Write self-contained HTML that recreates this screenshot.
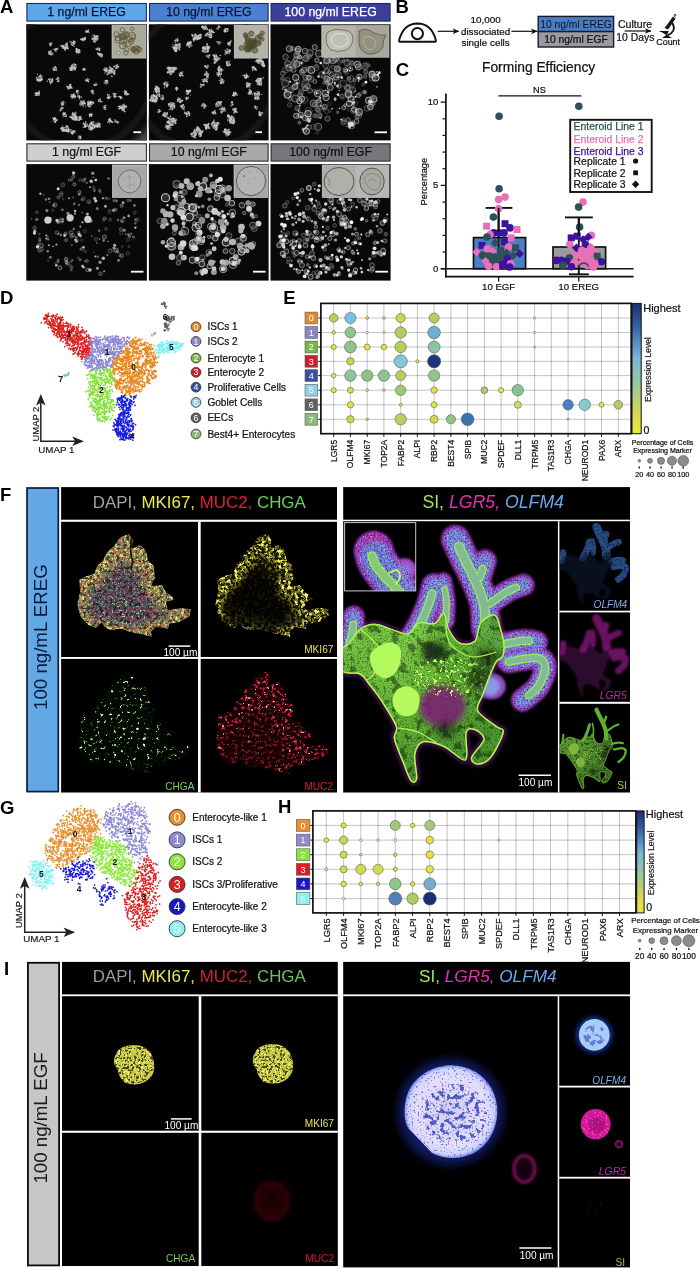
<!DOCTYPE html>
<html lang="en"><head><meta charset="utf-8"><title>Figure</title>
<style>html,body{margin:0;padding:0;background:#fff}svg{display:block;font-family:"Liberation Sans",Arial,sans-serif}</style></head>
<body>
<svg width="700" height="1268" viewBox="0 0 700 1268">
<defs>
<radialGradient id="well" cx="50%" cy="50%" r="62%"><stop offset="0" stop-color="#0b0b0b"/><stop offset=".8" stop-color="#0a0a0a"/><stop offset="1" stop-color="#050505"/></radialGradient>
<filter id="b03"><feGaussianBlur stdDeviation=".3"/></filter>
<filter id="b05"><feGaussianBlur stdDeviation=".5"/></filter>
<filter id="b08"><feGaussianBlur stdDeviation=".8"/></filter>
<filter id="b1"><feGaussianBlur stdDeviation="1"/></filter>
<filter id="b2"><feGaussianBlur stdDeviation="2"/></filter>
<filter id="b3"><feGaussianBlur stdDeviation="3"/></filter>
<filter id="b5"><feGaussianBlur stdDeviation="5"/></filter>
<filter id="mott" x="-2%" y="-2%" width="104%" height="104%" color-interpolation-filters="sRGB"><feGaussianBlur in="SourceGraphic" stdDeviation=".3" result="g"/><feTurbulence type="fractalNoise" baseFrequency=".4" numOctaves="2" seed="5" result="n"/><feColorMatrix in="n" type="matrix" values="0 0 0 0 .25  0 0 0 0 .25  0 0 0 0 .25  2.4 0 0 0 -1.05" result="s"/><feComposite in="s" in2="g" operator="in" result="d"/><feMerge><feMergeNode in="g"/><feMergeNode in="d"/></feMerge></filter>
<clipPath id="clipA0"><rect x="26.3" y="24.1" width="120.1" height="116.4"/></clipPath>
<clipPath id="clipA1"><rect x="148.6" y="24.1" width="119.5" height="116.4"/></clipPath>
<marker id="ah" viewBox="0 0 10 10" refX="9" refY="5" markerWidth="6.6" markerHeight="6.6" markerUnits="userSpaceOnUse" orient="auto"><path d="M0 0.6 L10 5 L0 9.4 L2.6 5Z" fill="#111"/></marker>
<linearGradient id="cbar" x1="0" y1="0" x2="0" y2="1"><stop offset="0" stop-color="#1b2f6e"/><stop offset=".2" stop-color="#3a68ad"/><stop offset=".42" stop-color="#78b8d6"/><stop offset=".62" stop-color="#9ac7a0"/><stop offset=".82" stop-color="#cdd75a"/><stop offset="1" stop-color="#f6e634"/></linearGradient>
<path id="tisF" d="M120 537 L129 534 L133 540 L132 548 L140 545 L146 550 L148 560 L154 566 L155 578 L151 586 L162 585 L166 592 L172 596 L174 600 L166 602 L168 610 L180 608 L191 609 L190 616 L180 622 L169 624 L168 629 L156 627 L151 632 L152 637 L144 635 L130 632 L122 629 L110 630 L104 627 L102 622 L96 628 L88 625 L80 616 L77 604 L80 592 L79 580 L86 576 L94 574 L97 566 L103 560 L107 552 L114 546Z" stroke-linejoin="round"/>
<clipPath id="clipTis"><use href="#tisF"/></clipPath>
<filter id="spY" x="-6%" y="-6%" width="112%" height="112%" color-interpolation-filters="sRGB"><feTurbulence type="fractalNoise" baseFrequency="0.33" numOctaves="3" seed="3" result="n"/><feColorMatrix in="n" type="matrix" values="0 0 0 0 0.886  0 0 0 0 0.855  0 0 0 0 0.431  14 0 0 0 -7.77" result="s"/><feComposite in="s" in2="SourceGraphic" operator="in"/></filter>
<filter id="spYm" x="-6%" y="-6%" width="112%" height="112%" color-interpolation-filters="sRGB"><feTurbulence type="fractalNoise" baseFrequency="0.3" numOctaves="3" seed="3" result="n"/><feColorMatrix in="n" type="matrix" values="0 0 0 0 0.804  0 0 0 0 0.784  0 0 0 0 0.243  14 0 0 0 -7.56" result="s"/><feComposite in="s" in2="SourceGraphic" operator="in"/></filter>
<filter id="spYhi" x="-6%" y="-6%" width="112%" height="112%" color-interpolation-filters="sRGB"><feTurbulence type="fractalNoise" baseFrequency="0.3" numOctaves="3" seed="3" result="n"/><feColorMatrix in="n" type="matrix" values="0 0 0 0 0.980  0 0 0 0 0.980  0 0 0 0 0.588  14 0 0 0 -9.24" result="s"/><feComposite in="s" in2="SourceGraphic" operator="in"/></filter>
<filter id="spYd" x="-6%" y="-6%" width="112%" height="112%" color-interpolation-filters="sRGB"><feTurbulence type="fractalNoise" baseFrequency="0.3" numOctaves="3" seed="8" result="n"/><feColorMatrix in="n" type="matrix" values="0 0 0 0 0.471  0 0 0 0 0.455  0 0 0 0 0.118  0 14 0 0 -7.00" result="s"/><feComposite in="s" in2="SourceGraphic" operator="in"/></filter>
<filter id="spYs" x="-6%" y="-6%" width="112%" height="112%" color-interpolation-filters="sRGB"><feTurbulence type="fractalNoise" baseFrequency="0.3" numOctaves="3" seed="28" result="n"/><feColorMatrix in="n" type="matrix" values="0 0 0 0 0.431  0 0 0 0 0.416  0 0 0 0 0.110  0 0 14 0 -8.40" result="s"/><feComposite in="s" in2="SourceGraphic" operator="in"/></filter>
<filter id="spR" x="-6%" y="-6%" width="112%" height="112%" color-interpolation-filters="sRGB"><feTurbulence type="fractalNoise" baseFrequency="0.4" numOctaves="3" seed="5" result="n"/><feColorMatrix in="n" type="matrix" values="0 0 0 0 0.784  0 0 0 0 0.157  0 0 0 0 0.196  0 14 0 0 -8.47" result="s"/><feComposite in="s" in2="SourceGraphic" operator="in"/></filter>
<filter id="spRm" x="-6%" y="-6%" width="112%" height="112%" color-interpolation-filters="sRGB"><feTurbulence type="fractalNoise" baseFrequency="0.3" numOctaves="3" seed="15" result="n"/><feColorMatrix in="n" type="matrix" values="0 0 0 0 0.769  0 0 0 0 0.125  0 0 0 0 0.180  0 0 14 0 -8.51" result="s"/><feComposite in="s" in2="SourceGraphic" operator="in"/></filter>
<filter id="spRd" x="-6%" y="-6%" width="112%" height="112%" color-interpolation-filters="sRGB"><feTurbulence type="fractalNoise" baseFrequency="0.3" numOctaves="3" seed="15" result="n"/><feColorMatrix in="n" type="matrix" values="0 0 0 0 0.471  0 0 0 0 0.055  0 0 0 0 0.102  0 0 14 0 -7.49" result="s"/><feComposite in="s" in2="SourceGraphic" operator="in"/></filter>
<filter id="spRp" x="-6%" y="-6%" width="112%" height="112%" color-interpolation-filters="sRGB"><feTurbulence type="fractalNoise" baseFrequency="0.32" numOctaves="3" seed="15" result="n"/><feColorMatrix in="n" type="matrix" values="0 0 0 0 1.000  0 0 0 0 0.745  0 0 0 0 0.765  0 0 14 0 -9.80" result="s"/><feComposite in="s" in2="SourceGraphic" operator="in"/></filter>
<filter id="spG" x="-6%" y="-6%" width="112%" height="112%" color-interpolation-filters="sRGB"><feTurbulence type="fractalNoise" baseFrequency="0.3" numOctaves="3" seed="9" result="n"/><feColorMatrix in="n" type="matrix" values="0 0 0 0 0.275  0 0 0 0 0.549  0 0 0 0 0.173  0 0 14 0 -8.82" result="s"/><feComposite in="s" in2="SourceGraphic" operator="in"/></filter>
<filter id="spGs" x="-6%" y="-6%" width="112%" height="112%" color-interpolation-filters="sRGB"><feTurbulence type="fractalNoise" baseFrequency="0.3" numOctaves="3" seed="9" result="n"/><feColorMatrix in="n" type="matrix" values="0 0 0 0 0.588  0 0 0 0 0.941  0 0 0 0 0.392  0 0 14 0 -9.66" result="s"/><feComposite in="s" in2="SourceGraphic" operator="in"/></filter>
<filter id="spGw" x="-6%" y="-6%" width="112%" height="112%" color-interpolation-filters="sRGB"><feTurbulence type="fractalNoise" baseFrequency="0.3" numOctaves="3" seed="9" result="n"/><feColorMatrix in="n" type="matrix" values="0 0 0 0 0.922  0 0 0 0 1.000  0 0 0 0 0.882  0 0 14 0 -10.43" result="s"/><feComposite in="s" in2="SourceGraphic" operator="in"/></filter>
<filter id="spGc" x="-6%" y="-6%" width="112%" height="112%" color-interpolation-filters="sRGB"><feTurbulence type="fractalNoise" baseFrequency="0.32" numOctaves="3" seed="21" result="n"/><feColorMatrix in="n" type="matrix" values="0 0 0 0 0.510  0 0 0 0 0.902  0 0 0 0 0.353  0 14 0 0 -9.80" result="s"/><feComposite in="s" in2="SourceGraphic" operator="in"/></filter>
<filter id="spW" x="-6%" y="-6%" width="112%" height="112%" color-interpolation-filters="sRGB"><feTurbulence type="fractalNoise" baseFrequency="0.5" numOctaves="3" seed="12" result="n"/><feColorMatrix in="n" type="matrix" values="0 0 0 0 0.922  0 0 0 0 0.922  0 0 0 0 0.843  14 0 0 0 -9.38" result="s"/><feComposite in="s" in2="SourceGraphic" operator="in"/></filter>
<filter id="spGray" x="-6%" y="-6%" width="112%" height="112%" color-interpolation-filters="sRGB"><feTurbulence type="fractalNoise" baseFrequency="0.5" numOctaves="3" seed="2" result="n"/><feColorMatrix in="n" type="matrix" values="0 0 0 0 0.588  0 0 0 0 0.588  0 0 0 0 0.659  0 0 14 0 -7.70" result="s"/><feComposite in="s" in2="SourceGraphic" operator="in"/></filter>
<filter id="spDark" x="-6%" y="-6%" width="112%" height="112%" color-interpolation-filters="sRGB"><feTurbulence type="fractalNoise" baseFrequency="0.3" numOctaves="3" seed="4" result="n"/><feColorMatrix in="n" type="matrix" values="0 0 0 0 0.000  0 0 0 0 0.000  0 0 0 0 0.000  0 14 0 0 -7.84" result="s"/><feComposite in="s" in2="SourceGraphic" operator="in"/></filter>
<path id="coreF" d="M118.7 562.3 L125.3 560.3 L128.3 564.2 L127.5 569.5 L133.5 567.5 L137.9 570.8 L139.4 577.4 L143.8 581.4 L144.6 589.3 L141.6 594.6 L149.7 593.9 L152.7 598.6 L157.1 601.2 L158.6 603.8 L152.7 605.2 L154.2 610.4 L163.1 609.1 L171.2 609.8 L170.5 614.4 L163.1 618.4 L154.9 619.7 L154.2 623 L145.3 621.7 L141.6 625 L142.3 628.3 L136.4 626.9 L126.1 625 L120.1 623 L111.3 623.6 L106.8 621.7 L105.3 618.4 L100.9 622.3 L95 620.3 L89.1 614.4 L86.8 606.5 L89.1 598.6 L88.3 590.6 L93.5 588 L99.4 586.7 L101.6 581.4 L106.1 577.4 L109 572.2 L114.2 568.2Z"/>
<filter id="o05" filterUnits="userSpaceOnUse" x="338" y="517" width="226" height="280"><feGaussianBlur stdDeviation="0.5"/></filter>
<filter id="o1" filterUnits="userSpaceOnUse" x="338" y="517" width="226" height="280"><feGaussianBlur stdDeviation="1"/></filter>
<filter id="o15" filterUnits="userSpaceOnUse" x="338" y="517" width="226" height="280"><feGaussianBlur stdDeviation="1.5"/></filter>
<filter id="o2" filterUnits="userSpaceOnUse" x="338" y="517" width="226" height="280"><feGaussianBlur stdDeviation="2"/></filter>
<filter id="o3" filterUnits="userSpaceOnUse" x="338" y="517" width="226" height="280"><feGaussianBlur stdDeviation="3"/></filter>
<filter id="o4" filterUnits="userSpaceOnUse" x="338" y="517" width="226" height="280"><feGaussianBlur stdDeviation="4"/></filter>
<path id="fgA" d="M455.6 539.5C457 542.6 460.8 550.8 464.2 558C467.7 565.2 473 575 476.3 582.7C479.6 590.4 482.4 596.9 484 604.3C485.5 611.8 485.3 623.6 485.5 627.5" fill="none" stroke-linecap="round" stroke-linejoin="round"/>
<path id="fgAk" d="M485.2 561.1C484.3 563.8 480.8 574.5 480 577.2" fill="none" stroke-linecap="round" stroke-linejoin="round"/>
<path id="fgC" d="M523.5 584.9C521 585.9 514.3 587.6 508.7 590.8C503 593.9 492.7 601.6 489.5 603.7" fill="none" stroke-linecap="round" stroke-linejoin="round"/>
<path id="fgB" d="M434 585.8C433.2 588.6 431.4 596.9 429.3 602.8C427.3 608.7 424.2 616 421.6 621.3C419.1 626.6 415.5 632.4 414.2 634.6" fill="none" stroke-linecap="round" stroke-linejoin="round"/>
<path id="fgB2" d="M443.2 581.5C443.7 584.8 445.9 594.8 446.3 601.2C446.7 607.7 445.8 617.2 445.7 620.4" fill="none" stroke-linecap="round" stroke-linejoin="round"/>
<path id="fgF" d="M353.7 616.7C353.6 618.7 353.5 624.5 352.8 629C352.1 633.6 350 641.4 349.4 643.8" fill="none" stroke-linecap="round" stroke-linejoin="round"/>
<path id="fgD" d="M536.4 642.3C534.4 642 529.8 640.4 524.1 640.8C518.4 641.1 506.1 643.8 502.5 644.5" fill="none" stroke-linecap="round" stroke-linejoin="round"/>
<path id="fgE" d="M522.6 700.2C525.2 697.9 534.5 691.9 538.3 686.3C542.1 680.7 545.4 671.3 545.1 666.5C544.8 661.8 542.5 658.7 536.4 657.9C530.4 657.1 513.3 661 508.7 661.6" fill="none" stroke-linecap="round" stroke-linejoin="round"/>
<path id="orgBody" d="M342 649.1C343 644.7 345.1 647.8 348.2 644.5C351.3 641.1 355.9 632.4 360.5 629C365.1 625.7 370.3 624.1 376 624.4C381.6 624.7 389.1 629 394.5 630.6C399.9 632.1 404.2 634.9 408.4 633.7C412.5 632.4 414.8 624.5 419.2 622.9C423.5 621.2 430.5 625 434.6 623.5C438.7 621.9 441.5 612.7 443.9 613.6C446.2 614.5 445.9 624.1 448.5 629C451.1 633.9 454.9 640.9 459.3 642.9C463.7 645 471.1 644.7 474.7 641.4C478.3 638 477.5 627.2 480.9 622.9C484.2 618.5 491.4 613.8 494.8 615.1C498.1 616.4 499.4 625.4 501 630.6C502.5 635.7 503.8 641.6 504 646C504.3 650.4 503.8 654.2 502.5 656.8C501.2 659.4 498.6 658 496.3 661.6C494 665.2 490.9 672.9 488.6 678.6C486.3 684.2 484.2 690.2 482.4 695.6C480.6 701 475.5 705.8 477.8 711C480.1 716.1 492.1 722.8 496.3 726.4C500.5 730 504 727.4 503.1 732.6C502.2 737.7 495 752 490.8 757.3C486.5 762.5 481 764.1 477.8 764.1C474.6 764.1 470.6 761.4 471.6 757.3C472.7 753.2 483.5 744 484 739.4C484.5 734.8 477.7 730.6 474.7 729.5C471.7 728.4 467.6 727.6 466.1 732.6C464.5 737.6 469.2 757.4 465.5 759.8C461.8 762.1 451 749.5 443.9 746.5C436.8 743.5 427.7 740.6 422.9 741.9C418 743.1 415.9 748.1 414.8 754.2C413.8 760.3 417.3 773.8 416.7 778.3C416.1 782.7 413.3 783.2 411.1 780.7C409 778.3 406.5 770.5 403.7 763.5C401 756.5 395.7 744.9 394.5 738.8C393.2 732.6 398.4 732.6 396.3 726.4C394.3 720.2 386.5 708.6 382.1 701.7C377.7 694.8 373.5 689.7 369.8 685.1C366.1 680.4 364.5 676.3 359.9 674C355.3 671.6 345 675 342 670.9C339 666.7 341 653.5 342 649.1Z" stroke-linejoin="round"/>
<g id="orgBlobs"><path d="M371.3 652.3C373.9 647.9 383.4 643 388.3 642.5C393.2 642 399.1 644.8 400.6 649.3C402.2 653.7 400.1 664.4 397.6 669.3C395 674.2 389.3 678.6 385.2 678.6C381.1 678.6 375.2 673.7 372.9 669.3C370.5 664.9 368.7 656.8 371.3 652.3Z"/><path d="M396 690.9C398.6 687.8 404.5 685.5 408.4 686.3C412.2 687.1 417.9 691.2 419.2 695.6C420.4 699.9 418.9 709.2 416.1 712.5C413.2 715.9 406 716.9 402.2 715.6C398.3 714.3 394 708.9 392.9 704.8C391.9 700.7 393.4 694 396 690.9Z"/></g>
<clipPath id="clipFmain"><rect x="343.2" y="521.2" width="214.7" height="271.3"/></clipPath>
<clipPath id="clipBody"><use href="#orgBody"/></clipPath>
<radialGradient id="bodyG" gradientUnits="userSpaceOnUse" cx="392" cy="655" r="120"><stop offset="0" stop-color="#8adf48"/><stop offset=".45" stop-color="#6fc838"/><stop offset="1" stop-color="#55a52e"/></radialGradient>
<filter id="spGb" filterUnits="userSpaceOnUse" x="338" y="517" width="226" height="280" color-interpolation-filters="sRGB"><feTurbulence type="fractalNoise" baseFrequency="0.3" numOctaves="3" seed="31" result="n"/><feColorMatrix in="n" type="matrix" values="0 0 0 0 0.784  0 0 0 0 1.000  0 0 0 0 0.431  14 0 0 0 -8.40" result="s"/><feComposite in="s" in2="SourceGraphic" operator="in"/></filter>
<filter id="spTex" filterUnits="userSpaceOnUse" x="338" y="517" width="226" height="280" color-interpolation-filters="sRGB"><feTurbulence type="fractalNoise" baseFrequency="0.7" numOctaves="3" seed="17" result="n"/><feColorMatrix in="n" type="matrix" values="0 0 0 0 0.039  0 0 0 0 0.000  0 0 0 0 0.196  6 0 0 0 -3.18" result="s"/><feComposite in="s" in2="SourceGraphic" operator="in"/></filter>
<filter id="spLite" filterUnits="userSpaceOnUse" x="338" y="517" width="226" height="280" color-interpolation-filters="sRGB"><feTurbulence type="fractalNoise" baseFrequency="0.55" numOctaves="3" seed="19" result="n"/><feColorMatrix in="n" type="matrix" values="0 0 0 0 0.784  0 0 0 0 0.804  0 0 0 0 1.000  0 8 0 0 -4.48" result="s"/><feComposite in="s" in2="SourceGraphic" operator="in"/></filter>
<filter id="spDk2" filterUnits="userSpaceOnUse" x="338" y="517" width="226" height="280" color-interpolation-filters="sRGB"><feTurbulence type="fractalNoise" baseFrequency="0.12" numOctaves="3" seed="23" result="n"/><feColorMatrix in="n" type="matrix" values="0 0 0 0 0.000  0 0 0 0 0.039  0 0 0 0 0.000  0 0 8 0 -4.40" result="s"/><feComposite in="s" in2="SourceGraphic" operator="in"/></filter>
<clipPath id="clipFin"><rect x="344.6" y="522.6" width="71.1" height="68.3"/></clipPath>
<clipPath id="clipFs0"><rect x="559.4" y="521.2" width="70.6" height="89.5"/></clipPath>
<clipPath id="clipFs1"><rect x="559.4" y="612.4" width="70.6" height="89.4"/></clipPath>
<clipPath id="clipFs2"><rect x="559.4" y="703.8" width="70.6" height="88.7"/></clipPath>
<filter id="spK" x="-6%" y="-6%" width="112%" height="112%" color-interpolation-filters="sRGB"><feTurbulence type="fractalNoise" baseFrequency="0.45" numOctaves="3" seed="41" result="n"/><feColorMatrix in="n" type="matrix" values="0 0 0 0 0.094  0 0 0 0 0.094  0 0 0 0 0.000  10 0 0 0 -5.30" result="s"/><feComposite in="s" in2="SourceGraphic" operator="in"/></filter>
<filter id="spYb" x="-6%" y="-6%" width="112%" height="112%" color-interpolation-filters="sRGB"><feTurbulence type="fractalNoise" baseFrequency="0.5" numOctaves="3" seed="43" result="n"/><feColorMatrix in="n" type="matrix" values="0 0 0 0 1.000  0 0 0 0 1.000  0 0 0 0 0.588  0 10 0 0 -5.70" result="s"/><feComposite in="s" in2="SourceGraphic" operator="in"/></filter>
<path id="blobI" d="M-15 -13 Q-6 -20 6 -17 Q17 -13 18 0 Q19 11 9 16 Q0 20 -9 16 Q-14 12 -15 5 Q-20 0 -18 -7Z"/>
<filter id="spBlue" x="-6%" y="-6%" width="112%" height="112%" color-interpolation-filters="sRGB"><feTurbulence type="fractalNoise" baseFrequency="0.2" numOctaves="3" seed="51" result="n"/><feColorMatrix in="n" type="matrix" values="0 0 0 0 0.251  0 0 0 0 0.329  0 0 0 0 0.745  10 0 0 0 -5.35" result="s"/><feComposite in="s" in2="SourceGraphic" operator="in"/></filter>
<filter id="spBlueS" x="-6%" y="-6%" width="112%" height="112%" color-interpolation-filters="sRGB"><feTurbulence type="fractalNoise" baseFrequency="0.2" numOctaves="3" seed="51" result="n"/><feColorMatrix in="n" type="matrix" values="0 0 0 0 0.275  0 0 0 0 0.353  0 0 0 0 0.784  10 0 0 0 -5.00" result="s"/><feComposite in="s" in2="SourceGraphic" operator="in"/></filter>
<filter id="spBlue2" x="-6%" y="-6%" width="112%" height="112%" color-interpolation-filters="sRGB"><feTurbulence type="fractalNoise" baseFrequency="0.5" numOctaves="3" seed="57" result="n"/><feColorMatrix in="n" type="matrix" values="0 0 0 0 0.157  0 0 0 0 0.235  0 0 0 0 0.667  0 9 0 0 -5.40" result="s"/><feComposite in="s" in2="SourceGraphic" operator="in"/></filter>
<radialGradient id="sphG" cx="50%" cy="50%" r="50%"><stop offset="0" stop-color="#d4cef8"/><stop offset=".75" stop-color="#e6defe"/><stop offset=".93" stop-color="#cfd2ff"/><stop offset="1" stop-color="#7f8fe8"/></radialGradient>
<path id="sphI" d="M404.6 1110 Q405 1084 428 1071 Q452 1059 476 1072 Q497 1086 497.4 1112 Q496 1140 474 1153 Q452 1163 432 1153 Q420 1140 408 1128 Q404 1120 404.6 1110Z"/>
<filter id="spMag" x="-6%" y="-6%" width="112%" height="112%" color-interpolation-filters="sRGB"><feTurbulence type="fractalNoise" baseFrequency="0.5" numOctaves="3" seed="61" result="n"/><feColorMatrix in="n" type="matrix" values="0 0 0 0 0.980  0 0 0 0 0.353  0 0 0 0 0.784  9 0 0 0 -5.04" result="s"/><feComposite in="s" in2="SourceGraphic" operator="in"/></filter>
</defs>
<rect width="700" height="1268" fill="#fff"/>
<g id="panelA">
<text x="0" y="13.3" font-size="18.5" fill="#000" font-weight="bold">A</text>
<rect x="26.9" y="3.5" width="119.5" height="17.6" fill="#5ea6ea" stroke="#1c2a55" stroke-width="1.1"/>
<text x="86.6" y="16.4" font-size="12.3" fill="#0b1430" text-anchor="middle" stroke="#0b1430" stroke-width=".25">1 ng/ml EREG</text>
<rect x="26.9" y="143.8" width="119.5" height="17.3" fill="#cfcfcf" stroke="#2c2c2c" stroke-width="1.1"/>
<text x="86.6" y="156.3" font-size="12.3" fill="#111" text-anchor="middle" stroke="#111" stroke-width=".22">1 ng/ml EGF</text>
<rect x="149.5" y="3.5" width="118.6" height="17.6" fill="#4a80cf" stroke="#1c2a55" stroke-width="1.1"/>
<text x="208.8" y="16.4" font-size="12.3" fill="#0b1430" text-anchor="middle" stroke="#0b1430" stroke-width=".25">10 ng/ml EREG</text>
<rect x="149.5" y="143.8" width="118.6" height="17.3" fill="#a9a9ab" stroke="#2c2c2c" stroke-width="1.1"/>
<text x="208.8" y="156.3" font-size="12.3" fill="#111" text-anchor="middle" stroke="#111" stroke-width=".22">10 ng/ml EGF</text>
<rect x="271.1" y="3.5" width="119" height="17.6" fill="#3a3f9a" stroke="#1c2a55" stroke-width="1.1"/>
<text x="330.6" y="16.4" font-size="12.3" fill="#fff" text-anchor="middle" stroke="#fff" stroke-width=".25">100 ng/ml EREG</text>
<rect x="271.1" y="143.8" width="119" height="17.3" fill="#77777b" stroke="#2c2c2c" stroke-width="1.1"/>
<text x="330.6" y="156.3" font-size="12.3" fill="#111" text-anchor="middle" stroke="#111" stroke-width=".22">100 ng/ml EGF</text>
<rect x="26.3" y="24.3" width="120.6" height="116.1" fill="#090909"/>
<rect x="26.3" y="164.1" width="120.6" height="116.5" fill="#090909"/>
<rect x="148.9" y="24.3" width="119.7" height="116.1" fill="#090909"/>
<rect x="148.9" y="164.1" width="119.7" height="116.5" fill="#090909"/>
<rect x="270.5" y="24.3" width="120.1" height="116.1" fill="#090909"/>
<rect x="270.5" y="164.1" width="120.1" height="116.5" fill="#090909"/>
<g clip-path="url(#clipA0)"><circle cx="80" cy="76" r="72" fill="none" stroke="#1d1d1d" stroke-width="5" filter="url(#b2)"/><circle cx="76" cy="72" r="98" fill="none" stroke="#4a4a4a" stroke-width="16" filter="url(#b3)"/></g>
<g clip-path="url(#clipA1)"><circle cx="204" cy="80" r="70" fill="none" stroke="#1b1b1b" stroke-width="5" filter="url(#b2)"/></g>
<g fill="#c6c6c6" filter="url(#mott)">
<ellipse cx="87.1" cy="31.3" rx="1.86" ry="0.69" transform="rotate(27 87.1 31.3)"/><ellipse cx="87" cy="31.5" rx="1.76" ry="0.55" transform="rotate(10 87 31.5)"/><ellipse cx="86.1" cy="32.1" rx="1.43" ry="0.62" transform="rotate(16 86.1 32.1)"/><ellipse cx="88" cy="31.2" rx="1.72" ry="0.98" transform="rotate(112 88 31.2)"/><circle cx="89.5" cy="32.2" r="0.52"/><circle cx="88.2" cy="32.7" r="0.52"/>
<ellipse cx="95.9" cy="40" rx="3.52" ry="1.24" transform="rotate(146 95.9 40)"/><ellipse cx="95.6" cy="38.7" rx="2.70" ry="1.50" transform="rotate(98 95.6 38.7)"/><ellipse cx="94.6" cy="40" rx="3.17" ry="1.18" transform="rotate(76 94.6 40)"/><ellipse cx="94.9" cy="37.7" rx="3.40" ry="1.37" transform="rotate(142 94.9 37.7)"/><ellipse cx="95.1" cy="37.6" rx="4.16" ry="1.02" transform="rotate(157 95.1 37.6)"/><ellipse cx="95.2" cy="37.9" rx="3.23" ry="0.96" transform="rotate(75 95.2 37.9)"/><circle cx="93.2" cy="35" r="0.63"/><circle cx="97.5" cy="36.3" r="0.68"/><circle cx="92.1" cy="36.5" r="0.58"/>
<ellipse cx="81.9" cy="39.3" rx="1.69" ry="1.05" transform="rotate(170 81.9 39.3)"/><ellipse cx="84.7" cy="39.1" rx="1.98" ry="0.87" transform="rotate(116 84.7 39.1)"/><ellipse cx="84" cy="39.3" rx="1.83" ry="0.71" transform="rotate(120 84 39.3)"/><ellipse cx="83.2" cy="38.7" rx="1.93" ry="0.87" transform="rotate(10 83.2 38.7)"/><ellipse cx="83.9" cy="39.6" rx="2.33" ry="1.16" transform="rotate(156 83.9 39.6)"/><ellipse cx="83.6" cy="38.6" rx="2.15" ry="0.85" transform="rotate(147 83.6 38.6)"/><circle cx="85.5" cy="37" r="0.46"/><circle cx="84.1" cy="41" r="0.49"/><circle cx="80.5" cy="39.4" r="0.51"/>
<ellipse cx="50.1" cy="44.7" rx="1.96" ry="0.72" transform="rotate(75 50.1 44.7)"/><ellipse cx="50" cy="43.6" rx="1.15" ry="0.80" transform="rotate(92 50 43.6)"/><ellipse cx="51.3" cy="43.4" rx="1.46" ry="0.60" transform="rotate(140 51.3 43.4)"/><ellipse cx="50.5" cy="44" rx="1.16" ry="0.52" transform="rotate(18 50.5 44)"/><circle cx="51.4" cy="45.5" r="0.42"/><circle cx="52" cy="44.1" r="0.44"/>
<ellipse cx="66.9" cy="46.4" rx="3.47" ry="1.05" transform="rotate(65 66.9 46.4)"/><ellipse cx="63.9" cy="46.9" rx="2.54" ry="1.64" transform="rotate(45 63.9 46.9)"/><ellipse cx="63.2" cy="46.3" rx="2.47" ry="1.01" transform="rotate(178 63.2 46.3)"/><ellipse cx="64.4" cy="48.2" rx="2.62" ry="0.94" transform="rotate(61 64.4 48.2)"/><ellipse cx="63.9" cy="45.9" rx="3.34" ry="0.95" transform="rotate(171 63.9 45.9)"/><ellipse cx="66.9" cy="45.7" rx="3.63" ry="1.14" transform="rotate(95 66.9 45.7)"/><circle cx="62.6" cy="48.1" r="0.71"/><circle cx="60.5" cy="45.2" r="0.53"/><circle cx="65.3" cy="50.2" r="0.79"/>
<ellipse cx="73.5" cy="42.5" rx="1.92" ry="0.95" transform="rotate(145 73.5 42.5)"/><ellipse cx="73.1" cy="43.8" rx="1.99" ry="0.80" transform="rotate(64 73.1 43.8)"/><ellipse cx="73.8" cy="43.5" rx="2.85" ry="1.23" transform="rotate(124 73.8 43.5)"/><ellipse cx="72.5" cy="44.2" rx="1.92" ry="0.76" transform="rotate(171 72.5 44.2)"/><ellipse cx="71.7" cy="42.5" rx="2.73" ry="0.93" transform="rotate(36 71.7 42.5)"/><ellipse cx="73" cy="43.4" rx="2.49" ry="1.18" transform="rotate(117 73 43.4)"/><circle cx="73.5" cy="41" r="0.59"/><circle cx="74.2" cy="46.4" r="0.53"/><circle cx="73.9" cy="40.7" r="0.56"/>
<ellipse cx="56.1" cy="49.3" rx="1.48" ry="0.61" transform="rotate(170 56.1 49.3)"/><ellipse cx="56.3" cy="49.4" rx="2.25" ry="1.02" transform="rotate(162 56.3 49.4)"/><ellipse cx="55.7" cy="50.4" rx="1.49" ry="0.54" transform="rotate(118 55.7 50.4)"/><ellipse cx="55.7" cy="49" rx="2.37" ry="0.75" transform="rotate(174 55.7 49)"/><circle cx="57.9" cy="47.9" r="0.48"/><circle cx="56.2" cy="51.5" r="0.50"/>
<ellipse cx="50.3" cy="53.6" rx="2.54" ry="0.77" transform="rotate(46 50.3 53.6)"/><ellipse cx="49.3" cy="52.6" rx="1.96" ry="1.07" transform="rotate(82 49.3 52.6)"/><ellipse cx="49.8" cy="53.2" rx="1.48" ry="0.81" transform="rotate(90 49.8 53.2)"/><ellipse cx="52" cy="53.5" rx="1.66" ry="0.83" transform="rotate(32 52 53.5)"/><ellipse cx="50" cy="53.2" rx="2.07" ry="0.88" transform="rotate(130 50 53.2)"/><ellipse cx="51.4" cy="54" rx="1.75" ry="0.73" transform="rotate(141 51.4 54)"/><circle cx="51" cy="51.2" r="0.62"/><circle cx="50.8" cy="50.6" r="0.58"/><circle cx="48.9" cy="52" r="0.60"/>
<ellipse cx="76.7" cy="50.5" rx="2.69" ry="0.99" transform="rotate(81 76.7 50.5)"/><ellipse cx="78.1" cy="50.4" rx="2.21" ry="1.13" transform="rotate(157 78.1 50.4)"/><ellipse cx="77.8" cy="50.9" rx="2.07" ry="0.65" transform="rotate(151 77.8 50.9)"/><ellipse cx="78.6" cy="51.2" rx="2.49" ry="1.10" transform="rotate(43 78.6 51.2)"/><ellipse cx="77.3" cy="49.5" rx="1.70" ry="1.10" transform="rotate(27 77.3 49.5)"/><ellipse cx="77.9" cy="52.5" rx="2.01" ry="0.88" transform="rotate(174 77.9 52.5)"/><circle cx="80.4" cy="50.5" r="0.46"/><circle cx="75.4" cy="51.6" r="0.54"/><circle cx="78.3" cy="52.6" r="0.69"/>
<ellipse cx="97.9" cy="48.8" rx="1.41" ry="0.70" transform="rotate(99 97.9 48.8)"/><ellipse cx="99.5" cy="49.4" rx="1.83" ry="0.84" transform="rotate(92 99.5 49.4)"/><ellipse cx="98" cy="48.9" rx="1.82" ry="0.55" transform="rotate(18 98 48.9)"/><ellipse cx="96.9" cy="49.4" rx="1.86" ry="0.55" transform="rotate(23 96.9 49.4)"/><circle cx="99.3" cy="50.5" r="0.63"/><circle cx="97.6" cy="47.5" r="0.42"/>
<ellipse cx="101.5" cy="55.2" rx="2.30" ry="1.05" transform="rotate(76 101.5 55.2)"/><ellipse cx="100" cy="54.1" rx="2.59" ry="0.86" transform="rotate(15 100 54.1)"/><ellipse cx="98.2" cy="53.8" rx="1.85" ry="0.68" transform="rotate(61 98.2 53.8)"/><ellipse cx="99.9" cy="54.7" rx="1.72" ry="0.63" transform="rotate(94 99.9 54.7)"/><ellipse cx="99.6" cy="55" rx="2.46" ry="0.77" transform="rotate(36 99.6 55)"/><ellipse cx="100.2" cy="55" rx="1.54" ry="0.74" transform="rotate(90 100.2 55)"/><circle cx="102.5" cy="54.6" r="0.62"/><circle cx="100.7" cy="56.5" r="0.77"/><circle cx="102" cy="56.1" r="0.57"/>
<ellipse cx="54.6" cy="69.2" rx="2.19" ry="1.06" transform="rotate(150 54.6 69.2)"/><ellipse cx="55.8" cy="67.7" rx="2.13" ry="0.77" transform="rotate(61 55.8 67.7)"/><ellipse cx="55.6" cy="68.8" rx="1.48" ry="0.94" transform="rotate(62 55.6 68.8)"/><ellipse cx="55.4" cy="68.9" rx="2.36" ry="1.00" transform="rotate(46 55.4 68.9)"/><ellipse cx="55.2" cy="69.2" rx="1.74" ry="0.79" transform="rotate(120 55.2 69.2)"/><ellipse cx="54.8" cy="68.8" rx="2.50" ry="1.05" transform="rotate(28 54.8 68.8)"/><circle cx="53.5" cy="68.1" r="0.79"/><circle cx="54.6" cy="70.5" r="0.40"/><circle cx="53.7" cy="70.1" r="0.60"/>
<ellipse cx="73.7" cy="67.9" rx="2.81" ry="1.00" transform="rotate(36 73.7 67.9)"/><ellipse cx="74.1" cy="68" rx="2.89" ry="1.12" transform="rotate(71 74.1 68)"/><ellipse cx="71.9" cy="67.6" rx="3.55" ry="1.53" transform="rotate(105 71.9 67.6)"/><ellipse cx="73.1" cy="68.6" rx="4.17" ry="1.05" transform="rotate(158 73.1 68.6)"/><ellipse cx="73.6" cy="67.6" rx="3.89" ry="1.67" transform="rotate(130 73.6 67.6)"/><ellipse cx="73.6" cy="65.8" rx="2.57" ry="1.36" transform="rotate(112 73.6 65.8)"/><circle cx="69.6" cy="67.8" r="0.72"/><circle cx="75.6" cy="64.6" r="0.76"/><circle cx="72.2" cy="64.3" r="0.49"/>
<ellipse cx="83.9" cy="70" rx="1.88" ry="0.67" transform="rotate(23 83.9 70)"/><ellipse cx="83.5" cy="69.2" rx="1.57" ry="0.45" transform="rotate(112 83.5 69.2)"/><ellipse cx="84.1" cy="69.1" rx="1.61" ry="0.72" transform="rotate(143 84.1 69.1)"/><ellipse cx="84" cy="69.3" rx="1.19" ry="0.56" transform="rotate(11 84 69.3)"/><circle cx="83.9" cy="68.4" r="0.70"/><circle cx="85.8" cy="69.5" r="0.55"/>
<ellipse cx="116.7" cy="65.5" rx="2.12" ry="0.60" transform="rotate(123 116.7 65.5)"/><ellipse cx="116.5" cy="67.6" rx="1.74" ry="0.84" transform="rotate(26 116.5 67.6)"/><ellipse cx="117.1" cy="66.6" rx="2.15" ry="0.91" transform="rotate(2 117.1 66.6)"/><ellipse cx="116.3" cy="67.3" rx="1.92" ry="0.79" transform="rotate(121 116.3 67.3)"/><ellipse cx="116.9" cy="66.1" rx="2.50" ry="1.03" transform="rotate(21 116.9 66.1)"/><ellipse cx="115.3" cy="66.8" rx="2.49" ry="0.78" transform="rotate(3 115.3 66.8)"/><circle cx="116.4" cy="68.2" r="0.78"/><circle cx="117.1" cy="68.6" r="0.46"/><circle cx="113.9" cy="66" r="0.45"/>
<ellipse cx="106.4" cy="69.3" rx="1.90" ry="1.16" transform="rotate(91 106.4 69.3)"/><ellipse cx="105.5" cy="70.1" rx="2.24" ry="0.90" transform="rotate(87 105.5 70.1)"/><ellipse cx="105.9" cy="70.7" rx="2.01" ry="1.13" transform="rotate(54 105.9 70.7)"/><ellipse cx="105.4" cy="68.6" rx="1.75" ry="1.18" transform="rotate(0 105.4 68.6)"/><ellipse cx="106" cy="69.7" rx="2.08" ry="0.87" transform="rotate(128 106 69.7)"/><ellipse cx="104.8" cy="69.7" rx="2.16" ry="0.80" transform="rotate(179 104.8 69.7)"/><circle cx="107.2" cy="70.7" r="0.73"/><circle cx="104.7" cy="73.2" r="0.50"/><circle cx="105.2" cy="72.6" r="0.48"/>
<ellipse cx="113.3" cy="71.3" rx="3.84" ry="1.45" transform="rotate(67 113.3 71.3)"/><ellipse cx="112.4" cy="71.5" rx="3.67" ry="0.97" transform="rotate(164 112.4 71.5)"/><ellipse cx="109.1" cy="72.6" rx="3.53" ry="1.16" transform="rotate(131 109.1 72.6)"/><ellipse cx="111.5" cy="71.7" rx="3.20" ry="1.21" transform="rotate(8 111.5 71.7)"/><ellipse cx="110.8" cy="68.8" rx="2.80" ry="1.48" transform="rotate(53 110.8 68.8)"/><ellipse cx="109.9" cy="71.6" rx="2.63" ry="1.06" transform="rotate(54 109.9 71.6)"/><circle cx="112.2" cy="76.3" r="0.60"/><circle cx="111.8" cy="76.3" r="0.80"/><circle cx="108.3" cy="72.9" r="0.48"/>
<ellipse cx="38.3" cy="78.9" rx="2.76" ry="1.14" transform="rotate(16 38.3 78.9)"/><ellipse cx="40.1" cy="77.2" rx="3.09" ry="1.27" transform="rotate(102 40.1 77.2)"/><ellipse cx="37.8" cy="79.2" rx="2.43" ry="1.16" transform="rotate(94 37.8 79.2)"/><ellipse cx="39.5" cy="79.5" rx="3.50" ry="1.65" transform="rotate(174 39.5 79.5)"/><ellipse cx="38.5" cy="79.4" rx="3.07" ry="1.30" transform="rotate(38 38.5 79.4)"/><ellipse cx="40" cy="76.6" rx="2.35" ry="0.95" transform="rotate(171 40 76.6)"/><circle cx="37.5" cy="74.2" r="0.59"/><circle cx="36.4" cy="77.2" r="0.56"/><circle cx="42.4" cy="76.6" r="0.74"/>
<ellipse cx="51" cy="80.7" rx="2.41" ry="1.09" transform="rotate(44 51 80.7)"/><ellipse cx="50.4" cy="79.1" rx="2.74" ry="0.96" transform="rotate(169 50.4 79.1)"/><ellipse cx="52.1" cy="80.7" rx="2.01" ry="1.24" transform="rotate(99 52.1 80.7)"/><ellipse cx="50.5" cy="80.8" rx="2.04" ry="1.07" transform="rotate(116 50.5 80.8)"/><ellipse cx="50.9" cy="80.6" rx="2.41" ry="1.03" transform="rotate(125 50.9 80.6)"/><ellipse cx="50.8" cy="81.5" rx="1.70" ry="0.86" transform="rotate(69 50.8 81.5)"/><circle cx="47.4" cy="81.2" r="0.66"/><circle cx="52.6" cy="78.6" r="0.49"/><circle cx="50.7" cy="83.7" r="0.68"/>
<ellipse cx="57.1" cy="79.1" rx="1.73" ry="0.63" transform="rotate(3 57.1 79.1)"/><ellipse cx="58.5" cy="78.8" rx="1.32" ry="0.67" transform="rotate(120 58.5 78.8)"/><ellipse cx="57.9" cy="78.7" rx="2.12" ry="0.86" transform="rotate(75 57.9 78.7)"/><ellipse cx="58.5" cy="80.7" rx="1.61" ry="0.90" transform="rotate(90 58.5 80.7)"/><circle cx="58.3" cy="80.7" r="0.70"/><circle cx="57.4" cy="81.5" r="0.60"/>
<ellipse cx="87" cy="80.3" rx="2.16" ry="0.55" transform="rotate(40 87 80.3)"/><ellipse cx="88.2" cy="81.4" rx="1.35" ry="0.51" transform="rotate(70 88.2 81.4)"/><ellipse cx="86.7" cy="80.6" rx="2.09" ry="0.81" transform="rotate(10 86.7 80.6)"/><ellipse cx="88.3" cy="79.6" rx="1.40" ry="0.90" transform="rotate(179 88.3 79.6)"/><circle cx="87.7" cy="78.4" r="0.67"/><circle cx="86.5" cy="81" r="0.53"/>
<ellipse cx="95.1" cy="84.6" rx="2.14" ry="0.54" transform="rotate(0 95.1 84.6)"/><ellipse cx="95.4" cy="84.6" rx="2.01" ry="0.84" transform="rotate(173 95.4 84.6)"/><ellipse cx="95.9" cy="84.3" rx="1.57" ry="0.88" transform="rotate(77 95.9 84.3)"/><ellipse cx="94.4" cy="85" rx="1.23" ry="0.66" transform="rotate(34 94.4 85)"/><circle cx="96" cy="82.1" r="0.42"/><circle cx="96.6" cy="84.4" r="0.77"/>
<ellipse cx="106.8" cy="81.9" rx="1.54" ry="0.94" transform="rotate(134 106.8 81.9)"/><ellipse cx="106.3" cy="83.2" rx="1.58" ry="0.63" transform="rotate(111 106.3 83.2)"/><ellipse cx="106.4" cy="80.8" rx="1.91" ry="0.93" transform="rotate(0 106.4 80.8)"/><ellipse cx="106.4" cy="82.9" rx="2.24" ry="0.94" transform="rotate(4 106.4 82.9)"/><circle cx="105.1" cy="83.3" r="0.57"/><circle cx="103.9" cy="82.3" r="0.47"/>
<ellipse cx="69.8" cy="85.6" rx="2.37" ry="0.82" transform="rotate(132 69.8 85.6)"/><ellipse cx="68.3" cy="87.9" rx="1.69" ry="0.75" transform="rotate(57 68.3 87.9)"/><ellipse cx="69.2" cy="87.1" rx="1.63" ry="0.95" transform="rotate(135 69.2 87.1)"/><ellipse cx="70.9" cy="86.6" rx="2.87" ry="0.79" transform="rotate(58 70.9 86.6)"/><ellipse cx="70" cy="87.4" rx="2.51" ry="0.89" transform="rotate(15 70 87.4)"/><ellipse cx="68.2" cy="87.4" rx="2.46" ry="1.07" transform="rotate(42 68.2 87.4)"/><circle cx="70.7" cy="84.6" r="0.45"/><circle cx="70.4" cy="85" r="0.63"/><circle cx="67.3" cy="88.9" r="0.48"/>
<ellipse cx="77.4" cy="92.6" rx="1.84" ry="0.65" transform="rotate(44 77.4 92.6)"/><ellipse cx="77.4" cy="91.5" rx="1.49" ry="0.87" transform="rotate(71 77.4 91.5)"/><ellipse cx="76.9" cy="91.5" rx="1.74" ry="0.87" transform="rotate(117 76.9 91.5)"/><ellipse cx="76.8" cy="91.4" rx="1.55" ry="0.55" transform="rotate(151 76.8 91.4)"/><circle cx="77.6" cy="93.8" r="0.63"/><circle cx="78.3" cy="90.7" r="0.75"/>
<ellipse cx="92.7" cy="90.8" rx="1.49" ry="0.85" transform="rotate(46 92.7 90.8)"/><ellipse cx="92.6" cy="93.1" rx="1.53" ry="0.65" transform="rotate(111 92.6 93.1)"/><ellipse cx="91.6" cy="91.8" rx="1.60" ry="0.55" transform="rotate(45 91.6 91.8)"/><ellipse cx="92.2" cy="92" rx="1.72" ry="0.65" transform="rotate(58 92.2 92)"/><circle cx="93" cy="90.3" r="0.43"/><circle cx="94" cy="93.6" r="0.62"/>
<ellipse cx="38.2" cy="94.9" rx="1.99" ry="0.75" transform="rotate(16 38.2 94.9)"/><ellipse cx="38.3" cy="93.7" rx="2.18" ry="0.79" transform="rotate(55 38.3 93.7)"/><ellipse cx="39.3" cy="92" rx="1.93" ry="0.70" transform="rotate(74 39.3 92)"/><ellipse cx="37.7" cy="94" rx="2.58" ry="0.82" transform="rotate(131 37.7 94)"/><ellipse cx="36.3" cy="94.8" rx="2.05" ry="0.68" transform="rotate(147 36.3 94.8)"/><ellipse cx="36.6" cy="93.6" rx="2.59" ry="0.64" transform="rotate(2 36.6 93.6)"/><circle cx="36.1" cy="92.4" r="0.60"/><circle cx="38.9" cy="95.5" r="0.61"/><circle cx="39.2" cy="93.1" r="0.60"/>
<ellipse cx="73.1" cy="96.5" rx="2.81" ry="1.20" transform="rotate(174 73.1 96.5)"/><ellipse cx="74.7" cy="96.7" rx="2.09" ry="1.16" transform="rotate(86 74.7 96.7)"/><ellipse cx="73.1" cy="95.7" rx="2.61" ry="0.76" transform="rotate(111 73.1 95.7)"/><ellipse cx="73.8" cy="94.9" rx="1.82" ry="0.76" transform="rotate(72 73.8 94.9)"/><ellipse cx="72.1" cy="96" rx="1.75" ry="0.78" transform="rotate(71 72.1 96)"/><ellipse cx="73.1" cy="96" rx="2.32" ry="1.07" transform="rotate(130 73.1 96)"/><circle cx="75.8" cy="96.8" r="0.45"/><circle cx="70.9" cy="94.7" r="0.65"/><circle cx="72.1" cy="98.3" r="0.63"/>
<ellipse cx="78.7" cy="96.4" rx="1.38" ry="0.85" transform="rotate(118 78.7 96.4)"/><ellipse cx="79.5" cy="97.3" rx="2.22" ry="0.77" transform="rotate(88 79.5 97.3)"/><ellipse cx="79.1" cy="96.2" rx="1.50" ry="0.76" transform="rotate(32 79.1 96.2)"/><ellipse cx="78.7" cy="96.4" rx="1.40" ry="0.86" transform="rotate(16 78.7 96.4)"/><circle cx="81.5" cy="97.3" r="0.71"/><circle cx="77.9" cy="96" r="0.60"/>
<ellipse cx="109.1" cy="97.1" rx="2.41" ry="0.89" transform="rotate(171 109.1 97.1)"/><ellipse cx="108.9" cy="97.9" rx="1.86" ry="0.99" transform="rotate(146 108.9 97.9)"/><ellipse cx="108.8" cy="97.2" rx="2.34" ry="0.56" transform="rotate(164 108.8 97.2)"/><ellipse cx="108.2" cy="95.7" rx="2.30" ry="0.66" transform="rotate(63 108.2 95.7)"/><circle cx="108.9" cy="94.7" r="0.60"/><circle cx="109.7" cy="95.3" r="0.51"/>
<ellipse cx="115.1" cy="95.9" rx="1.59" ry="1.04" transform="rotate(57 115.1 95.9)"/><ellipse cx="115.1" cy="95.5" rx="2.31" ry="0.62" transform="rotate(122 115.1 95.5)"/><ellipse cx="114.3" cy="95.3" rx="2.41" ry="0.85" transform="rotate(95 114.3 95.3)"/><ellipse cx="115" cy="95.5" rx="2.55" ry="0.88" transform="rotate(104 115 95.5)"/><ellipse cx="114.9" cy="95.2" rx="2.55" ry="0.86" transform="rotate(70 114.9 95.2)"/><ellipse cx="114.8" cy="95" rx="1.61" ry="0.94" transform="rotate(64 114.8 95)"/><circle cx="117.2" cy="96.5" r="0.50"/><circle cx="112.9" cy="93.6" r="0.63"/><circle cx="113.7" cy="94.1" r="0.40"/>
<ellipse cx="119.8" cy="96.7" rx="1.59" ry="0.81" transform="rotate(26 119.8 96.7)"/><ellipse cx="120.4" cy="97.9" rx="1.14" ry="0.45" transform="rotate(23 120.4 97.9)"/><ellipse cx="120.7" cy="97.4" rx="1.33" ry="0.69" transform="rotate(63 120.7 97.4)"/><ellipse cx="120.5" cy="97.8" rx="1.56" ry="0.50" transform="rotate(106 120.5 97.8)"/><circle cx="121.6" cy="96.5" r="0.46"/><circle cx="121.8" cy="98.1" r="0.75"/>
<ellipse cx="125.8" cy="93.5" rx="2.40" ry="0.95" transform="rotate(72 125.8 93.5)"/><ellipse cx="125.3" cy="92.7" rx="2.78" ry="1.05" transform="rotate(63 125.3 92.7)"/><ellipse cx="126" cy="93.2" rx="2.26" ry="0.86" transform="rotate(44 126 93.2)"/><ellipse cx="127.1" cy="93.9" rx="1.59" ry="0.94" transform="rotate(42 127.1 93.9)"/><ellipse cx="126.2" cy="93.8" rx="2.36" ry="0.92" transform="rotate(169 126.2 93.8)"/><ellipse cx="126" cy="92.9" rx="1.97" ry="0.80" transform="rotate(115 126 92.9)"/><circle cx="128.7" cy="94.2" r="0.71"/><circle cx="125.5" cy="91.7" r="0.74"/><circle cx="125.8" cy="91" r="0.70"/>
<ellipse cx="63.1" cy="103.9" rx="1.42" ry="0.72" transform="rotate(40 63.1 103.9)"/><ellipse cx="62.3" cy="102.3" rx="2.17" ry="0.68" transform="rotate(134 62.3 102.3)"/><ellipse cx="61.6" cy="104" rx="1.96" ry="0.68" transform="rotate(99 61.6 104)"/><ellipse cx="63.2" cy="103.5" rx="2.36" ry="0.56" transform="rotate(115 63.2 103.5)"/><circle cx="62.6" cy="105.4" r="0.70"/><circle cx="65" cy="102.7" r="0.53"/>
<ellipse cx="82.3" cy="104.4" rx="2.47" ry="1.06" transform="rotate(59 82.3 104.4)"/><ellipse cx="83.1" cy="102.5" rx="2.75" ry="1.07" transform="rotate(119 83.1 102.5)"/><ellipse cx="81" cy="103.1" rx="2.39" ry="0.84" transform="rotate(154 81 103.1)"/><ellipse cx="82" cy="102.4" rx="2.85" ry="0.74" transform="rotate(38 82 102.4)"/><ellipse cx="83.7" cy="103.8" rx="2.09" ry="0.74" transform="rotate(4 83.7 103.8)"/><ellipse cx="83.4" cy="103" rx="2.48" ry="1.07" transform="rotate(5 83.4 103)"/><circle cx="82.1" cy="100.8" r="0.64"/><circle cx="80.3" cy="104.9" r="0.73"/><circle cx="83.7" cy="101.5" r="0.75"/>
<ellipse cx="90.2" cy="104.3" rx="2.70" ry="1.02" transform="rotate(164 90.2 104.3)"/><ellipse cx="90.9" cy="102.7" rx="3.51" ry="1.62" transform="rotate(6 90.9 102.7)"/><ellipse cx="89.5" cy="105" rx="2.49" ry="1.56" transform="rotate(113 89.5 105)"/><ellipse cx="89.1" cy="105.6" rx="2.35" ry="1.14" transform="rotate(36 89.1 105.6)"/><ellipse cx="89.4" cy="103.4" rx="2.92" ry="1.73" transform="rotate(50 89.4 103.4)"/><ellipse cx="90.6" cy="103.2" rx="2.37" ry="1.27" transform="rotate(90 90.6 103.2)"/><circle cx="85.8" cy="106.1" r="0.54"/><circle cx="88.6" cy="101" r="0.49"/><circle cx="91.4" cy="102.4" r="0.73"/>
<ellipse cx="100.2" cy="101.8" rx="2.17" ry="0.48" transform="rotate(0 100.2 101.8)"/><ellipse cx="98.8" cy="100.8" rx="1.38" ry="0.70" transform="rotate(88 98.8 100.8)"/><ellipse cx="100.1" cy="100.4" rx="2.13" ry="0.61" transform="rotate(62 100.1 100.4)"/><ellipse cx="99.6" cy="100.1" rx="1.31" ry="0.76" transform="rotate(38 99.6 100.1)"/><circle cx="101.8" cy="101.8" r="0.68"/><circle cx="100.3" cy="98.8" r="0.54"/>
<ellipse cx="104.7" cy="107.1" rx="2.32" ry="0.55" transform="rotate(71 104.7 107.1)"/><ellipse cx="104.4" cy="108.7" rx="1.89" ry="0.72" transform="rotate(37 104.4 108.7)"/><ellipse cx="104.6" cy="108" rx="1.93" ry="0.91" transform="rotate(159 104.6 108)"/><ellipse cx="104.1" cy="106.8" rx="1.70" ry="0.61" transform="rotate(135 104.1 106.8)"/><circle cx="105.7" cy="105.4" r="0.70"/><circle cx="105.5" cy="109" r="0.71"/>
<ellipse cx="123.1" cy="107.3" rx="3.98" ry="1.12" transform="rotate(104 123.1 107.3)"/><ellipse cx="121.6" cy="108.1" rx="3.90" ry="1.05" transform="rotate(34 121.6 108.1)"/><ellipse cx="122.2" cy="107.4" rx="3.30" ry="1.06" transform="rotate(28 122.2 107.4)"/><ellipse cx="123.3" cy="109.3" rx="3.69" ry="1.01" transform="rotate(59 123.3 109.3)"/><ellipse cx="123.1" cy="107" rx="4.17" ry="1.59" transform="rotate(173 123.1 107)"/><ellipse cx="121.4" cy="106.7" rx="3.52" ry="1.01" transform="rotate(131 121.4 106.7)"/><circle cx="123" cy="109.6" r="0.41"/><circle cx="118.8" cy="108.8" r="0.68"/><circle cx="118.3" cy="106.3" r="0.59"/>
<ellipse cx="61" cy="109.7" rx="2.07" ry="0.66" transform="rotate(108 61 109.7)"/><ellipse cx="61.8" cy="108.5" rx="1.41" ry="0.79" transform="rotate(103 61.8 108.5)"/><ellipse cx="61.9" cy="108.2" rx="2.01" ry="0.77" transform="rotate(158 61.9 108.2)"/><ellipse cx="61.3" cy="109.3" rx="1.80" ry="0.52" transform="rotate(115 61.3 109.3)"/><circle cx="59.9" cy="110.2" r="0.69"/><circle cx="60.7" cy="108" r="0.57"/>
<ellipse cx="63.7" cy="115.3" rx="2.42" ry="0.64" transform="rotate(111 63.7 115.3)"/><ellipse cx="64.7" cy="114" rx="1.93" ry="1.04" transform="rotate(117 64.7 114)"/><ellipse cx="64.2" cy="114.6" rx="2.26" ry="1.02" transform="rotate(6 64.2 114.6)"/><ellipse cx="65.3" cy="115.3" rx="1.98" ry="0.91" transform="rotate(93 65.3 115.3)"/><ellipse cx="63.7" cy="113.7" rx="1.96" ry="0.76" transform="rotate(92 63.7 113.7)"/><ellipse cx="64.8" cy="115.7" rx="1.82" ry="0.93" transform="rotate(170 64.8 115.7)"/><circle cx="66.5" cy="116.6" r="0.54"/><circle cx="66.3" cy="115.3" r="0.56"/><circle cx="66.6" cy="114.9" r="0.57"/>
<ellipse cx="73.3" cy="117.3" rx="2.73" ry="1.55" transform="rotate(125 73.3 117.3)"/><ellipse cx="73" cy="116.4" rx="3.82" ry="1.25" transform="rotate(169 73 116.4)"/><ellipse cx="75.3" cy="118" rx="3.84" ry="1.46" transform="rotate(38 75.3 118)"/><ellipse cx="73.1" cy="116.2" rx="4.13" ry="1.22" transform="rotate(84 73.1 116.2)"/><ellipse cx="74.8" cy="114.6" rx="3.19" ry="1.17" transform="rotate(114 74.8 114.6)"/><ellipse cx="75.4" cy="118.1" rx="2.98" ry="1.64" transform="rotate(98 75.4 118.1)"/><circle cx="73.5" cy="119.9" r="0.50"/><circle cx="71.3" cy="117.9" r="0.40"/><circle cx="73.3" cy="113.5" r="0.50"/>
<ellipse cx="89.7" cy="115.1" rx="1.97" ry="0.68" transform="rotate(86 89.7 115.1)"/><ellipse cx="90.7" cy="114.5" rx="2.15" ry="0.94" transform="rotate(167 90.7 114.5)"/><ellipse cx="91.3" cy="115.7" rx="1.95" ry="0.52" transform="rotate(141 91.3 115.7)"/><ellipse cx="91.5" cy="114.4" rx="1.54" ry="0.56" transform="rotate(2 91.5 114.4)"/><circle cx="91.6" cy="116" r="0.71"/><circle cx="89.7" cy="116" r="0.76"/>
<ellipse cx="55.2" cy="119.6" rx="2.59" ry="1.02" transform="rotate(30 55.2 119.6)"/><ellipse cx="54.7" cy="118.8" rx="1.83" ry="1.03" transform="rotate(160 54.7 118.8)"/><ellipse cx="54.3" cy="119.4" rx="2.72" ry="0.95" transform="rotate(95 54.3 119.4)"/><ellipse cx="54.4" cy="120.7" rx="2.22" ry="0.67" transform="rotate(47 54.4 120.7)"/><ellipse cx="54.9" cy="121" rx="2.22" ry="0.94" transform="rotate(84 54.9 121)"/><ellipse cx="55.9" cy="120.3" rx="2.18" ry="0.95" transform="rotate(155 55.9 120.3)"/><circle cx="52.9" cy="117.8" r="0.55"/><circle cx="51.6" cy="121.8" r="0.43"/><circle cx="52.6" cy="118.3" r="0.41"/>
<ellipse cx="80" cy="118.1" rx="2.65" ry="0.86" transform="rotate(122 80 118.1)"/><ellipse cx="79.6" cy="118.3" rx="2.33" ry="0.92" transform="rotate(87 79.6 118.3)"/><ellipse cx="79.9" cy="117.9" rx="2.04" ry="0.87" transform="rotate(60 79.9 117.9)"/><ellipse cx="79.6" cy="119.2" rx="1.98" ry="0.88" transform="rotate(138 79.6 119.2)"/><ellipse cx="79.1" cy="119.8" rx="1.95" ry="0.86" transform="rotate(148 79.1 119.8)"/><ellipse cx="77.4" cy="118.3" rx="2.26" ry="1.01" transform="rotate(48 77.4 118.3)"/><circle cx="78.4" cy="120.2" r="0.52"/><circle cx="77.3" cy="117.2" r="0.71"/><circle cx="81.9" cy="119.1" r="0.75"/>
<ellipse cx="110" cy="121.3" rx="1.65" ry="1.05" transform="rotate(8 110 121.3)"/><ellipse cx="109.4" cy="120.1" rx="2.49" ry="0.89" transform="rotate(109 109.4 120.1)"/><ellipse cx="109.3" cy="120.4" rx="2.13" ry="0.93" transform="rotate(111 109.3 120.4)"/><ellipse cx="109.7" cy="120.5" rx="2.32" ry="0.62" transform="rotate(38 109.7 120.5)"/><ellipse cx="111.3" cy="121.5" rx="2.50" ry="0.91" transform="rotate(32 111.3 121.5)"/><ellipse cx="110.6" cy="120.1" rx="2.09" ry="0.71" transform="rotate(66 110.6 120.1)"/><circle cx="109.4" cy="123.2" r="0.53"/><circle cx="107.9" cy="122.2" r="0.77"/><circle cx="112.2" cy="122" r="0.42"/>
<ellipse cx="115.4" cy="121.2" rx="1.60" ry="0.47" transform="rotate(145 115.4 121.2)"/><ellipse cx="115.4" cy="121" rx="2.11" ry="0.67" transform="rotate(69 115.4 121)"/><ellipse cx="117.3" cy="122.3" rx="1.38" ry="0.53" transform="rotate(74 117.3 122.3)"/><ellipse cx="117.5" cy="121.8" rx="1.29" ry="0.88" transform="rotate(2 117.5 121.8)"/><circle cx="118.4" cy="122.9" r="0.45"/><circle cx="118.6" cy="122" r="0.50"/>
<ellipse cx="86.3" cy="125.3" rx="2.45" ry="1.10" transform="rotate(33 86.3 125.3)"/><ellipse cx="86" cy="125.5" rx="2.44" ry="0.88" transform="rotate(131 86 125.5)"/><ellipse cx="84.9" cy="126.9" rx="2.45" ry="0.62" transform="rotate(167 84.9 126.9)"/><ellipse cx="84.1" cy="123.7" rx="1.64" ry="0.79" transform="rotate(2 84.1 123.7)"/><ellipse cx="85.8" cy="126.3" rx="2.16" ry="0.65" transform="rotate(131 85.8 126.3)"/><ellipse cx="84.2" cy="124.5" rx="2.40" ry="0.70" transform="rotate(66 84.2 124.5)"/><circle cx="85.6" cy="122.8" r="0.66"/><circle cx="83.4" cy="123.3" r="0.55"/><circle cx="85.7" cy="122" r="0.71"/>
<ellipse cx="92.3" cy="126.3" rx="4.15" ry="1.51" transform="rotate(102 92.3 126.3)"/><ellipse cx="91.6" cy="127.2" rx="4.16" ry="1.62" transform="rotate(148 91.6 127.2)"/><ellipse cx="92" cy="127" rx="3.99" ry="1.24" transform="rotate(108 92 127)"/><ellipse cx="90.4" cy="124.4" rx="3.84" ry="1.16" transform="rotate(123 90.4 124.4)"/><ellipse cx="92.3" cy="127.1" rx="3.42" ry="1.61" transform="rotate(0 92.3 127.1)"/><ellipse cx="94.6" cy="126.4" rx="3.84" ry="1.65" transform="rotate(159 94.6 126.4)"/><circle cx="89.6" cy="124.5" r="0.74"/><circle cx="93.8" cy="122.1" r="0.77"/><circle cx="90.9" cy="128.1" r="0.62"/>
<ellipse cx="98.9" cy="123.6" rx="1.89" ry="0.98" transform="rotate(36 98.9 123.6)"/><ellipse cx="98.4" cy="125.6" rx="1.91" ry="1.07" transform="rotate(121 98.4 125.6)"/><ellipse cx="98.6" cy="125.6" rx="2.63" ry="1.08" transform="rotate(142 98.6 125.6)"/><ellipse cx="97.4" cy="124.7" rx="2.73" ry="0.93" transform="rotate(41 97.4 124.7)"/><ellipse cx="98.5" cy="125.2" rx="1.83" ry="0.74" transform="rotate(85 98.5 125.2)"/><ellipse cx="98.2" cy="126.3" rx="2.10" ry="0.93" transform="rotate(126 98.2 126.3)"/><circle cx="100" cy="126.9" r="0.80"/><circle cx="97.6" cy="126.8" r="0.65"/><circle cx="99.4" cy="123.6" r="0.64"/>
<ellipse cx="65.3" cy="129.5" rx="2.37" ry="1.76" transform="rotate(62 65.3 129.5)"/><ellipse cx="64" cy="129.7" rx="2.80" ry="1.58" transform="rotate(155 64 129.7)"/><ellipse cx="67.4" cy="128.9" rx="3.86" ry="1.73" transform="rotate(76 67.4 128.9)"/><ellipse cx="66.3" cy="129.7" rx="2.65" ry="0.99" transform="rotate(45 66.3 129.7)"/><ellipse cx="63.3" cy="128.7" rx="3.18" ry="1.72" transform="rotate(9 63.3 128.7)"/><ellipse cx="67" cy="130.2" rx="3.06" ry="1.02" transform="rotate(163 67 130.2)"/><circle cx="68.5" cy="128.8" r="0.63"/><circle cx="62.6" cy="126.1" r="0.67"/><circle cx="62.8" cy="131.7" r="0.46"/>
<ellipse cx="72" cy="132.6" rx="2.04" ry="0.89" transform="rotate(178 72 132.6)"/><ellipse cx="73.3" cy="131.4" rx="1.75" ry="1.16" transform="rotate(162 73.3 131.4)"/><ellipse cx="70.5" cy="130.4" rx="1.76" ry="0.76" transform="rotate(127 70.5 130.4)"/><ellipse cx="73.2" cy="131.9" rx="2.10" ry="1.04" transform="rotate(135 73.2 131.9)"/><ellipse cx="72.6" cy="132.8" rx="2.04" ry="0.75" transform="rotate(136 72.6 132.8)"/><ellipse cx="72.3" cy="132.9" rx="1.88" ry="1.09" transform="rotate(86 72.3 132.9)"/><circle cx="74.9" cy="132.6" r="0.48"/><circle cx="75.2" cy="133.1" r="0.49"/><circle cx="74.9" cy="131.1" r="0.76"/>
<ellipse cx="80.6" cy="137.4" rx="2.00" ry="0.74" transform="rotate(80 80.6 137.4)"/><ellipse cx="78.8" cy="137.6" rx="1.65" ry="0.74" transform="rotate(81 78.8 137.6)"/><ellipse cx="79.5" cy="136.8" rx="1.88" ry="0.71" transform="rotate(25 79.5 136.8)"/><ellipse cx="79.8" cy="136.3" rx="1.58" ry="0.54" transform="rotate(26 79.8 136.3)"/><circle cx="79.1" cy="138.8" r="0.53"/><circle cx="80.3" cy="138.2" r="0.53"/>
</g>
<g fill="#c4c4c4" filter="url(#mott)">
<ellipse cx="203.7" cy="27.8" rx="3.03" ry="1.13" transform="rotate(20 203.7 27.8)"/><ellipse cx="202.6" cy="27.9" rx="2.12" ry="0.83" transform="rotate(38 202.6 27.9)"/><ellipse cx="206.5" cy="27.6" rx="3.08" ry="0.76" transform="rotate(65 206.5 27.6)"/><ellipse cx="203.6" cy="27.6" rx="2.79" ry="0.89" transform="rotate(52 203.6 27.6)"/><ellipse cx="205" cy="28" rx="2.24" ry="0.79" transform="rotate(176 205 28)"/><ellipse cx="203.9" cy="26.9" rx="2.02" ry="0.98" transform="rotate(0 203.9 26.9)"/><circle cx="205.3" cy="26.6" r="0.63"/><circle cx="204.8" cy="29.5" r="0.71"/><circle cx="202.8" cy="25.6" r="0.43"/>
<ellipse cx="217.7" cy="27.8" rx="1.42" ry="0.76" transform="rotate(109 217.7 27.8)"/><ellipse cx="218.5" cy="27" rx="1.41" ry="0.51" transform="rotate(127 218.5 27)"/><ellipse cx="217.4" cy="28.3" rx="1.27" ry="0.84" transform="rotate(131 217.4 28.3)"/><ellipse cx="218.9" cy="26.8" rx="1.70" ry="0.49" transform="rotate(60 218.9 26.8)"/><circle cx="219.8" cy="26.8" r="0.75"/><circle cx="218.1" cy="29.3" r="0.73"/>
<ellipse cx="225" cy="30.9" rx="1.40" ry="0.82" transform="rotate(29 225 30.9)"/><ellipse cx="225.3" cy="30.2" rx="2.21" ry="0.97" transform="rotate(80 225.3 30.2)"/><ellipse cx="225.2" cy="31.2" rx="1.83" ry="0.94" transform="rotate(155 225.2 31.2)"/><ellipse cx="226.9" cy="28.9" rx="1.96" ry="0.82" transform="rotate(11 226.9 28.9)"/><ellipse cx="225.5" cy="30.2" rx="2.50" ry="0.67" transform="rotate(95 225.5 30.2)"/><ellipse cx="226.1" cy="30.5" rx="2.33" ry="0.57" transform="rotate(32 226.1 30.5)"/><circle cx="227.6" cy="31.6" r="0.48"/><circle cx="227.9" cy="30.5" r="0.63"/><circle cx="223.2" cy="29.9" r="0.44"/>
<ellipse cx="209.8" cy="33.5" rx="2.78" ry="1.47" transform="rotate(156 209.8 33.5)"/><ellipse cx="209.7" cy="34.6" rx="3.37" ry="1.14" transform="rotate(90 209.7 34.6)"/><ellipse cx="210.3" cy="33.4" rx="3.72" ry="1.70" transform="rotate(106 210.3 33.4)"/><ellipse cx="211.2" cy="31.2" rx="3.33" ry="1.40" transform="rotate(29 211.2 31.2)"/><ellipse cx="208.6" cy="33.7" rx="4.48" ry="1.73" transform="rotate(151 208.6 33.7)"/><ellipse cx="209.9" cy="35.1" rx="3.43" ry="1.91" transform="rotate(60 209.9 35.1)"/><circle cx="211.5" cy="29.3" r="0.73"/><circle cx="211.5" cy="31.6" r="0.61"/><circle cx="214.6" cy="32.6" r="0.50"/>
<ellipse cx="196" cy="36.7" rx="3.63" ry="1.08" transform="rotate(75 196 36.7)"/><ellipse cx="196.6" cy="37.6" rx="2.82" ry="1.90" transform="rotate(77 196.6 37.6)"/><ellipse cx="198.5" cy="36.9" rx="4.21" ry="1.83" transform="rotate(139 198.5 36.9)"/><ellipse cx="198.7" cy="38" rx="3.08" ry="1.64" transform="rotate(159 198.7 38)"/><ellipse cx="194" cy="36.9" rx="3.82" ry="1.24" transform="rotate(49 194 36.9)"/><ellipse cx="194" cy="38.9" rx="3.13" ry="1.29" transform="rotate(93 194 38.9)"/><circle cx="195" cy="35.2" r="0.64"/><circle cx="200.6" cy="36.6" r="0.51"/><circle cx="193" cy="38.5" r="0.46"/>
<ellipse cx="219" cy="42.9" rx="1.53" ry="0.60" transform="rotate(23 219 42.9)"/><ellipse cx="218" cy="41.9" rx="1.85" ry="0.75" transform="rotate(15 218 41.9)"/><ellipse cx="219.4" cy="43.2" rx="1.70" ry="0.74" transform="rotate(117 219.4 43.2)"/><ellipse cx="218.6" cy="42.4" rx="1.48" ry="0.59" transform="rotate(110 218.6 42.4)"/><circle cx="217.4" cy="42.1" r="0.63"/><circle cx="220.9" cy="42.4" r="0.74"/>
<ellipse cx="175.9" cy="40.5" rx="2.37" ry="0.67" transform="rotate(100 175.9 40.5)"/><ellipse cx="176.6" cy="40.6" rx="2.25" ry="0.73" transform="rotate(138 176.6 40.6)"/><ellipse cx="175.9" cy="40.9" rx="2.10" ry="0.58" transform="rotate(11 175.9 40.9)"/><ellipse cx="177.5" cy="40.2" rx="1.48" ry="0.69" transform="rotate(40 177.5 40.2)"/><circle cx="175.1" cy="42.2" r="0.65"/><circle cx="177.8" cy="38.5" r="0.61"/>
<ellipse cx="189.5" cy="43.2" rx="2.70" ry="1.08" transform="rotate(133 189.5 43.2)"/><ellipse cx="190.6" cy="45.4" rx="1.65" ry="1.11" transform="rotate(164 190.6 45.4)"/><ellipse cx="187.3" cy="44.2" rx="2.41" ry="0.91" transform="rotate(105 187.3 44.2)"/><ellipse cx="190.2" cy="43.3" rx="2.15" ry="0.93" transform="rotate(141 190.2 43.3)"/><ellipse cx="189.3" cy="43.5" rx="2.17" ry="0.99" transform="rotate(82 189.3 43.5)"/><ellipse cx="188.8" cy="45.5" rx="2.78" ry="0.96" transform="rotate(69 188.8 45.5)"/><circle cx="187.5" cy="44.9" r="0.52"/><circle cx="191.1" cy="46.2" r="0.63"/><circle cx="192.1" cy="45.8" r="0.53"/>
<ellipse cx="178.1" cy="45.1" rx="2.95" ry="1.40" transform="rotate(151 178.1 45.1)"/><ellipse cx="176.8" cy="47.9" rx="3.70" ry="1.47" transform="rotate(163 176.8 47.9)"/><ellipse cx="176.7" cy="46.3" rx="4.60" ry="1.49" transform="rotate(165 176.7 46.3)"/><ellipse cx="175.9" cy="46.7" rx="3.27" ry="1.56" transform="rotate(93 175.9 46.7)"/><ellipse cx="178.3" cy="47.2" rx="3.62" ry="1.10" transform="rotate(63 178.3 47.2)"/><ellipse cx="175.1" cy="48.8" rx="3.72" ry="1.82" transform="rotate(67 175.1 48.8)"/><circle cx="180.2" cy="47" r="0.58"/><circle cx="172.8" cy="44.3" r="0.54"/><circle cx="171.9" cy="47" r="0.47"/>
<ellipse cx="229.7" cy="43.4" rx="1.49" ry="0.99" transform="rotate(176 229.7 43.4)"/><ellipse cx="230.3" cy="42.2" rx="2.36" ry="0.75" transform="rotate(124 230.3 42.2)"/><ellipse cx="229.1" cy="44.9" rx="1.93" ry="0.64" transform="rotate(28 229.1 44.9)"/><ellipse cx="228.7" cy="43.5" rx="1.76" ry="1.04" transform="rotate(32 228.7 43.5)"/><circle cx="228.3" cy="43" r="0.56"/><circle cx="229.8" cy="42.3" r="0.68"/>
<ellipse cx="205.3" cy="51.1" rx="3.74" ry="1.63" transform="rotate(0 205.3 51.1)"/><ellipse cx="204.5" cy="48.8" rx="3.08" ry="1.61" transform="rotate(35 204.5 48.8)"/><ellipse cx="207.8" cy="48.8" rx="3.38" ry="1.12" transform="rotate(95 207.8 48.8)"/><ellipse cx="206.2" cy="48.2" rx="2.74" ry="1.17" transform="rotate(28 206.2 48.2)"/><ellipse cx="206.9" cy="47.2" rx="4.20" ry="1.07" transform="rotate(94 206.9 47.2)"/><ellipse cx="206.3" cy="47.7" rx="4.01" ry="1.34" transform="rotate(2 206.3 47.7)"/><circle cx="207.8" cy="51.7" r="0.44"/><circle cx="209.5" cy="46.5" r="0.54"/><circle cx="202.7" cy="49.9" r="0.42"/>
<ellipse cx="228.4" cy="51.3" rx="2.63" ry="0.86" transform="rotate(104 228.4 51.3)"/><ellipse cx="229.1" cy="50.8" rx="2.19" ry="1.27" transform="rotate(7 229.1 50.8)"/><ellipse cx="227.1" cy="52.7" rx="3.11" ry="1.01" transform="rotate(146 227.1 52.7)"/><ellipse cx="227.5" cy="52.5" rx="2.77" ry="0.84" transform="rotate(170 227.5 52.5)"/><ellipse cx="228.2" cy="50.8" rx="2.87" ry="0.85" transform="rotate(55 228.2 50.8)"/><ellipse cx="227.1" cy="52" rx="3.13" ry="0.88" transform="rotate(31 227.1 52)"/><circle cx="225.6" cy="50.8" r="0.61"/><circle cx="225.6" cy="53.2" r="0.43"/><circle cx="229.8" cy="53.8" r="0.54"/>
<ellipse cx="207.9" cy="55.8" rx="1.35" ry="0.84" transform="rotate(34 207.9 55.8)"/><ellipse cx="208.6" cy="56.2" rx="1.42" ry="0.66" transform="rotate(61 208.6 56.2)"/><ellipse cx="208.5" cy="55.8" rx="2.22" ry="0.91" transform="rotate(150 208.5 55.8)"/><ellipse cx="207.3" cy="56.1" rx="1.72" ry="0.99" transform="rotate(28 207.3 56.1)"/><circle cx="208.7" cy="57.8" r="0.60"/><circle cx="208.3" cy="57.2" r="0.45"/>
<ellipse cx="216.2" cy="60.8" rx="3.75" ry="1.35" transform="rotate(127 216.2 60.8)"/><ellipse cx="215.7" cy="57.5" rx="4.34" ry="1.12" transform="rotate(44 215.7 57.5)"/><ellipse cx="215.4" cy="57.8" rx="4.13" ry="1.37" transform="rotate(92 215.4 57.8)"/><ellipse cx="215.3" cy="57.6" rx="3.34" ry="1.09" transform="rotate(118 215.3 57.6)"/><ellipse cx="217" cy="57.2" rx="3.90" ry="1.11" transform="rotate(31 217 57.2)"/><ellipse cx="215.4" cy="59.2" rx="3.14" ry="1.07" transform="rotate(101 215.4 59.2)"/><circle cx="215.1" cy="61.1" r="0.45"/><circle cx="215.6" cy="54.7" r="0.56"/><circle cx="220.2" cy="55.6" r="0.75"/>
<ellipse cx="228.4" cy="63.9" rx="2.68" ry="1.11" transform="rotate(23 228.4 63.9)"/><ellipse cx="227.3" cy="64.3" rx="2.71" ry="0.85" transform="rotate(63 227.3 64.3)"/><ellipse cx="227.7" cy="64.6" rx="1.98" ry="0.76" transform="rotate(152 227.7 64.6)"/><ellipse cx="228.3" cy="62.3" rx="1.78" ry="0.71" transform="rotate(164 228.3 62.3)"/><ellipse cx="228.7" cy="64.3" rx="2.26" ry="0.71" transform="rotate(29 228.7 64.3)"/><ellipse cx="228.1" cy="63.2" rx="2.91" ry="1.05" transform="rotate(55 228.1 63.2)"/><circle cx="227.9" cy="61.4" r="0.57"/><circle cx="227.4" cy="61.4" r="0.40"/><circle cx="230" cy="61" r="0.51"/>
<ellipse cx="261.1" cy="61.3" rx="2.63" ry="1.24" transform="rotate(7 261.1 61.3)"/><ellipse cx="260.2" cy="61.9" rx="4.42" ry="1.70" transform="rotate(20 260.2 61.9)"/><ellipse cx="259.6" cy="61.5" rx="4.08" ry="1.77" transform="rotate(15 259.6 61.5)"/><ellipse cx="262.6" cy="64.4" rx="3.41" ry="1.87" transform="rotate(50 262.6 64.4)"/><ellipse cx="259.8" cy="60.3" rx="3.83" ry="1.43" transform="rotate(124 259.8 60.3)"/><ellipse cx="259.6" cy="61.4" rx="3.59" ry="1.87" transform="rotate(9 259.6 61.4)"/><circle cx="263.1" cy="66" r="0.42"/><circle cx="258.6" cy="58.3" r="0.50"/><circle cx="255.2" cy="61.3" r="0.66"/>
<ellipse cx="255.1" cy="68.5" rx="2.02" ry="0.72" transform="rotate(44 255.1 68.5)"/><ellipse cx="255.2" cy="69.2" rx="2.34" ry="0.74" transform="rotate(55 255.2 69.2)"/><ellipse cx="253.6" cy="68.2" rx="2.67" ry="0.80" transform="rotate(43 253.6 68.2)"/><ellipse cx="254.7" cy="68" rx="2.21" ry="0.79" transform="rotate(53 254.7 68)"/><ellipse cx="253.2" cy="67.9" rx="1.72" ry="0.97" transform="rotate(146 253.2 67.9)"/><ellipse cx="253.1" cy="68.6" rx="2.54" ry="0.67" transform="rotate(107 253.1 68.6)"/><circle cx="253.9" cy="70.4" r="0.48"/><circle cx="256.3" cy="69" r="0.48"/><circle cx="253.7" cy="66.1" r="0.45"/>
<ellipse cx="205.9" cy="66.7" rx="1.45" ry="0.55" transform="rotate(84 205.9 66.7)"/><ellipse cx="206.1" cy="66.1" rx="2.17" ry="1.04" transform="rotate(178 206.1 66.1)"/><ellipse cx="206.8" cy="66.9" rx="1.86" ry="0.64" transform="rotate(101 206.8 66.9)"/><ellipse cx="207.7" cy="66.5" rx="2.09" ry="0.86" transform="rotate(97 207.7 66.5)"/><circle cx="208.3" cy="65.5" r="0.50"/><circle cx="206.2" cy="68.1" r="0.41"/>
<ellipse cx="219.9" cy="69.7" rx="2.54" ry="1.18" transform="rotate(151 219.9 69.7)"/><ellipse cx="220.8" cy="70.5" rx="2.80" ry="1.12" transform="rotate(166 220.8 70.5)"/><ellipse cx="220.7" cy="70.7" rx="2.10" ry="0.89" transform="rotate(58 220.7 70.7)"/><ellipse cx="219" cy="70.4" rx="1.99" ry="0.69" transform="rotate(99 219 70.4)"/><ellipse cx="219" cy="68.1" rx="2.63" ry="1.21" transform="rotate(102 219 68.1)"/><ellipse cx="219.1" cy="69.2" rx="1.88" ry="0.85" transform="rotate(170 219.1 69.2)"/><circle cx="218.4" cy="68.3" r="0.68"/><circle cx="221.4" cy="71.3" r="0.79"/><circle cx="221.7" cy="70.2" r="0.58"/>
<ellipse cx="170.8" cy="70" rx="4.27" ry="1.80" transform="rotate(34 170.8 70)"/><ellipse cx="169.9" cy="70.6" rx="3.90" ry="1.49" transform="rotate(141 169.9 70.6)"/><ellipse cx="170.1" cy="71.3" rx="3.91" ry="1.77" transform="rotate(75 170.1 71.3)"/><ellipse cx="171.4" cy="71.1" rx="3.45" ry="1.53" transform="rotate(162 171.4 71.1)"/><ellipse cx="171" cy="70.7" rx="3.20" ry="1.44" transform="rotate(62 171 70.7)"/><ellipse cx="173" cy="68.7" rx="4.55" ry="1.90" transform="rotate(174 173 68.7)"/><circle cx="167.5" cy="67" r="0.42"/><circle cx="169" cy="66.4" r="0.52"/><circle cx="166.4" cy="68" r="0.59"/>
<ellipse cx="180.1" cy="75.2" rx="1.62" ry="0.74" transform="rotate(53 180.1 75.2)"/><ellipse cx="180.7" cy="74" rx="2.44" ry="0.85" transform="rotate(122 180.7 74)"/><ellipse cx="180.2" cy="74.3" rx="2.31" ry="0.86" transform="rotate(104 180.2 74.3)"/><ellipse cx="181.8" cy="75.4" rx="2.29" ry="0.70" transform="rotate(20 181.8 75.4)"/><ellipse cx="181.1" cy="74.2" rx="2.27" ry="0.78" transform="rotate(155 181.1 74.2)"/><ellipse cx="180.5" cy="73.7" rx="2.32" ry="0.70" transform="rotate(88 180.5 73.7)"/><circle cx="178.5" cy="73.6" r="0.43"/><circle cx="179.5" cy="74.9" r="0.58"/><circle cx="182.7" cy="71.9" r="0.69"/>
<ellipse cx="207.5" cy="74.7" rx="1.79" ry="1.16" transform="rotate(20 207.5 74.7)"/><ellipse cx="207.2" cy="76.7" rx="2.42" ry="1.13" transform="rotate(70 207.2 76.7)"/><ellipse cx="206.2" cy="74.5" rx="1.98" ry="0.89" transform="rotate(24 206.2 74.5)"/><ellipse cx="205.7" cy="74.5" rx="2.06" ry="1.09" transform="rotate(2 205.7 74.5)"/><ellipse cx="207" cy="74" rx="2.84" ry="1.00" transform="rotate(76 207 74)"/><ellipse cx="206.5" cy="74.4" rx="2.66" ry="0.87" transform="rotate(165 206.5 74.4)"/><circle cx="206.4" cy="72" r="0.73"/><circle cx="207.8" cy="76.4" r="0.69"/><circle cx="208.9" cy="73.9" r="0.42"/>
<ellipse cx="217.8" cy="73.8" rx="1.70" ry="1.14" transform="rotate(17 217.8 73.8)"/><ellipse cx="219.1" cy="74.7" rx="2.12" ry="1.09" transform="rotate(121 219.1 74.7)"/><ellipse cx="219.3" cy="74.3" rx="1.69" ry="1.07" transform="rotate(104 219.3 74.3)"/><ellipse cx="218.5" cy="74" rx="2.43" ry="0.84" transform="rotate(33 218.5 74)"/><ellipse cx="219.8" cy="73.5" rx="2.43" ry="1.08" transform="rotate(25 219.8 73.5)"/><ellipse cx="219.9" cy="74.3" rx="1.75" ry="0.90" transform="rotate(170 219.9 74.3)"/><circle cx="221.1" cy="72.2" r="0.41"/><circle cx="220.3" cy="76.8" r="0.67"/><circle cx="217.3" cy="75.7" r="0.46"/>
<ellipse cx="246.9" cy="75.8" rx="1.82" ry="0.89" transform="rotate(70 246.9 75.8)"/><ellipse cx="247" cy="75.9" rx="1.77" ry="0.79" transform="rotate(38 247 75.9)"/><ellipse cx="244.9" cy="76.9" rx="2.26" ry="0.91" transform="rotate(64 244.9 76.9)"/><ellipse cx="245.4" cy="76.3" rx="1.74" ry="0.97" transform="rotate(1 245.4 76.3)"/><ellipse cx="246.5" cy="76.8" rx="2.65" ry="0.85" transform="rotate(177 246.5 76.8)"/><ellipse cx="245.4" cy="76.6" rx="2.51" ry="1.01" transform="rotate(49 245.4 76.6)"/><circle cx="249.4" cy="75.7" r="0.41"/><circle cx="243.2" cy="75.5" r="0.75"/><circle cx="246.5" cy="73.8" r="0.65"/>
<ellipse cx="259.5" cy="81.7" rx="4.34" ry="1.88" transform="rotate(65 259.5 81.7)"/><ellipse cx="259.3" cy="81.5" rx="4.06" ry="1.48" transform="rotate(122 259.3 81.5)"/><ellipse cx="259" cy="80.7" rx="3.37" ry="1.07" transform="rotate(114 259 80.7)"/><ellipse cx="258.3" cy="82.9" rx="3.53" ry="1.35" transform="rotate(60 258.3 82.9)"/><ellipse cx="260.1" cy="80.6" rx="2.81" ry="1.02" transform="rotate(43 260.1 80.6)"/><ellipse cx="258.7" cy="79.8" rx="3.71" ry="1.29" transform="rotate(156 258.7 79.8)"/><circle cx="261.4" cy="82" r="0.52"/><circle cx="258.4" cy="83.6" r="0.62"/><circle cx="263.3" cy="78.1" r="0.77"/>
<ellipse cx="205.7" cy="81.3" rx="2.78" ry="0.82" transform="rotate(14 205.7 81.3)"/><ellipse cx="203.8" cy="81" rx="1.63" ry="0.89" transform="rotate(139 203.8 81)"/><ellipse cx="205.1" cy="80.9" rx="1.57" ry="0.71" transform="rotate(161 205.1 80.9)"/><ellipse cx="205.1" cy="79.8" rx="2.04" ry="0.73" transform="rotate(48 205.1 79.8)"/><ellipse cx="206" cy="79.5" rx="1.79" ry="1.03" transform="rotate(108 206 79.5)"/><ellipse cx="205" cy="80.2" rx="2.56" ry="1.11" transform="rotate(173 205 80.2)"/><circle cx="204.2" cy="81.9" r="0.48"/><circle cx="202.4" cy="79.7" r="0.66"/><circle cx="207" cy="79.4" r="0.53"/>
<ellipse cx="220.9" cy="82" rx="2.11" ry="0.69" transform="rotate(116 220.9 82)"/><ellipse cx="223.1" cy="81.6" rx="2.10" ry="0.96" transform="rotate(74 223.1 81.6)"/><ellipse cx="221.9" cy="82.2" rx="1.67" ry="1.21" transform="rotate(107 221.9 82.2)"/><ellipse cx="222.2" cy="81.3" rx="2.48" ry="1.09" transform="rotate(101 222.2 81.3)"/><ellipse cx="222.3" cy="81.6" rx="1.84" ry="1.12" transform="rotate(59 222.3 81.6)"/><ellipse cx="222.3" cy="80.5" rx="2.38" ry="1.01" transform="rotate(16 222.3 80.5)"/><circle cx="219.3" cy="80.3" r="0.64"/><circle cx="220.5" cy="83.8" r="0.50"/><circle cx="221.2" cy="78.4" r="0.71"/>
<ellipse cx="203.2" cy="84.9" rx="1.67" ry="0.80" transform="rotate(139 203.2 84.9)"/><ellipse cx="202.5" cy="85.1" rx="1.89" ry="0.87" transform="rotate(169 202.5 85.1)"/><ellipse cx="201.1" cy="86.6" rx="1.61" ry="0.92" transform="rotate(139 201.1 86.6)"/><ellipse cx="202.8" cy="85.1" rx="1.43" ry="0.79" transform="rotate(16 202.8 85.1)"/><circle cx="200.8" cy="84.4" r="0.78"/><circle cx="201.3" cy="86.2" r="0.47"/>
<ellipse cx="249" cy="84.2" rx="2.69" ry="0.80" transform="rotate(165 249 84.2)"/><ellipse cx="247.7" cy="84.1" rx="2.10" ry="1.13" transform="rotate(176 247.7 84.1)"/><ellipse cx="248" cy="85.7" rx="1.79" ry="1.09" transform="rotate(82 248 85.7)"/><ellipse cx="248.3" cy="83.4" rx="2.80" ry="0.69" transform="rotate(11 248.3 83.4)"/><ellipse cx="247.3" cy="85.1" rx="2.91" ry="1.03" transform="rotate(101 247.3 85.1)"/><ellipse cx="248.8" cy="84.7" rx="2.22" ry="0.79" transform="rotate(40 248.8 84.7)"/><circle cx="249.7" cy="86.9" r="0.66"/><circle cx="247.9" cy="87.2" r="0.49"/><circle cx="247" cy="83.2" r="0.75"/>
<ellipse cx="166.2" cy="83.4" rx="2.13" ry="0.90" transform="rotate(48 166.2 83.4)"/><ellipse cx="166.6" cy="84.7" rx="2.69" ry="1.07" transform="rotate(87 166.6 84.7)"/><ellipse cx="164.6" cy="84.1" rx="2.03" ry="1.25" transform="rotate(81 164.6 84.1)"/><ellipse cx="166.5" cy="83.3" rx="1.99" ry="1.23" transform="rotate(64 166.5 83.3)"/><ellipse cx="166.2" cy="85.2" rx="1.89" ry="1.30" transform="rotate(179 166.2 85.2)"/><ellipse cx="166.6" cy="84.7" rx="2.77" ry="0.75" transform="rotate(1 166.6 84.7)"/><circle cx="167.7" cy="87.6" r="0.44"/><circle cx="164.4" cy="87.8" r="0.69"/><circle cx="168.7" cy="82.7" r="0.41"/>
<ellipse cx="157.4" cy="87.7" rx="2.61" ry="1.48" transform="rotate(42 157.4 87.7)"/><ellipse cx="156.4" cy="89.9" rx="2.57" ry="1.92" transform="rotate(41 156.4 89.9)"/><ellipse cx="157.4" cy="89.2" rx="3.54" ry="1.14" transform="rotate(56 157.4 89.2)"/><ellipse cx="157.8" cy="91.4" rx="2.84" ry="1.69" transform="rotate(77 157.8 91.4)"/><ellipse cx="157.8" cy="90.4" rx="3.56" ry="1.86" transform="rotate(90 157.8 90.4)"/><ellipse cx="157.7" cy="92.9" rx="4.36" ry="1.68" transform="rotate(62 157.7 92.9)"/><circle cx="156.5" cy="92.8" r="0.51"/><circle cx="159.5" cy="90.8" r="0.60"/><circle cx="153.5" cy="91.8" r="0.55"/>
<ellipse cx="176" cy="88.1" rx="1.68" ry="0.76" transform="rotate(123 176 88.1)"/><ellipse cx="177.1" cy="88" rx="1.54" ry="0.60" transform="rotate(176 177.1 88)"/><ellipse cx="177" cy="88.6" rx="1.53" ry="0.64" transform="rotate(75 177 88.6)"/><ellipse cx="176.5" cy="88.7" rx="1.74" ry="0.86" transform="rotate(25 176.5 88.7)"/><circle cx="176.4" cy="90.6" r="0.55"/><circle cx="176.5" cy="90.2" r="0.45"/>
<ellipse cx="188.7" cy="92.3" rx="2.68" ry="0.89" transform="rotate(141 188.7 92.3)"/><ellipse cx="187.8" cy="92.2" rx="3.07" ry="0.69" transform="rotate(116 187.8 92.2)"/><ellipse cx="189.1" cy="91.6" rx="2.54" ry="1.30" transform="rotate(134 189.1 91.6)"/><ellipse cx="187.5" cy="91.4" rx="2.24" ry="1.13" transform="rotate(42 187.5 91.4)"/><ellipse cx="187.3" cy="92.2" rx="2.66" ry="0.89" transform="rotate(70 187.3 92.2)"/><ellipse cx="187.9" cy="92.3" rx="2.57" ry="0.85" transform="rotate(113 187.9 92.3)"/><circle cx="190.7" cy="91" r="0.69"/><circle cx="185.9" cy="92.1" r="0.49"/><circle cx="190.6" cy="95" r="0.61"/>
<ellipse cx="250.9" cy="91.9" rx="1.71" ry="1.05" transform="rotate(94 250.9 91.9)"/><ellipse cx="249.8" cy="91.3" rx="2.60" ry="1.07" transform="rotate(82 249.8 91.3)"/><ellipse cx="249.6" cy="93.4" rx="2.50" ry="0.67" transform="rotate(7 249.6 93.4)"/><ellipse cx="250.7" cy="92.8" rx="1.94" ry="1.04" transform="rotate(27 250.7 92.8)"/><ellipse cx="250.4" cy="92.5" rx="1.99" ry="1.14" transform="rotate(93 250.4 92.5)"/><ellipse cx="249.9" cy="92.7" rx="2.48" ry="1.01" transform="rotate(125 249.9 92.7)"/><circle cx="252.2" cy="94.5" r="0.55"/><circle cx="248.8" cy="92.2" r="0.55"/><circle cx="249.5" cy="94.2" r="0.41"/>
<ellipse cx="256.8" cy="95" rx="2.90" ry="1.67" transform="rotate(36 256.8 95)"/><ellipse cx="256.8" cy="96.1" rx="4.26" ry="1.10" transform="rotate(49 256.8 96.1)"/><ellipse cx="257.8" cy="94.5" rx="3.41" ry="1.74" transform="rotate(114 257.8 94.5)"/><ellipse cx="256.9" cy="95.5" rx="3.45" ry="1.35" transform="rotate(111 256.9 95.5)"/><ellipse cx="256.8" cy="96.5" rx="3.87" ry="1.76" transform="rotate(128 256.8 96.5)"/><ellipse cx="255.9" cy="96.3" rx="4.44" ry="1.19" transform="rotate(63 255.9 96.3)"/><circle cx="261.5" cy="94.4" r="0.55"/><circle cx="255.4" cy="92.2" r="0.43"/><circle cx="257.3" cy="91.6" r="0.61"/>
<ellipse cx="234.9" cy="94.1" rx="2.20" ry="0.84" transform="rotate(162 234.9 94.1)"/><ellipse cx="235.3" cy="93.6" rx="2.06" ry="1.07" transform="rotate(83 235.3 93.6)"/><ellipse cx="234" cy="94.3" rx="2.48" ry="0.95" transform="rotate(79 234 94.3)"/><ellipse cx="234.7" cy="94.4" rx="2.31" ry="0.89" transform="rotate(133 234.7 94.4)"/><ellipse cx="235" cy="93.9" rx="1.75" ry="0.63" transform="rotate(138 235 93.9)"/><ellipse cx="235.2" cy="94.5" rx="2.40" ry="0.90" transform="rotate(147 235.2 94.5)"/><circle cx="237.3" cy="95.1" r="0.68"/><circle cx="233.2" cy="94.5" r="0.68"/><circle cx="232.8" cy="95.5" r="0.80"/>
<ellipse cx="154.6" cy="97.5" rx="3.22" ry="1.49" transform="rotate(147 154.6 97.5)"/><ellipse cx="155.2" cy="97.9" rx="3.07" ry="1.30" transform="rotate(1 155.2 97.9)"/><ellipse cx="155.2" cy="96.7" rx="3.59" ry="1.40" transform="rotate(45 155.2 96.7)"/><ellipse cx="153.3" cy="100.4" rx="4.19" ry="1.80" transform="rotate(9 153.3 100.4)"/><ellipse cx="154.3" cy="98.4" rx="3.64" ry="1.36" transform="rotate(46 154.3 98.4)"/><ellipse cx="152.4" cy="98.1" rx="3.29" ry="1.75" transform="rotate(83 152.4 98.1)"/><circle cx="155.6" cy="102.6" r="0.62"/><circle cx="157.4" cy="99.1" r="0.61"/><circle cx="150.7" cy="100.2" r="0.53"/>
<ellipse cx="162.2" cy="98.1" rx="2.21" ry="0.82" transform="rotate(143 162.2 98.1)"/><ellipse cx="163.2" cy="96.8" rx="2.30" ry="0.56" transform="rotate(81 163.2 96.8)"/><ellipse cx="162.4" cy="96.9" rx="2.28" ry="0.57" transform="rotate(78 162.4 96.9)"/><ellipse cx="163.2" cy="98.5" rx="1.95" ry="0.92" transform="rotate(107 163.2 98.5)"/><circle cx="160.2" cy="97.1" r="0.67"/><circle cx="162" cy="98.7" r="0.74"/>
<ellipse cx="187.6" cy="98.3" rx="1.35" ry="0.86" transform="rotate(165 187.6 98.3)"/><ellipse cx="186.8" cy="98.5" rx="1.51" ry="0.91" transform="rotate(171 186.8 98.5)"/><ellipse cx="187.7" cy="98.2" rx="1.96" ry="0.52" transform="rotate(123 187.7 98.2)"/><ellipse cx="187.4" cy="98.4" rx="1.85" ry="0.65" transform="rotate(150 187.4 98.4)"/><circle cx="186.1" cy="97.4" r="0.76"/><circle cx="186.5" cy="100.1" r="0.46"/>
<ellipse cx="179" cy="100.9" rx="2.21" ry="1.07" transform="rotate(176 179 100.9)"/><ellipse cx="178.8" cy="100.7" rx="2.32" ry="1.12" transform="rotate(40 178.8 100.7)"/><ellipse cx="179" cy="100.4" rx="2.82" ry="0.75" transform="rotate(77 179 100.4)"/><ellipse cx="181.2" cy="100.7" rx="2.41" ry="0.85" transform="rotate(166 181.2 100.7)"/><ellipse cx="179.2" cy="99.8" rx="2.96" ry="0.73" transform="rotate(62 179.2 99.8)"/><ellipse cx="180" cy="99.9" rx="2.43" ry="0.73" transform="rotate(87 180 99.9)"/><circle cx="180.6" cy="102.5" r="0.76"/><circle cx="180.4" cy="99" r="0.77"/><circle cx="181.9" cy="101.3" r="0.79"/>
<ellipse cx="173.6" cy="104.8" rx="2.63" ry="1.32" transform="rotate(61 173.6 104.8)"/><ellipse cx="171.8" cy="107.5" rx="2.90" ry="1.74" transform="rotate(80 171.8 107.5)"/><ellipse cx="173.3" cy="106.1" rx="2.73" ry="1.52" transform="rotate(53 173.3 106.1)"/><ellipse cx="170.6" cy="104.6" rx="2.60" ry="1.48" transform="rotate(141 170.6 104.6)"/><ellipse cx="171.4" cy="104.9" rx="3.73" ry="1.34" transform="rotate(17 171.4 104.9)"/><ellipse cx="171.4" cy="104.8" rx="2.88" ry="1.88" transform="rotate(67 171.4 104.8)"/><circle cx="169.5" cy="109.5" r="0.75"/><circle cx="168.7" cy="105.8" r="0.44"/><circle cx="174" cy="103.3" r="0.60"/>
<ellipse cx="203.8" cy="105.5" rx="2.17" ry="0.88" transform="rotate(21 203.8 105.5)"/><ellipse cx="204.5" cy="106.2" rx="1.76" ry="0.67" transform="rotate(66 204.5 106.2)"/><ellipse cx="204.9" cy="104.8" rx="2.61" ry="0.61" transform="rotate(43 204.9 104.8)"/><ellipse cx="202.9" cy="105.5" rx="2.21" ry="0.98" transform="rotate(169 202.9 105.5)"/><ellipse cx="204.3" cy="105" rx="1.83" ry="0.62" transform="rotate(41 204.3 105)"/><ellipse cx="203.6" cy="105.3" rx="2.61" ry="0.65" transform="rotate(70 203.6 105.3)"/><circle cx="202.5" cy="104.5" r="0.64"/><circle cx="204.8" cy="102.9" r="0.42"/><circle cx="204.3" cy="107.9" r="0.79"/>
<ellipse cx="231.7" cy="102.5" rx="1.51" ry="0.82" transform="rotate(111 231.7 102.5)"/><ellipse cx="232.2" cy="103.5" rx="2.09" ry="0.65" transform="rotate(83 232.2 103.5)"/><ellipse cx="232.5" cy="103.8" rx="1.89" ry="0.76" transform="rotate(73 232.5 103.8)"/><ellipse cx="232" cy="103.8" rx="1.37" ry="0.57" transform="rotate(27 232 103.8)"/><circle cx="231" cy="105.6" r="0.80"/><circle cx="232.6" cy="101.8" r="0.60"/>
<ellipse cx="218.2" cy="102.4" rx="1.94" ry="1.05" transform="rotate(163 218.2 102.4)"/><ellipse cx="218.3" cy="103.2" rx="2.65" ry="0.88" transform="rotate(152 218.3 103.2)"/><ellipse cx="219.4" cy="103.3" rx="2.69" ry="0.75" transform="rotate(29 219.4 103.3)"/><ellipse cx="219.9" cy="102.9" rx="2.69" ry="1.17" transform="rotate(149 219.9 102.9)"/><ellipse cx="217.4" cy="103.1" rx="2.80" ry="1.14" transform="rotate(144 217.4 103.1)"/><ellipse cx="217.6" cy="105.6" rx="2.40" ry="1.24" transform="rotate(156 217.6 105.6)"/><circle cx="220.7" cy="105.8" r="0.71"/><circle cx="218.2" cy="106.7" r="0.49"/><circle cx="219" cy="105.9" r="0.49"/>
<ellipse cx="182.5" cy="106.2" rx="1.95" ry="1.01" transform="rotate(163 182.5 106.2)"/><ellipse cx="182.2" cy="105.6" rx="2.48" ry="0.81" transform="rotate(142 182.2 105.6)"/><ellipse cx="182.1" cy="106.1" rx="1.89" ry="0.91" transform="rotate(15 182.1 106.1)"/><ellipse cx="182.9" cy="107.2" rx="2.07" ry="0.60" transform="rotate(150 182.9 107.2)"/><ellipse cx="183.2" cy="106.6" rx="2.21" ry="0.84" transform="rotate(19 183.2 106.6)"/><ellipse cx="183.1" cy="108" rx="2.50" ry="0.93" transform="rotate(60 183.1 108)"/><circle cx="182.5" cy="109" r="0.51"/><circle cx="182.3" cy="105.2" r="0.66"/><circle cx="183.5" cy="105.6" r="0.67"/>
<ellipse cx="159" cy="111.4" rx="2.11" ry="0.63" transform="rotate(148 159 111.4)"/><ellipse cx="159.4" cy="110.5" rx="2.05" ry="0.64" transform="rotate(40 159.4 110.5)"/><ellipse cx="159.5" cy="110.8" rx="2.14" ry="0.55" transform="rotate(89 159.5 110.8)"/><ellipse cx="159.2" cy="111.6" rx="1.18" ry="0.55" transform="rotate(149 159.2 111.6)"/><circle cx="160.5" cy="110.4" r="0.72"/><circle cx="158.8" cy="112.7" r="0.44"/>
<ellipse cx="164.5" cy="114.6" rx="2.67" ry="1.10" transform="rotate(155 164.5 114.6)"/><ellipse cx="166.2" cy="115.2" rx="2.07" ry="1.14" transform="rotate(119 166.2 115.2)"/><ellipse cx="164.7" cy="113.8" rx="1.99" ry="0.90" transform="rotate(65 164.7 113.8)"/><ellipse cx="166" cy="114.2" rx="1.97" ry="1.15" transform="rotate(121 166 114.2)"/><ellipse cx="165.9" cy="113.7" rx="2.21" ry="0.86" transform="rotate(10 165.9 113.7)"/><ellipse cx="166.3" cy="113.9" rx="2.45" ry="0.63" transform="rotate(135 166.3 113.9)"/><circle cx="164.4" cy="116.4" r="0.78"/><circle cx="166.7" cy="113.5" r="0.64"/><circle cx="163.8" cy="113.9" r="0.56"/>
<ellipse cx="187.3" cy="115.2" rx="2.04" ry="0.99" transform="rotate(115 187.3 115.2)"/><ellipse cx="188.8" cy="113.6" rx="2.73" ry="1.06" transform="rotate(75 188.8 113.6)"/><ellipse cx="188.9" cy="113.5" rx="2.58" ry="0.83" transform="rotate(68 188.9 113.5)"/><ellipse cx="186.2" cy="113.1" rx="2.72" ry="0.87" transform="rotate(29 186.2 113.1)"/><ellipse cx="185.9" cy="113.6" rx="1.87" ry="1.10" transform="rotate(25 185.9 113.6)"/><ellipse cx="187.5" cy="114" rx="2.05" ry="0.89" transform="rotate(30 187.5 114)"/><circle cx="190.7" cy="113.1" r="0.47"/><circle cx="186.4" cy="116.8" r="0.48"/><circle cx="186.5" cy="116" r="0.44"/>
<ellipse cx="213.2" cy="113.1" rx="1.62" ry="0.63" transform="rotate(70 213.2 113.1)"/><ellipse cx="213.3" cy="112.3" rx="2.02" ry="0.91" transform="rotate(163 213.3 112.3)"/><ellipse cx="215.2" cy="112.8" rx="1.84" ry="0.80" transform="rotate(56 215.2 112.8)"/><ellipse cx="214.5" cy="111.4" rx="1.72" ry="0.97" transform="rotate(120 214.5 111.4)"/><circle cx="212.7" cy="111.6" r="0.65"/><circle cx="214.3" cy="114.3" r="0.42"/>
<ellipse cx="221.6" cy="111.7" rx="2.07" ry="0.83" transform="rotate(101 221.6 111.7)"/><ellipse cx="221.5" cy="109.6" rx="2.64" ry="0.94" transform="rotate(12 221.5 109.6)"/><ellipse cx="223.4" cy="110.5" rx="2.60" ry="1.28" transform="rotate(145 223.4 110.5)"/><ellipse cx="222.3" cy="108.7" rx="2.25" ry="1.26" transform="rotate(114 222.3 108.7)"/><ellipse cx="222.4" cy="110.8" rx="2.82" ry="0.90" transform="rotate(133 222.4 110.8)"/><ellipse cx="223.6" cy="109.3" rx="2.43" ry="1.09" transform="rotate(33 223.6 109.3)"/><circle cx="224.5" cy="108.9" r="0.54"/><circle cx="225.1" cy="111.1" r="0.60"/><circle cx="224.6" cy="107.7" r="0.63"/>
<ellipse cx="234.7" cy="112" rx="2.34" ry="1.00" transform="rotate(103 234.7 112)"/><ellipse cx="234.3" cy="109.6" rx="2.00" ry="1.03" transform="rotate(27 234.3 109.6)"/><ellipse cx="234.9" cy="109.3" rx="2.18" ry="1.02" transform="rotate(161 234.9 109.3)"/><ellipse cx="234.6" cy="109.5" rx="2.13" ry="0.71" transform="rotate(23 234.6 109.5)"/><ellipse cx="233.8" cy="109.8" rx="1.74" ry="0.68" transform="rotate(12 233.8 109.8)"/><ellipse cx="235.8" cy="111.2" rx="2.56" ry="0.98" transform="rotate(40 235.8 111.2)"/><circle cx="233.4" cy="112.5" r="0.43"/><circle cx="236" cy="108.9" r="0.40"/><circle cx="233.7" cy="109.4" r="0.51"/>
<ellipse cx="255.2" cy="106.9" rx="1.23" ry="0.84" transform="rotate(80 255.2 106.9)"/><ellipse cx="256.4" cy="108.1" rx="1.53" ry="0.62" transform="rotate(19 256.4 108.1)"/><ellipse cx="256.5" cy="108.3" rx="1.40" ry="0.84" transform="rotate(102 256.5 108.3)"/><ellipse cx="256.1" cy="107.2" rx="1.95" ry="0.49" transform="rotate(145 256.1 107.2)"/><circle cx="254.5" cy="107.2" r="0.43"/><circle cx="254.8" cy="105.8" r="0.63"/>
<ellipse cx="259.6" cy="113.5" rx="2.43" ry="1.08" transform="rotate(92 259.6 113.5)"/><ellipse cx="260.6" cy="113.6" rx="2.56" ry="0.60" transform="rotate(144 260.6 113.6)"/><ellipse cx="260.5" cy="114.4" rx="2.21" ry="0.93" transform="rotate(86 260.5 114.4)"/><ellipse cx="259.7" cy="114.2" rx="1.89" ry="0.71" transform="rotate(81 259.7 114.2)"/><ellipse cx="259.9" cy="112.9" rx="1.93" ry="0.67" transform="rotate(34 259.9 112.9)"/><ellipse cx="260.2" cy="114.3" rx="2.07" ry="0.93" transform="rotate(126 260.2 114.3)"/><circle cx="262.5" cy="113.4" r="0.78"/><circle cx="262.2" cy="112.6" r="0.69"/><circle cx="261.7" cy="114.5" r="0.41"/>
<ellipse cx="171.5" cy="119.4" rx="3.08" ry="1.34" transform="rotate(155 171.5 119.4)"/><ellipse cx="169.1" cy="118.3" rx="3.16" ry="1.05" transform="rotate(29 169.1 118.3)"/><ellipse cx="170.1" cy="123.4" rx="4.20" ry="1.43" transform="rotate(31 170.1 123.4)"/><ellipse cx="172.4" cy="121.7" rx="4.14" ry="1.45" transform="rotate(18 172.4 121.7)"/><ellipse cx="173.7" cy="120" rx="3.52" ry="1.77" transform="rotate(178 173.7 120)"/><ellipse cx="173.1" cy="122.3" rx="3.58" ry="1.20" transform="rotate(23 173.1 122.3)"/><circle cx="171.7" cy="124" r="0.76"/><circle cx="170.6" cy="116.4" r="0.79"/><circle cx="167.7" cy="122.9" r="0.55"/>
<ellipse cx="231.6" cy="118.8" rx="2.56" ry="1.21" transform="rotate(146 231.6 118.8)"/><ellipse cx="231.1" cy="119.5" rx="4.25" ry="1.74" transform="rotate(105 231.1 119.5)"/><ellipse cx="233.8" cy="120.1" rx="3.64" ry="1.08" transform="rotate(83 233.8 120.1)"/><ellipse cx="229.3" cy="117.5" rx="3.53" ry="1.60" transform="rotate(58 229.3 117.5)"/><ellipse cx="231.3" cy="122.1" rx="3.32" ry="1.11" transform="rotate(37 231.3 122.1)"/><ellipse cx="231.8" cy="120" rx="3.47" ry="1.55" transform="rotate(106 231.8 120)"/><circle cx="228.3" cy="116" r="0.58"/><circle cx="235.2" cy="121.2" r="0.42"/><circle cx="227.6" cy="120" r="0.67"/>
<ellipse cx="167.3" cy="125.8" rx="2.25" ry="0.73" transform="rotate(43 167.3 125.8)"/><ellipse cx="167.8" cy="126.6" rx="1.94" ry="1.23" transform="rotate(163 167.8 126.6)"/><ellipse cx="166.9" cy="127.7" rx="2.72" ry="1.03" transform="rotate(41 166.9 127.7)"/><ellipse cx="168.4" cy="126.9" rx="2.92" ry="1.13" transform="rotate(133 168.4 126.9)"/><ellipse cx="168.7" cy="127" rx="2.86" ry="0.78" transform="rotate(6 168.7 127)"/><ellipse cx="169.1" cy="126.3" rx="2.85" ry="0.81" transform="rotate(120 169.1 126.3)"/><circle cx="169.1" cy="128.3" r="0.70"/><circle cx="170.6" cy="128.7" r="0.68"/><circle cx="169.2" cy="129.5" r="0.47"/>
<ellipse cx="216.3" cy="126.3" rx="4.37" ry="1.86" transform="rotate(92 216.3 126.3)"/><ellipse cx="215.5" cy="123.6" rx="4.23" ry="1.47" transform="rotate(0 215.5 123.6)"/><ellipse cx="212.6" cy="123.6" rx="2.69" ry="1.06" transform="rotate(111 212.6 123.6)"/><ellipse cx="214.2" cy="126.2" rx="2.55" ry="1.70" transform="rotate(98 214.2 126.2)"/><ellipse cx="215.6" cy="122.9" rx="3.48" ry="1.12" transform="rotate(4 215.6 122.9)"/><ellipse cx="214.9" cy="126.2" rx="2.76" ry="1.91" transform="rotate(117 214.9 126.2)"/><circle cx="211.1" cy="123.9" r="0.44"/><circle cx="213.9" cy="120.2" r="0.74"/><circle cx="217.4" cy="127.1" r="0.52"/>
<ellipse cx="205.2" cy="125.3" rx="2.70" ry="0.67" transform="rotate(26 205.2 125.3)"/><ellipse cx="208" cy="127.6" rx="2.47" ry="0.98" transform="rotate(13 208 127.6)"/><ellipse cx="206.1" cy="127.4" rx="2.54" ry="1.22" transform="rotate(82 206.1 127.4)"/><ellipse cx="207.6" cy="125" rx="2.79" ry="1.10" transform="rotate(131 207.6 125)"/><ellipse cx="206.4" cy="125.3" rx="2.24" ry="1.19" transform="rotate(5 206.4 125.3)"/><ellipse cx="207.9" cy="126.5" rx="2.62" ry="0.82" transform="rotate(32 207.9 126.5)"/><circle cx="206.3" cy="129" r="0.53"/><circle cx="209.1" cy="128.2" r="0.79"/><circle cx="205.2" cy="124.1" r="0.70"/>
<ellipse cx="200.9" cy="132.3" rx="3.10" ry="1.24" transform="rotate(150 200.9 132.3)"/><ellipse cx="199.6" cy="132.5" rx="4.36" ry="1.86" transform="rotate(74 199.6 132.5)"/><ellipse cx="199" cy="130.1" rx="4.37" ry="1.74" transform="rotate(59 199 130.1)"/><ellipse cx="200.6" cy="133.8" rx="3.18" ry="1.59" transform="rotate(95 200.6 133.8)"/><ellipse cx="195.5" cy="131.6" rx="2.86" ry="1.50" transform="rotate(66 195.5 131.6)"/><ellipse cx="195.8" cy="131.6" rx="3.37" ry="1.85" transform="rotate(116 195.8 131.6)"/><circle cx="196.9" cy="127.7" r="0.44"/><circle cx="199.5" cy="135.7" r="0.76"/><circle cx="202.1" cy="132.6" r="0.69"/>
<ellipse cx="192.8" cy="134.7" rx="2.83" ry="1.21" transform="rotate(31 192.8 134.7)"/><ellipse cx="194.1" cy="134.9" rx="1.85" ry="1.18" transform="rotate(135 194.1 134.9)"/><ellipse cx="193.9" cy="136.6" rx="2.76" ry="1.11" transform="rotate(37 193.9 136.6)"/><ellipse cx="192.9" cy="133.4" rx="2.26" ry="0.77" transform="rotate(118 192.9 133.4)"/><ellipse cx="194.9" cy="134.3" rx="2.02" ry="0.80" transform="rotate(12 194.9 134.3)"/><ellipse cx="195.4" cy="133.9" rx="2.21" ry="1.23" transform="rotate(88 195.4 133.9)"/><circle cx="195" cy="136.1" r="0.52"/><circle cx="191.5" cy="135.9" r="0.58"/><circle cx="193.8" cy="132.1" r="0.77"/>
<ellipse cx="226.7" cy="132.1" rx="4.25" ry="1.22" transform="rotate(61 226.7 132.1)"/><ellipse cx="227.2" cy="130.5" rx="3.10" ry="1.02" transform="rotate(153 227.2 130.5)"/><ellipse cx="227.2" cy="131.9" rx="3.89" ry="1.55" transform="rotate(34 227.2 131.9)"/><ellipse cx="226.9" cy="133" rx="2.73" ry="1.92" transform="rotate(119 226.9 133)"/><ellipse cx="225.6" cy="131" rx="2.99" ry="1.07" transform="rotate(68 225.6 131)"/><ellipse cx="227" cy="131.8" rx="4.52" ry="1.35" transform="rotate(2 227 131.8)"/><circle cx="226" cy="129.3" r="0.72"/><circle cx="226.5" cy="136" r="0.61"/><circle cx="229.1" cy="134.5" r="0.72"/>
</g>
<g filter="url(#b03)">
<circle cx="310.8" cy="78.9" r="3.04" fill="#6a6a6a" fill-opacity=".18" stroke="#6a6a6a" stroke-width="0.73"/>
<circle cx="300.9" cy="63.2" r="2.12" fill="#828282" fill-opacity=".18" stroke="#828282" stroke-width="0.51"/>
<circle cx="349.3" cy="87.8" r="3.29" fill="#4e4e4e" fill-opacity=".18" stroke="#4e4e4e" stroke-width="0.79"/>
<circle cx="351.7" cy="123.1" r="1.76" fill="#4a4a4a" fill-opacity=".18" stroke="#4a4a4a" stroke-width="0.45"/>
<circle cx="329.7" cy="111" r="1.42" fill="#595959" fill-opacity=".18" stroke="#595959" stroke-width="0.45"/>
<circle cx="331.8" cy="58.9" r="1.75" fill="#8e8e8e" fill-opacity=".18" stroke="#8e8e8e" stroke-width="0.45"/>
<circle cx="292.8" cy="48.6" r="2.07" fill="#939393" fill-opacity=".18" stroke="#939393" stroke-width="0.50"/>
<circle cx="287.7" cy="63.6" r="2.99" fill="#a2a2a2" fill-opacity=".18" stroke="#a2a2a2" stroke-width="0.72"/>
<circle cx="305.9" cy="58.6" r="3.28" fill="#696969" fill-opacity=".18" stroke="#696969" stroke-width="0.79"/>
<circle cx="289" cy="67.7" r="3.42" fill="#929292" fill-opacity=".18" stroke="#929292" stroke-width="0.82"/>
<circle cx="328.9" cy="72.8" r="1.69" fill="#b3b3b3" fill-opacity=".18" stroke="#b3b3b3" stroke-width="0.45"/>
<circle cx="319" cy="53.6" r="3.56" fill="#959595" fill-opacity=".18" stroke="#959595" stroke-width="0.85"/>
<circle cx="350.5" cy="91.9" r="1.26" fill="#939393" fill-opacity=".18" stroke="#939393" stroke-width="0.45"/>
<circle cx="360" cy="94.1" r="1.76" fill="#989898" fill-opacity=".18" stroke="#989898" stroke-width="0.45"/>
<circle cx="345.3" cy="105.2" r="1.55" fill="#cacaca" fill-opacity=".18" stroke="#cacaca" stroke-width="0.45"/>
<circle cx="372.6" cy="77.7" r="3.37" fill="#636363" fill-opacity=".18" stroke="#636363" stroke-width="0.81"/>
<circle cx="304.5" cy="100" r="3.36" fill="#535353" fill-opacity=".18" stroke="#535353" stroke-width="0.81"/>
<circle cx="300.7" cy="114.6" r="2.60" fill="#e1e1e1" fill-opacity=".18" stroke="#e1e1e1" stroke-width="0.62"/>
<circle cx="323.4" cy="107.9" r="1.23" fill="#e2e2e2" fill-opacity=".18" stroke="#e2e2e2" stroke-width="0.45"/>
<circle cx="305.2" cy="88.3" r="2.43" fill="#e2e2e2" fill-opacity=".18" stroke="#e2e2e2" stroke-width="0.58"/>
<circle cx="347.1" cy="63" r="3.20" fill="#676767" fill-opacity=".18" stroke="#676767" stroke-width="0.77"/>
<circle cx="314.8" cy="81.5" r="2.02" fill="#b4b4b4" fill-opacity=".18" stroke="#b4b4b4" stroke-width="0.49"/>
<circle cx="282.5" cy="78.3" r="1.59" fill="#cecece" fill-opacity=".18" stroke="#cecece" stroke-width="0.45"/>
<circle cx="307.8" cy="86.1" r="2.55" fill="#bbbbbb" fill-opacity=".18" stroke="#bbbbbb" stroke-width="0.61"/>
<circle cx="294.9" cy="65.3" r="1.49" fill="#e4e4e4" fill-opacity=".18" stroke="#e4e4e4" stroke-width="0.45"/>
<circle cx="296.1" cy="55.3" r="2.45" fill="#a5a5a5" fill-opacity=".18" stroke="#a5a5a5" stroke-width="0.59"/>
<circle cx="305.3" cy="58.2" r="2.61" fill="#909090" fill-opacity=".18" stroke="#909090" stroke-width="0.63"/>
<circle cx="351.5" cy="125.4" r="3.50" fill="#727272" fill-opacity=".18" stroke="#727272" stroke-width="0.84"/>
<circle cx="311.3" cy="70" r="3.52" fill="#d5d5d5" fill-opacity=".18" stroke="#d5d5d5" stroke-width="0.84"/>
<circle cx="325.4" cy="93.4" r="3.24" fill="#cbcbcb" fill-opacity=".18" stroke="#cbcbcb" stroke-width="0.78"/>
<circle cx="350.6" cy="91.7" r="1.48" fill="#6e6e6e" fill-opacity=".18" stroke="#6e6e6e" stroke-width="0.45"/>
<circle cx="351.1" cy="98.9" r="3.12" fill="#dadada" fill-opacity=".18" stroke="#dadada" stroke-width="0.75"/>
<circle cx="341.6" cy="59.6" r="2.86" fill="#707070" fill-opacity=".18" stroke="#707070" stroke-width="0.69"/>
<circle cx="305.5" cy="77.5" r="2.46" fill="#b5b5b5" fill-opacity=".18" stroke="#b5b5b5" stroke-width="0.59"/>
<circle cx="347.4" cy="87.8" r="2.81" fill="#c9c9c9" fill-opacity=".18" stroke="#c9c9c9" stroke-width="0.68"/>
<circle cx="353.2" cy="110.8" r="2.75" fill="#636363" fill-opacity=".18" stroke="#636363" stroke-width="0.66"/>
<circle cx="305.2" cy="83.8" r="3.50" fill="#686868" fill-opacity=".18" stroke="#686868" stroke-width="0.84"/>
<circle cx="359.4" cy="76.9" r="2.79" fill="#c4c4c4" fill-opacity=".18" stroke="#c4c4c4" stroke-width="0.67"/>
<circle cx="293.8" cy="63.6" r="1.72" fill="#717171" fill-opacity=".18" stroke="#717171" stroke-width="0.45"/>
<circle cx="323.9" cy="82.8" r="1.39" fill="#a6a6a6" fill-opacity=".18" stroke="#a6a6a6" stroke-width="0.45"/>
<circle cx="318.4" cy="110.3" r="2.25" fill="#626262" fill-opacity=".18" stroke="#626262" stroke-width="0.54"/>
<circle cx="349.3" cy="103.6" r="2.89" fill="#e5e5e5" fill-opacity=".18" stroke="#e5e5e5" stroke-width="0.69"/>
<circle cx="301.2" cy="116.3" r="1.92" fill="#707070" fill-opacity=".18" stroke="#707070" stroke-width="0.46"/>
<circle cx="368.7" cy="100.3" r="3.24" fill="#d6d6d6" fill-opacity=".18" stroke="#d6d6d6" stroke-width="0.78"/>
<circle cx="343.6" cy="61.2" r="1.24" fill="#9e9e9e" fill-opacity=".18" stroke="#9e9e9e" stroke-width="0.45"/>
<circle cx="358.4" cy="68.4" r="1.37" fill="#464646" fill-opacity=".18" stroke="#464646" stroke-width="0.45"/>
<circle cx="298.7" cy="109.5" r="1.21" fill="#6b6b6b" fill-opacity=".18" stroke="#6b6b6b" stroke-width="0.45"/>
<circle cx="308.6" cy="111" r="3.57" fill="#494949" fill-opacity=".18" stroke="#494949" stroke-width="0.86"/>
<circle cx="316.2" cy="92.7" r="1.97" fill="#8a8a8a" fill-opacity=".18" stroke="#8a8a8a" stroke-width="0.47"/>
<circle cx="331.7" cy="67.1" r="1.33" fill="#535353" fill-opacity=".18" stroke="#535353" stroke-width="0.45"/>
<circle cx="297.5" cy="50.9" r="2.70" fill="#b8b8b8" fill-opacity=".18" stroke="#b8b8b8" stroke-width="0.65"/>
<circle cx="308.4" cy="118.8" r="2.95" fill="#7e7e7e" fill-opacity=".18" stroke="#7e7e7e" stroke-width="0.71"/>
<circle cx="333.1" cy="60.3" r="3.43" fill="#a2a2a2" fill-opacity=".18" stroke="#a2a2a2" stroke-width="0.82"/>
<circle cx="285.5" cy="56.9" r="2.86" fill="#858585" fill-opacity=".18" stroke="#858585" stroke-width="0.69"/>
<circle cx="357.4" cy="64.3" r="3.11" fill="#cacaca" fill-opacity=".18" stroke="#cacaca" stroke-width="0.75"/>
<circle cx="290.2" cy="98.9" r="1.66" fill="#bababa" fill-opacity=".18" stroke="#bababa" stroke-width="0.45"/>
<circle cx="305" cy="51.1" r="2.79" fill="#a3a3a3" fill-opacity=".18" stroke="#a3a3a3" stroke-width="0.67"/>
<circle cx="294.9" cy="60.7" r="2.60" fill="#575757" fill-opacity=".18" stroke="#575757" stroke-width="0.62"/>
<circle cx="348.5" cy="65.4" r="1.82" fill="#8b8b8b" fill-opacity=".18" stroke="#8b8b8b" stroke-width="0.45"/>
<circle cx="337.6" cy="112.3" r="1.27" fill="#bdbdbd" fill-opacity=".18" stroke="#bdbdbd" stroke-width="0.45"/>
<circle cx="303.9" cy="70.2" r="2.74" fill="#b8b8b8" fill-opacity=".18" stroke="#b8b8b8" stroke-width="0.66"/>
<circle cx="302.1" cy="72.2" r="2.79" fill="#717171" fill-opacity=".18" stroke="#717171" stroke-width="0.67"/>
<circle cx="297" cy="64" r="3.05" fill="#cecece" fill-opacity=".18" stroke="#cecece" stroke-width="0.73"/>
<circle cx="365.8" cy="72" r="1.96" fill="#bcbcbc" fill-opacity=".18" stroke="#bcbcbc" stroke-width="0.47"/>
<circle cx="329.9" cy="61.2" r="1.49" fill="#999999" fill-opacity=".18" stroke="#999999" stroke-width="0.45"/>
<circle cx="336.3" cy="77.2" r="2.92" fill="#9d9d9d" fill-opacity=".18" stroke="#9d9d9d" stroke-width="0.70"/>
<circle cx="287.6" cy="79.5" r="2.36" fill="#6f6f6f" fill-opacity=".18" stroke="#6f6f6f" stroke-width="0.57"/>
<circle cx="352.2" cy="63.5" r="1.96" fill="#949494" fill-opacity=".18" stroke="#949494" stroke-width="0.47"/>
<circle cx="356.9" cy="116.7" r="2.09" fill="#8f8f8f" fill-opacity=".18" stroke="#8f8f8f" stroke-width="0.50"/>
<circle cx="329.2" cy="103.8" r="1.87" fill="#4c4c4c" fill-opacity=".18" stroke="#4c4c4c" stroke-width="0.45"/>
<circle cx="293.9" cy="87.2" r="2.69" fill="#777777" fill-opacity=".18" stroke="#777777" stroke-width="0.64"/>
<circle cx="363.2" cy="84.4" r="1.41" fill="#868686" fill-opacity=".18" stroke="#868686" stroke-width="0.45"/>
<circle cx="285.5" cy="69.9" r="3.04" fill="#5c5c5c" fill-opacity=".18" stroke="#5c5c5c" stroke-width="0.73"/>
<circle cx="291.5" cy="48.9" r="1.59" fill="#9d9d9d" fill-opacity=".18" stroke="#9d9d9d" stroke-width="0.45"/>
<circle cx="298.8" cy="116.2" r="2.22" fill="#7d7d7d" fill-opacity=".18" stroke="#7d7d7d" stroke-width="0.53"/>
<circle cx="293.3" cy="65.6" r="3.53" fill="#595959" fill-opacity=".18" stroke="#595959" stroke-width="0.85"/>
<circle cx="308" cy="113.8" r="3.34" fill="#dbdbdb" fill-opacity=".18" stroke="#dbdbdb" stroke-width="0.80"/>
<circle cx="345.2" cy="70" r="2.32" fill="#bcbcbc" fill-opacity=".18" stroke="#bcbcbc" stroke-width="0.56"/>
<circle cx="316.6" cy="66" r="1.81" fill="#939393" fill-opacity=".18" stroke="#939393" stroke-width="0.45"/>
<circle cx="372.3" cy="73.2" r="1.61" fill="#c0c0c0" fill-opacity=".18" stroke="#c0c0c0" stroke-width="0.45"/>
<circle cx="316.9" cy="60.2" r="2.20" fill="#cdcdcd" fill-opacity=".18" stroke="#cdcdcd" stroke-width="0.53"/>
<circle cx="373.2" cy="97.8" r="1.22" fill="#c3c3c3" fill-opacity=".18" stroke="#c3c3c3" stroke-width="0.45"/>
<circle cx="308.7" cy="77.5" r="2.10" fill="#808080" fill-opacity=".18" stroke="#808080" stroke-width="0.50"/>
<circle cx="304.5" cy="130.2" r="2.19" fill="#aeaeae" fill-opacity=".18" stroke="#aeaeae" stroke-width="0.52"/>
<circle cx="306.4" cy="131.2" r="3.13" fill="#e9e9e9" fill-opacity=".18" stroke="#e9e9e9" stroke-width="0.75"/>
<circle cx="358.6" cy="115.2" r="3.15" fill="#6f6f6f" fill-opacity=".18" stroke="#6f6f6f" stroke-width="0.76"/>
<circle cx="350.8" cy="78.9" r="3.22" fill="#5c5c5c" fill-opacity=".18" stroke="#5c5c5c" stroke-width="0.77"/>
<circle cx="338.2" cy="74.6" r="3.17" fill="#7e7e7e" fill-opacity=".18" stroke="#7e7e7e" stroke-width="0.76"/>
<circle cx="353.1" cy="105.3" r="1.32" fill="#d5d5d5" fill-opacity=".18" stroke="#d5d5d5" stroke-width="0.45"/>
<circle cx="339.2" cy="86.2" r="2.01" fill="#c7c7c7" fill-opacity=".18" stroke="#c7c7c7" stroke-width="0.48"/>
<circle cx="303.1" cy="75" r="1.80" fill="#565656" fill-opacity=".18" stroke="#565656" stroke-width="0.45"/>
<circle cx="366" cy="64" r="1.37" fill="#515151" fill-opacity=".18" stroke="#515151" stroke-width="0.45"/>
<circle cx="329.9" cy="81" r="3.13" fill="#e3e3e3" fill-opacity=".18" stroke="#e3e3e3" stroke-width="0.75"/>
<circle cx="313.5" cy="103.3" r="3.35" fill="#939393" fill-opacity=".18" stroke="#939393" stroke-width="0.80"/>
<circle cx="313.6" cy="126.8" r="2.58" fill="#575757" fill-opacity=".18" stroke="#575757" stroke-width="0.62"/>
<circle cx="343.4" cy="122.4" r="2.44" fill="#959595" fill-opacity=".18" stroke="#959595" stroke-width="0.59"/>
<circle cx="351.9" cy="62.2" r="2.07" fill="#818181" fill-opacity=".18" stroke="#818181" stroke-width="0.50"/>
<circle cx="326.7" cy="111.6" r="2.23" fill="#555555" fill-opacity=".18" stroke="#555555" stroke-width="0.54"/>
<circle cx="365.2" cy="76.6" r="1.73" fill="#c0c0c0" fill-opacity=".18" stroke="#c0c0c0" stroke-width="0.45"/>
<circle cx="326.8" cy="78.9" r="2.90" fill="#dfdfdf" fill-opacity=".18" stroke="#dfdfdf" stroke-width="0.70"/>
<circle cx="301.8" cy="71.3" r="1.99" fill="#bebebe" fill-opacity=".18" stroke="#bebebe" stroke-width="0.48"/>
<circle cx="300.2" cy="95" r="2.40" fill="#b4b4b4" fill-opacity=".18" stroke="#b4b4b4" stroke-width="0.58"/>
<circle cx="348.2" cy="119.9" r="2.22" fill="#a9a9a9" fill-opacity=".18" stroke="#a9a9a9" stroke-width="0.53"/>
<circle cx="308" cy="68.8" r="2.21" fill="#9a9a9a" fill-opacity=".18" stroke="#9a9a9a" stroke-width="0.53"/>
<circle cx="357.4" cy="114.6" r="1.77" fill="#707070" fill-opacity=".18" stroke="#707070" stroke-width="0.45"/>
<circle cx="335.8" cy="59" r="2.65" fill="#dbdbdb" fill-opacity=".18" stroke="#dbdbdb" stroke-width="0.64"/>
<circle cx="301.8" cy="98.8" r="2.93" fill="#c1c1c1" fill-opacity=".18" stroke="#c1c1c1" stroke-width="0.70"/>
<circle cx="356.9" cy="110.9" r="1.85" fill="#d0d0d0" fill-opacity=".18" stroke="#d0d0d0" stroke-width="0.45"/>
<circle cx="289.3" cy="48.8" r="3.11" fill="#b5b5b5" fill-opacity=".18" stroke="#b5b5b5" stroke-width="0.75"/>
<circle cx="295.3" cy="86.6" r="2.73" fill="#eaeaea" fill-opacity=".18" stroke="#eaeaea" stroke-width="0.66"/>
<circle cx="316.3" cy="116.4" r="1.79" fill="#666666" fill-opacity=".18" stroke="#666666" stroke-width="0.45"/>
<circle cx="297.4" cy="81.8" r="2.68" fill="#787878" fill-opacity=".18" stroke="#787878" stroke-width="0.64"/>
<circle cx="297.5" cy="63.2" r="1.40" fill="#656565" fill-opacity=".18" stroke="#656565" stroke-width="0.45"/>
<circle cx="314.1" cy="90.9" r="1.64" fill="#959595" fill-opacity=".18" stroke="#959595" stroke-width="0.45"/>
<circle cx="330.9" cy="61.2" r="2.62" fill="#5d5d5d" fill-opacity=".18" stroke="#5d5d5d" stroke-width="0.63"/>
<circle cx="298.3" cy="49.1" r="2.88" fill="#e5e5e5" fill-opacity=".18" stroke="#e5e5e5" stroke-width="0.69"/>
<circle cx="323.6" cy="76.3" r="2.22" fill="#808080" fill-opacity=".18" stroke="#808080" stroke-width="0.53"/>
<circle cx="354.6" cy="80" r="1.57" fill="#d4d4d4" fill-opacity=".18" stroke="#d4d4d4" stroke-width="0.45"/>
<circle cx="318.3" cy="103.1" r="3.41" fill="#888888" fill-opacity=".18" stroke="#888888" stroke-width="0.82"/>
<circle cx="326.7" cy="70.9" r="2.53" fill="#b3b3b3" fill-opacity=".18" stroke="#b3b3b3" stroke-width="0.61"/>
<circle cx="295.7" cy="77.5" r="3.24" fill="#c8c8c8" fill-opacity=".18" stroke="#c8c8c8" stroke-width="0.78"/>
<circle cx="343.7" cy="107.7" r="2.02" fill="#e1e1e1" fill-opacity=".18" stroke="#e1e1e1" stroke-width="0.48"/>
<circle cx="339.3" cy="81" r="1.64" fill="#595959" fill-opacity=".18" stroke="#595959" stroke-width="0.45"/>
<circle cx="282.9" cy="73.4" r="2.35" fill="#979797" fill-opacity=".18" stroke="#979797" stroke-width="0.56"/>
<circle cx="317.8" cy="93.6" r="3.43" fill="#afafaf" fill-opacity=".18" stroke="#afafaf" stroke-width="0.82"/>
<circle cx="331.5" cy="74.3" r="2.13" fill="#aaaaaa" fill-opacity=".18" stroke="#aaaaaa" stroke-width="0.51"/>
<circle cx="364.9" cy="67.3" r="2.09" fill="#858585" fill-opacity=".18" stroke="#858585" stroke-width="0.50"/>
<circle cx="338.2" cy="68.8" r="2.00" fill="#cdcdcd" fill-opacity=".18" stroke="#cdcdcd" stroke-width="0.48"/>
<circle cx="297.3" cy="108.9" r="1.25" fill="#656565" fill-opacity=".18" stroke="#656565" stroke-width="0.45"/>
<circle cx="295.9" cy="64.1" r="1.34" fill="#717171" fill-opacity=".18" stroke="#717171" stroke-width="0.45"/>
<circle cx="359.2" cy="111.9" r="3.38" fill="#e2e2e2" fill-opacity=".18" stroke="#e2e2e2" stroke-width="0.81"/>
<circle cx="326.9" cy="60.7" r="3.00" fill="#d3d3d3" fill-opacity=".18" stroke="#d3d3d3" stroke-width="0.72"/>
<circle cx="356.5" cy="103.1" r="1.47" fill="#606060" fill-opacity=".18" stroke="#606060" stroke-width="0.45"/>
<circle cx="299.5" cy="101.1" r="2.81" fill="#e5e5e5" fill-opacity=".18" stroke="#e5e5e5" stroke-width="0.68"/>
<circle cx="326.9" cy="79.9" r="1.81" fill="#6c6c6c" fill-opacity=".18" stroke="#6c6c6c" stroke-width="0.45"/>
<circle cx="299.4" cy="56.8" r="2.04" fill="#bfbfbf" fill-opacity=".18" stroke="#bfbfbf" stroke-width="0.49"/>
<circle cx="286.4" cy="93.4" r="2.83" fill="#4b4b4b" fill-opacity=".18" stroke="#4b4b4b" stroke-width="0.68"/>
<circle cx="327.5" cy="118.7" r="2.58" fill="#909090" fill-opacity=".18" stroke="#909090" stroke-width="0.62"/>
<circle cx="375.2" cy="100.3" r="2.01" fill="#878787" fill-opacity=".18" stroke="#878787" stroke-width="0.48"/>
<circle cx="295.4" cy="59" r="2.12" fill="#b7b7b7" fill-opacity=".18" stroke="#b7b7b7" stroke-width="0.51"/>
<circle cx="364.9" cy="91.9" r="1.21" fill="#c9c9c9" fill-opacity=".18" stroke="#c9c9c9" stroke-width="0.45"/>
<circle cx="324.7" cy="106.9" r="2.57" fill="#bebebe" fill-opacity=".18" stroke="#bebebe" stroke-width="0.62"/>
<circle cx="346.4" cy="72.7" r="2.10" fill="#727272" fill-opacity=".18" stroke="#727272" stroke-width="0.50"/>
<circle cx="314.4" cy="115.5" r="1.83" fill="#aaaaaa" fill-opacity=".18" stroke="#aaaaaa" stroke-width="0.45"/>
<circle cx="332.8" cy="68.7" r="3.41" fill="#535353" fill-opacity=".18" stroke="#535353" stroke-width="0.82"/>
<circle cx="296.1" cy="115.8" r="2.58" fill="#dbdbdb" fill-opacity=".18" stroke="#dbdbdb" stroke-width="0.62"/>
<circle cx="343.3" cy="83.4" r="3.44" fill="#545454" fill-opacity=".18" stroke="#545454" stroke-width="0.83"/>
<circle cx="309.9" cy="53" r="3.29" fill="#8e8e8e" fill-opacity=".18" stroke="#8e8e8e" stroke-width="0.79"/>
<circle cx="358.4" cy="66.9" r="2.95" fill="#b1b1b1" fill-opacity=".18" stroke="#b1b1b1" stroke-width="0.71"/>
<circle cx="290.5" cy="89.9" r="2.93" fill="#696969" fill-opacity=".18" stroke="#696969" stroke-width="0.70"/>
<circle cx="350.7" cy="69" r="2.09" fill="#dddddd" fill-opacity=".18" stroke="#dddddd" stroke-width="0.50"/>
<circle cx="326.1" cy="97.5" r="3.14" fill="#c3c3c3" fill-opacity=".18" stroke="#c3c3c3" stroke-width="0.75"/>
<circle cx="348.8" cy="78.5" r="1.80" fill="#cccccc" fill-opacity=".18" stroke="#cccccc" stroke-width="0.45"/>
<circle cx="283.6" cy="88.4" r="1.41" fill="#d2d2d2" fill-opacity=".18" stroke="#d2d2d2" stroke-width="0.45"/>
<circle cx="330.2" cy="87.5" r="2.92" fill="#bebebe" fill-opacity=".18" stroke="#bebebe" stroke-width="0.70"/>
<circle cx="317.1" cy="132.5" r="1.64" fill="#5c5c5c" fill-opacity=".18" stroke="#5c5c5c" stroke-width="0.45"/>
<circle cx="300.1" cy="90.5" r="2.01" fill="#616161" fill-opacity=".18" stroke="#616161" stroke-width="0.48"/>
<circle cx="364.9" cy="66.3" r="3.39" fill="#6a6a6a" fill-opacity=".18" stroke="#6a6a6a" stroke-width="0.81"/>
<circle cx="348.1" cy="93.7" r="3.25" fill="#8f8f8f" fill-opacity=".18" stroke="#8f8f8f" stroke-width="0.78"/>
<circle cx="367" cy="108.2" r="2.99" fill="#6c6c6c" fill-opacity=".18" stroke="#6c6c6c" stroke-width="0.72"/>
<circle cx="297.3" cy="108.3" r="2.53" fill="#888888" fill-opacity=".18" stroke="#888888" stroke-width="0.61"/>
<circle cx="298.1" cy="55.3" r="2.33" fill="#979797" fill-opacity=".18" stroke="#979797" stroke-width="0.56"/>
<circle cx="308.9" cy="77.7" r="2.53" fill="#c3c3c3" fill-opacity=".18" stroke="#c3c3c3" stroke-width="0.61"/>
<circle cx="375.7" cy="77.7" r="3.50" fill="#e7e7e7" fill-opacity=".18" stroke="#e7e7e7" stroke-width="0.84"/>
<circle cx="295.2" cy="98.5" r="3.52" fill="#858585" fill-opacity=".18" stroke="#858585" stroke-width="0.84"/>
<circle cx="339.1" cy="72.4" r="1.27" fill="#676767" fill-opacity=".18" stroke="#676767" stroke-width="0.45"/>
<circle cx="293.4" cy="69.6" r="2.71" fill="#a2a2a2" fill-opacity=".18" stroke="#a2a2a2" stroke-width="0.65"/>
<circle cx="348.5" cy="94.7" r="3.27" fill="#b4b4b4" fill-opacity=".18" stroke="#b4b4b4" stroke-width="0.78"/>
<circle cx="318.9" cy="100.7" r="1.92" fill="#e5e5e5" fill-opacity=".18" stroke="#e5e5e5" stroke-width="0.46"/>
<circle cx="339.7" cy="62" r="2.42" fill="#595959" fill-opacity=".18" stroke="#595959" stroke-width="0.58"/>
<circle cx="370.4" cy="106.9" r="2.84" fill="#dedede" fill-opacity=".18" stroke="#dedede" stroke-width="0.68"/>
<circle cx="285.3" cy="83.4" r="3.53" fill="#797979" fill-opacity=".18" stroke="#797979" stroke-width="0.85"/>
<circle cx="343.7" cy="122" r="1.23" fill="#676767" fill-opacity=".18" stroke="#676767" stroke-width="0.45"/>
<circle cx="299.4" cy="122.7" r="1.44" fill="#dfdfdf" fill-opacity=".18" stroke="#dfdfdf" stroke-width="0.45"/>
<circle cx="308.9" cy="127.4" r="2.44" fill="#7b7b7b" fill-opacity=".18" stroke="#7b7b7b" stroke-width="0.58"/>
<circle cx="309.2" cy="56.3" r="2.07" fill="#b3b3b3" fill-opacity=".18" stroke="#b3b3b3" stroke-width="0.50"/>
<circle cx="358.4" cy="95.5" r="2.06" fill="#dadada" fill-opacity=".18" stroke="#dadada" stroke-width="0.49"/>
<circle cx="307.5" cy="55.7" r="1.58" fill="#5e5e5e" fill-opacity=".18" stroke="#5e5e5e" stroke-width="0.45"/>
<circle cx="343.6" cy="119.7" r="1.58" fill="#989898" fill-opacity=".18" stroke="#989898" stroke-width="0.45"/>
<circle cx="342" cy="96.4" r="2.19" fill="#9f9f9f" fill-opacity=".18" stroke="#9f9f9f" stroke-width="0.53"/>
<circle cx="325.6" cy="65" r="3.02" fill="#6d6d6d" fill-opacity=".18" stroke="#6d6d6d" stroke-width="0.72"/>
<circle cx="369" cy="65.4" r="1.42" fill="#949494" fill-opacity=".18" stroke="#949494" stroke-width="0.45"/>
<circle cx="321.9" cy="74.5" r="3.04" fill="#6a6a6a" fill-opacity=".18" stroke="#6a6a6a" stroke-width="0.73"/>
<circle cx="352.4" cy="123" r="2.29" fill="#999999" fill-opacity=".18" stroke="#999999" stroke-width="0.55"/>
<circle cx="299.5" cy="48.7" r="1.40" fill="#7c7c7c" fill-opacity=".18" stroke="#7c7c7c" stroke-width="0.45"/>
<circle cx="289.6" cy="104.9" r="2.22" fill="#787878" fill-opacity=".18" stroke="#787878" stroke-width="0.53"/>
<circle cx="306.4" cy="57" r="1.93" fill="#7b7b7b" fill-opacity=".18" stroke="#7b7b7b" stroke-width="0.46"/>
<circle cx="326.3" cy="58.1" r="1.31" fill="#5a5a5a" fill-opacity=".18" stroke="#5a5a5a" stroke-width="0.45"/>
<circle cx="371.5" cy="104.9" r="1.58" fill="#adadad" fill-opacity=".18" stroke="#adadad" stroke-width="0.45"/>
<circle cx="286.3" cy="91.2" r="2.00" fill="#565656" fill-opacity=".18" stroke="#565656" stroke-width="0.48"/>
<circle cx="360.2" cy="111.5" r="2.43" fill="#616161" fill-opacity=".18" stroke="#616161" stroke-width="0.58"/>
<circle cx="352.3" cy="84" r="2.79" fill="#555555" fill-opacity=".18" stroke="#555555" stroke-width="0.67"/>
<circle cx="304.1" cy="80.6" r="1.68" fill="#545454" fill-opacity=".18" stroke="#545454" stroke-width="0.45"/>
<circle cx="316.2" cy="67.8" r="2.81" fill="#6a6a6a" fill-opacity=".18" stroke="#6a6a6a" stroke-width="0.67"/>
<circle cx="323.3" cy="108.8" r="2.23" fill="#5f5f5f" fill-opacity=".18" stroke="#5f5f5f" stroke-width="0.54"/>
<circle cx="287.6" cy="94.7" r="3.58" fill="#dddddd" fill-opacity=".18" stroke="#dddddd" stroke-width="0.86"/>
<circle cx="290.8" cy="90.7" r="2.37" fill="#666666" fill-opacity=".18" stroke="#666666" stroke-width="0.57"/>
<circle cx="352.3" cy="90.1" r="3.14" fill="#767676" fill-opacity=".18" stroke="#767676" stroke-width="0.75"/>
<circle cx="354.1" cy="109.7" r="2.59" fill="#e7e7e7" fill-opacity=".18" stroke="#e7e7e7" stroke-width="0.62"/>
<circle cx="314.8" cy="47.2" r="2.60" fill="#bdbdbd" fill-opacity=".18" stroke="#bdbdbd" stroke-width="0.62"/>
<circle cx="317.6" cy="109.5" r="2.08" fill="#bbbbbb" fill-opacity=".18" stroke="#bbbbbb" stroke-width="0.50"/>
<circle cx="373.4" cy="103.8" r="1.57" fill="#d5d5d5" fill-opacity=".18" stroke="#d5d5d5" stroke-width="0.45"/>
<circle cx="321.1" cy="107.1" r="1.21" fill="#4c4c4c" fill-opacity=".18" stroke="#4c4c4c" stroke-width="0.45"/>
<circle cx="318.2" cy="126.8" r="3.59" fill="#7a7a7a" fill-opacity=".18" stroke="#7a7a7a" stroke-width="0.86"/>
<circle cx="373.4" cy="99.1" r="3.53" fill="#b0b0b0" fill-opacity=".18" stroke="#b0b0b0" stroke-width="0.85"/>
<circle cx="301.2" cy="92.3" r="2.36" fill="#7d7d7d" fill-opacity=".18" stroke="#7d7d7d" stroke-width="0.57"/>
<circle cx="320.4" cy="91.5" r="2.61" fill="#6a6a6a" fill-opacity=".18" stroke="#6a6a6a" stroke-width="0.63"/>
<circle cx="310" cy="90.8" r="2.41" fill="#8b8b8b" fill-opacity=".18" stroke="#8b8b8b" stroke-width="0.58"/>
<circle cx="337.4" cy="68.8" r="3.05" fill="#bababa" fill-opacity=".18" stroke="#bababa" stroke-width="0.73"/>
<circle cx="364.4" cy="92.2" r="1.80" fill="#dedede" fill-opacity=".18" stroke="#dedede" stroke-width="0.45"/>
<circle cx="335.2" cy="78.4" r="1.90" fill="#888888" fill-opacity=".18" stroke="#888888" stroke-width="0.46"/>
<circle cx="356.5" cy="121.4" r="2.36" fill="#bebebe" fill-opacity=".18" stroke="#bebebe" stroke-width="0.57"/>
<circle cx="303" cy="85.8" r="2.06" fill="#787878" fill-opacity=".18" stroke="#787878" stroke-width="0.49"/>
<circle cx="318.8" cy="115.2" r="2.96" fill="#686868" fill-opacity=".18" stroke="#686868" stroke-width="0.71"/>
<circle cx="305.3" cy="118.1" r="2.77" fill="#b5b5b5" fill-opacity=".18" stroke="#b5b5b5" stroke-width="0.67"/>
<circle cx="348.6" cy="109.3" r="1.85" fill="#505050" fill-opacity=".18" stroke="#505050" stroke-width="0.45"/>
<circle cx="366.9" cy="64.2" r="2.01" fill="#575757" fill-opacity=".18" stroke="#575757" stroke-width="0.48"/>
<circle cx="332.7" cy="77.8" r="1.85" fill="#969696" fill-opacity=".18" stroke="#969696" stroke-width="0.45"/>
<circle cx="327.4" cy="82.9" r="1.95" fill="#e6e6e6" fill-opacity=".18" stroke="#e6e6e6" stroke-width="0.47"/>
<circle cx="299.8" cy="57.3" r="1.87" fill="#dedede" fill-opacity=".18" stroke="#dedede" stroke-width="0.45"/>
<circle cx="372.1" cy="74.2" r="3.24" fill="#d8d8d8" fill-opacity=".18" stroke="#d8d8d8" stroke-width="0.78"/>
<circle cx="326.1" cy="60.7" r="3.05" fill="#838383" fill-opacity=".18" stroke="#838383" stroke-width="0.73"/>
<circle cx="327.5" cy="80.6" r="2.63" fill="#707070" fill-opacity=".18" stroke="#707070" stroke-width="0.63"/>
<circle cx="282.2" cy="79.8" r="2.11" fill="#474747" fill-opacity=".18" stroke="#474747" stroke-width="0.51"/>
<circle cx="320.2" cy="115.8" r="2.00" fill="#b6b6b6" fill-opacity=".18" stroke="#b6b6b6" stroke-width="0.48"/>
<circle cx="347.5" cy="60.3" r="1.25" fill="#b5b5b5" fill-opacity=".18" stroke="#b5b5b5" stroke-width="0.45"/>
<circle cx="346" cy="70.5" r="1.68" fill="#d3d3d3" fill-opacity=".18" stroke="#d3d3d3" stroke-width="0.45"/>
<circle cx="343.3" cy="97.7" r="1.97" fill="#4c4c4c" fill-opacity=".18" stroke="#4c4c4c" stroke-width="0.47"/>
<circle cx="315.1" cy="104.5" r="2.64" fill="#9a9a9a" fill-opacity=".18" stroke="#9a9a9a" stroke-width="0.63"/>
<circle cx="293.2" cy="62.6" r="1.95" fill="#8a8a8a" fill-opacity=".18" stroke="#8a8a8a" stroke-width="0.47"/>
</g>
<g filter="url(#b03)">
<circle cx="306" cy="127.7" r="1.13" fill="#bdbdbd"/>
<circle cx="320.7" cy="63" r="1.33" fill="#e9e9e9"/>
<circle cx="309.1" cy="121.3" r="1.49" fill="#d0d0d0"/>
<circle cx="285.9" cy="90" r="1.16" fill="#bcbcbc"/>
<circle cx="339.2" cy="90.6" r="0.69" fill="#e9e9e9"/>
<circle cx="308.1" cy="119.5" r="1.49" fill="#cdcdcd"/>
<circle cx="289.8" cy="96.5" r="0.60" fill="#bbbbbb"/>
<circle cx="290.1" cy="67.2" r="0.99" fill="#c7c7c7"/>
<circle cx="334.8" cy="82.9" r="1.06" fill="#e2e2e2"/>
<circle cx="335.1" cy="99" r="1.38" fill="#c7c7c7"/>
<circle cx="302.6" cy="129.3" r="0.90" fill="#c6c6c6"/>
<circle cx="346.4" cy="104.5" r="0.68" fill="#c0c0c0"/>
<circle cx="337.5" cy="85.9" r="1.36" fill="#c4c4c4"/>
<circle cx="316.6" cy="93" r="0.92" fill="#f6f6f6"/>
<circle cx="323.4" cy="72.8" r="1.20" fill="#dedede"/>
<circle cx="328.2" cy="92.1" r="1.31" fill="#bcbcbc"/>
<circle cx="320.5" cy="117.9" r="0.80" fill="#acacac"/>
<circle cx="353" cy="99.3" r="0.78" fill="#cfcfcf"/>
<circle cx="298.7" cy="111" r="0.83" fill="#e1e1e1"/>
<circle cx="349.6" cy="70.8" r="0.75" fill="#dbdbdb"/>
<circle cx="335" cy="84.8" r="0.72" fill="#d6d6d6"/>
<circle cx="332.2" cy="108.7" r="0.88" fill="#b4b4b4"/>
<circle cx="353.3" cy="103.1" r="1.30" fill="#dbdbdb"/>
<circle cx="341.7" cy="77.6" r="1.35" fill="#cdcdcd"/>
<circle cx="341.2" cy="119.5" r="1.00" fill="#c7c7c7"/>
<circle cx="350.5" cy="68.4" r="0.63" fill="#dadada"/>
<circle cx="358.6" cy="81.1" r="0.76" fill="#ededed"/>
<circle cx="369.4" cy="101.1" r="1.40" fill="#ababab"/>
<circle cx="354.4" cy="102.1" r="0.78" fill="#eeeeee"/>
<circle cx="377" cy="86.8" r="0.90" fill="#acacac"/>
<circle cx="287.1" cy="65.7" r="0.71" fill="#dbdbdb"/>
<circle cx="297.2" cy="83.1" r="1.43" fill="#c0c0c0"/>
<circle cx="365.9" cy="82.2" r="1.33" fill="#f4f4f4"/>
<circle cx="359.1" cy="78" r="1.43" fill="#b1b1b1"/>
<circle cx="339.6" cy="108.4" r="0.73" fill="#eeeeee"/>
<circle cx="355.5" cy="96.7" r="1.01" fill="#e8e8e8"/>
<circle cx="310.4" cy="118.8" r="0.82" fill="#ececec"/>
<circle cx="355.1" cy="91.3" r="0.80" fill="#bbbbbb"/>
<circle cx="335.1" cy="99.6" r="1.28" fill="#acacac"/>
<circle cx="318.5" cy="76.6" r="1.26" fill="#c5c5c5"/>
<circle cx="351.1" cy="92.1" r="0.74" fill="#d3d3d3"/>
<circle cx="301.4" cy="117.1" r="1.33" fill="#c6c6c6"/>
<circle cx="290.2" cy="81.8" r="1.03" fill="#dcdcdc"/>
<circle cx="320.7" cy="105.7" r="0.99" fill="#bbbbbb"/>
<circle cx="307.4" cy="125.6" r="1.14" fill="#d6d6d6"/>
<circle cx="347.6" cy="69.9" r="0.86" fill="#e8e8e8"/>
<circle cx="353.2" cy="124.4" r="1.21" fill="#cccccc"/>
<circle cx="290.9" cy="92.5" r="0.73" fill="#d2d2d2"/>
<circle cx="303.9" cy="128.5" r="0.73" fill="#c9c9c9"/>
<circle cx="299.8" cy="105.6" r="1.03" fill="#b9b9b9"/>
<circle cx="338.1" cy="94.7" r="1.35" fill="#d2d2d2"/>
<circle cx="301.5" cy="63" r="1.11" fill="#e7e7e7"/>
<circle cx="338.1" cy="77.2" r="0.88" fill="#e8e8e8"/>
<circle cx="358.5" cy="78" r="1.18" fill="#d7d7d7"/>
<circle cx="320.1" cy="97.9" r="1.18" fill="#afafaf"/>
</g>
<g fill="#dcdcdc" filter="url(#b03)"><ellipse cx="351.2" cy="125.2" rx="3.52" ry="0.96" transform="rotate(124 351.2 125.2)"/><ellipse cx="350.7" cy="123.7" rx="2.65" ry="0.95" transform="rotate(151 350.7 123.7)"/><ellipse cx="351.5" cy="124.7" rx="2.65" ry="1.12" transform="rotate(45 351.5 124.7)"/><ellipse cx="349.1" cy="125.4" rx="3.50" ry="0.97" transform="rotate(83 349.1 125.4)"/><ellipse cx="351.4" cy="124" rx="2.39" ry="1.44" transform="rotate(40 351.4 124)"/><ellipse cx="351.2" cy="124" rx="2.27" ry="1.49" transform="rotate(140 351.2 124)"/><circle cx="346.8" cy="126.2" r="0.56"/><circle cx="349.4" cy="126.3" r="0.78"/><circle cx="347.2" cy="123.7" r="0.57"/><ellipse cx="378.7" cy="73.1" rx="1.64" ry="0.78" transform="rotate(138 378.7 73.1)"/><ellipse cx="377.4" cy="74.4" rx="2.08" ry="0.81" transform="rotate(160 377.4 74.4)"/><ellipse cx="378.3" cy="74.8" rx="2.44" ry="0.61" transform="rotate(103 378.3 74.8)"/><ellipse cx="379.8" cy="72.5" rx="1.45" ry="0.90" transform="rotate(66 379.8 72.5)"/><ellipse cx="378.7" cy="73.2" rx="1.58" ry="0.73" transform="rotate(113 378.7 73.2)"/><circle cx="377.7" cy="71.4" r="0.48"/><circle cx="376.8" cy="72" r="0.66"/><ellipse cx="370.2" cy="101.9" rx="2.13" ry="0.75" transform="rotate(3 370.2 101.9)"/><ellipse cx="370.6" cy="101.2" rx="2.36" ry="0.73" transform="rotate(23 370.6 101.2)"/><ellipse cx="371" cy="101.4" rx="2.29" ry="0.61" transform="rotate(98 371 101.4)"/><ellipse cx="372" cy="101.9" rx="1.86" ry="0.67" transform="rotate(168 372 101.9)"/><ellipse cx="370.1" cy="101.7" rx="1.57" ry="0.84" transform="rotate(71 370.1 101.7)"/><circle cx="370" cy="104.4" r="0.55"/><circle cx="369.1" cy="102.4" r="0.79"/></g>
<g filter="url(#b05)">
<circle cx="66.1" cy="261.3" r="1.31" fill="#c0c0c0" fill-opacity=".18" stroke="#c0c0c0" stroke-width="0.45"/>
<circle cx="81.8" cy="240.2" r="1.38" fill="#555555" fill-opacity=".18" stroke="#555555" stroke-width="0.45"/>
<circle cx="95.4" cy="256.6" r="0.99" fill="#b6b6b6"/>
<circle cx="50" cy="218.8" r="1.67" fill="#cecece"/>
<circle cx="52.7" cy="210.3" r="1.38" fill="#545454" fill-opacity=".18" stroke="#545454" stroke-width="0.45"/>
<circle cx="71.5" cy="261.3" r="0.88" fill="#afafaf" fill-opacity=".18" stroke="#afafaf" stroke-width="0.45"/>
<circle cx="107.9" cy="241.4" r="0.70" fill="#b0b0b0"/>
<circle cx="111" cy="249" r="0.85" fill="#525252"/>
<circle cx="99.2" cy="230.8" r="1.25" fill="#6a6a6a"/>
<circle cx="100.1" cy="192.2" r="1.11" fill="#727272" fill-opacity=".18" stroke="#727272" stroke-width="0.45"/>
<circle cx="129.5" cy="236.2" r="1.72" fill="#5d5d5d"/>
<circle cx="44" cy="194.7" r="0.88" fill="#5d5d5d" fill-opacity=".18" stroke="#5d5d5d" stroke-width="0.45"/>
<circle cx="45.9" cy="199.5" r="1.23" fill="#757575"/>
<circle cx="58.5" cy="233.8" r="1.01" fill="#9f9f9f"/>
<circle cx="75.1" cy="210.9" r="1.23" fill="#bcbcbc"/>
<circle cx="113.9" cy="247.9" r="1.48" fill="#949494"/>
<circle cx="41.5" cy="249.2" r="2.08" fill="#747474" fill-opacity=".18" stroke="#747474" stroke-width="0.50"/>
<circle cx="137.3" cy="219.8" r="1.86" fill="#727272" fill-opacity=".18" stroke="#727272" stroke-width="0.45"/>
<circle cx="100.4" cy="273.7" r="1.85" fill="#a7a7a7" fill-opacity=".18" stroke="#a7a7a7" stroke-width="0.45"/>
<circle cx="129" cy="246.6" r="1.14" fill="#676767" fill-opacity=".18" stroke="#676767" stroke-width="0.45"/>
<circle cx="97.7" cy="256.8" r="0.92" fill="#b0b0b0" fill-opacity=".18" stroke="#b0b0b0" stroke-width="0.45"/>
<circle cx="114.5" cy="245.3" r="1.44" fill="#a7a7a7"/>
<circle cx="104.1" cy="271.3" r="1.15" fill="#848484"/>
<circle cx="69.6" cy="180" r="1.32" fill="#a7a7a7" fill-opacity=".18" stroke="#a7a7a7" stroke-width="0.45"/>
<circle cx="61.7" cy="220.8" r="2.05" fill="#d0d0d0" fill-opacity=".18" stroke="#d0d0d0" stroke-width="0.49"/>
<circle cx="121.8" cy="221.3" r="1.11" fill="#c1c1c1" fill-opacity=".18" stroke="#c1c1c1" stroke-width="0.45"/>
<circle cx="73.6" cy="173" r="1.65" fill="#c0c0c0"/>
<circle cx="93.7" cy="187.5" r="1.28" fill="#7a7a7a" fill-opacity=".18" stroke="#7a7a7a" stroke-width="0.45"/>
<circle cx="74.2" cy="203.9" r="1.31" fill="#656565"/>
<circle cx="76.1" cy="237.5" r="1.47" fill="#646464"/>
<circle cx="102.9" cy="198.2" r="1.01" fill="#c2c2c2"/>
<circle cx="80.3" cy="226.6" r="1.10" fill="#8a8a8a"/>
<circle cx="106.3" cy="198.2" r="1.74" fill="#505050"/>
<circle cx="84.8" cy="231.2" r="1.72" fill="#5d5d5d" fill-opacity=".18" stroke="#5d5d5d" stroke-width="0.45"/>
<circle cx="58.2" cy="222.3" r="1.75" fill="#767676"/>
<circle cx="135.7" cy="219.7" r="1.62" fill="#606060"/>
<circle cx="73.2" cy="176.8" r="1.51" fill="#adadad" fill-opacity=".18" stroke="#adadad" stroke-width="0.45"/>
<circle cx="107.4" cy="255.1" r="1.12" fill="#737373"/>
<circle cx="74.4" cy="184.3" r="1.62" fill="#b9b9b9" fill-opacity=".18" stroke="#b9b9b9" stroke-width="0.45"/>
<circle cx="127.9" cy="200.5" r="1.22" fill="#9c9c9c" fill-opacity=".18" stroke="#9c9c9c" stroke-width="0.45"/>
<circle cx="73.1" cy="235.2" r="1.72" fill="#7c7c7c" fill-opacity=".18" stroke="#7c7c7c" stroke-width="0.45"/>
<circle cx="58.2" cy="188.8" r="1.54" fill="#cecece"/>
<circle cx="39.3" cy="234" r="0.94" fill="#7a7a7a" fill-opacity=".18" stroke="#7a7a7a" stroke-width="0.45"/>
<circle cx="94.7" cy="198.4" r="1.67" fill="#acacac"/>
<circle cx="109.9" cy="251" r="2.03" fill="#7d7d7d" fill-opacity=".18" stroke="#7d7d7d" stroke-width="0.49"/>
<circle cx="39.7" cy="238.8" r="1.03" fill="#a5a5a5" fill-opacity=".18" stroke="#a5a5a5" stroke-width="0.45"/>
<circle cx="91.8" cy="236" r="0.70" fill="#8d8d8d"/>
<circle cx="40.1" cy="250.1" r="1.90" fill="#878787" fill-opacity=".18" stroke="#878787" stroke-width="0.46"/>
<circle cx="62.4" cy="209.7" r="1.22" fill="#797979"/>
<circle cx="61.6" cy="193.2" r="1.59" fill="#7b7b7b" fill-opacity=".18" stroke="#7b7b7b" stroke-width="0.45"/>
<circle cx="94.2" cy="252.3" r="0.78" fill="#515151"/>
<circle cx="41.3" cy="245.5" r="2.06" fill="#aeaeae" fill-opacity=".18" stroke="#aeaeae" stroke-width="0.49"/>
<circle cx="49.7" cy="202.3" r="1.10" fill="#515151"/>
<circle cx="75" cy="213.7" r="1.10" fill="#999999"/>
<circle cx="70.8" cy="232.6" r="1.84" fill="#b2b2b2" fill-opacity=".18" stroke="#b2b2b2" stroke-width="0.45"/>
<circle cx="116.2" cy="250.2" r="2.08" fill="#c5c5c5" fill-opacity=".18" stroke="#c5c5c5" stroke-width="0.50"/>
<circle cx="133.5" cy="237.1" r="1.16" fill="#a9a9a9" fill-opacity=".18" stroke="#a9a9a9" stroke-width="0.45"/>
<circle cx="108.5" cy="178.5" r="1.32" fill="#717171"/>
<circle cx="71.6" cy="267.3" r="1.23" fill="#a3a3a3" fill-opacity=".18" stroke="#a3a3a3" stroke-width="0.45"/>
<circle cx="121.6" cy="205.7" r="1.54" fill="#cbcbcb" fill-opacity=".18" stroke="#cbcbcb" stroke-width="0.45"/>
<circle cx="121" cy="229.5" r="1.74" fill="#9a9a9a" fill-opacity=".18" stroke="#9a9a9a" stroke-width="0.45"/>
<circle cx="58.3" cy="197.4" r="1.49" fill="#a5a5a5" fill-opacity=".18" stroke="#a5a5a5" stroke-width="0.45"/>
<circle cx="91" cy="221" r="1.65" fill="#7b7b7b"/>
<circle cx="87.4" cy="214" r="1.56" fill="#a7a7a7"/>
<circle cx="66.1" cy="240.1" r="1.49" fill="#afafaf" fill-opacity=".18" stroke="#afafaf" stroke-width="0.45"/>
<circle cx="66.1" cy="259.1" r="1.81" fill="#d0d0d0" fill-opacity=".18" stroke="#d0d0d0" stroke-width="0.45"/>
<circle cx="85.7" cy="261" r="1.25" fill="#848484" fill-opacity=".18" stroke="#848484" stroke-width="0.45"/>
<circle cx="103.3" cy="258.2" r="1.71" fill="#b8b8b8"/>
<circle cx="80.1" cy="259.8" r="1.01" fill="#cecece" fill-opacity=".18" stroke="#cecece" stroke-width="0.45"/>
<circle cx="53.1" cy="246.6" r="0.75" fill="#cdcdcd"/>
<circle cx="96" cy="239.1" r="1.71" fill="#787878" fill-opacity=".18" stroke="#787878" stroke-width="0.45"/>
<circle cx="119.9" cy="255.8" r="0.99" fill="#949494" fill-opacity=".18" stroke="#949494" stroke-width="0.45"/>
<circle cx="95.8" cy="200.8" r="1.58" fill="#cecece"/>
<circle cx="135.3" cy="223.3" r="0.93" fill="#bfbfbf" fill-opacity=".18" stroke="#bfbfbf" stroke-width="0.45"/>
<circle cx="91.2" cy="181.3" r="1.77" fill="#c0c0c0"/>
<circle cx="67.6" cy="263.3" r="1.90" fill="#acacac" fill-opacity=".18" stroke="#acacac" stroke-width="0.46"/>
<circle cx="80.7" cy="249.2" r="0.98" fill="#999999" fill-opacity=".18" stroke="#999999" stroke-width="0.45"/>
<circle cx="105.4" cy="206.3" r="1.42" fill="#aeaeae"/>
<circle cx="93.4" cy="177.4" r="0.79" fill="#797979"/>
<circle cx="90" cy="187.2" r="0.86" fill="#bebebe"/>
<circle cx="55.5" cy="263.3" r="0.90" fill="#656565" fill-opacity=".18" stroke="#656565" stroke-width="0.45"/>
<circle cx="122.1" cy="246.5" r="1.12" fill="#5b5b5b" fill-opacity=".18" stroke="#5b5b5b" stroke-width="0.45"/>
<circle cx="109.2" cy="198.8" r="0.71" fill="#8c8c8c"/>
<circle cx="87.4" cy="269.9" r="1.82" fill="#b0b0b0" fill-opacity=".18" stroke="#b0b0b0" stroke-width="0.45"/>
<circle cx="79" cy="205.1" r="1.00" fill="#838383"/>
<circle cx="83.3" cy="198.6" r="1.17" fill="#7b7b7b" fill-opacity=".18" stroke="#7b7b7b" stroke-width="0.45"/>
<circle cx="60.9" cy="195" r="2.00" fill="#838383" fill-opacity=".18" stroke="#838383" stroke-width="0.48"/>
<circle cx="46.4" cy="235.4" r="0.96" fill="#c4c4c4"/>
<circle cx="115.5" cy="245.6" r="0.85" fill="#b7b7b7"/>
<circle cx="122.4" cy="220.8" r="1.89" fill="#838383" fill-opacity=".18" stroke="#838383" stroke-width="0.45"/>
<circle cx="71.5" cy="236.1" r="1.76" fill="#a5a5a5" fill-opacity=".18" stroke="#a5a5a5" stroke-width="0.45"/>
<circle cx="69" cy="198.2" r="1.00" fill="#959595"/>
<circle cx="34.5" cy="233.1" r="1.70" fill="#cacaca"/>
<circle cx="104.6" cy="218.6" r="1.63" fill="#cccccc" fill-opacity=".18" stroke="#cccccc" stroke-width="0.45"/>
<circle cx="39" cy="250.3" r="1.90" fill="#535353" fill-opacity=".18" stroke="#535353" stroke-width="0.46"/>
<circle cx="50.4" cy="257.2" r="1.51" fill="#6c6c6c"/>
<circle cx="64.7" cy="235.4" r="1.49" fill="#bcbcbc"/>
<circle cx="110.2" cy="219.6" r="1.34" fill="#828282" fill-opacity=".18" stroke="#828282" stroke-width="0.45"/>
<circle cx="63.1" cy="199.2" r="0.89" fill="#5e5e5e" fill-opacity=".18" stroke="#5e5e5e" stroke-width="0.45"/>
<circle cx="53.7" cy="205.3" r="1.14" fill="#d4d4d4"/>
<circle cx="65.5" cy="233.8" r="1.57" fill="#cecece" fill-opacity=".18" stroke="#cecece" stroke-width="0.45"/>
<circle cx="60.9" cy="234.9" r="1.23" fill="#7a7a7a"/>
<circle cx="125.2" cy="217.8" r="0.74" fill="#6b6b6b"/>
<circle cx="57.9" cy="261.6" r="1.11" fill="#c8c8c8" fill-opacity=".18" stroke="#c8c8c8" stroke-width="0.45"/>
<circle cx="48" cy="236.9" r="0.73" fill="#979797"/>
<circle cx="62.8" cy="184.8" r="1.99" fill="#838383" fill-opacity=".18" stroke="#838383" stroke-width="0.48"/>
<circle cx="80.5" cy="236" r="1.40" fill="#9a9a9a"/>
<circle cx="121.3" cy="233" r="1.76" fill="#545454" fill-opacity=".18" stroke="#545454" stroke-width="0.45"/>
<circle cx="78.4" cy="257.7" r="0.89" fill="#6f6f6f"/>
<circle cx="99.6" cy="190.4" r="1.25" fill="#b0b0b0" fill-opacity=".18" stroke="#b0b0b0" stroke-width="0.45"/>
<circle cx="49" cy="198.8" r="1.30" fill="#858585"/>
<circle cx="128.7" cy="215.9" r="1.39" fill="#979797"/>
<circle cx="71.9" cy="244.9" r="0.69" fill="#c1c1c1"/>
<circle cx="79.2" cy="194.5" r="1.46" fill="#6f6f6f"/>
<circle cx="79.6" cy="192.1" r="1.54" fill="#b6b6b6" fill-opacity=".18" stroke="#b6b6b6" stroke-width="0.45"/>
<circle cx="118.1" cy="220.1" r="0.81" fill="#d5d5d5" fill-opacity=".18" stroke="#d5d5d5" stroke-width="0.45"/>
<circle cx="124.2" cy="230.3" r="1.53" fill="#848484"/>
<circle cx="97.4" cy="268.3" r="1.51" fill="#9a9a9a"/>
<circle cx="131.2" cy="233.6" r="1.20" fill="#6d6d6d"/>
<circle cx="82.5" cy="266.1" r="1.38" fill="#b7b7b7"/>
<circle cx="80.2" cy="180" r="1.50" fill="#6b6b6b" fill-opacity=".18" stroke="#6b6b6b" stroke-width="0.45"/>
<circle cx="81.8" cy="199.7" r="1.06" fill="#797979"/>
<circle cx="58.2" cy="259.8" r="1.02" fill="#9d9d9d" fill-opacity=".18" stroke="#9d9d9d" stroke-width="0.45"/>
<circle cx="119.8" cy="253.7" r="0.79" fill="#636363"/>
<circle cx="57.1" cy="220.4" r="1.72" fill="#c7c7c7"/>
<circle cx="85" cy="178.9" r="1.13" fill="#9b9b9b" fill-opacity=".18" stroke="#9b9b9b" stroke-width="0.45"/>
<circle cx="91" cy="221.4" r="1.03" fill="#7c7c7c"/>
<circle cx="38.7" cy="244.3" r="1.60" fill="#535353"/>
<circle cx="136" cy="227.3" r="0.91" fill="#747474"/>
<circle cx="72.5" cy="236.6" r="1.13" fill="#686868" fill-opacity=".18" stroke="#686868" stroke-width="0.45"/>
<circle cx="56.9" cy="232.7" r="1.81" fill="#979797" fill-opacity=".18" stroke="#979797" stroke-width="0.45"/>
<circle cx="56.3" cy="265.2" r="1.30" fill="#bababa"/>
<circle cx="75.5" cy="240" r="1.35" fill="#c7c7c7"/>
<circle cx="130.4" cy="200.5" r="1.45" fill="#545454"/>
<circle cx="36.9" cy="212.3" r="1.45" fill="#7f7f7f" fill-opacity=".18" stroke="#7f7f7f" stroke-width="0.45"/>
<circle cx="100.1" cy="262.2" r="1.77" fill="#898989"/>
<circle cx="82.3" cy="212.6" r="0.81" fill="#757575"/>
<circle cx="62.8" cy="219.1" r="0.93" fill="#bbbbbb" fill-opacity=".18" stroke="#bbbbbb" stroke-width="0.45"/>
<circle cx="97.3" cy="208.6" r="1.53" fill="#6d6d6d"/>
<circle cx="113.6" cy="210.3" r="1.74" fill="#858585"/>
<circle cx="134.8" cy="212.5" r="1.51" fill="#6b6b6b" fill-opacity=".18" stroke="#6b6b6b" stroke-width="0.45"/>
<circle cx="121.8" cy="255.8" r="1.77" fill="#b8b8b8" fill-opacity=".18" stroke="#b8b8b8" stroke-width="0.45"/>
<circle cx="127.8" cy="253.4" r="1.82" fill="#5d5d5d" fill-opacity=".18" stroke="#5d5d5d" stroke-width="0.45"/>
<circle cx="66.6" cy="262.9" r="1.51" fill="#878787"/>
<circle cx="115.6" cy="209.7" r="1.41" fill="#bcbcbc" fill-opacity=".18" stroke="#bcbcbc" stroke-width="0.45"/>
<circle cx="72.4" cy="260.1" r="1.22" fill="#535353"/>
<circle cx="37.5" cy="246.7" r="1.74" fill="#cfcfcf"/>
<circle cx="71.9" cy="179.7" r="0.82" fill="#a1a1a1" fill-opacity=".18" stroke="#a1a1a1" stroke-width="0.45"/>
<circle cx="46.4" cy="238.4" r="0.98" fill="#bdbdbd"/>
<circle cx="109.9" cy="210.2" r="0.98" fill="#555555" fill-opacity=".18" stroke="#555555" stroke-width="0.45"/>
<circle cx="83.4" cy="198.8" r="1.97" fill="#636363" fill-opacity=".18" stroke="#636363" stroke-width="0.47"/>
<circle cx="68" cy="213.4" r="1.73" fill="#878787"/>
<circle cx="73.7" cy="229.1" r="0.94" fill="#d6d6d6" fill-opacity=".18" stroke="#d6d6d6" stroke-width="0.45"/>
<circle cx="128.4" cy="234.6" r="1.22" fill="#929292"/>
<circle cx="36.8" cy="219.4" r="1.65" fill="#616161"/>
<circle cx="82.3" cy="248.7" r="1.64" fill="#8e8e8e" fill-opacity=".18" stroke="#8e8e8e" stroke-width="0.45"/>
<circle cx="31.5" cy="218.8" r="0.70" fill="#6d6d6d"/>
<circle cx="77.6" cy="240.2" r="0.85" fill="#888888" fill-opacity=".18" stroke="#888888" stroke-width="0.45"/>
<circle cx="34.6" cy="227.9" r="1.75" fill="#aeaeae" fill-opacity=".18" stroke="#aeaeae" stroke-width="0.45"/>
<circle cx="70.3" cy="265.8" r="1.52" fill="#6b6b6b" fill-opacity=".18" stroke="#6b6b6b" stroke-width="0.45"/>
<circle cx="88.5" cy="201.6" r="1.87" fill="#7e7e7e" fill-opacity=".18" stroke="#7e7e7e" stroke-width="0.45"/>
<circle cx="103.4" cy="220.5" r="0.94" fill="#6c6c6c" fill-opacity=".18" stroke="#6c6c6c" stroke-width="0.45"/>
<circle cx="83.7" cy="180.4" r="1.47" fill="#b9b9b9" fill-opacity=".18" stroke="#b9b9b9" stroke-width="0.45"/>
<circle cx="123.2" cy="202.7" r="1.33" fill="#a8a8a8"/>
<circle cx="86.7" cy="183" r="1.15" fill="#616161"/>
<circle cx="48.2" cy="239.4" r="1.11" fill="#808080"/>
<circle cx="48.2" cy="260.7" r="0.82" fill="#5c5c5c" fill-opacity=".18" stroke="#5c5c5c" stroke-width="0.45"/>
<circle cx="56.4" cy="244.7" r="1.09" fill="#9f9f9f"/>
<circle cx="135.2" cy="227.8" r="1.00" fill="#cecece"/>
<circle cx="79.2" cy="234.4" r="1.60" fill="#c8c8c8"/>
<circle cx="83.6" cy="267.2" r="1.20" fill="#bbbbbb"/>
<circle cx="90" cy="270" r="1.63" fill="#c4c4c4"/>
<circle cx="40.4" cy="193.8" r="1.19" fill="#b0b0b0"/>
<circle cx="127.9" cy="239.8" r="1.85" fill="#595959" fill-opacity=".18" stroke="#595959" stroke-width="0.45"/>
<circle cx="34.7" cy="231.3" r="1.36" fill="#cdcdcd"/>
<circle cx="55.2" cy="204.9" r="2.01" fill="#717171" fill-opacity=".18" stroke="#717171" stroke-width="0.48"/>
<circle cx="103.6" cy="240.5" r="1.31" fill="#7e7e7e"/>
<circle cx="39.8" cy="240.7" r="1.48" fill="#686868"/>
<circle cx="134.5" cy="205.4" r="1.35" fill="#7c7c7c"/>
<circle cx="48.9" cy="245.3" r="1.06" fill="#a6a6a6"/>
<circle cx="113.7" cy="250.9" r="1.20" fill="#676767" fill-opacity=".18" stroke="#676767" stroke-width="0.45"/>
<circle cx="116.5" cy="200.8" r="1.33" fill="#727272"/>
<circle cx="89.3" cy="202.5" r="1.37" fill="#737373" fill-opacity=".18" stroke="#737373" stroke-width="0.45"/>
<circle cx="97" cy="243" r="0.92" fill="#616161"/>
<circle cx="47.8" cy="251.2" r="1.20" fill="#868686"/>
<circle cx="92.8" cy="173.3" r="1.70" fill="#898989"/>
<circle cx="123.8" cy="217.7" r="1.10" fill="#acacac"/>
<circle cx="118.6" cy="260.4" r="1.45" fill="#808080"/>
<circle cx="60.8" cy="219" r="1.24" fill="#676767" fill-opacity=".18" stroke="#676767" stroke-width="0.45"/>
<circle cx="82.5" cy="222.3" r="1.16" fill="#afafaf"/>
<circle cx="83.5" cy="247.3" r="1.29" fill="#bfbfbf"/>
<circle cx="85.3" cy="251.6" r="1.25" fill="#757575" fill-opacity=".18" stroke="#757575" stroke-width="0.45"/>
<circle cx="95.8" cy="180.1" r="1.40" fill="#c7c7c7"/>
<circle cx="106" cy="228.9" r="1.49" fill="#727272" fill-opacity=".18" stroke="#727272" stroke-width="0.45"/>
<circle cx="54.6" cy="205.2" r="2.08" fill="#707070" fill-opacity=".18" stroke="#707070" stroke-width="0.50"/>
<circle cx="78.7" cy="232.5" r="1.13" fill="#d4d4d4" fill-opacity=".18" stroke="#d4d4d4" stroke-width="0.45"/>
<circle cx="117.3" cy="251.7" r="1.66" fill="#808080"/>
<circle cx="104.4" cy="237" r="2.07" fill="#bcbcbc" fill-opacity=".18" stroke="#bcbcbc" stroke-width="0.50"/>
<circle cx="73.1" cy="197.4" r="0.91" fill="#747474" fill-opacity=".18" stroke="#747474" stroke-width="0.45"/>
<circle cx="125.7" cy="234.1" r="0.89" fill="#7f7f7f"/>
<circle cx="109.4" cy="211.9" r="1.62" fill="#666666" fill-opacity=".18" stroke="#666666" stroke-width="0.45"/>
<circle cx="62.2" cy="221.5" r="0.80" fill="#c6c6c6"/>
<circle cx="87" cy="260.9" r="1.52" fill="#909090" fill-opacity=".18" stroke="#909090" stroke-width="0.45"/>
<circle cx="114.1" cy="200.6" r="1.60" fill="#555555"/>
<circle cx="76.5" cy="241.2" r="1.54" fill="#a1a1a1"/>
<circle cx="71.3" cy="269.9" r="0.94" fill="#adadad" fill-opacity=".18" stroke="#adadad" stroke-width="0.45"/>
<circle cx="94.4" cy="190.5" r="1.41" fill="#646464"/>
<circle cx="99.6" cy="239" r="0.82" fill="#868686"/>
<circle cx="46.9" cy="210.5" r="1.56" fill="#868686"/>
<circle cx="59.9" cy="267.8" r="2.00" fill="#c4c4c4" fill-opacity=".18" stroke="#c4c4c4" stroke-width="0.48"/>
<circle cx="47.9" cy="220.2" r="3.6" fill="#cfcfcf"/>
<circle cx="70.1" cy="217.8" r="3.6" fill="#cfcfcf"/>
<circle cx="87.8" cy="219.3" r="3.6" fill="#cfcfcf"/>
</g>
<g filter="url(#b03)">
<circle cx="165.7" cy="212.7" r="1.91" fill="#9c9c9c" fill-opacity=".18" stroke="#9c9c9c" stroke-width="0.46"/>
<circle cx="247.2" cy="250.9" r="2.38" fill="#acacac"/>
<circle cx="242.8" cy="248.9" r="3.67" fill="#dedede" fill-opacity=".18" stroke="#dedede" stroke-width="0.88"/>
<circle cx="201.1" cy="241.1" r="3.40" fill="#a9a9a9" fill-opacity=".18" stroke="#a9a9a9" stroke-width="0.82"/>
<circle cx="198.1" cy="240" r="2.80" fill="#d7d7d7" fill-opacity=".18" stroke="#d7d7d7" stroke-width="0.67"/>
<circle cx="193.8" cy="247.9" r="3.14" fill="#cccccc"/>
<circle cx="183.8" cy="257.5" r="2.87" fill="#d7d7d7"/>
<circle cx="180.6" cy="212.3" r="2.96" fill="#d9d9d9"/>
<circle cx="204" cy="237.2" r="1.29" fill="#e0e0e0"/>
<circle cx="222.3" cy="187.8" r="3.00" fill="#adadad" fill-opacity=".18" stroke="#adadad" stroke-width="0.72"/>
<circle cx="194.9" cy="217.5" r="1.87" fill="#909090" fill-opacity=".18" stroke="#909090" stroke-width="0.45"/>
<circle cx="190.2" cy="186.2" r="3.40" fill="#e3e3e3" fill-opacity=".18" stroke="#e3e3e3" stroke-width="0.82"/>
<circle cx="213.8" cy="224.7" r="1.54" fill="#cfcfcf"/>
<circle cx="165.9" cy="214.1" r="3.18" fill="#b8b8b8"/>
<circle cx="208.4" cy="190.2" r="3.31" fill="#a0a0a0"/>
<circle cx="217.3" cy="181" r="2.27" fill="#cbcbcb"/>
<circle cx="217.9" cy="193.1" r="3.38" fill="#b1b1b1" fill-opacity=".18" stroke="#b1b1b1" stroke-width="0.81"/>
<circle cx="167.5" cy="205.1" r="1.22" fill="#e0e0e0"/>
<circle cx="162.9" cy="226.2" r="2.77" fill="#a6a6a6"/>
<circle cx="222.5" cy="194.6" r="3.29" fill="#868686" fill-opacity=".18" stroke="#868686" stroke-width="0.79"/>
<circle cx="218.8" cy="233" r="2.44" fill="#9d9d9d" fill-opacity=".18" stroke="#9d9d9d" stroke-width="0.58"/>
<circle cx="195.7" cy="227.7" r="3.78" fill="#bcbcbc" fill-opacity=".18" stroke="#bcbcbc" stroke-width="0.91"/>
<circle cx="182.8" cy="232.9" r="2.50" fill="#e8e8e8" fill-opacity=".18" stroke="#e8e8e8" stroke-width="0.60"/>
<circle cx="249.9" cy="210.9" r="1.80" fill="#8e8e8e" fill-opacity=".18" stroke="#8e8e8e" stroke-width="0.45"/>
<circle cx="198.9" cy="238.2" r="3.04" fill="#e2e2e2"/>
<circle cx="231.7" cy="216.7" r="1.80" fill="#898989"/>
<circle cx="243" cy="236.1" r="2.43" fill="#c5c5c5"/>
<circle cx="186.5" cy="206.6" r="3.39" fill="#cccccc" fill-opacity=".18" stroke="#cccccc" stroke-width="0.81"/>
<circle cx="175.4" cy="229.4" r="2.23" fill="#8a8a8a"/>
<circle cx="192.9" cy="208" r="3.89" fill="#dbdbdb" fill-opacity=".18" stroke="#dbdbdb" stroke-width="0.93"/>
<circle cx="223" cy="189.7" r="2.82" fill="#a0a0a0"/>
<circle cx="225.5" cy="221.3" r="1.97" fill="#a7a7a7"/>
<circle cx="195.2" cy="213" r="2.48" fill="#e1e1e1" fill-opacity=".18" stroke="#e1e1e1" stroke-width="0.59"/>
<circle cx="195.7" cy="248.2" r="2.50" fill="#e0e0e0"/>
<circle cx="214.7" cy="211.4" r="3.36" fill="#cbcbcb"/>
<circle cx="223.8" cy="216.5" r="2.38" fill="#e3e3e3"/>
<circle cx="233.2" cy="216" r="1.78" fill="#dedede"/>
<circle cx="181.1" cy="211.4" r="4.03" fill="#e5e5e5" fill-opacity=".18" stroke="#e5e5e5" stroke-width="0.97"/>
<circle cx="227.1" cy="204.6" r="1.65" fill="#adadad" fill-opacity=".18" stroke="#adadad" stroke-width="0.45"/>
<circle cx="232.6" cy="214" r="1.72" fill="#bdbdbd"/>
<circle cx="198.5" cy="182.4" r="1.36" fill="#dcdcdc"/>
<circle cx="199.2" cy="194" r="3.40" fill="#8e8e8e"/>
<circle cx="219.3" cy="189.5" r="4.12" fill="#e3e3e3" fill-opacity=".18" stroke="#e3e3e3" stroke-width="0.99"/>
<circle cx="183.3" cy="217.5" r="2.81" fill="#e2e2e2"/>
<circle cx="186.7" cy="181.2" r="3.07" fill="#bababa"/>
<circle cx="223.5" cy="268.7" r="2.46" fill="#b8b8b8"/>
<circle cx="238" cy="262.7" r="2.11" fill="#989898"/>
<circle cx="181.4" cy="204.5" r="2.77" fill="#8f8f8f"/>
<circle cx="226" cy="242.4" r="3.84" fill="#dedede" fill-opacity=".18" stroke="#dedede" stroke-width="0.92"/>
<circle cx="210.6" cy="226.3" r="3.16" fill="#a8a8a8" fill-opacity=".18" stroke="#a8a8a8" stroke-width="0.76"/>
<circle cx="241.5" cy="227" r="3.36" fill="#bdbdbd"/>
<circle cx="212.4" cy="236.8" r="1.88" fill="#999999" fill-opacity=".18" stroke="#999999" stroke-width="0.45"/>
<circle cx="162.9" cy="242.3" r="2.25" fill="#a4a4a4"/>
<circle cx="225.5" cy="251.1" r="2.44" fill="#d5d5d5" fill-opacity=".18" stroke="#d5d5d5" stroke-width="0.59"/>
<circle cx="215.3" cy="238.2" r="2.78" fill="#e2e2e2" fill-opacity=".18" stroke="#e2e2e2" stroke-width="0.67"/>
<circle cx="243" cy="250.6" r="2.56" fill="#8f8f8f" fill-opacity=".18" stroke="#8f8f8f" stroke-width="0.62"/>
<circle cx="175.7" cy="193.7" r="2.71" fill="#b2b2b2"/>
<circle cx="183.8" cy="201.5" r="2.41" fill="#b2b2b2"/>
<circle cx="182.1" cy="212.6" r="2.82" fill="#c1c1c1"/>
<circle cx="209.5" cy="266.2" r="2.62" fill="#e4e4e4" fill-opacity=".18" stroke="#e4e4e4" stroke-width="0.63"/>
<circle cx="171.7" cy="239.3" r="2.13" fill="#a6a6a6" fill-opacity=".18" stroke="#a6a6a6" stroke-width="0.51"/>
<circle cx="221.6" cy="221.7" r="2.84" fill="#b3b3b3"/>
<circle cx="176" cy="186.3" r="1.60" fill="#898989" fill-opacity=".18" stroke="#898989" stroke-width="0.45"/>
<circle cx="240.9" cy="230.8" r="2.59" fill="#b7b7b7"/>
<circle cx="222.6" cy="269" r="1.99" fill="#e0e0e0"/>
<circle cx="182.1" cy="196.8" r="1.21" fill="#cfcfcf"/>
<circle cx="209" cy="252.4" r="2.90" fill="#858585" fill-opacity=".18" stroke="#858585" stroke-width="0.70"/>
<circle cx="197.1" cy="261.7" r="1.88" fill="#d3d3d3" fill-opacity=".18" stroke="#d3d3d3" stroke-width="0.45"/>
<circle cx="181" cy="246.9" r="3.38" fill="#afafaf"/>
<circle cx="205.2" cy="179.7" r="3.03" fill="#8a8a8a"/>
<circle cx="190.5" cy="186.4" r="3.23" fill="#9f9f9f"/>
<circle cx="202" cy="221.5" r="1.35" fill="#a7a7a7"/>
<circle cx="256" cy="216.2" r="1.61" fill="#adadad" fill-opacity=".18" stroke="#adadad" stroke-width="0.45"/>
<circle cx="241.5" cy="251.6" r="3.65" fill="#d5d5d5" fill-opacity=".18" stroke="#d5d5d5" stroke-width="0.88"/>
<circle cx="213.1" cy="227.1" r="3.02" fill="#d5d5d5"/>
<circle cx="184.8" cy="220.4" r="1.91" fill="#a4a4a4" fill-opacity=".18" stroke="#a4a4a4" stroke-width="0.46"/>
<circle cx="258.5" cy="223.6" r="2.96" fill="#cecece"/>
<circle cx="165.5" cy="197.8" r="4.01" fill="#e7e7e7" fill-opacity=".18" stroke="#e7e7e7" stroke-width="0.96"/>
<circle cx="246.6" cy="245.2" r="1.95" fill="#a5a5a5"/>
<circle cx="221.2" cy="222.1" r="3.39" fill="#929292"/>
<circle cx="167" cy="224.1" r="1.94" fill="#cecece"/>
<circle cx="172" cy="246.2" r="3.91" fill="#a2a2a2" fill-opacity=".18" stroke="#a2a2a2" stroke-width="0.94"/>
<circle cx="180.3" cy="208.2" r="1.80" fill="#8c8c8c" fill-opacity=".18" stroke="#8c8c8c" stroke-width="0.45"/>
<circle cx="202.3" cy="239.9" r="2.81" fill="#c9c9c9"/>
<circle cx="192" cy="207.3" r="3.75" fill="#c3c3c3" fill-opacity=".18" stroke="#c3c3c3" stroke-width="0.90"/>
<circle cx="214.2" cy="261.7" r="1.53" fill="#a0a0a0"/>
<circle cx="227.8" cy="214.1" r="1.33" fill="#b6b6b6"/>
<circle cx="197.1" cy="259.2" r="2.47" fill="#dbdbdb"/>
<circle cx="184.1" cy="192.7" r="2.55" fill="#828282" fill-opacity=".18" stroke="#828282" stroke-width="0.61"/>
<circle cx="253.1" cy="217.3" r="1.69" fill="#919191"/>
<circle cx="199" cy="207.2" r="1.21" fill="#b4b4b4"/>
<circle cx="207.2" cy="255.1" r="1.77" fill="#878787"/>
<circle cx="210" cy="252.6" r="1.91" fill="#a8a8a8"/>
<circle cx="254.3" cy="228.7" r="2.88" fill="#828282" fill-opacity=".18" stroke="#828282" stroke-width="0.69"/>
<circle cx="213.9" cy="272.1" r="3.00" fill="#9a9a9a"/>
<circle cx="222.5" cy="211.5" r="1.46" fill="#bbbbbb"/>
<circle cx="192.3" cy="260.1" r="3.23" fill="#c3c3c3" fill-opacity=".18" stroke="#c3c3c3" stroke-width="0.78"/>
<circle cx="199.5" cy="232.5" r="3.10" fill="#d4d4d4"/>
<circle cx="220.3" cy="214.9" r="2.05" fill="#a6a6a6" fill-opacity=".18" stroke="#a6a6a6" stroke-width="0.49"/>
<circle cx="223.2" cy="268.9" r="3.76" fill="#aaaaaa" fill-opacity=".18" stroke="#aaaaaa" stroke-width="0.90"/>
<circle cx="232.4" cy="212.6" r="3.35" fill="#9a9a9a" fill-opacity=".18" stroke="#9a9a9a" stroke-width="0.80"/>
<circle cx="197.3" cy="234.1" r="2.08" fill="#909090" fill-opacity=".18" stroke="#909090" stroke-width="0.50"/>
<circle cx="201.9" cy="264" r="2.96" fill="#dbdbdb" fill-opacity=".18" stroke="#dbdbdb" stroke-width="0.71"/>
<circle cx="209.3" cy="199.2" r="1.73" fill="#969696"/>
<circle cx="217.3" cy="234.5" r="2.64" fill="#d9d9d9"/>
<circle cx="228.9" cy="235.7" r="2.98" fill="#848484" fill-opacity=".18" stroke="#848484" stroke-width="0.71"/>
<circle cx="240.2" cy="244.8" r="1.81" fill="#d3d3d3" fill-opacity=".18" stroke="#d3d3d3" stroke-width="0.45"/>
<circle cx="211.3" cy="262.8" r="3.28" fill="#a6a6a6"/>
<circle cx="183.1" cy="243.6" r="3.37" fill="#d5d5d5"/>
<circle cx="213.4" cy="185.1" r="3.26" fill="#e6e6e6" fill-opacity=".18" stroke="#e6e6e6" stroke-width="0.78"/>
<circle cx="251.8" cy="214.7" r="2.17" fill="#bbbbbb"/>
<circle cx="214.1" cy="268.6" r="2.28" fill="#c9c9c9"/>
<circle cx="171.2" cy="242.4" r="4.17" fill="#eaeaea" fill-opacity=".18" stroke="#eaeaea" stroke-width="1.00"/>
<circle cx="216.8" cy="197.6" r="2.89" fill="#e4e4e4" fill-opacity=".18" stroke="#e4e4e4" stroke-width="0.69"/>
<circle cx="180.7" cy="233.2" r="2.37" fill="#b2b2b2"/>
<circle cx="203.1" cy="238.7" r="1.58" fill="#8d8d8d"/>
<circle cx="181.2" cy="233.6" r="2.05" fill="#b8b8b8"/>
<circle cx="213.5" cy="228.2" r="4.12" fill="#9f9f9f" fill-opacity=".18" stroke="#9f9f9f" stroke-width="0.99"/>
<circle cx="192.1" cy="246.6" r="2.88" fill="#d5d5d5" fill-opacity=".18" stroke="#d5d5d5" stroke-width="0.69"/>
<circle cx="227.1" cy="223.6" r="2.08" fill="#a9a9a9"/>
<circle cx="172" cy="256.7" r="3.32" fill="#bcbcbc"/>
<circle cx="184.7" cy="191.8" r="2.47" fill="#858585" fill-opacity=".18" stroke="#858585" stroke-width="0.59"/>
<circle cx="244.2" cy="213" r="1.77" fill="#d0d0d0" fill-opacity=".18" stroke="#d0d0d0" stroke-width="0.45"/>
<circle cx="180.8" cy="252.7" r="2.01" fill="#dcdcdc"/>
<circle cx="201.4" cy="271.5" r="2.27" fill="#a0a0a0"/>
<circle cx="225.8" cy="220.9" r="1.37" fill="#d1d1d1"/>
<circle cx="170.9" cy="246.6" r="3.66" fill="#8e8e8e" fill-opacity=".18" stroke="#8e8e8e" stroke-width="0.88"/>
<circle cx="231.9" cy="203.2" r="2.83" fill="#dfdfdf" fill-opacity=".18" stroke="#dfdfdf" stroke-width="0.68"/>
<circle cx="183.8" cy="226.6" r="1.31" fill="#b5b5b5"/>
<circle cx="233" cy="264.7" r="3.84" fill="#919191" fill-opacity=".18" stroke="#919191" stroke-width="0.92"/>
<circle cx="175" cy="227.4" r="3.23" fill="#9f9f9f"/>
<circle cx="203" cy="186.4" r="3.84" fill="#e6e6e6" fill-opacity=".18" stroke="#e6e6e6" stroke-width="0.92"/>
<circle cx="199.6" cy="216.5" r="2.03" fill="#9b9b9b" fill-opacity=".18" stroke="#9b9b9b" stroke-width="0.49"/>
<circle cx="232.2" cy="251.2" r="2.80" fill="#b3b3b3" fill-opacity=".18" stroke="#b3b3b3" stroke-width="0.67"/>
<circle cx="235.7" cy="257.1" r="3.03" fill="#a3a3a3"/>
<circle cx="253.5" cy="204.3" r="1.78" fill="#aaaaaa" fill-opacity=".18" stroke="#aaaaaa" stroke-width="0.45"/>
<circle cx="184.8" cy="231.1" r="3.95" fill="#909090" fill-opacity=".18" stroke="#909090" stroke-width="0.95"/>
<circle cx="159.8" cy="221" r="2.77" fill="#8c8c8c" fill-opacity=".18" stroke="#8c8c8c" stroke-width="0.67"/>
<circle cx="174.3" cy="233.1" r="2.08" fill="#9f9f9f" fill-opacity=".18" stroke="#9f9f9f" stroke-width="0.50"/>
<circle cx="214.3" cy="222.5" r="1.85" fill="#d0d0d0" fill-opacity=".18" stroke="#d0d0d0" stroke-width="0.45"/>
<circle cx="166.3" cy="246.1" r="1.70" fill="#d8d8d8"/>
<circle cx="223" cy="227.5" r="3.34" fill="#ababab"/>
<circle cx="183" cy="257.8" r="2.39" fill="#b6b6b6"/>
<circle cx="240" cy="245.9" r="3.03" fill="#a5a5a5"/>
<circle cx="202.7" cy="206.2" r="1.78" fill="#8b8b8b"/>
<circle cx="176.7" cy="184.3" r="3.85" fill="#8f8f8f" fill-opacity=".18" stroke="#8f8f8f" stroke-width="0.92"/>
<circle cx="220.3" cy="179.2" r="2.52" fill="#e3e3e3"/>
<circle cx="226" cy="239.3" r="2.57" fill="#bfbfbf"/>
<circle cx="212.1" cy="218.9" r="1.78" fill="#e1e1e1"/>
<circle cx="204.8" cy="271.2" r="3.17" fill="#d0d0d0"/>
<circle cx="172.9" cy="207.5" r="2.55" fill="#bfbfbf"/>
<circle cx="213.7" cy="185.9" r="2.64" fill="#9b9b9b"/>
<circle cx="223.3" cy="231.1" r="2.40" fill="#d1d1d1"/>
<circle cx="178.4" cy="263" r="2.22" fill="#bdbdbd" fill-opacity=".18" stroke="#bdbdbd" stroke-width="0.53"/>
<circle cx="227.6" cy="198.1" r="3.37" fill="#bcbcbc"/>
<circle cx="195.2" cy="206.1" r="2.44" fill="#b3b3b3" fill-opacity=".18" stroke="#b3b3b3" stroke-width="0.58"/>
<circle cx="207.3" cy="215.8" r="2.52" fill="#a4a4a4"/>
<circle cx="223.6" cy="190.9" r="2.35" fill="#9c9c9c" fill-opacity=".18" stroke="#9c9c9c" stroke-width="0.56"/>
<circle cx="172.5" cy="220.6" r="2.30" fill="#cecece"/>
<circle cx="193.4" cy="243.6" r="3.95" fill="#e4e4e4" fill-opacity=".18" stroke="#e4e4e4" stroke-width="0.95"/>
<circle cx="209.1" cy="236.9" r="1.66" fill="#dbdbdb" fill-opacity=".18" stroke="#dbdbdb" stroke-width="0.45"/>
<circle cx="196.4" cy="195.8" r="1.55" fill="#c6c6c6"/>
<circle cx="179.6" cy="257.6" r="3.12" fill="#8c8c8c" fill-opacity=".18" stroke="#8c8c8c" stroke-width="0.75"/>
<circle cx="214.1" cy="248.8" r="2.46" fill="#c2c2c2"/>
<circle cx="242" cy="205.3" r="2.82" fill="#b8b8b8" fill-opacity=".18" stroke="#b8b8b8" stroke-width="0.68"/>
<circle cx="202.3" cy="257.7" r="2.87" fill="#828282" fill-opacity=".18" stroke="#828282" stroke-width="0.69"/>
<circle cx="195.4" cy="241.4" r="2.92" fill="#b3b3b3" fill-opacity=".18" stroke="#b3b3b3" stroke-width="0.70"/>
<circle cx="248.1" cy="202.9" r="2.74" fill="#898989"/>
<circle cx="175.8" cy="199" r="2.19" fill="#8a8a8a"/>
<circle cx="228.8" cy="188.3" r="3.19" fill="#929292"/>
<circle cx="189.4" cy="217.1" r="4.00" fill="#dcdcdc" fill-opacity=".18" stroke="#dcdcdc" stroke-width="0.96"/>
<circle cx="181.5" cy="186" r="2.98" fill="#b2b2b2"/>
<circle cx="198.6" cy="239.6" r="3.43" fill="#828282" fill-opacity=".18" stroke="#828282" stroke-width="0.82"/>
<circle cx="243.3" cy="238.1" r="3.21" fill="#dddddd" fill-opacity=".18" stroke="#dddddd" stroke-width="0.77"/>
<circle cx="238.9" cy="247.2" r="1.53" fill="#a5a5a5"/>
<circle cx="198.5" cy="225.5" r="3.28" fill="#e0e0e0" fill-opacity=".18" stroke="#e0e0e0" stroke-width="0.79"/>
<circle cx="210.5" cy="208.8" r="3.01" fill="#e4e4e4" fill-opacity=".18" stroke="#e4e4e4" stroke-width="0.72"/>
<circle cx="194.7" cy="223.7" r="2.05" fill="#e9e9e9" fill-opacity=".18" stroke="#e9e9e9" stroke-width="0.49"/>
<circle cx="162.9" cy="210.9" r="2.66" fill="#a5a5a5"/>
<circle cx="200.4" cy="188.8" r="2.77" fill="#aeaeae"/>
<circle cx="211.6" cy="243.5" r="1.35" fill="#c4c4c4"/>
<circle cx="202.3" cy="273.8" r="1.87" fill="#cecece"/>
<circle cx="238.8" cy="241.6" r="3.62" fill="#878787" fill-opacity=".18" stroke="#878787" stroke-width="0.87"/>
<circle cx="197.5" cy="183.8" r="2.35" fill="#c4c4c4"/>
<circle cx="226" cy="262.6" r="3.07" fill="#a3a3a3"/>
<circle cx="176.4" cy="207.6" r="2.88" fill="#aaaaaa" fill-opacity=".18" stroke="#aaaaaa" stroke-width="0.69"/>
<circle cx="201.9" cy="220.5" r="3.39" fill="#8a8a8a"/>
<circle cx="234.1" cy="263.3" r="2.63" fill="#d1d1d1"/>
<circle cx="174.9" cy="195.6" r="2.39" fill="#d4d4d4"/>
<circle cx="210.9" cy="175.4" r="2.00" fill="#adadad"/>
<circle cx="250.3" cy="245.6" r="2.87" fill="#bbbbbb" fill-opacity=".18" stroke="#bbbbbb" stroke-width="0.69"/>
<circle cx="218.5" cy="213.6" r="2.38" fill="#c6c6c6"/>
<circle cx="183.5" cy="223.4" r="1.95" fill="#c5c5c5"/>
<circle cx="252.8" cy="204.1" r="2.32" fill="#b8b8b8" fill-opacity=".18" stroke="#b8b8b8" stroke-width="0.56"/>
<circle cx="232.7" cy="242" r="3.31" fill="#b5b5b5"/>
<circle cx="211.3" cy="191.7" r="1.32" fill="#dddddd"/>
<circle cx="253.2" cy="244.2" r="2.61" fill="#aeaeae" fill-opacity=".18" stroke="#aeaeae" stroke-width="0.63"/>
<circle cx="180.7" cy="199.2" r="3.93" fill="#a4a4a4" fill-opacity=".18" stroke="#a4a4a4" stroke-width="0.94"/>
<circle cx="253" cy="225.5" r="3.30" fill="#898989" fill-opacity=".18" stroke="#898989" stroke-width="0.79"/>
<circle cx="251" cy="245.6" r="3.34" fill="#b2b2b2"/>
<circle cx="222.4" cy="262" r="2.83" fill="#bbbbbb"/>
<circle cx="232.9" cy="260.9" r="3.75" fill="#d5d5d5" fill-opacity=".18" stroke="#d5d5d5" stroke-width="0.90"/>
<circle cx="249" cy="208.7" r="2.97" fill="#d3d3d3"/>
<circle cx="180.8" cy="192.2" r="1.92" fill="#a6a6a6"/>
<circle cx="196.3" cy="273.2" r="1.92" fill="#8c8c8c"/>
<circle cx="252" cy="246.6" r="3.08" fill="#ababab"/>
<circle cx="170.1" cy="214.5" r="3.31" fill="#b1b1b1"/>
<circle cx="202.7" cy="260.1" r="1.52" fill="#949494"/>
<circle cx="164.3" cy="221" r="3.26" fill="#8c8c8c"/>
<circle cx="239.5" cy="260.2" r="1.52" fill="#c3c3c3"/>
</g>
<g filter="url(#b03)">
<circle cx="331.3" cy="265.3" r="1.81" fill="#a8a8a8" fill-opacity=".18" stroke="#a8a8a8" stroke-width="0.45"/>
<circle cx="300.1" cy="253.1" r="1.13" fill="#f7f7f7"/>
<circle cx="362.1" cy="260.1" r="0.95" fill="#dfdfdf"/>
<circle cx="318.4" cy="203" r="1.62" fill="#a9a9a9" fill-opacity=".18" stroke="#a9a9a9" stroke-width="0.45"/>
<circle cx="316.6" cy="266.3" r="1.39" fill="#dadada"/>
<circle cx="325.7" cy="204" r="1.76" fill="#cecece"/>
<circle cx="312.2" cy="203.3" r="1.08" fill="#a1a1a1"/>
<circle cx="343.6" cy="251.9" r="1.68" fill="#e0e0e0" fill-opacity=".18" stroke="#e0e0e0" stroke-width="0.45"/>
<circle cx="336.6" cy="257.2" r="1.72" fill="#a4a4a4"/>
<circle cx="308.5" cy="218.9" r="2.15" fill="#a9a9a9" fill-opacity=".18" stroke="#a9a9a9" stroke-width="0.52"/>
<circle cx="297.7" cy="204.7" r="1.34" fill="#9f9f9f"/>
<circle cx="366.6" cy="220.7" r="1.32" fill="#d1d1d1" fill-opacity=".18" stroke="#d1d1d1" stroke-width="0.45"/>
<circle cx="356.6" cy="207.2" r="1.20" fill="#cacaca"/>
<circle cx="338.8" cy="249.6" r="1.91" fill="#e5e5e5" fill-opacity=".18" stroke="#e5e5e5" stroke-width="0.46"/>
<circle cx="385.5" cy="219.9" r="2.37" fill="#7a7a7a" fill-opacity=".18" stroke="#7a7a7a" stroke-width="0.57"/>
<circle cx="372.4" cy="269" r="2.06" fill="#bfbfbf" fill-opacity=".18" stroke="#bfbfbf" stroke-width="0.49"/>
<circle cx="299.5" cy="244.7" r="1.23" fill="#cdcdcd"/>
<circle cx="372" cy="265.3" r="2.43" fill="#999999" fill-opacity=".18" stroke="#999999" stroke-width="0.58"/>
<circle cx="307.1" cy="218.6" r="1.49" fill="#c2c2c2" fill-opacity=".18" stroke="#c2c2c2" stroke-width="0.45"/>
<circle cx="303.1" cy="221.2" r="1.53" fill="#c7c7c7"/>
<circle cx="344.4" cy="209.8" r="1.86" fill="#b5b5b5"/>
<circle cx="338.8" cy="272.8" r="1.75" fill="#9e9e9e"/>
<circle cx="314.6" cy="231.7" r="1.37" fill="#f5f5f5"/>
<circle cx="299.1" cy="219.4" r="1.96" fill="#9a9a9a"/>
<circle cx="304.2" cy="216.5" r="2.02" fill="#a9a9a9"/>
<circle cx="352.7" cy="204.2" r="1.97" fill="#8f8f8f" fill-opacity=".18" stroke="#8f8f8f" stroke-width="0.47"/>
<circle cx="381.5" cy="240.7" r="0.92" fill="#cfcfcf"/>
<circle cx="356.6" cy="234.3" r="2.06" fill="#e9e9e9" fill-opacity=".18" stroke="#e9e9e9" stroke-width="0.49"/>
<circle cx="311.7" cy="199.3" r="1.49" fill="#f7f7f7"/>
<circle cx="341" cy="223" r="1.87" fill="#909090" fill-opacity=".18" stroke="#909090" stroke-width="0.45"/>
<circle cx="320.7" cy="239.4" r="1.51" fill="#c8c8c8" fill-opacity=".18" stroke="#c8c8c8" stroke-width="0.45"/>
<circle cx="355.5" cy="270" r="2.20" fill="#e5e5e5" fill-opacity=".18" stroke="#e5e5e5" stroke-width="0.53"/>
<circle cx="320.5" cy="272.9" r="1.89" fill="#f1f1f1"/>
<circle cx="306.5" cy="271.8" r="2.38" fill="#d4d4d4" fill-opacity=".18" stroke="#d4d4d4" stroke-width="0.57"/>
<circle cx="299.3" cy="240.6" r="2.12" fill="#b6b6b6" fill-opacity=".18" stroke="#b6b6b6" stroke-width="0.51"/>
<circle cx="340.8" cy="224.7" r="1.02" fill="#c5c5c5"/>
<circle cx="343" cy="218.3" r="1.52" fill="#878787" fill-opacity=".18" stroke="#878787" stroke-width="0.45"/>
<circle cx="296.5" cy="253" r="2.53" fill="#b2b2b2" fill-opacity=".18" stroke="#b2b2b2" stroke-width="0.61"/>
<circle cx="296.2" cy="222.6" r="1.03" fill="#dcdcdc"/>
<circle cx="314.2" cy="184.1" r="1.96" fill="#a0a0a0" fill-opacity=".18" stroke="#a0a0a0" stroke-width="0.47"/>
<circle cx="347.9" cy="240.5" r="1.94" fill="#efefef"/>
<circle cx="353.8" cy="272.8" r="1.87" fill="#dadada" fill-opacity=".18" stroke="#dadada" stroke-width="0.45"/>
<circle cx="346.5" cy="259.4" r="1.44" fill="#e0e0e0"/>
<circle cx="316.6" cy="277.6" r="1.17" fill="#c0c0c0"/>
<circle cx="286.1" cy="236" r="1.49" fill="#d9d9d9"/>
<circle cx="323.7" cy="269" r="1.49" fill="#7f7f7f" fill-opacity=".18" stroke="#7f7f7f" stroke-width="0.45"/>
<circle cx="339.9" cy="251.1" r="1.92" fill="#7c7c7c" fill-opacity=".18" stroke="#7c7c7c" stroke-width="0.46"/>
<circle cx="328.2" cy="268.5" r="1.99" fill="#b5b5b5"/>
<circle cx="307.8" cy="240" r="1.36" fill="#b3b3b3" fill-opacity=".18" stroke="#b3b3b3" stroke-width="0.45"/>
<circle cx="323.5" cy="218.8" r="1.79" fill="#b5b5b5"/>
<circle cx="293.1" cy="198.1" r="1.46" fill="#8d8d8d" fill-opacity=".18" stroke="#8d8d8d" stroke-width="0.45"/>
<circle cx="319" cy="186.1" r="1.24" fill="#c0c0c0"/>
<circle cx="281.6" cy="241.3" r="2.24" fill="#cfcfcf" fill-opacity=".18" stroke="#cfcfcf" stroke-width="0.54"/>
<circle cx="326" cy="272" r="1.54" fill="#c6c6c6"/>
<circle cx="322.1" cy="212.7" r="1.43" fill="#9c9c9c" fill-opacity=".18" stroke="#9c9c9c" stroke-width="0.45"/>
<circle cx="296.5" cy="269.4" r="1.14" fill="#f7f7f7"/>
<circle cx="382.3" cy="241.3" r="0.91" fill="#e2e2e2"/>
<circle cx="358" cy="253.4" r="1.32" fill="#c6c6c6"/>
<circle cx="384.8" cy="220.9" r="1.97" fill="#f3f3f3"/>
<circle cx="295.7" cy="216.2" r="1.16" fill="#b6b6b6"/>
<circle cx="348.6" cy="270.1" r="1.59" fill="#e4e4e4"/>
<circle cx="341.6" cy="217.6" r="1.91" fill="#c0c0c0" fill-opacity=".18" stroke="#c0c0c0" stroke-width="0.46"/>
<circle cx="337.2" cy="275" r="1.60" fill="#dfdfdf"/>
<circle cx="353.6" cy="253.5" r="1.22" fill="#c0c0c0" fill-opacity=".18" stroke="#c0c0c0" stroke-width="0.45"/>
<circle cx="287.5" cy="218.9" r="1.47" fill="#c6c6c6"/>
<circle cx="333.6" cy="217.2" r="1.61" fill="#b0b0b0"/>
<circle cx="332.2" cy="255.1" r="1.34" fill="#f1f1f1"/>
<circle cx="369.4" cy="200.6" r="0.91" fill="#cecece"/>
<circle cx="375" cy="214.3" r="1.49" fill="#cacaca"/>
<circle cx="319.1" cy="206.6" r="2.07" fill="#808080" fill-opacity=".18" stroke="#808080" stroke-width="0.50"/>
<circle cx="317.6" cy="273" r="2.43" fill="#808080" fill-opacity=".18" stroke="#808080" stroke-width="0.58"/>
<circle cx="348.5" cy="209" r="2.16" fill="#adadad" fill-opacity=".18" stroke="#adadad" stroke-width="0.52"/>
<circle cx="375.4" cy="204.2" r="2.54" fill="#b9b9b9" fill-opacity=".18" stroke="#b9b9b9" stroke-width="0.61"/>
<circle cx="301.1" cy="253.1" r="1.21" fill="#acacac"/>
<circle cx="318.4" cy="190.2" r="1.70" fill="#d0d0d0"/>
<circle cx="371.6" cy="233" r="1.49" fill="#adadad" fill-opacity=".18" stroke="#adadad" stroke-width="0.45"/>
<circle cx="359.1" cy="243.7" r="1.25" fill="#d3d3d3" fill-opacity=".18" stroke="#d3d3d3" stroke-width="0.45"/>
<circle cx="307.2" cy="256.7" r="1.96" fill="#c6c6c6" fill-opacity=".18" stroke="#c6c6c6" stroke-width="0.47"/>
<circle cx="336.7" cy="233.7" r="1.89" fill="#a0a0a0"/>
<circle cx="322.8" cy="210.7" r="1.65" fill="#b4b4b4" fill-opacity=".18" stroke="#b4b4b4" stroke-width="0.45"/>
<circle cx="379.9" cy="253.3" r="2.01" fill="#c7c7c7" fill-opacity=".18" stroke="#c7c7c7" stroke-width="0.48"/>
<circle cx="322.8" cy="247.2" r="1.58" fill="#e1e1e1"/>
<circle cx="352.2" cy="250.6" r="0.95" fill="#979797"/>
<circle cx="313.9" cy="237.3" r="1.38" fill="#cecece" fill-opacity=".18" stroke="#cecece" stroke-width="0.45"/>
<circle cx="342.6" cy="203.1" r="1.64" fill="#fbfbfb"/>
<circle cx="291" cy="265.1" r="1.27" fill="#f7f7f7"/>
<circle cx="305.5" cy="245.3" r="2.44" fill="#c7c7c7" fill-opacity=".18" stroke="#c7c7c7" stroke-width="0.58"/>
<circle cx="344.6" cy="217.4" r="2.30" fill="#d1d1d1" fill-opacity=".18" stroke="#d1d1d1" stroke-width="0.55"/>
<circle cx="327.1" cy="219.7" r="1.63" fill="#b1b1b1"/>
<circle cx="303" cy="252.7" r="1.97" fill="#d2d2d2"/>
<circle cx="327.7" cy="258.3" r="1.92" fill="#a1a1a1"/>
<circle cx="351.4" cy="222.3" r="1.94" fill="#f2f2f2"/>
<circle cx="328.8" cy="244.1" r="0.92" fill="#c9c9c9"/>
<circle cx="332.8" cy="267.4" r="1.42" fill="#868686" fill-opacity=".18" stroke="#868686" stroke-width="0.45"/>
<circle cx="325.4" cy="245.2" r="1.86" fill="#a0a0a0"/>
<circle cx="342.3" cy="223.9" r="2.38" fill="#c2c2c2" fill-opacity=".18" stroke="#c2c2c2" stroke-width="0.57"/>
<circle cx="317.8" cy="276.5" r="2.05" fill="#9a9a9a"/>
<circle cx="334" cy="220" r="1.08" fill="#d7d7d7"/>
<circle cx="310.2" cy="194.2" r="1.15" fill="#c6c6c6"/>
<circle cx="365" cy="201.2" r="2.07" fill="#7f7f7f" fill-opacity=".18" stroke="#7f7f7f" stroke-width="0.50"/>
<circle cx="371.7" cy="201" r="1.49" fill="#d2d2d2"/>
<circle cx="326.6" cy="268.5" r="1.52" fill="#969696"/>
<circle cx="366.9" cy="199" r="1.60" fill="#c9c9c9"/>
<circle cx="299.8" cy="214.3" r="1.96" fill="#dcdcdc"/>
<circle cx="283.5" cy="226.8" r="1.37" fill="#959595" fill-opacity=".18" stroke="#959595" stroke-width="0.45"/>
<circle cx="320.5" cy="260.1" r="2.10" fill="#b4b4b4"/>
<circle cx="330.2" cy="199.6" r="2.49" fill="#8a8a8a" fill-opacity=".18" stroke="#8a8a8a" stroke-width="0.60"/>
<circle cx="295.3" cy="194.1" r="1.86" fill="#efefef"/>
<circle cx="324.5" cy="249.4" r="1.78" fill="#a0a0a0" fill-opacity=".18" stroke="#a0a0a0" stroke-width="0.45"/>
<circle cx="286.3" cy="241.4" r="2.48" fill="#d0d0d0" fill-opacity=".18" stroke="#d0d0d0" stroke-width="0.60"/>
<circle cx="349.3" cy="259.8" r="1.31" fill="#aaaaaa"/>
<circle cx="351.1" cy="263.8" r="1.39" fill="#d8d8d8"/>
<circle cx="334.6" cy="274.8" r="1.91" fill="#989898"/>
<circle cx="325.7" cy="257.3" r="1.40" fill="#e7e7e7" fill-opacity=".18" stroke="#e7e7e7" stroke-width="0.45"/>
<circle cx="309.6" cy="199.5" r="1.41" fill="#b2b2b2"/>
<circle cx="355.2" cy="228.9" r="1.31" fill="#e7e7e7" fill-opacity=".18" stroke="#e7e7e7" stroke-width="0.45"/>
<circle cx="333.6" cy="209.1" r="1.56" fill="#9a9a9a"/>
<circle cx="355.3" cy="242.5" r="1.85" fill="#f3f3f3"/>
<circle cx="345.2" cy="247.9" r="1.02" fill="#e8e8e8"/>
<circle cx="343.6" cy="202.3" r="1.77" fill="#a0a0a0"/>
<circle cx="283.9" cy="229.3" r="1.15" fill="#b2b2b2"/>
<circle cx="361" cy="268.3" r="1.21" fill="#c5c5c5"/>
<circle cx="323.5" cy="210" r="1.73" fill="#d7d7d7"/>
<circle cx="385.8" cy="234.1" r="1.71" fill="#b3b3b3" fill-opacity=".18" stroke="#b3b3b3" stroke-width="0.45"/>
<circle cx="301.8" cy="190.3" r="1.92" fill="#d0d0d0" fill-opacity=".18" stroke="#d0d0d0" stroke-width="0.46"/>
<circle cx="323.4" cy="232" r="1.30" fill="#c0c0c0"/>
<circle cx="312.6" cy="246.6" r="1.96" fill="#e2e2e2"/>
<circle cx="283.2" cy="244.4" r="1.79" fill="#cacaca"/>
<circle cx="340.6" cy="199.3" r="1.63" fill="#f7f7f7"/>
<circle cx="314.5" cy="206" r="1.39" fill="#d0d0d0"/>
<circle cx="369.5" cy="204.1" r="2.00" fill="#cecece" fill-opacity=".18" stroke="#cecece" stroke-width="0.48"/>
<circle cx="371.6" cy="270.4" r="2.04" fill="#8d8d8d" fill-opacity=".18" stroke="#8d8d8d" stroke-width="0.49"/>
<circle cx="373.9" cy="255.2" r="2.13" fill="#959595" fill-opacity=".18" stroke="#959595" stroke-width="0.51"/>
<circle cx="283.9" cy="235.2" r="2.47" fill="#828282" fill-opacity=".18" stroke="#828282" stroke-width="0.59"/>
<circle cx="334.7" cy="225.4" r="1.95" fill="#808080" fill-opacity=".18" stroke="#808080" stroke-width="0.47"/>
<circle cx="293" cy="252.3" r="1.31" fill="#b2b2b2" fill-opacity=".18" stroke="#b2b2b2" stroke-width="0.45"/>
<circle cx="339.2" cy="214.1" r="2.51" fill="#9f9f9f" fill-opacity=".18" stroke="#9f9f9f" stroke-width="0.60"/>
<circle cx="339.3" cy="250.7" r="1.75" fill="#c0c0c0"/>
<circle cx="373" cy="216.2" r="1.80" fill="#c3c3c3" fill-opacity=".18" stroke="#c3c3c3" stroke-width="0.45"/>
<circle cx="370.6" cy="231.4" r="1.87" fill="#a3a3a3"/>
<circle cx="357.2" cy="250.3" r="0.94" fill="#cbcbcb"/>
<circle cx="369.7" cy="258.9" r="1.47" fill="#9f9f9f"/>
<circle cx="294.1" cy="269" r="0.99" fill="#a8a8a8"/>
<circle cx="280.7" cy="215.1" r="1.36" fill="#b6b6b6" fill-opacity=".18" stroke="#b6b6b6" stroke-width="0.45"/>
<circle cx="298.4" cy="271.7" r="2.05" fill="#959595" fill-opacity=".18" stroke="#959595" stroke-width="0.49"/>
<circle cx="295.6" cy="246.1" r="1.01" fill="#cfcfcf"/>
<circle cx="284" cy="256.3" r="1.80" fill="#c9c9c9"/>
<circle cx="298.4" cy="261.4" r="0.92" fill="#d4d4d4"/>
<circle cx="342.1" cy="251.9" r="0.92" fill="#e1e1e1"/>
<circle cx="346" cy="220.2" r="2.53" fill="#bebebe" fill-opacity=".18" stroke="#bebebe" stroke-width="0.61"/>
<circle cx="283.8" cy="247" r="1.68" fill="#e5e5e5"/>
<circle cx="337.4" cy="211.4" r="1.63" fill="#cbcbcb"/>
<circle cx="324.5" cy="210.9" r="2.56" fill="#959595" fill-opacity=".18" stroke="#959595" stroke-width="0.61"/>
<circle cx="316.1" cy="200.6" r="1.05" fill="#c5c5c5"/>
<circle cx="360.6" cy="243.9" r="1.33" fill="#f1f1f1"/>
<circle cx="364" cy="203.6" r="2.46" fill="#c9c9c9" fill-opacity=".18" stroke="#c9c9c9" stroke-width="0.59"/>
<circle cx="307" cy="239.6" r="1.64" fill="#d7d7d7" fill-opacity=".18" stroke="#d7d7d7" stroke-width="0.45"/>
<circle cx="377.6" cy="242.5" r="1.55" fill="#c0c0c0"/>
<circle cx="298.9" cy="271.5" r="1.94" fill="#b8b8b8" fill-opacity=".18" stroke="#b8b8b8" stroke-width="0.46"/>
<circle cx="350.1" cy="275.4" r="2.01" fill="#e3e3e3"/>
<circle cx="299.8" cy="200.7" r="1.45" fill="#a3a3a3"/>
<circle cx="356.1" cy="239.9" r="1.73" fill="#878787" fill-opacity=".18" stroke="#878787" stroke-width="0.45"/>
<circle cx="320.9" cy="236.4" r="1.52" fill="#919191" fill-opacity=".18" stroke="#919191" stroke-width="0.45"/>
<circle cx="297.9" cy="193.1" r="1.60" fill="#dedede"/>
<circle cx="296.8" cy="234.1" r="1.53" fill="#b9b9b9"/>
<circle cx="304.6" cy="276.3" r="1.87" fill="#ececec"/>
<circle cx="281.4" cy="231.5" r="0.92" fill="#acacac"/>
<circle cx="295.4" cy="233.3" r="2.50" fill="#a6a6a6" fill-opacity=".18" stroke="#a6a6a6" stroke-width="0.60"/>
<circle cx="315.2" cy="231.8" r="1.93" fill="#8b8b8b" fill-opacity=".18" stroke="#8b8b8b" stroke-width="0.46"/>
<circle cx="342.1" cy="223.8" r="2.10" fill="#c6c6c6"/>
<circle cx="352.7" cy="252.1" r="1.67" fill="#e2e2e2" fill-opacity=".18" stroke="#e2e2e2" stroke-width="0.45"/>
<circle cx="361.3" cy="234.4" r="1.02" fill="#ececec"/>
<circle cx="309" cy="187.5" r="2.33" fill="#7d7d7d" fill-opacity=".18" stroke="#7d7d7d" stroke-width="0.56"/>
<circle cx="307.2" cy="234" r="1.78" fill="#aeaeae"/>
<circle cx="315.4" cy="222.8" r="2.01" fill="#9c9c9c"/>
<circle cx="341.4" cy="256.8" r="1.61" fill="#d6d6d6"/>
<circle cx="283.9" cy="226.1" r="1.70" fill="#b6b6b6"/>
<circle cx="345.8" cy="227.7" r="1.80" fill="#a4a4a4"/>
<circle cx="286.3" cy="251.4" r="2.54" fill="#bababa" fill-opacity=".18" stroke="#bababa" stroke-width="0.61"/>
<circle cx="287.3" cy="202.1" r="1.67" fill="#838383" fill-opacity=".18" stroke="#838383" stroke-width="0.45"/>
<circle cx="346.4" cy="225.1" r="2.51" fill="#c4c4c4" fill-opacity=".18" stroke="#c4c4c4" stroke-width="0.60"/>
<circle cx="375.9" cy="218.4" r="2.03" fill="#919191" fill-opacity=".18" stroke="#919191" stroke-width="0.49"/>
<circle cx="376.9" cy="252.8" r="1.57" fill="#a2a2a2"/>
<circle cx="331" cy="258.1" r="2.07" fill="#cecece" fill-opacity=".18" stroke="#cecece" stroke-width="0.50"/>
<circle cx="349.1" cy="199.7" r="1.33" fill="#c2c2c2"/>
<circle cx="319.4" cy="273.6" r="1.72" fill="#969696"/>
<circle cx="339.1" cy="201.6" r="2.21" fill="#9c9c9c" fill-opacity=".18" stroke="#9c9c9c" stroke-width="0.53"/>
<circle cx="368.3" cy="270" r="1.35" fill="#b1b1b1"/>
<circle cx="293" cy="224.6" r="1.66" fill="#9c9c9c"/>
<circle cx="291.7" cy="260.8" r="0.92" fill="#a3a3a3"/>
<circle cx="294.9" cy="218.6" r="0.90" fill="#cbcbcb"/>
<circle cx="345" cy="222.3" r="1.91" fill="#b5b5b5" fill-opacity=".18" stroke="#b5b5b5" stroke-width="0.46"/>
<circle cx="377.6" cy="215.6" r="1.36" fill="#d6d6d6" fill-opacity=".18" stroke="#d6d6d6" stroke-width="0.45"/>
<circle cx="310.6" cy="276.9" r="2.55" fill="#cecece" fill-opacity=".18" stroke="#cecece" stroke-width="0.61"/>
<circle cx="301.8" cy="255.4" r="1.28" fill="#b6b6b6" fill-opacity=".18" stroke="#b6b6b6" stroke-width="0.45"/>
<circle cx="289.8" cy="212.9" r="1.78" fill="#d3d3d3"/>
<circle cx="299.1" cy="260.7" r="1.72" fill="#b4b4b4" fill-opacity=".18" stroke="#b4b4b4" stroke-width="0.45"/>
<circle cx="281.8" cy="236.2" r="1.37" fill="#b3b3b3"/>
<circle cx="320.8" cy="214.5" r="1.90" fill="#cccccc" fill-opacity=".18" stroke="#cccccc" stroke-width="0.46"/>
<circle cx="325.7" cy="235.9" r="1.01" fill="#d0d0d0"/>
<circle cx="377" cy="226.3" r="1.20" fill="#989898"/>
<circle cx="309.8" cy="267.4" r="1.22" fill="#c7c7c7"/>
<circle cx="290.3" cy="214.1" r="1.65" fill="#e2e2e2"/>
<circle cx="373.7" cy="252.7" r="2.02" fill="#e3e3e3"/>
<circle cx="302.4" cy="270.2" r="0.91" fill="#d8d8d8"/>
<circle cx="351" cy="200.1" r="1.35" fill="#c8c8c8"/>
<circle cx="339.7" cy="274.6" r="1.28" fill="#979797" fill-opacity=".18" stroke="#979797" stroke-width="0.45"/>
<circle cx="361.3" cy="219.7" r="1.35" fill="#d0d0d0"/>
<circle cx="387.2" cy="214.5" r="1.11" fill="#acacac"/>
<circle cx="305.2" cy="240.9" r="2.44" fill="#808080" fill-opacity=".18" stroke="#808080" stroke-width="0.59"/>
<circle cx="352.5" cy="234.2" r="1.42" fill="#a3a3a3"/>
<circle cx="301.9" cy="265.2" r="2.57" fill="#a8a8a8" fill-opacity=".18" stroke="#a8a8a8" stroke-width="0.62"/>
<circle cx="320.8" cy="216.4" r="2.44" fill="#dddddd" fill-opacity=".18" stroke="#dddddd" stroke-width="0.58"/>
<circle cx="348.5" cy="247.8" r="2.18" fill="#cfcfcf" fill-opacity=".18" stroke="#cfcfcf" stroke-width="0.52"/>
<circle cx="374.6" cy="248.3" r="1.85" fill="#e1e1e1"/>
<circle cx="332.4" cy="233.9" r="2.60" fill="#bfbfbf" fill-opacity=".18" stroke="#bfbfbf" stroke-width="0.62"/>
<circle cx="311.9" cy="253.8" r="2.56" fill="#a1a1a1" fill-opacity=".18" stroke="#a1a1a1" stroke-width="0.61"/>
<circle cx="299.7" cy="246.7" r="2.08" fill="#dfdfdf"/>
<circle cx="282" cy="240.7" r="1.86" fill="#c1c1c1"/>
<circle cx="382.4" cy="223" r="2.36" fill="#e1e1e1" fill-opacity=".18" stroke="#e1e1e1" stroke-width="0.57"/>
<circle cx="373.5" cy="220.3" r="1.53" fill="#969696"/>
<circle cx="333.1" cy="232.1" r="1.63" fill="#e3e3e3" fill-opacity=".18" stroke="#e3e3e3" stroke-width="0.45"/>
<circle cx="367.7" cy="234.5" r="2.14" fill="#c5c5c5" fill-opacity=".18" stroke="#c5c5c5" stroke-width="0.51"/>
<circle cx="316.5" cy="232.5" r="2.27" fill="#aeaeae" fill-opacity=".18" stroke="#aeaeae" stroke-width="0.54"/>
<circle cx="286.4" cy="213.5" r="1.48" fill="#c6c6c6"/>
<circle cx="308.2" cy="271.2" r="1.35" fill="#dadada"/>
<circle cx="378.3" cy="201.3" r="1.73" fill="#a0a0a0" fill-opacity=".18" stroke="#a0a0a0" stroke-width="0.45"/>
<circle cx="293.2" cy="247.9" r="2.01" fill="#cdcdcd"/>
<circle cx="383.2" cy="250.8" r="2.60" fill="#cbcbcb" fill-opacity=".18" stroke="#cbcbcb" stroke-width="0.62"/>
<circle cx="316.5" cy="239.9" r="2.43" fill="#cacaca" fill-opacity=".18" stroke="#cacaca" stroke-width="0.58"/>
<circle cx="341.9" cy="267.6" r="1.49" fill="#bbbbbb"/>
<circle cx="279.3" cy="245.1" r="2.57" fill="#e0e0e0" fill-opacity=".18" stroke="#e0e0e0" stroke-width="0.62"/>
<circle cx="355.8" cy="272.7" r="1.58" fill="#d2d2d2"/>
<circle cx="331.7" cy="202.7" r="1.72" fill="#d1d1d1" fill-opacity=".18" stroke="#d1d1d1" stroke-width="0.45"/>
<circle cx="288" cy="233" r="1.59" fill="#787878" fill-opacity=".18" stroke="#787878" stroke-width="0.45"/>
<circle cx="366.4" cy="208.2" r="2.36" fill="#dedede" fill-opacity=".18" stroke="#dedede" stroke-width="0.57"/>
<circle cx="291" cy="265.6" r="1.90" fill="#e0e0e0"/>
<circle cx="309.7" cy="257.2" r="1.39" fill="#b8b8b8"/>
<circle cx="341.8" cy="220.8" r="2.31" fill="#b8b8b8" fill-opacity=".18" stroke="#b8b8b8" stroke-width="0.55"/>
<circle cx="314.2" cy="209" r="2.42" fill="#a3a3a3" fill-opacity=".18" stroke="#a3a3a3" stroke-width="0.58"/>
<circle cx="307" cy="231.5" r="1.67" fill="#ececec"/>
<circle cx="290.6" cy="245" r="1.33" fill="#969696"/>
<circle cx="311.9" cy="221.1" r="1.22" fill="#b7b7b7"/>
<circle cx="331.6" cy="199.9" r="2.25" fill="#a3a3a3" fill-opacity=".18" stroke="#a3a3a3" stroke-width="0.54"/>
<circle cx="385" cy="240.9" r="2.01" fill="#c6c6c6" fill-opacity=".18" stroke="#c6c6c6" stroke-width="0.48"/>
<circle cx="281.9" cy="216.3" r="1.64" fill="#f8f8f8"/>
<circle cx="288.4" cy="258.8" r="2.03" fill="#797979" fill-opacity=".18" stroke="#797979" stroke-width="0.49"/>
<circle cx="307.6" cy="207.8" r="2.36" fill="#878787" fill-opacity=".18" stroke="#878787" stroke-width="0.57"/>
<circle cx="351.5" cy="207.1" r="1.03" fill="#999999"/>
<circle cx="329.1" cy="269.3" r="1.44" fill="#999999" fill-opacity=".18" stroke="#999999" stroke-width="0.45"/>
<circle cx="301.9" cy="261.4" r="1.08" fill="#dadada"/>
<circle cx="375.5" cy="242.2" r="1.39" fill="#7d7d7d" fill-opacity=".18" stroke="#7d7d7d" stroke-width="0.45"/>
<circle cx="326.6" cy="219.6" r="2.17" fill="#8a8a8a" fill-opacity=".18" stroke="#8a8a8a" stroke-width="0.52"/>
<circle cx="322.4" cy="238" r="1.95" fill="#b9b9b9"/>
<circle cx="375.4" cy="206.9" r="2.02" fill="#b2b2b2" fill-opacity=".18" stroke="#b2b2b2" stroke-width="0.48"/>
<circle cx="311.3" cy="200.7" r="1.26" fill="#ebebeb"/>
<circle cx="294.7" cy="255.5" r="1.68" fill="#a9a9a9" fill-opacity=".18" stroke="#a9a9a9" stroke-width="0.45"/>
<circle cx="312.4" cy="245.2" r="1.13" fill="#e6e6e6"/>
<circle cx="303.6" cy="235.3" r="2.28" fill="#858585" fill-opacity=".18" stroke="#858585" stroke-width="0.55"/>
<circle cx="309.1" cy="233.3" r="2.15" fill="#919191" fill-opacity=".18" stroke="#919191" stroke-width="0.52"/>
<circle cx="337.5" cy="260" r="1.95" fill="#f1f1f1"/>
<circle cx="342.9" cy="199.5" r="1.45" fill="#aaaaaa"/>
<circle cx="350.1" cy="226.5" r="1.91" fill="#a9a9a9"/>
<circle cx="321.1" cy="266.1" r="1.52" fill="#dcdcdc"/>
<circle cx="332.6" cy="204.5" r="0.96" fill="#d2d2d2"/>
<circle cx="378.3" cy="214.1" r="0.99" fill="#bababa"/>
<circle cx="286.5" cy="215.9" r="1.72" fill="#a0a0a0"/>
<circle cx="283.9" cy="240.1" r="1.95" fill="#fafafa"/>
<circle cx="315.6" cy="266" r="1.83" fill="#d6d6d6" fill-opacity=".18" stroke="#d6d6d6" stroke-width="0.45"/>
<circle cx="319.4" cy="185.8" r="1.55" fill="#c9c9c9"/>
<circle cx="327.5" cy="228" r="1.83" fill="#8a8a8a" fill-opacity=".18" stroke="#8a8a8a" stroke-width="0.45"/>
<circle cx="359.7" cy="200.4" r="2.24" fill="#bfbfbf" fill-opacity=".18" stroke="#bfbfbf" stroke-width="0.54"/>
<circle cx="345.3" cy="225" r="1.66" fill="#a6a6a6"/>
<circle cx="335.5" cy="240" r="1.55" fill="#a7a7a7"/>
<circle cx="296.4" cy="241.3" r="1.20" fill="#cbcbcb"/>
<circle cx="345.1" cy="238.1" r="1.10" fill="#bebebe"/>
<circle cx="311.3" cy="236.2" r="2.43" fill="#9d9d9d" fill-opacity=".18" stroke="#9d9d9d" stroke-width="0.58"/>
<circle cx="384.1" cy="253.8" r="1.81" fill="#d8d8d8"/>
<circle cx="280.2" cy="236.6" r="1.99" fill="#dfdfdf"/>
<circle cx="375.6" cy="202.2" r="1.92" fill="#cacaca"/>
<circle cx="312.7" cy="249.5" r="1.07" fill="#aaaaaa"/>
<circle cx="362.3" cy="218.8" r="1.73" fill="#f9f9f9"/>
<circle cx="316.8" cy="238.2" r="2.04" fill="#b3b3b3"/>
<circle cx="284.3" cy="256.1" r="1.98" fill="#9a9a9a"/>
<circle cx="378.8" cy="252.5" r="1.60" fill="#d7d7d7" fill-opacity=".18" stroke="#d7d7d7" stroke-width="0.45"/>
<circle cx="282.7" cy="253.7" r="2.52" fill="#e3e3e3" fill-opacity=".18" stroke="#e3e3e3" stroke-width="0.61"/>
<circle cx="299.9" cy="262" r="2.12" fill="#7a7a7a" fill-opacity=".18" stroke="#7a7a7a" stroke-width="0.51"/>
<circle cx="314.8" cy="189" r="0.98" fill="#9f9f9f"/>
<circle cx="315.8" cy="226.7" r="1.78" fill="#eaeaea" fill-opacity=".18" stroke="#eaeaea" stroke-width="0.45"/>
<circle cx="349" cy="262.6" r="2.41" fill="#dedede" fill-opacity=".18" stroke="#dedede" stroke-width="0.58"/>
<circle cx="329.8" cy="238.5" r="2.16" fill="#c2c2c2" fill-opacity=".18" stroke="#c2c2c2" stroke-width="0.52"/>
<circle cx="297.3" cy="197.6" r="1.70" fill="#f6f6f6"/>
<circle cx="353.1" cy="243.4" r="1.63" fill="#e3e3e3" fill-opacity=".18" stroke="#e3e3e3" stroke-width="0.45"/>
<circle cx="326.5" cy="267.3" r="1.26" fill="#f5f5f5"/>
<circle cx="371.5" cy="203.4" r="2.52" fill="#dddddd" fill-opacity=".18" stroke="#dddddd" stroke-width="0.61"/>
<circle cx="359.5" cy="238.1" r="1.36" fill="#c1c1c1" fill-opacity=".18" stroke="#c1c1c1" stroke-width="0.45"/>
<circle cx="313.4" cy="258.1" r="2.38" fill="#cdcdcd" fill-opacity=".18" stroke="#cdcdcd" stroke-width="0.57"/>
<circle cx="294.3" cy="244" r="2.50" fill="#bdbdbd" fill-opacity=".18" stroke="#bdbdbd" stroke-width="0.60"/>
<circle cx="381.3" cy="255" r="1.69" fill="#a1a1a1"/>
<circle cx="350.1" cy="274.3" r="1.43" fill="#e0e0e0" fill-opacity=".18" stroke="#e0e0e0" stroke-width="0.45"/>
<circle cx="379.9" cy="230.9" r="2.32" fill="#aeaeae" fill-opacity=".18" stroke="#aeaeae" stroke-width="0.56"/>
<circle cx="328.2" cy="217" r="1.34" fill="#dddddd"/>
<circle cx="353" cy="262" r="1.02" fill="#c6c6c6"/>
<circle cx="329.9" cy="207.4" r="1.35" fill="#c0c0c0" fill-opacity=".18" stroke="#c0c0c0" stroke-width="0.45"/>
<circle cx="317.9" cy="213" r="1.97" fill="#bebebe" fill-opacity=".18" stroke="#bebebe" stroke-width="0.47"/>
<circle cx="349.3" cy="264.6" r="2.07" fill="#949494" fill-opacity=".18" stroke="#949494" stroke-width="0.50"/>
<circle cx="306.8" cy="273.8" r="1.52" fill="#c6c6c6"/>
<circle cx="331.1" cy="232.5" r="1.45" fill="#ebebeb"/>
<circle cx="323.8" cy="265.4" r="1.89" fill="#9e9e9e"/>
<circle cx="335.2" cy="208.1" r="1.28" fill="#9d9d9d"/>
<circle cx="284.7" cy="225.4" r="2.10" fill="#ececec"/>
<circle cx="322.9" cy="226.9" r="1.06" fill="#dadada"/>
<circle cx="344.4" cy="224.1" r="1.39" fill="#fbfbfb"/>
<circle cx="292.3" cy="217.6" r="1.34" fill="#b8b8b8"/>
<circle cx="325.5" cy="210.4" r="1.11" fill="#f3f3f3"/>
<circle cx="307.7" cy="264.8" r="1.24" fill="#c7c7c7" fill-opacity=".18" stroke="#c7c7c7" stroke-width="0.45"/>
<circle cx="293.5" cy="240.5" r="1.33" fill="#bcbcbc" fill-opacity=".18" stroke="#bcbcbc" stroke-width="0.45"/>
<circle cx="313.5" cy="273" r="1.78" fill="#898989" fill-opacity=".18" stroke="#898989" stroke-width="0.45"/>
<circle cx="288.4" cy="213.7" r="1.54" fill="#c7c7c7" fill-opacity=".18" stroke="#c7c7c7" stroke-width="0.45"/>
<circle cx="344" cy="206" r="1.64" fill="#e5e5e5" fill-opacity=".18" stroke="#e5e5e5" stroke-width="0.45"/>
<circle cx="284.8" cy="205.8" r="2.29" fill="#a2a2a2" fill-opacity=".18" stroke="#a2a2a2" stroke-width="0.55"/>
<circle cx="291.5" cy="241.8" r="1.78" fill="#dfdfdf" fill-opacity=".18" stroke="#dfdfdf" stroke-width="0.45"/>
<circle cx="342.2" cy="268.4" r="1.25" fill="#a7a7a7"/>
<circle cx="374.8" cy="243" r="1.75" fill="#d3d3d3" fill-opacity=".18" stroke="#d3d3d3" stroke-width="0.45"/>
<circle cx="288.5" cy="219" r="0.93" fill="#b7b7b7"/>
<circle cx="361.9" cy="272.1" r="1.35" fill="#d2d2d2"/>
<circle cx="308.8" cy="188.1" r="2.55" fill="#e7e7e7" fill-opacity=".18" stroke="#e7e7e7" stroke-width="0.61"/>
<circle cx="288.2" cy="262.4" r="1.59" fill="#9d9d9d" fill-opacity=".18" stroke="#9d9d9d" stroke-width="0.45"/>
<circle cx="281.9" cy="224.2" r="1.70" fill="#f0f0f0"/>
<circle cx="303.4" cy="212.9" r="1.76" fill="#bfbfbf"/>
</g>
<rect x="112" y="25.2" width="33.9" height="32.9" fill="#a9a99c" stroke="#d6d6d6" stroke-width="0.6"/>
<g fill="none" stroke="#5e5636" stroke-width=".9" stroke-opacity=".85" filter="url(#b03)">
<circle cx="124.9" cy="44.3" r="2.1"/>
<circle cx="119.8" cy="35.4" r="1.6"/>
<circle cx="132.5" cy="39.7" r="1.9"/>
<circle cx="125.9" cy="52.8" r="2.3"/>
<circle cx="127" cy="34.9" r="2.6"/>
<circle cx="128" cy="43.8" r="3.0"/>
<circle cx="117.7" cy="38" r="2.6"/>
<circle cx="131" cy="41.8" r="2.5"/>
<circle cx="124.2" cy="40" r="3.0"/>
<circle cx="117.9" cy="40.1" r="3.0"/>
<circle cx="122.4" cy="29.8" r="2.2"/>
<circle cx="125.9" cy="34.7" r="3.1"/>
<circle cx="125.9" cy="37.7" r="1.7"/>
<circle cx="126.7" cy="49.7" r="2.2"/>
<circle cx="122" cy="36.5" r="2.4"/>
<circle cx="121.6" cy="41.6" r="2.5"/>
<circle cx="116.6" cy="34.4" r="2.7"/>
<circle cx="132" cy="35.4" r="3.2"/>
<circle cx="123.3" cy="36.8" r="3.0"/>
<circle cx="133.4" cy="37" r="2.5"/>
<circle cx="123.8" cy="36.2" r="2.9"/>
<circle cx="121.4" cy="37.5" r="1.6"/>
<circle cx="132.2" cy="28.9" r="1.7"/>
<circle cx="125.8" cy="34.9" r="1.8"/>
<circle cx="122.5" cy="45.9" r="3.0"/>
<circle cx="130.1" cy="40.6" r="1.6"/>
<circle cx="136" cy="47.9" r="2.3"/>
<circle cx="139.6" cy="49.7" r="2.4"/>
<circle cx="136.1" cy="50.9" r="1.9"/>
<circle cx="138.2" cy="50.3" r="1.7"/>
<circle cx="135.3" cy="49.1" r="1.3"/>
<circle cx="138" cy="48.5" r="2.4"/>
<circle cx="138.5" cy="48.6" r="1.8"/>
<circle cx="132.8" cy="49.6" r="1.9"/>
<circle cx="133.1" cy="48.8" r="2.3"/>
<circle cx="133.7" cy="49.9" r="2.1"/>
<circle cx="136.7" cy="52" r="2.4"/>
<circle cx="133.3" cy="49.6" r="1.2"/>
<circle cx="133.6" cy="51.6" r="1.2"/>
<circle cx="133.8" cy="47.7" r="1.3"/>
</g>
<circle cx="118.5" cy="53" r="1.8" fill="#c9c9bd" stroke="#6d6a58" stroke-width=".6"/>
<rect x="234.2" y="25.2" width="33.4" height="32.9" fill="#b3b3aa" stroke="#d6d6d6" stroke-width="0.6"/>
<g fill="#4f4a2e" fill-opacity=".55" stroke="#4a4528" stroke-width=".7" stroke-opacity=".8" filter="url(#b03)">
<circle cx="247.6" cy="38.8" r="2.6"/>
<circle cx="246.8" cy="48.3" r="2.7"/>
<circle cx="253.3" cy="42.7" r="2.6"/>
<circle cx="255.2" cy="41.7" r="2.2"/>
<circle cx="247.8" cy="40.3" r="2.1"/>
<circle cx="249.7" cy="46.6" r="2.5"/>
<circle cx="250" cy="46.8" r="2.8"/>
<circle cx="257.9" cy="43.5" r="2.7"/>
<circle cx="250.2" cy="45.5" r="2.8"/>
<circle cx="251.7" cy="45.5" r="2.2"/>
<circle cx="250.8" cy="40.5" r="2.0"/>
<circle cx="246.7" cy="50" r="2.2"/>
<circle cx="253.4" cy="40.3" r="2.0"/>
<circle cx="245.4" cy="34.8" r="2.2"/>
<circle cx="251.9" cy="44.8" r="2.4"/>
<circle cx="254.8" cy="50.3" r="2.9"/>
<circle cx="253.1" cy="45.9" r="2.9"/>
<circle cx="245.8" cy="36" r="2.0"/>
<circle cx="254.3" cy="45.3" r="2.8"/>
<circle cx="250.9" cy="46.7" r="2.2"/>
<circle cx="247" cy="44.8" r="3.1"/>
<circle cx="251.8" cy="42.9" r="3.1"/>
<circle cx="262.2" cy="33.2" r="2.2"/>
<circle cx="262.4" cy="39.3" r="1.8"/>
<circle cx="251.2" cy="33.7" r="2.6"/>
<circle cx="247.4" cy="42" r="2.0"/>
<circle cx="251.8" cy="44.2" r="2.5"/>
<circle cx="249.4" cy="50.7" r="1.5"/>
<circle cx="257.8" cy="38.5" r="3.1"/>
<circle cx="260" cy="36.5" r="2.4"/>
<circle cx="259.7" cy="43.1" r="1.7"/>
<circle cx="249.2" cy="49" r="2.3"/>
<circle cx="241.4" cy="48.1" r="2.5"/>
<circle cx="249.4" cy="45.4" r="3.0"/>
</g>
<rect x="321.8" y="25.6" width="67.2" height="31.6" fill="#b5b5ab" stroke="#d6d6d6" stroke-width="0.6"/>
<rect x="355.6" y="25.9" width="33.1" height="31" fill="#a7a79e"/>
<path d="M327 33 Q333 28 343 30 Q352 30 353 38 Q353 46 346 50 Q338 53 331 50 Q324 44 327 33Z" fill="#bfbfb4" stroke="#62604e" stroke-width=".8"/>
<path d="M332 36 Q338 32 345 34 Q350 37 347 44 Q341 49 335 46 Q330 42 332 36Z" fill="none" stroke="#e4e4da" stroke-width="1"/>
<path d="M359 31 Q366 27 374 33 Q381 36 386 35 Q382 41 383 47 Q378 55 368 54 Q359 51 359 42Z" fill="#8f8c78" stroke="#5a5641" stroke-width=".8" fill-opacity=".8"/>
<path d="M363 38 Q369 34 375 40 Q378 47 370 50 Q363 47 363 38Z" fill="none" stroke="#b9b7a6" stroke-width=".8"/>
<rect x="112.3" y="165" width="33.9" height="32.6" fill="#a8a8a8" stroke="#d6d6d6" stroke-width="0.6"/>
<path d="M118 182 Q119 172 129 170 Q139 170 141 180 Q141 190 131 193 Q121 193 118 182Z" fill="#b2b2b2" stroke="#5c5c5c" stroke-width=".8"/>
<path d="M123 180 Q128 175 134 178 M126 186 Q131 183 136 186 M129 174 L130 190" fill="none" stroke="#8a8a8a" stroke-width=".5"/>
<rect x="234" y="165" width="33.8" height="32.6" fill="#a6a6a4" stroke="#d6d6d6" stroke-width="0.6"/>
<circle cx="251" cy="181" r="14.6" fill="#b4b4b2" stroke="#50504c" stroke-width=".9"/>
<g fill="#6c6c68"><circle cx="244" cy="176" r=".9"/><circle cx="250" cy="172" r=".5"/><circle cx="255" cy="178" r=".5"/><circle cx="248" cy="183" r=".5"/><circle cx="257" cy="171" r=".5"/></g>
<rect x="322.2" y="165" width="66.8" height="32.6" fill="#adadab" stroke="#d6d6d6" stroke-width="0.6"/>
<rect x="355.6" y="165.3" width="33.1" height="32" fill="#b6b6b4"/>
<ellipse cx="339" cy="181.5" rx="15" ry="14" fill="#b0b0aa" stroke="#4a4a44" stroke-width=".9"/>
<path d="M325 176 Q331 178 329 186" fill="none" stroke="#6a6a62" stroke-width=".7"/>
<ellipse cx="372" cy="181.5" rx="12.2" ry="13.4" fill="#a9a9a4" stroke="#48483f" stroke-width=".9"/>
<path d="M364 178 Q371 170 379 176 Q383 183 377 190 Q368 192 364 178Z M368 181 Q373 176 377 183" fill="none" stroke="#77776e" stroke-width=".6"/>
<rect x="133.3" y="131.3" width="7.8" height="1.8" fill="#fff"/>
<rect x="255.4" y="131.3" width="6.6" height="1.8" fill="#fff"/>
<rect x="374.6" y="131.4" width="12.4" height="1.8" fill="#fff"/>
<rect x="131" y="270.8" width="12.5" height="1.8" fill="#fff"/>
<rect x="253" y="270.8" width="12.6" height="1.8" fill="#fff"/>
<rect x="375.3" y="270.8" width="12.7" height="1.8" fill="#fff"/>
</g>
<g id="panelB">
<text x="395.6" y="13.3" font-size="18.5" fill="#000" font-weight="bold">B</text>
<path d="M399.6 41.7 L435.4 41.7 Q436 41.7 435.8 40 Q431.6 23.7 417.5 23.5 Q403.4 23.7 399.2 40 Q399 41.7 399.6 41.7Z" fill="#fff" stroke="#111" stroke-width="1.9" stroke-linejoin="round"/>
<circle cx="417.4" cy="33.6" r="5.6" fill="#fff" stroke="#111" stroke-width="2"/>
<line x1="437.8" y1="31.3" x2="458.6" y2="31.3" stroke="#111" stroke-width="1.2" marker-end="url(#ah)"/>
<line x1="511.4" y1="31.3" x2="537" y2="31.3" stroke="#111" stroke-width="1.2" marker-end="url(#ah)"/>
<text x="485.6" y="22.8" font-size="9.9" fill="#111" text-anchor="middle" stroke="#111" stroke-width=".22">10,000</text>
<text x="485.6" y="34.6" font-size="9.9" fill="#111" text-anchor="middle" stroke="#111" stroke-width=".22">dissociated</text>
<text x="485.6" y="46.4" font-size="9.9" fill="#111" text-anchor="middle" stroke="#111" stroke-width=".22">single cells</text>
<rect x="538.2" y="16.4" width="75.4" height="15.2" fill="#4a7dc4" stroke="#151a2e" stroke-width="1.4"/>
<rect x="538.2" y="31.6" width="75.4" height="15.4" fill="#9a9a9c" stroke="#151a2e" stroke-width="1.4"/>
<text x="576" y="27.8" font-size="10.3" fill="#0c1024" text-anchor="middle">10 ng/ml EREG</text>
<text x="576" y="43.1" font-size="10.3" fill="#111" text-anchor="middle" stroke="#111" stroke-width=".22">10 ng/ml EGF</text>
<text x="635" y="27.8" font-size="10.6" fill="#111" text-anchor="middle" stroke="#111" stroke-width=".22">Culture</text>
<text x="635.4" y="41.4" font-size="10.4" fill="#111" text-anchor="middle" stroke="#111" stroke-width=".22">10 Days</text>
<line x1="624.6" y1="31" x2="650.8" y2="31" stroke="#111" stroke-width="1.2" marker-end="url(#ah)"/>
<g fill="#161616" stroke="none"><path d="M672.7 16.7 L675.6 18.5 L668.5 28.9 L665.5 27.1Z"/><path d="M673.9 15.0 L675.7 16.1 L676.5 14.9 L674.7 13.7Z"/><path d="M673.1 16.1 L675.5 17.6 L675.8 17.0 L673.4 15.5Z"/><path d="M665.3 26.6 L668.2 28.3 L667.5 29.4 L664.6 27.7Z"/><path d="M659.7 31.0 L668.6 31.0 L668.6 32.0 L659.7 32.0Z"/><path d="M661.4 32.0 L668.3 32.0 L667.1 34.9 L672.0 38.0 L662.0 38.0 L666.3 34.9Z"/><path d="M672.0 22.6 Q675.1 26.9 673.1 30.9 Q671.7 33.4 668.3 34.9" fill="none" stroke="#161616" stroke-width="1.9" stroke-linecap="round"/></g>
<text x="668.2" y="45.2" font-size="8.9" fill="#111" text-anchor="middle" stroke="#111" stroke-width=".22">Count</text>
</g>
<g id="panelC">
<text x="395.7" y="75.6" font-size="18.5" fill="#000" font-weight="bold">C</text>
<text x="538.6" y="72" font-size="13.8" fill="#111" text-anchor="middle" stroke="#111" stroke-width=".22">Forming Efficiency</text>
<line x1="498.4" y1="95.8" x2="581.4" y2="95.8" stroke="#111" stroke-width="1.2"/>
<text x="539.4" y="92.6" font-size="9.2" fill="#111" text-anchor="middle" stroke="#111" stroke-width=".22">NS</text>
<line x1="445.9" y1="93.6" x2="445.9" y2="277.5" stroke="#111" stroke-width="1.7"/>
<line x1="445.1" y1="276.6" x2="633.6" y2="276.6" stroke="#111" stroke-width="1.8"/>
<line x1="440.8" y1="268.7" x2="633.6" y2="268.7" stroke="#111" stroke-width="1.6"/>
<line x1="440.7" y1="268.7" x2="445.9" y2="268.7" stroke="#111" stroke-width="1.3"/>
<line x1="442.5" y1="252" x2="445.9" y2="252" stroke="#111" stroke-width="1.2"/>
<line x1="442.5" y1="235.4" x2="445.9" y2="235.4" stroke="#111" stroke-width="1.2"/>
<line x1="442.5" y1="218.7" x2="445.9" y2="218.7" stroke="#111" stroke-width="1.2"/>
<line x1="442.5" y1="202.1" x2="445.9" y2="202.1" stroke="#111" stroke-width="1.2"/>
<line x1="440.7" y1="185.4" x2="445.9" y2="185.4" stroke="#111" stroke-width="1.3"/>
<line x1="442.5" y1="168.7" x2="445.9" y2="168.7" stroke="#111" stroke-width="1.2"/>
<line x1="442.5" y1="152.1" x2="445.9" y2="152.1" stroke="#111" stroke-width="1.2"/>
<line x1="442.5" y1="135.4" x2="445.9" y2="135.4" stroke="#111" stroke-width="1.2"/>
<line x1="442.5" y1="118.8" x2="445.9" y2="118.8" stroke="#111" stroke-width="1.2"/>
<line x1="440.7" y1="102.1" x2="445.9" y2="102.1" stroke="#111" stroke-width="1.3"/>
<text x="438.4" y="271.5" font-size="9.5" fill="#111" text-anchor="end" stroke="#111" stroke-width=".22">0</text>
<text x="438.4" y="188.2" font-size="9.5" fill="#111" text-anchor="end" stroke="#111" stroke-width=".22">5</text>
<text x="438.4" y="104.9" font-size="9.5" fill="#111" text-anchor="end" stroke="#111" stroke-width=".22">10</text>
<text x="426.6" y="181.6" font-size="9.3" fill="#111" text-anchor="middle" transform="rotate(-90 426.6 181.6)" stroke="#111" stroke-width=".22">Percentage</text>
<rect x="473.5" y="237.6" width="52.1" height="31.1" fill="#4b7ec6" stroke="#111" stroke-width="1.7"/>
<rect x="553" y="247" width="52.6" height="21.7" fill="#9b9b9d" stroke="#111" stroke-width="1.7"/>
<line x1="498.6" y1="207.9" x2="498.6" y2="265.2" stroke="#111" stroke-width="1.9"/>
<line x1="485.6" y1="207.9" x2="512.4" y2="207.9" stroke="#111" stroke-width="1.9"/>
<line x1="489.6" y1="265.2" x2="508.4" y2="265.2" stroke="#111" stroke-width="1.9"/>
<line x1="578.8" y1="217.4" x2="578.8" y2="274.3" stroke="#111" stroke-width="1.9"/>
<line x1="565" y1="217.4" x2="592.8" y2="217.4" stroke="#111" stroke-width="1.9"/>
<line x1="569" y1="274.3" x2="588.8" y2="274.3" stroke="#111" stroke-width="1.9"/>
<text x="498.6" y="290.4" font-size="9.6" fill="#111" text-anchor="middle" stroke="#111" stroke-width=".22">10 EGF</text>
<line x1="498.6" y1="276.6" x2="498.6" y2="281.6" stroke="#111" stroke-width="1.3"/>
<line x1="578.8" y1="276.6" x2="578.8" y2="281.6" stroke="#111" stroke-width="1.3"/>
<text x="578.8" y="290.4" font-size="9.6" fill="#111" text-anchor="middle" stroke="#111" stroke-width=".22">10 EREG</text>
<circle cx="499.1" cy="116.3" r="3.8" fill="#2d5059"/>
<circle cx="499.1" cy="188.7" r="3.8" fill="#2d5059"/>
<circle cx="498.6" cy="199.6" r="3.8" fill="#ea6fb8"/>
<circle cx="505" cy="197.1" r="3.8" fill="#ea6fb8"/>
<circle cx="498.6" cy="208.7" r="3.8" fill="#ea6fb8"/>
<circle cx="493.4" cy="217.1" r="3.8" fill="#2d5059"/>
<rect x="483.1" y="222.7" width="7" height="7" fill="#ea6fb8"/>
<rect x="501.5" y="220.2" width="7" height="7" fill="#3d12a0"/>
<circle cx="510" cy="227.9" r="3.8" fill="#3d12a0"/>
<rect x="513.5" y="226" width="7" height="7" fill="#ea6fb8"/>
<circle cx="493.7" cy="232.9" r="3.8" fill="#3d12a0"/>
<circle cx="499" cy="232.9" r="3.8" fill="#3d12a0"/>
<circle cx="504" cy="232.9" r="3.8" fill="#3d12a0"/>
<circle cx="490" cy="234.5" r="3.8" fill="#ea6fb8"/>
<circle cx="487" cy="237" r="3.8" fill="#2d5059"/>
<rect x="507.7" y="234.4" width="7" height="7" fill="#ea6fb8"/>
<rect x="500.8" y="238.5" width="7" height="7" fill="#3d12a0"/>
<rect x="478.5" y="241.9" width="7" height="7" fill="#3d12a0"/>
<circle cx="487.2" cy="248.7" r="3.8" fill="#ea6fb8"/>
<path d="M495 238.6 l4.3 4.3 l-4.3 4.3 l-4.3 -4.3Z" fill="#2d5059"/>
<circle cx="508.6" cy="247" r="3.8" fill="#ea6fb8"/>
<rect x="512.1" y="244.4" width="7" height="7" fill="#2d5059"/>
<path d="M492.6 246.9 l4.3 4.3 l-4.3 4.3 l-4.3 -4.3Z" fill="#ea6fb8"/>
<rect x="497.1" y="246.9" width="7" height="7" fill="#2d5059"/>
<path d="M506.6 248.6 l4.3 4.3 l-4.3 4.3 l-4.3 -4.3Z" fill="#2d5059"/>
<path d="M476.6 247.7 l4.3 4.3 l-4.3 4.3 l-4.3 -4.3Z" fill="#ea6fb8"/>
<circle cx="482.6" cy="255.4" r="3.8" fill="#2d5059"/>
<rect x="485.1" y="252.7" width="7" height="7" fill="#2d5059"/>
<circle cx="494.6" cy="257" r="3.8" fill="#2d5059"/>
<circle cx="501.6" cy="256.2" r="3.8" fill="#2d5059"/>
<circle cx="507.6" cy="258.7" r="3.8" fill="#3d12a0"/>
<path d="M513.2 251.1 l4.3 4.3 l-4.3 4.3 l-4.3 -4.3Z" fill="#2d5059"/>
<path d="M519.6 249.4 l4.3 4.3 l-4.3 4.3 l-4.3 -4.3Z" fill="#3d12a0"/>
<path d="M485.6 256.9 l4.3 4.3 l-4.3 4.3 l-4.3 -4.3Z" fill="#ea6fb8"/>
<rect x="489.1" y="258.5" width="7" height="7" fill="#2d5059"/>
<circle cx="498.6" cy="261.2" r="3.8" fill="#2d5059"/>
<path d="M504.6 258.6 l4.3 4.3 l-4.3 4.3 l-4.3 -4.3Z" fill="#3d12a0"/>
<circle cx="510.6" cy="263.7" r="3.8" fill="#ea6fb8"/>
<circle cx="488.6" cy="266.2" r="3.8" fill="#ea6fb8"/>
<circle cx="496.6" cy="266.7" r="3.8" fill="#ea6fb8"/>
<rect x="499.1" y="261.9" width="7" height="7" fill="#3d12a0"/>
<circle cx="509.6" cy="267" r="3.8" fill="#3d12a0"/>
<circle cx="578.8" cy="106.3" r="3.8" fill="#2d5059"/>
<circle cx="583" cy="202.1" r="3.8" fill="#ea6fb8"/>
<circle cx="578.6" cy="207.1" r="3.8" fill="#2d5059"/>
<circle cx="579.6" cy="227" r="3.8" fill="#2d5059"/>
<circle cx="591.4" cy="235.4" r="3.8" fill="#ea6fb8"/>
<rect x="567.7" y="234.4" width="7" height="7" fill="#3d12a0"/>
<rect x="573.7" y="232.7" width="7" height="7" fill="#3d12a0"/>
<path d="M583 235.2 l4.3 4.3 l-4.3 4.3 l-4.3 -4.3Z" fill="#3d12a0"/>
<path d="M588.2 232.7 l4.3 4.3 l-4.3 4.3 l-4.3 -4.3Z" fill="#3d12a0"/>
<circle cx="569.8" cy="244.5" r="3.8" fill="#ea6fb8"/>
<circle cx="585.4" cy="244.5" r="3.8" fill="#3d12a0"/>
<path d="M590.8 242.7 l4.3 4.3 l-4.3 4.3 l-4.3 -4.3Z" fill="#ea6fb8"/>
<path d="M576.4 243.6 l4.3 4.3 l-4.3 4.3 l-4.3 -4.3Z" fill="#3d12a0"/>
<circle cx="581.8" cy="250.4" r="3.8" fill="#ea6fb8"/>
<circle cx="587.8" cy="252.9" r="3.8" fill="#ea6fb8"/>
<rect x="590.3" y="248.5" width="7" height="7" fill="#ea6fb8"/>
<path d="M573.4 250.2 l4.3 4.3 l-4.3 4.3 l-4.3 -4.3Z" fill="#ea6fb8"/>
<circle cx="579.4" cy="255.4" r="3.8" fill="#ea6fb8"/>
<rect x="593.7" y="252.7" width="7" height="7" fill="#2d5059"/>
<circle cx="569.4" cy="257.9" r="3.8" fill="#2d5059"/>
<rect x="581.3" y="255.2" width="7" height="7" fill="#ea6fb8"/>
<circle cx="556.4" cy="260.4" r="3.8" fill="#3d12a0"/>
<circle cx="561.4" cy="260.4" r="3.8" fill="#3d12a0"/>
<circle cx="566.4" cy="261.2" r="3.8" fill="#3d12a0"/>
<circle cx="590.8" cy="260.4" r="3.8" fill="#ea6fb8"/>
<circle cx="574.8" cy="262" r="3.8" fill="#ea6fb8"/>
<path d="M580.8 258.6 l4.3 4.3 l-4.3 4.3 l-4.3 -4.3Z" fill="#ea6fb8"/>
<circle cx="601.4" cy="261.7" r="3.8" fill="#3d12a0"/>
<circle cx="594.8" cy="263.7" r="3.8" fill="#ea6fb8"/>
<circle cx="562.8" cy="265.4" r="3.8" fill="#2d5059"/>
<circle cx="587.4" cy="265.4" r="3.8" fill="#ea6fb8"/>
<circle cx="571.4" cy="266.7" r="3.8" fill="#3d12a0"/>
<circle cx="593.4" cy="267" r="3.8" fill="#ea6fb8"/>
<path d="M579.4 266.7 a4.4 3.6 0 0 1 8.8 0" fill="none" stroke="#2d5059" stroke-width="1.7"/>
<line x1="498.6" y1="207.9" x2="498.6" y2="232" stroke="#111" stroke-width="1.9"/>
<line x1="578.8" y1="217.4" x2="578.8" y2="236" stroke="#111" stroke-width="1.9"/>
<rect x="570.2" y="119.8" width="81.5" height="72.2" fill="#fff" stroke="#111" stroke-width="1.9"/>
<text x="573.6" y="130.4" font-size="10.4" fill="#2d5059" stroke="#2d5059" stroke-width=".25">Enteroid Line 1</text>
<text x="573.6" y="142.7" font-size="10.4" fill="#ea6fb8" stroke="#ea6fb8" stroke-width=".25">Enteroid Line 2</text>
<text x="573.6" y="154.9" font-size="10.4" fill="#3d12a0" stroke="#3d12a0" stroke-width=".25">Enteroid Line 3</text>
<text x="573.6" y="164.7" font-size="10.4" fill="#111" stroke="#111" stroke-width=".22">Replicate 1</text>
<text x="573.6" y="176.6" font-size="10.4" fill="#111" stroke="#111" stroke-width=".22">Replicate 2</text>
<text x="573.6" y="188.4" font-size="10.4" fill="#111" stroke="#111" stroke-width=".22">Replicate 3</text>
<circle cx="635.6" cy="161" r="2.6" fill="#111"/>
<rect x="633.2" y="170.4" width="4.8" height="4.8" fill="#111"/>
<path d="M635.6 180.6 l3.7 3.7 l-3.7 3.7 l-3.7 -3.7Z" fill="#111"/>
</g>
<g id="panelD">
<text x="0" y="304.1" font-size="18.5" fill="#000" font-weight="bold">D</text>
<path d="M65.5 338.8h0M67.7 342h0M74.1 350.4h0M74.6 342.1h0M52.4 325.4h0M65.9 343h0M68.5 326.7h0M83.6 346.8h0M56.2 316.2h0M86.5 331h0M88.7 335.2h0M90.8 348.9h0M46.8 316.3h0M70.4 336.2h0M54.3 326h0M87.6 345.2h0M52.4 324.8h0M57.8 318.4h0M61.6 334.3h0M52.5 320h0M53.9 320h0M85.5 341.6h0M72.5 329.2h0M73.2 326.5h0M90.4 342.3h0M51.1 316.2h0M78.5 352.8h0M80.5 356.8h0M85.1 354.4h0M84.3 339.1h0M72.4 342.4h0M78.1 330.1h0M65.3 323.3h0M53.1 320.9h0M83.1 354.5h0M71.8 329.5h0M83.1 349.5h0M54.5 322.2h0M72.2 338.5h0M45.4 315.4h0M76.5 341.9h0M47.7 315.4h0M74.4 340.8h0M66.8 322.4h0M54.7 328.4h0M70.8 349.5h0M89.5 347.7h0M87.2 349.6h0M76.7 349.5h0M46.6 320.8h0M85.2 344.7h0M74.6 336.5h0M58.6 329.3h0M89.7 337.4h0M68.3 336.7h0M69.7 335.9h0M71.3 332.1h0M81.6 354.8h0M50.8 323.5h0M52.8 322.9h0M59.7 332.7h0M74.7 336.7h0M79.7 350h0M55.2 317.5h0M67 345.5h0M45.4 315.5h0M52.7 320.4h0M56.7 335.1h0M77.4 353.4h0M79.1 333.1h0M85.9 348h0M72.1 331.6h0M79.6 348.1h0M86.1 351.8h0M80 332h0M59.8 335.4h0M74.1 345.1h0M74.3 328.1h0M70.1 331.8h0M77.1 348.4h0M72.5 348.6h0M60.4 321.3h0M70.8 336.7h0M74.3 349.1h0M67.4 341.8h0M74.2 341.3h0M54.9 317.9h0M64 335.6h0M80.2 335h0M73.1 335.1h0M63.4 325.4h0M83.7 338.1h0M80.5 343.1h0M74.6 338.7h0M88.1 353.8h0M54.7 333h0M68.3 343.6h0M52 327.4h0M45.8 318.1h0M63.3 324.8h0M78.1 356.1h0M44.1 317.5h0M76.2 327.2h0M78 346.1h0M59.6 318h0M89 355.8h0M59.8 331.2h0M53.2 331.4h0M62 333.1h0M82.5 337.2h0M70.7 339.4h0M45.5 315.4h0M63.1 329.1h0M66.1 336.5h0M84.5 342.5h0M85.3 353.7h0M68.3 344.9h0M62.5 317.2h0M60.8 323h0M50.9 325.9h0M51.7 328.7h0M82.6 338.3h0M68.6 325.1h0M80.5 331.3h0M77.9 342.1h0M58.7 324.9h0M85 351.6h0M67.2 334.9h0M81.8 332.7h0M70.2 339.8h0M58.1 328.7h0M84.6 343.7h0M73.7 335.1h0M71.5 328.4h0M55.1 330.5h0M54.3 322.2h0M89 338.5h0M47.7 316.8h0M84.5 341.3h0M49 320.1h0M67.5 341.1h0M60.8 329.3h0M75.9 341.7h0M84.3 343.4h0M86.2 340h0M78.5 354.5h0M69.3 348h0M62 337.3h0M68 339.1h0M84.4 342.8h0M73.8 326.4h0M66.7 325.7h0M88.7 341.4h0M73.1 343.2h0M82.7 353.3h0M65.7 338.9h0M57.3 314.2h0M78.5 340.1h0M68.6 332.7h0M67.6 326.1h0M56 315.7h0M73.2 354.2h0M53.6 328.1h0M85.8 351.5h0M64.6 326.2h0M83.1 330.3h0M43.8 318h0M86.8 352.7h0M52.5 327.3h0M49.5 323h0M86.3 341.8h0M88 345.9h0M63.3 337.9h0M71.7 329.2h0M68.4 344.6h0M78.7 337.4h0M76.7 337.4h0M81.3 351.2h0M69.4 345.3h0M51.9 321.3h0M63.2 336.2h0M70.4 337.8h0M72.7 339.4h0M51.1 327.3h0M84.6 350h0M60.2 323.9h0M60.9 327.9h0M80.1 348.1h0M66.6 325.8h0M61.5 329.2h0M86.2 339.9h0M52.9 331.3h0M50 324.7h0M58.8 334.3h0M76.4 330.8h0M48.5 327.7h0M60.7 320.7h0M80.4 346.6h0M59.9 332.8h0M62 325.1h0M56.6 333.1h0M78.6 344.8h0M62.5 331h0M56.3 330.1h0M64.2 332.3h0M57.9 337.3h0M62.7 337.1h0M52.9 319.5h0M76.8 338.9h0M62.3 331.1h0M70.6 336.1h0M86.4 341.4h0M87.9 347.7h0M61.8 335.2h0M86.2 331.2h0M57.7 330.4h0M50.8 323.7h0M59.6 325.1h0M67 341.5h0M78.8 344.6h0M65.6 340.3h0M79.4 339.1h0M57.2 322.2h0M46.1 318.5h0M81.7 337.9h0M81.5 331h0M76.6 330.7h0M82.9 350.9h0M78.2 340.3h0M48.3 313.4h0M75.4 332.2h0M47 318.1h0M68.1 336.7h0M81.7 353.1h0M73.9 348.5h0M76.7 338.1h0M51.1 318.7h0M73.2 327.9h0M60.3 326.1h0M41.3 322.9h0M66.3 331.8h0M74.2 345h0M46.2 319.2h0M79.8 348.6h0M83.8 348.7h0M59.9 329h0M60.2 326.2h0M78.7 338.1h0M46 321.7h0M58.9 328h0M73 330.6h0M83.2 342.4h0M75.7 333.5h0M59.6 323.7h0M71.8 333.4h0M78.4 324.7h0M67.2 323.3h0M89.3 350.1h0M85.4 348.4h0M64.9 337.8h0M81.3 338.4h0M82.2 348.1h0M61 319h0M85.7 352.2h0M86.3 348.6h0M57.9 327.7h0M72.2 346h0M76.9 335.6h0M88.5 342.3h0M78.2 331.6h0M59.3 334.7h0M76.7 334.2h0M78.6 341.4h0M59.8 328h0M63 319.7h0M63.7 327.5h0M73.4 340.3h0M77.6 328h0M64.1 330.7h0M78.6 340.8h0M82.1 339.5h0M52.8 331.8h0M72.9 349.8h0M79.4 350h0M90.3 354.6h0M70.2 339.6h0M47 318.2h0M70 334.4h0M89.1 338.8h0M85 357.6h0M79.4 347.5h0M75.1 352.7h0M56.6 334.2h0M86.7 339.7h0M61.3 326.8h0M58.9 333.7h0M65.4 335.2h0M69.2 332.8h0M59.4 328.5h0M80.6 336.2h0M58.8 326.8h0M44.1 319.4h0M82.4 332.4h0M83.2 343.8h0M88.6 348h0M77.2 329.9h0M81 332.9h0M64.8 334.6h0M75.6 339.3h0M62 328.8h0M64.8 346.6h0M52.2 330.8h0M70.1 338.6h0M82.8 329.7h0M72.6 326.7h0M60.3 340.8h0M86.6 334.8h0M69.8 339.6h0M89.7 348.1h0M82.3 338.8h0M78.1 330h0M53.1 315h0M57.2 326.6h0M55 328.5h0M83.7 351.7h0M77.1 336h0M88.1 336.5h0M84.2 349.4h0M67.3 330.2h0M76.6 333h0M67.6 339h0M86.2 356.4h0M70 344h0M85.7 357.3h0M81.8 345h0M80.2 350.5h0M82.2 357h0M60.4 330h0M67.4 328.2h0M50.3 322.4h0M81.2 331h0M50.4 325.7h0M78.5 343.1h0M50.7 325.9h0M63.3 328.3h0M61.5 318.3h0M59 326.1h0M87.3 346.5h0M59.8 322.5h0M44.8 322.9h0M58 323.5h0M68.9 338.3h0M52 319.6h0M88.7 337.8h0M71 324.4h0M65.4 340.2h0M80.7 332.5h0M52.5 317.3h0M65.9 343.7h0M71.1 331.1h0M58.6 329.2h0M61.5 338.8h0M89.3 352.1h0M55.9 321.1h0M68.8 331.3h0M74.6 335.8h0M66.7 342.9h0M83.3 352.7h0M64.2 332.4h0M65.6 338.1h0M67.1 330.4h0M86.3 350h0M75.6 347.9h0M90.2 343.9h0M85.8 346.4h0M72.9 337.1h0M74 347.7h0M58.1 328.1h0M91.6 341.6h0M56.9 326.6h0M68.5 334.6h0M54 329.1h0M61 337.4h0M62.5 333.9h0M78.2 337h0M78.4 326.9h0M76.6 335h0M77.4 334.8h0M69 348.7h0M77.7 342.4h0M47.7 316.8h0M88.1 352.6h0M65.1 334.2h0M76.4 335.4h0M63.5 327.6h0M65.4 334.6h0M73 345h0M81.7 352.9h0M77.4 346.9h0M70.5 338.6h0M69 338h0M86.1 346.1h0M61.6 320h0M77 344.2h0M55 330.3h0M85.6 356.9h0M47.9 316.2h0M83.3 354.7h0M77.4 328.8h0M63.3 329.1h0M71.1 341.5h0M56.6 335h0M88.3 345.6h0M86.2 354.5h0M69.2 340.6h0M46.4 319.1h0M49.4 324.9h0M57.4 336.7h0M59.4 331.4h0M55.8 318.2h0M68.8 327h0M72.4 342.5h0M61 331.7h0M68.8 335.7h0M52.7 315.6h0M81.5 342.9h0M84.6 350.1h0M77.9 335.6h0M88.6 352.2h0M89.5 338.6h0M85.5 337.4h0M72 341.6h0M87.2 345.8h0M67.4 328.6h0M82.6 346.4h0M49.2 323.5h0M58 325.2h0M73.9 341.7h0M70.3 330.6h0M55.1 325.9h0M54.5 325.7h0M90.2 343.5h0M79 336.9h0M61.1 338.2h0M55.9 319.5h0M70.7 326.8h0M72.9 345.8h0M49.2 321.6h0M86.1 331.6h0M84.5 341.1h0M51.6 321h0M48.8 321.6h0M66.8 331.7h0M85.2 341.6h0M55.8 325.3h0M87.1 350.8h0M77.8 354.4h0M72.5 328.3h0M54.4 330h0M69.6 329.5h0M83.8 356.7h0M61.5 327h0M81.5 359.2h0M49 316.3h0M76.9 337.2h0M45.7 319h0M80.9 344.3h0M60.1 319.1h0M53.3 316h0M57.9 318h0M84.1 338h0M74.8 335.4h0M67.8 337.4h0M74.2 344.8h0M53.9 334.6h0M64.8 332.3h0M70.9 348.9h0M86.7 336.4h0M88.1 348.6h0M46.2 314.8h0M87.1 350.1h0M71.1 337.9h0M88.6 343.7h0M88.5 350.3h0M89.5 354.6h0M57.4 319.8h0M57.8 331.3h0M46.9 320.6h0M73.5 331.2h0M92 342.8h0M71.9 340.2h0M59.2 334h0M60.5 328.3h0M74.3 353.3h0M55.9 329.7h0M61.6 320.9h0M59.6 336.5h0M62.9 326.5h0M73.4 351h0M47.9 316.2h0M72.9 328.9h0M86.9 341.6h0M45.8 318.8h0M94 338.4h0M77.7 343.6h0M66.3 332.7h0M76.8 337.7h0M46.8 321h0M62.7 334.8h0M82 327.4h0M79.7 339.7h0M66.9 323.6h0M46.8 322.8h0M84.9 333.2h0M80.4 350.7h0M47.8 324.2h0M88.2 336.3h0M76.6 349.6h0M63.3 331.4h0M76.8 328.7h0M90.1 352.1h0M61.1 329.5h0M84.1 331.9h0M51.2 326.5h0M55.9 335.6h0M80 353.8h0M57.7 332.6h0M86.1 337.5h0M57.7 332.5h0M59 324.6h0M61 339.7h0M74.4 329.4h0M54.8 317.6h0M47 315.6h0M64.4 337.9h0M80 339.3h0M80 334.7h0M86 345.7h0M66.2 339.9h0M77.3 340.4h0M78.7 352.8h0M90 338.2h0M60.6 317.1h0M60.7 336.1h0M90.9 354.8h0M51.3 325.7h0M73.1 329.9h0M54 322.7h0M57.9 318.2h0M77.6 333.4h0M65.4 326.2h0M55 323.7h0M89.5 350.2h0M78.6 351.5h0M75.2 343h0M87.4 345.5h0M75.9 338.9h0M61.7 326.1h0M90 345h0M71.4 346.4h0M58.4 317.1h0M76.3 338.6h0M82.3 358.7h0M73.6 341.7h0M85 342.2h0M85.9 348.9h0M61.2 326.1h0M58 333.1h0M67.5 326.1h0M59.9 325.2h0M78.2 339.5h0M44.2 317.8h0M75.1 343.8h0M68.4 326.2h0M54 325.6h0M86.3 357.9h0M45.8 318.5h0M79.8 337.9h0M82.6 336.6h0M76.9 347.6h0M69.7 332.7h0M63.1 322.8h0M48.4 315.4h0M53.4 324.4h0M64.4 335.3h0M76 350.8h0M87.4 355.6h0M58.8 318.6h0M63 341.5h0M53.8 331.8h0M68.8 335.5h0M81.7 356h0M73.4 336.8h0M46.9 319.3h0M82.6 352.1h0M73.3 350.7h0M83.9 350.7h0M81.1 335.4h0M92.4 346.4h0M90.5 338.2h0M83.6 346.4h0M80.8 340.2h0M46.9 318.1h0M84.3 340.5h0M50.4 325.3h0M74.9 342.9h0M89.1 341.2h0M70.4 332.3h0M53.9 315.4h0M87.2 349.4h0M70.2 325h0M46.5 315.5h0M57.3 329.7h0M81.4 356.6h0M72.4 341.4h0M68.7 323.5h0M67.9 336.6h0M74.9 339h0M85.8 358.3h0M68.6 336.6h0" stroke="#dc1f1f" stroke-width="1.75" stroke-linecap="round" fill="none"/>
<path d="M96.7 343.3h0M107.6 340.4h0M112.8 351.8h0M106.1 361.6h0M113.3 353.9h0M101 348.9h0M93.4 368.8h0M103.4 338.9h0M121.2 349.3h0M113.3 353.5h0M86.9 358h0M90.6 354.1h0M126.4 341.2h0M90.5 365.8h0M114.8 352.7h0M105.7 367h0M106.5 353.4h0M98 368.4h0M111.4 366.4h0M107.3 346.5h0M103.6 349.9h0M113.9 350.1h0M93.5 369.5h0M93.7 361.3h0M95.2 368.1h0M103.1 349h0M111.7 354.6h0M123.8 345.5h0M107.9 365.2h0M100 352.5h0M94.1 348.8h0M93 351.9h0M111.8 339.7h0M108 361.5h0M112.7 361.9h0M109.4 342.8h0M92.6 343.6h0M91.8 359.3h0M104.1 352.3h0M121.6 343.8h0M91.3 358.1h0M105.4 363.7h0M120.1 353.2h0M115.5 346.6h0M103.5 362.7h0M107.9 339.9h0M101.6 343.6h0M116.8 349h0M96.6 345.7h0M118.8 340.7h0M96.3 340.6h0M115.5 336.9h0M94.4 362h0M106.7 362.7h0M91 353.2h0M113.4 354.4h0M116.8 355.5h0M114.2 343.4h0M112.8 351.7h0M97.3 347.1h0M104.3 350.4h0M110.1 354h0M97.2 352.1h0M124.2 345.8h0M92.6 354h0M106.8 365.9h0M91.3 345.2h0M109.2 361.9h0M125.4 343.4h0M117.5 336.9h0M91.3 360.6h0M108.6 344.9h0M100.7 356.7h0M106.6 362.9h0M112.2 361.2h0M100.1 368.1h0M116.3 341.2h0M101.2 349.9h0M92.5 350.8h0M97.3 362h0M111.3 338.9h0M118.7 339h0M90.3 360.6h0M102.3 369.3h0M97.6 369.8h0M109.6 358.9h0M97.2 361h0M116.7 339.2h0M97.7 342.6h0M121.7 342.4h0M107.3 344.7h0M110.8 349.1h0M103 365.3h0M111.9 342.4h0M108.5 360.4h0M89.6 358.7h0M87.4 362.4h0M97.6 349.4h0M114.8 340h0M102 359.9h0M91.8 353.4h0M114.2 342.1h0M113.2 358.2h0M101.9 349.2h0M104.1 344.5h0M115.4 336.1h0M111.9 352.7h0M92.1 341.2h0M92.3 370.2h0M105.4 342.3h0M114.6 361.9h0M105.2 350.9h0M105.7 360.7h0M86.3 359.6h0M89.6 363.6h0M114.4 358.4h0M120.1 339.9h0M95.4 336.6h0M117.3 342.8h0M91.6 346.8h0M90.8 360.4h0M89.2 365h0M110.6 336.9h0M104.2 349.7h0M97 366.2h0M110.3 360.2h0M115.8 351.9h0M99.7 361h0M85.6 360.9h0M121.2 339.2h0M97.5 364.6h0M106.6 337.8h0M114 355.3h0M108.7 347h0M105.1 347.6h0M96.3 358.9h0M92.7 354.3h0M111.1 367.3h0M100 344.6h0M90.9 338h0M108.8 347.9h0M88.3 366.3h0M121.4 351.4h0M108.8 358.7h0M99.9 359.6h0M89.6 362.3h0M109.2 337.5h0M111 342.1h0M104.5 345.7h0M122.3 341.5h0M92.6 355.8h0M99.7 339.5h0M113.5 364.8h0M99.6 367.7h0M104.9 336.2h0M108.4 342.6h0M118.1 336.4h0M91 345.5h0M127.3 343.7h0M90.4 341.4h0M89.2 342.8h0M85.7 358.3h0M124.3 344.6h0M112.3 357.3h0M96.1 339.2h0M87.8 366.1h0M101.4 346.9h0M108.7 342.6h0M106.2 365.3h0M121 346.9h0M92.8 351.6h0M95.8 351.5h0M110.7 358.3h0M91.5 354.9h0M91.7 358.4h0M104.7 336.6h0M86.1 356.1h0M110.1 353.2h0M103.1 362.2h0M94.4 341.3h0M95.5 351.4h0M112.2 366.6h0M112.8 363h0M129.5 337.6h0M97.1 340.1h0M111.2 347.4h0M111.5 364.3h0M100.1 352.7h0M87.5 357.8h0M92.5 350.2h0M115.8 339h0M119.3 339.5h0M103.5 347.7h0M87.6 358.9h0M114.8 355.6h0M93.8 360.2h0M126.3 341.6h0M85.5 362h0M112.8 340.1h0M95 350.9h0M100 341.9h0M91.3 343.5h0M102.8 364.4h0M95.3 349.5h0M104.9 345.6h0M93.4 356h0M96.7 340.4h0M126.9 341.3h0M109.1 362.7h0M100.5 350.7h0M89.4 367.2h0M92.4 366.1h0M95.6 344.2h0M122.1 347.7h0M115.5 344.1h0M109 365.8h0M113.8 340h0M116.3 336.1h0M108.8 352.9h0M102.7 366.4h0M98.6 337.4h0M106.2 339.9h0M95.9 339.7h0M107.1 363.7h0M97.8 363.1h0M110.6 339.5h0M90.3 366.2h0M109.9 351.3h0M120.1 343.6h0M99.4 350.5h0M103.9 367.1h0M92 351.3h0M117.9 339.6h0M87.4 367.8h0M98.6 367.8h0M105 354.8h0M121.3 347.8h0M98.7 363.1h0M117.8 346.6h0M112.8 340.7h0M114.4 352.2h0M125.8 346.8h0M95.8 340h0M112.4 365.4h0M103.2 369.1h0M114.7 348.2h0M93.3 356.3h0M91.2 341.1h0M106.3 364.6h0M121.9 344.3h0M112.9 339.4h0M102.9 345.4h0M116.2 351.7h0M96.6 347.7h0M119.1 342.9h0M108.9 337.2h0M99.9 352.8h0M89.7 342.6h0M92.8 357.7h0M124.1 344h0M114.9 349.2h0M108.7 337.4h0M119.5 351.7h0M94 360.1h0M98.9 348h0M127.3 340.9h0M109.5 360.2h0M125.6 341.5h0M124.1 340.7h0M90 339.7h0M91.2 369.6h0M128.9 338.5h0M103.7 343h0M98.3 356.5h0M122.7 337.7h0M102.4 364.5h0M119.5 346.4h0M101.9 351.1h0M103.5 352.2h0M92 343.4h0M103.7 366h0M98 361.6h0M106.8 356.3h0M90 356.3h0M120.3 343.6h0M107.2 340.5h0M99.2 351.9h0M109.8 343.1h0M107 350h0M117.5 356.8h0M93.2 356.5h0M114.7 354.7h0M91.7 348.5h0M104.1 346.2h0M104.5 347.1h0M96.1 368.3h0M110.6 365.7h0M112.7 354.2h0M101.4 363.6h0M113.8 349h0M91.1 366.1h0M119 349.1h0M101.6 360.2h0M107.5 344.9h0M97.2 346h0M101.6 350h0M126.9 337.6h0M88.8 357.8h0M111.3 354.1h0M112.8 361h0M115.4 340.3h0M117.3 343.6h0M107.7 351.9h0M94.5 358.7h0M87.9 368.2h0M96.4 369.5h0M96.7 369.7h0M99.9 354.8h0M106.8 353.4h0M111.1 354.4h0M94.1 369.3h0M103.9 352.4h0M97.2 354.4h0M102.2 339.8h0M116.9 348.3h0M124.2 339.2h0M102.6 360.4h0M126.8 343.6h0M106.2 346.2h0M110 349.1h0M96.6 343.7h0M104.1 349.9h0M95.6 346h0M112.7 336.1h0M100.7 367.2h0M111.2 353.3h0M117.1 357.2h0M99 348.5h0M114 338h0M108.6 354.2h0M121.1 350.6h0M106.8 349.4h0M113 338h0M113.4 344.8h0M124.7 343.8h0M111.1 350.3h0M108.2 348.6h0M105.7 345.4h0M86.4 360.3h0M97.5 344.9h0M118.7 346.1h0M85.3 365.6h0M113.5 348.2h0M109.9 357.6h0M111.8 354.5h0M104.5 349.6h0M107.8 361.9h0M115.1 344.9h0M118.8 341.9h0M88.3 365.7h0M93 361h0M109.8 341.1h0M96 356.9h0M116.8 342h0M102.3 340.1h0M122.7 346.5h0M91 355h0M116.1 336.8h0M115.8 339.1h0M107.5 345.2h0M112.5 360.5h0M109.2 345.2h0M121 346.2h0M104.9 367.4h0M87 365.4h0M113.5 348.2h0M119.7 347.6h0M103.1 368.8h0M99.4 359.9h0M117.7 351.9h0M102.4 360.2h0M121.8 353.6h0M117.7 342h0M99.6 346.9h0M94.8 342.3h0M129.2 343.1h0M102 367.1h0M109.6 351.8h0M100.3 365.4h0M92.5 367.5h0M101 346.8h0M117 339.5h0M120.9 348.6h0M96.1 368.3h0M104.1 338.4h0M129.1 342.6h0M98.6 342.8h0M108.9 341.3h0M105.5 367.2h0M92.4 356h0M106.3 363.4h0M106.5 368.3h0M104.1 370.2h0M111.7 352.9h0M90.6 360.1h0M90.5 367.3h0M110.5 339.6h0M101.4 350.4h0M93.4 352.4h0M93.1 361h0M108.8 352.8h0M86.2 364.9h0M91.8 347.8h0M108.2 337.9h0M98.1 340h0M107 364.3h0M96.3 357.8h0M116.7 358.4h0M93.1 341.5h0M84.5 362.4h0M128.6 341.5h0M120.2 348.3h0M117.8 342.3h0M95.6 363.9h0M89 357h0M107.4 337.4h0M113.6 341.7h0M97 348.2h0M111.8 341.7h0M96.9 359.4h0M86.1 365.5h0M100.8 359.9h0M112.6 342.2h0M91.1 362.4h0M96.3 367.5h0M99.2 344.4h0M91.6 361.6h0M110.5 351.5h0M105.5 340.1h0M106.3 362.5h0M117.5 344.6h0M97 361.6h0M110.6 358.9h0M90.3 352.2h0M95.4 341.9h0M95.4 352.2h0M90.7 352h0M118.2 354.7h0M112.8 338.7h0M95.9 336.7h0M97.9 343.7h0M118.9 343.6h0M107.6 339.7h0M93.8 363.5h0M100.3 370.5h0M108.6 337.1h0M99.9 346.9h0M97.3 347.9h0M97.9 360.5h0M84.5 364.1h0M111 336.4h0M92.1 338.7h0M88.4 358.8h0M99.6 362.9h0M87 359.2h0M90.2 349.1h0M115.7 341.8h0M98.8 365.2h0M94.7 356.5h0M91.2 343.6h0M101.3 361.5h0M93.8 349.4h0M93 363.2h0M118.5 336.5h0M91.7 357.7h0M107.9 347.9h0M102.9 364.1h0M101.5 353.6h0M102.8 350.5h0M101 363.7h0M91.2 365h0M106.4 353h0M105.9 352.8h0M91.1 345.2h0M98.5 340.7h0M106.8 354h0M106.3 350.1h0M117.1 339h0M107 350.7h0M110.9 341.7h0M96.7 364.8h0M118.6 353.9h0M107.6 346.4h0M100.4 339.9h0M98.2 366.1h0M85.8 361.3h0M91.5 363.5h0M101.8 364.3h0M111.2 349.3h0M101.8 350.1h0M113.8 357.1h0M125.7 342.2h0M92.8 343.7h0M105.3 359h0M117.3 349.5h0M109.9 344.1h0M98.7 351.8h0M94.9 361.2h0M98 350.4h0M110.2 346.4h0M105.4 353.7h0M89 361.6h0M95.9 340.9h0M107.5 353.3h0M93.6 352h0M98.2 355.1h0M102.6 352.9h0M115.1 338.2h0M100.6 353.6h0M115.7 358.9h0M100.4 337.1h0M95.5 351.9h0M106.9 345.2h0M99.4 364.7h0M93 360h0M115.3 353.1h0M120.5 341.5h0M127.6 336.9h0M112.9 356.7h0M112.9 346.1h0M103.6 351.5h0M105.8 338.7h0M103.6 367.2h0M95.3 340h0M89.7 342.5h0M95.1 343.8h0M117.8 344h0M113.7 344h0M123.1 350.9h0M98.9 341.2h0M114.8 353.3h0M118.3 336.6h0M92.2 348.6h0M107.8 354.5h0M92.7 355.3h0M85 359.5h0M88.2 361.5h0M100 368.3h0M124.2 337.9h0M96.9 341.6h0M101.1 343.5h0M112.1 353.6h0M110 359.7h0M81.9 361.6h0M105.5 350.5h0M118.9 352h0M116.6 355h0M97 344.6h0M94.3 341.2h0M97.1 337.7h0" stroke="#8b87d0" stroke-width="1.75" stroke-linecap="round" fill="none"/>
<path d="M140.9 378.2h0M122.4 358.9h0M119.1 386.9h0M147.5 348.9h0M148.3 361.2h0M128.1 352.5h0M144.7 348.3h0M137.8 367.6h0M138.8 373.3h0M142.2 345.4h0M112 376.2h0M127.1 371.8h0M146.7 351.5h0M152.9 378.3h0M138.5 367.6h0M140.4 340.8h0M136.1 381.5h0M146.7 353.2h0M133.2 371.9h0M149.5 374h0M147.1 343.5h0M126.2 372.6h0M141.8 376.4h0M135.8 363h0M116.3 365.5h0M137.3 378.3h0M129.7 348.8h0M141.7 366.2h0M145.4 360h0M115.8 357.8h0M117 361.4h0M113.4 364.3h0M158.3 357h0M113.2 372.9h0M144.6 349.2h0M126.7 355h0M131.1 341.5h0M150 348.6h0M135.3 371.8h0M146.7 350.8h0M132.9 353.3h0M137.2 351.9h0M146.2 362.8h0M130.2 379.2h0M141.2 351.3h0M147 357.6h0M135.8 383.1h0M126.9 367.8h0M119.1 366.9h0M142.7 378.3h0M138 353.4h0M156.7 362.4h0M114.9 368.7h0M123.8 386.9h0M149.3 371.1h0M128.7 389h0M126.3 361.9h0M140 339.9h0M148.4 381.9h0M114.5 379.4h0M131 340.8h0M114.7 372h0M153.9 352.9h0M147.3 347.3h0M115 384.8h0M132.4 365.5h0M132.4 377.9h0M146.1 351.3h0M121.9 374.8h0M131.2 365.1h0M115.4 385.9h0M154.7 359.7h0M124.4 380.3h0M147.5 382.7h0M140.7 370.8h0M118.2 356.9h0M122.3 361.3h0M116.1 357.8h0M135.4 390h0M127.2 360.1h0M135.4 369.8h0M134.3 369.2h0M134.1 342h0M132.6 349.9h0M122.5 363h0M145.4 342h0M120.4 382.5h0M153.3 366.3h0M150.3 375.7h0M125.4 360.6h0M124.7 394.7h0M133.9 369.2h0M145.9 352.4h0M151.8 352.9h0M124.6 366.4h0M135.2 358.4h0M150.5 361.4h0M118.9 368.2h0M124.1 373.2h0M148.4 382.8h0M122.3 373.8h0M132.1 340.8h0M138.9 356.4h0M147.9 379.6h0M130.6 385.4h0M139.3 370.9h0M135.3 349.1h0M143.3 365.6h0M149.2 361h0M119.1 358.8h0M139.8 378.4h0M149.4 361.8h0M139.8 345.1h0M142.7 379.8h0M150.1 352h0M128.4 376.4h0M149.3 347.2h0M141.1 367h0M124.7 386.2h0M118.9 355.6h0M119.1 359.8h0M131.1 361.4h0M131.4 390h0M135.6 376.6h0M143 348.8h0M137 383.8h0M144.9 382.9h0M136.9 363.2h0M146.7 346h0M136.2 348.7h0M132 381.9h0M120.4 380.2h0M117.5 354.7h0M132.5 382.9h0M139.6 358.8h0M113.7 363.9h0M153.1 355.5h0M147.5 354.6h0M138.6 363.3h0M125.2 356.4h0M130.3 392.7h0M135.9 374.1h0M131.9 345.4h0M119.5 379.7h0M134.3 388.7h0M133.7 376.2h0M145.4 347.7h0M145.8 347.4h0M122.2 373.3h0M136.5 367.2h0M149.3 347.5h0M126.5 382.7h0M147.3 377.5h0M127.9 380.8h0M133.5 347.7h0M131 357.2h0M145 344.3h0M144.3 342.8h0M147.4 380.5h0M130 356.3h0M145 361h0M124.2 364.1h0M132.7 373.2h0M154.7 376h0M135.8 362.5h0M120.5 367.7h0M153.9 373.5h0M119 385.6h0M125.9 388.7h0M144.1 363.1h0M135.2 352.7h0M152.4 372.2h0M147.1 376.5h0M121.3 390h0M136.3 349.7h0M140.3 372.5h0M117.9 362.8h0M133.9 368.7h0M120.3 368.4h0M141.3 374.2h0M155.8 375.3h0M124.6 363.6h0M128.9 364.3h0M138.4 379.5h0M137.7 372.4h0M137.8 368h0M128.2 353.2h0M114.2 370.1h0M125.6 371h0M113.9 359.3h0M141.3 353.5h0M136 387.9h0M130.5 380.2h0M141.1 370.4h0M116.3 360.7h0M128.1 350.6h0M144.1 372.6h0M126.3 372.2h0M123.3 374.3h0M121.5 360.5h0M142.2 368.8h0M134.4 346.9h0M134.6 370.4h0M114.3 374.6h0M120 364.1h0M120.9 353.5h0M144.7 344.2h0M142.9 375.7h0M144.7 384.1h0M135 371.4h0M132.8 344.4h0M142.9 366h0M146.2 369.3h0M132.6 344.8h0M125.3 393.1h0M115.8 387.6h0M117.6 374.1h0M135 351.5h0M155 357.9h0M155.4 377.6h0M147.4 361.8h0M129.1 381.8h0M151.3 347.1h0M128.8 354.3h0M121.2 358.5h0M118.1 368.8h0M141.5 372.6h0M130.6 376.9h0M123.5 356.9h0M129.2 362h0M125.8 357.1h0M131.4 356.3h0M138.9 389.6h0M136.8 351.5h0M114.9 373h0M119.2 371.5h0M126.9 358.5h0M118.2 368.4h0M115.2 365.1h0M132.5 363.4h0M128.5 366h0M126.6 344.5h0M117.5 369.5h0M126.1 378.5h0M125.9 382.7h0M145.7 361.8h0M125.7 350.2h0M139.1 381.9h0M133 387.8h0M130 352.9h0M126.1 390.9h0M121.5 367.2h0M124.5 372.1h0M119.5 368.8h0M146.9 363.9h0M137.6 344.5h0M142.2 381.9h0M143.6 382.4h0M145.8 364h0M116.6 382.2h0M133.6 351.4h0M142.3 368.2h0M128.5 358.6h0M121.7 367.3h0M149 356.5h0M156.3 371.1h0M148.8 346h0M113.7 378.3h0M138.1 341h0M135.3 370.9h0M137.3 383.3h0M130.9 356.2h0M132.8 351.8h0M141.7 389.7h0M115.6 385.5h0M121.6 380.4h0M129.5 362.7h0M151.5 366.4h0M142.8 386.2h0M121.1 369.2h0M120.2 360.2h0M144.6 364.5h0M130.9 390.8h0M137.3 389.8h0M123.4 386.5h0M153.7 359.2h0M138.7 353.6h0M135.7 348.7h0M145.3 360.2h0M137.6 378.1h0M117.8 366.6h0M128 358.2h0M128.4 353.4h0M143.2 344.2h0M146.9 351.4h0M138.8 369.9h0M132.3 363.4h0M122.4 366.5h0M130.2 395.6h0M132.1 390.7h0M147.2 360.9h0M147.9 352.9h0M149.2 381h0M129.4 394.8h0M127.6 375.4h0M139 373.6h0M150.5 367.5h0M154.9 375.9h0M133.9 366.8h0M140.1 356.1h0M142.5 371.9h0M141.8 352.1h0M143 364h0M150 349.8h0M148.5 371.9h0M144.5 370.8h0M120.2 364.3h0M132.3 376.4h0M128.7 368.9h0M127.3 386.5h0M139.5 353.9h0M153.6 361.3h0M120.1 383.9h0M138.9 374.5h0M135.4 340.8h0M121.8 383.2h0M137.6 348.6h0M114.8 359.8h0M116.5 382.4h0M125 379.5h0M122.8 380h0M136.5 343.6h0M112.3 367.4h0M125.6 348.3h0M129.7 348.6h0M132.4 381.3h0M134.8 345.9h0M137.9 366.7h0M137 371.8h0M119.2 363.1h0M132 384.6h0M153 357.8h0M146.4 359.1h0M122.1 387.9h0M134.6 353h0M119.1 382h0M140.7 391.5h0M131.3 376.4h0M139.2 382.9h0M119.9 356.8h0M125.9 387.2h0M132.6 342.9h0M126.2 373.8h0M131.9 379.3h0M122.7 383.9h0M116.3 368.4h0M150 360h0M149.7 379.5h0M119.8 382.9h0M138.7 384.3h0M124 387.4h0M146.3 349.2h0M140.2 345.5h0M127.4 348.8h0M136.7 340.6h0M151.7 349.4h0M115.6 365.3h0M125.1 368.9h0M128.5 363h0M124.5 364.5h0M155.3 355h0M147.7 355.9h0M142.1 387.8h0M143.7 349.5h0M134.5 378.3h0M143.6 373.5h0M142 339.1h0M148.2 373.9h0M117 363.2h0M125.8 366.2h0M133.5 358.7h0M142.2 367.5h0M134.2 381.2h0M127.3 373.3h0M139.8 345h0M145.8 363.9h0M138.3 347.2h0M132.1 389.3h0M131.4 383.9h0M145.7 351.7h0M127.3 375.8h0M138.3 359.7h0M128.5 382.2h0M144.2 386.7h0M130.6 372.9h0M128.3 355.2h0M113.9 368.6h0M121.7 364.4h0M125.1 388.3h0M121.4 377.1h0M134.4 375.1h0M132.3 365.7h0M133.6 339.8h0M146.2 356h0M120 375.6h0M112.1 366.6h0M147.3 354.6h0M120.5 351.2h0M150.5 367.6h0M142 366h0M117.3 366.4h0M140.1 351.4h0M128.3 360.1h0M134.2 343.1h0M114.9 364.4h0M118 368.5h0M121.5 374.6h0M133.5 349.8h0M147.3 351.9h0M125.6 374.5h0M127.6 374h0M125.8 369.5h0M134.1 391.2h0M122.5 360.2h0M134 348.1h0M147 357.1h0M142.7 364.8h0M114.6 378.2h0M129.3 372.7h0M125.4 364.4h0M132.9 342.5h0M132.3 347.3h0M119 359.4h0M134.9 380.2h0M126 394.9h0M133.8 355.7h0M142.7 363h0M148.4 378.6h0M132.8 379.7h0M115.7 368.5h0M125.7 358.5h0M134.3 372.4h0M131.5 366.5h0M127.6 392h0M153 357.5h0M135.5 391h0M129.7 379.1h0M123.9 375.9h0M121.4 359.4h0M147.7 369.7h0M142 385.2h0M136.1 347.4h0M128.3 356.4h0M140.4 343.2h0M129.4 376.9h0M135.8 344.2h0M130.4 368h0M120.4 367.9h0M134 359.8h0M115.2 362.8h0M138.8 366.1h0M152.8 363.3h0M122.6 372.7h0M141.4 343.8h0M145.7 352.3h0M147 353.8h0M145.5 367.7h0M129.9 375.8h0M137 358.4h0M141.5 373.2h0M130.7 387.6h0M123.2 381.1h0M122.5 361.1h0M129.2 394.3h0M123.2 373.4h0M126.5 365.1h0M152.3 362.9h0M129.8 370.5h0M136.6 379.7h0M134 341.2h0M137.9 359.1h0M154.2 363.7h0M123.4 389.1h0M117 387.3h0M124.1 369.4h0M135.5 386.4h0M121.8 358.5h0M148 363.7h0M126.5 349.4h0M129.4 374.1h0M139.6 384.2h0M141 380.5h0M140.1 377.1h0M136.4 371.7h0M134 384h0M144.2 373h0M126.7 355.1h0M125.5 354h0M154.3 378.1h0M126 371.6h0M138.7 387.2h0M157.3 362.5h0M130.2 381.6h0M142.1 355.8h0M146.9 356h0M115 382h0M144.2 350.1h0M138 358h0M140.7 353.8h0M140.6 340.9h0M120.3 359.6h0M148.9 358.1h0M151.5 363.4h0M142.4 384.6h0M155.2 365.5h0M127.1 353.3h0M137.4 373.9h0M149.1 372.1h0M132.9 346.3h0M149.5 362.7h0M134.5 370.8h0M116.4 380h0M146.6 359.7h0M146.7 382.1h0M116.5 366.1h0M122.8 352.3h0M130.7 377.7h0M147.7 356.3h0M146.1 352.3h0M122.5 360h0M140.5 370.3h0M131.6 367.8h0M117.9 358.5h0M132.4 356.3h0M122.9 356.2h0M139.3 345.4h0M155.2 370.4h0M145.7 359h0M144.8 372.2h0M141.2 385.8h0M124.9 356.7h0M150.6 353h0M142.3 367.3h0M118.4 369.7h0M119.2 387.5h0M118.8 371.8h0M148.4 375.5h0M132.9 338.9h0M153 371.5h0M129.6 366.1h0M150.3 363.3h0M153 378.2h0M136.9 391.3h0M135.1 342.9h0M117.9 384.6h0M139.3 350.9h0M142.1 356.4h0M127.5 375.9h0M150.8 356h0M136.6 375.4h0M142.2 387.6h0M132.2 347.1h0M128.4 391.9h0M142.2 371.5h0M118.3 357.7h0M121.1 379.3h0M146.6 378.7h0M141.5 345h0M122.7 369.8h0M127.8 377.6h0M152.3 365.2h0M144.7 342.5h0M115.2 364.5h0M149.3 360.9h0M125 371.8h0M113 362.9h0M137 384h0M124.5 357.4h0M149.8 344.4h0M138.9 372.7h0M126.6 367.5h0M145.6 361.2h0M152.3 348.7h0M127.7 358h0M133.9 386.1h0M113 370.6h0M154.1 364h0M135.6 342.7h0M118.4 357.2h0M127.6 372.7h0M115.9 370.2h0M123.9 359.9h0M137.2 341.8h0M150.2 344.7h0M130.4 386.2h0M115.6 363.6h0M132.8 380.8h0M127.1 351.1h0M144.3 345.3h0M151.3 363h0M126.8 357.8h0M131.7 346.8h0M137.2 351.8h0M120.4 386.6h0M133.6 342.2h0M130.8 366.2h0M148.3 350.6h0M130.1 383.2h0M126.6 390.7h0M122.8 369.3h0M154.4 357.4h0M139.7 389.5h0M125.8 367.4h0M155.1 362.1h0M132.1 352.5h0M112.6 378.1h0M122.1 360.2h0M137.1 381.3h0M121.5 370.2h0M151.6 349.1h0M151.1 370h0M146.5 353.7h0M135.7 381.7h0M130 359.2h0M132.1 360.8h0M117.7 362.9h0M127.1 368.5h0M151.8 360.1h0M128.1 351.2h0M130 351.8h0M124.9 351.3h0M130.2 352.3h0M120.1 382.5h0M151.2 359h0M146.2 370.3h0M133.2 392.5h0M133.8 373.5h0M139.1 367.1h0M130 372.7h0M135.2 337.7h0M127.7 360.8h0M148.3 353.3h0M117.3 368.8h0M118.7 389.1h0M129.3 351.6h0M124.1 358.5h0M131.6 384.6h0M127.7 391.2h0M119.7 381.1h0M118.4 381.4h0M128.1 371h0M139 390.8h0M126.7 362.1h0M134 360.3h0M138.3 340.2h0M134.2 391.5h0M128.7 376.7h0M145.7 350.2h0M130.1 371.9h0M138.7 353.3h0M151.9 366.1h0M134.4 372.2h0M127.3 357.6h0M130.5 379.8h0M153.2 348.9h0M132.9 356.3h0M148.6 383.1h0M153.1 356h0M137 353.1h0M120.9 372.5h0M145.5 359.4h0M149.9 365.3h0M122.2 390.9h0M114 371.2h0M145.3 373.5h0M131.6 380h0M148.3 379h0M144.4 374.5h0M151.8 372.2h0M139.1 367.2h0M152.1 367.4h0M117.3 359.9h0M139.8 384.7h0M120 388.6h0M137.5 365.6h0M135.8 337.3h0M113.5 371.8h0M143.5 370h0M115.8 364.5h0M144.8 385.6h0M121 368.8h0M129.8 345.4h0M129.4 382.7h0M130.6 343.8h0M118.4 383.6h0M123.5 351.3h0M129.3 390.8h0M134.3 365.2h0M128 354.5h0M138.8 357.4h0M127.7 347.6h0M137.1 351.8h0M140 367.1h0M149.2 347.4h0M130.3 345.5h0M130.5 346.4h0M146 365.9h0M130.4 393h0M131.8 378.6h0M127.9 385.2h0M124.9 380.9h0M125.6 363.1h0M148.6 349h0M136.5 354.3h0M148.5 381.9h0M149.1 354.4h0M113.4 380.1h0M154.2 352.1h0M138.3 339.2h0M128.7 390.1h0M154.1 364.9h0M127.2 358.8h0M122.2 364.2h0M119.7 386.6h0M128.2 387.5h0M126.9 351.7h0M123.9 381h0M130.5 388.8h0M137.7 361.6h0M126.2 356.8h0M125.1 373.3h0M119.9 367.7h0M145 344.8h0M127.6 360.9h0M114.7 359.1h0M143.4 348.8h0M151.2 354h0M147.7 381.2h0M130.7 365.7h0M129.6 368.5h0M149.2 362.9h0M132.4 354.9h0M136.2 343.1h0M123.3 361.7h0M132.8 373.2h0M130.7 365.3h0M123.3 376.4h0M113.3 369.5h0M137.6 386.5h0M142.8 349.2h0M147.1 360.3h0M141.7 368.6h0M136.9 353.7h0M139.2 339.3h0M151.1 363.1h0M134.5 376.1h0M130.6 381h0M117.9 383h0M130.8 342.8h0M134 368.4h0M129.9 363.3h0M154.5 371.1h0M136.2 367.1h0M127.8 370.9h0M135.4 375.3h0M150.7 367.7h0M132.7 377.4h0M128.8 373.4h0M143.1 355.5h0M136.1 356.5h0M151.6 377.3h0M135.9 375.6h0M129.8 391.2h0M133.9 375.9h0M152.1 364.3h0M138 382.4h0M122.4 392.8h0M135.9 352.6h0M139.7 369.4h0M150.3 349.8h0M119.5 372.7h0M155.2 371.8h0M120.9 361.7h0M130.2 391.2h0M137.5 366.4h0M150.2 383.6h0M133.8 382.9h0M126.2 363.3h0M140.3 381.1h0M126.9 353.9h0M128.5 387.3h0M136.2 352.7h0M127.6 378.5h0M147.6 342.9h0M145.9 349h0M148.7 370.6h0M129.2 357.6h0M116.9 385.1h0M142.4 386.2h0M144.8 353.7h0M129.9 344.7h0M116.7 388.7h0M136.8 380.9h0M129.4 392.5h0M153.7 370.6h0M151.7 375.7h0M139.5 391.5h0M126.5 385.6h0M141.1 370.4h0M134.8 389.1h0M134 381.8h0M112.9 371.3h0M142.2 385.7h0M152 372.5h0M134.7 365h0M131.4 366.8h0M116.8 386h0M132 376.7h0M123.8 352.5h0M152.9 355h0M139.6 374.9h0M132.1 381.8h0M112.9 367.6h0M135.7 362.5h0M139.8 358.3h0M127 344.8h0M155.8 357h0M156 358.4h0M116.4 362.5h0M144.3 344.3h0M129.1 368.6h0M153.2 363.4h0M133.1 390.3h0M150.4 366.9h0M141.2 350.4h0M148.3 360.5h0M129 349h0M133.2 372.5h0M128.5 365.9h0M120.9 379.3h0M138.6 363.2h0M137.3 361.7h0M136.3 381.1h0M148.8 347.3h0M121.1 390h0M121.4 392.4h0M136.9 347.4h0M124.6 352.6h0M141.9 372.5h0M151.7 352.4h0M139.3 351.7h0M153.1 374h0M140.2 385.2h0M156.1 376.4h0M122.3 368.1h0M128.7 388.7h0M145.5 350.9h0M152.4 378.7h0M133.1 340.9h0M136.3 376.2h0M126.9 392.7h0M128.1 382.4h0M150.2 366.6h0M116.5 383.7h0M129.4 361.5h0M135 370.8h0M152 374.1h0M148.4 378.4h0M116.3 383.2h0M143 356.9h0M138.9 376.8h0M149.4 370.8h0M130.2 380h0M138.1 376.2h0M152.8 356.3h0M138.8 349.1h0M143.5 364.4h0M135.2 348h0M146.8 376.4h0M129.7 387.3h0M132.3 374.4h0M126.1 390.3h0M137.4 364.3h0M133.8 386.2h0M151.7 344.8h0M131.1 359.2h0M152.4 377.5h0M114.9 381h0M145.3 366.7h0M120 378.6h0M123.6 374.4h0M117.2 381.4h0M126.9 355.6h0M123.4 382.1h0M129.4 356.5h0M138.5 339.6h0M154.6 361.6h0M123.3 366h0M129.8 361h0M146.8 348.7h0" stroke="#e8861e" stroke-width="1.75" stroke-linecap="round" fill="none"/>
<path d="M103.5 380h0M107.2 406.5h0M93.6 409.8h0M111.3 408.7h0M111.3 409.1h0M99.5 421.3h0M110.2 381.2h0M106 382.9h0M108.6 392.2h0M101.7 374h0M99.6 378.1h0M92.8 382.8h0M109.3 407h0M104 405.6h0M97.7 382.3h0M99.1 402.2h0M90.1 388.7h0M106.3 396.4h0M108.6 380h0M88.3 374.6h0M106.1 378.7h0M99.8 420.3h0M97 380.5h0M107.5 400.5h0M108.6 416.4h0M106 388.9h0M95.4 384.5h0M93 389h0M92.1 388h0M104.1 370.9h0M97 391.1h0M100.5 384.3h0M101.4 408.6h0M102.9 411.5h0M112.4 391.6h0M104.7 414.2h0M104.8 388.1h0M103.3 402.2h0M98 388.9h0M89.4 406.8h0M110.3 372.4h0M111.4 382.2h0M92.4 374.5h0M111.6 401.9h0M97.5 412.5h0M102.3 399.3h0M100.5 389.4h0M111.1 374.5h0M97.3 408.8h0M92.3 398.6h0M96.2 381.1h0M102.4 395.5h0M96.2 389.7h0M104.8 390.4h0M99.1 410.9h0M105.1 406.4h0M96.8 414.5h0M104.9 400.8h0M112 389.7h0M98 415.3h0M90.8 378.1h0M110 369.1h0M90.6 395.4h0M106.6 376.4h0M104.7 411.1h0M99.9 372.8h0M91.1 375.9h0M88.9 394.5h0M90.8 405.4h0M107.8 381.9h0M100.5 374.5h0M111.6 406.9h0M95.1 380.9h0M99.7 399h0M94.2 375.6h0M104.6 369.8h0M106.8 372.2h0M95.2 389.5h0M107.6 396.5h0M91.3 386.5h0M111.2 372.7h0M99.1 386h0M94.8 391.9h0M89.9 394h0M105.2 411.4h0M90 384.9h0M107.7 396.3h0M107.5 399.3h0M100.7 375.7h0M110.2 377.6h0M107.4 381.4h0M110.2 412h0M98.8 374h0M106.8 411.5h0M111.9 400.6h0M104.7 421.8h0M95.1 410.8h0M108.1 395.8h0M92.3 388.8h0M106.9 370.5h0M100.6 379.1h0M90.3 393.4h0M90 395.9h0M113.8 410.8h0M92.2 386h0M90.1 384h0M95.7 374.2h0M102.2 405.1h0M111.5 378.2h0M106.9 406.2h0M113.9 378.8h0M107.7 372.1h0M105.2 381.4h0M92.5 407.1h0M87.7 378.5h0M101.3 407.4h0M107.7 369.3h0M110.4 393.5h0M100.6 392.2h0M93.2 385.5h0M97.4 403.5h0M106.1 382.4h0M111.3 383.7h0M105.3 384.8h0M104.3 404.7h0M99 409.8h0M99.2 401.4h0M111.3 375.5h0M100.8 388.5h0M95.2 378.1h0M88.3 391.3h0M104.6 388h0M103.9 379.5h0M103.9 394.1h0M93.4 376.6h0M99.8 407.9h0M88.3 387.1h0M107.7 370.5h0M100.3 404h0M110.4 371.2h0M100.1 414.7h0M100.4 406.3h0M93 391.5h0M105.5 376.4h0M109.4 412.4h0M102.9 404.2h0M95.4 412.1h0M97.3 412.9h0M104.4 403.2h0M86.9 375.2h0M112 401.3h0M107.7 370.2h0M112.2 410h0M94 392.5h0M105.9 375.7h0M99 384.5h0M94.3 387.9h0M103.5 387.7h0M104.6 370.5h0M96.7 409h0M104.6 379h0M97.9 407.2h0M99.3 387.7h0M90.8 403h0M94.9 389.6h0M98.1 383.2h0M107.9 381.1h0M103.7 403.6h0M110.3 390.1h0M107.4 386.9h0M108.4 403h0M104.4 406.5h0M112.9 371.6h0M100.4 396.1h0M100.2 401.1h0M111.5 373h0M101.4 374.5h0M94.5 401.2h0M100.4 395.8h0M91.2 402.6h0M114.3 404.8h0M93.7 406.3h0M97.8 379.7h0M92 374.7h0M104 407.4h0M95.8 383.4h0M104.6 391h0M105.4 419.1h0M111.6 418.3h0M105.8 376.5h0M103.4 417.9h0M110 397.3h0M92.1 376.5h0M105.8 412.6h0M113.4 374.2h0M98.6 412h0M109.2 376.3h0M105.2 408.2h0M104.4 382h0M110.7 378.9h0M99.8 387.8h0M109.1 402.4h0M103.6 406.1h0M109.3 408.7h0M109.7 386.5h0M102.3 416.8h0M113.7 401.2h0M110.7 402.3h0M106.5 397.9h0M109.2 411.4h0M105.4 411.7h0M106.5 419.9h0M101.8 394.5h0M93.5 407.6h0M102.6 416h0M101.8 394h0M103.4 380.2h0M99.7 387.9h0M90.2 403h0M94.8 387.5h0M100.4 398.7h0M100.7 413.2h0M97.1 417h0M97.2 408.7h0M91 391.8h0M102.1 382.2h0M85.6 391.7h0M104.2 414.1h0M102.1 377.4h0M90 390.6h0M109 379.9h0M101.7 382.6h0M94.8 382.9h0M111.5 406.3h0M94.9 383h0M109.6 374.4h0M103 368.9h0M100.7 378.4h0M98.6 388.9h0M96.5 404.9h0M98.7 395.2h0M105.5 392.2h0M89.9 383.8h0M110.4 399.8h0M113.7 404.9h0M94.5 408.3h0M101.6 420.9h0M97.8 416.5h0M96.4 378.4h0M99.2 403.8h0M97.5 406.7h0M97.2 392.1h0M99 400.2h0M109 395.7h0M100 380.8h0M102.5 373h0M106.8 393.2h0M102.1 380.2h0M102.1 405.3h0M98.6 388h0M90.3 375.2h0M110.2 376.7h0M94.9 380.4h0M93.9 407.8h0M94.5 390h0M97.1 396.5h0M96.9 369.5h0M112.2 404.1h0M94.7 406.8h0M109 409.3h0M93.1 389.6h0M88.1 399.7h0M98.4 386.4h0M94.9 402.4h0M109.5 383.6h0M91.8 405.2h0M107.5 419h0M96.4 384.3h0M111.9 399.7h0M94.7 411.7h0M91.5 371.1h0M112 410h0M98.8 418.6h0M97.2 418.7h0M94.3 398.9h0M114.9 407.2h0M109.9 372.8h0M105.9 417.5h0M106.6 407.9h0M98.7 404.4h0M95.9 376h0M110.4 371.2h0M97.3 400.6h0M93.9 415h0M94.4 375.2h0M103.4 412.9h0M90.9 392.5h0M96.7 381.6h0M99 420h0M92.7 404.5h0M104.9 413.6h0M89.2 397.9h0M105.8 416.9h0M106.9 379.6h0M92.6 394.5h0M107.7 417.7h0M92.7 385h0M104 419.5h0M104.4 416.8h0M101.4 412.3h0M109.3 410.6h0M106.3 405h0M100.7 397.7h0M100.3 371.5h0M109.9 375.4h0M102.1 387.9h0M95.4 410.6h0M105.8 389.1h0M109.6 372.4h0M108.7 370.1h0M112.7 377.8h0M92.1 381.5h0M116.5 402.7h0M94.1 399.6h0M95.2 371.1h0M99.5 370.8h0M92.3 381.5h0M108.2 398.1h0M97.2 390.9h0M113.2 407.9h0M92.8 410.6h0M107.1 410.9h0M98.6 400.2h0M98.2 396.3h0M94.3 379.5h0M105.9 417.9h0M96.3 373.4h0M101.1 396.2h0M106.8 393.7h0M107.5 402.8h0M110.8 407h0M89.5 371.2h0M102.2 421.5h0M97 390.3h0M95.8 408.1h0M94.1 406.8h0M102.6 398.7h0M89.5 394.8h0M97.9 412h0M89.9 373.2h0M108.6 395.7h0M101 393.4h0M101.4 409h0M98.6 394.8h0M95.9 384.1h0M105.8 390.8h0M105.1 370.5h0M99.2 391.4h0M95.6 371.8h0M95.8 398.2h0M108.9 373.9h0M94.8 385.7h0M90.8 393.8h0M102.9 394.6h0M95.9 377.4h0M92.5 407.6h0M111 400.5h0M111.8 409.8h0M90 406h0M88 390.7h0M109.2 390.2h0M88.8 382.4h0M105.8 404.2h0M109.7 405.4h0M107.8 392.9h0M108.5 399.2h0M105 405.2h0M96.9 402.8h0M93.4 394.7h0M93.8 375.5h0M102.6 416.3h0M107.4 396.1h0M105.5 383.1h0M107 408.2h0M107.4 391.7h0M110.2 419.6h0M98.5 382.4h0M102.8 421h0M106.1 379h0M87.8 391h0M103.3 394.4h0M112.8 415h0M101.1 383.2h0M98.4 408.9h0M105.2 391.5h0M100.6 400h0M93.7 389.8h0M104.7 396.8h0M90.8 386.5h0M106.5 397.2h0M111.6 372.4h0M101 375.5h0M109.6 391.2h0M110.3 403.8h0M93.1 378.6h0M99.1 395.4h0M97.4 382.2h0M95.1 395.5h0M95.9 404.9h0M94.9 377h0M99.2 414.3h0M101 414.2h0M109.1 379.6h0M107.2 402.4h0M94.3 378.4h0M92.6 398.1h0M92.4 406.5h0M96 402.8h0M111.1 406.9h0M93.4 392.9h0M101.7 378.7h0M110.2 370.5h0M107.6 378h0M112.7 399.9h0M104.4 409.4h0M96.1 380.7h0M99.9 397.7h0M94.8 399.2h0M92.4 374.9h0M112 384.9h0M100.6 385.3h0M90.2 371.2h0M101.8 420.6h0M99.1 385.1h0M93.3 381.3h0M98.5 384.3h0M100.8 398.1h0M94.4 386.9h0M106.4 394.4h0M98.3 401.9h0M104.9 417.4h0M115.1 382.4h0M105.7 379.6h0M102.5 396.6h0M96.1 394.9h0M103.8 401.2h0M112.9 379.1h0M92.4 389.5h0M89.7 384.5h0M103.6 373.2h0M108.1 395.6h0M96.3 374.1h0M94.1 381.4h0M104.7 373.7h0M97.8 405h0M99.5 407.2h0M104.5 416.1h0M96.4 399.5h0M92.8 386h0M100 403.3h0M107.3 370.1h0M107.4 397.3h0M92.3 408h0M104.5 412.9h0M102.1 412.4h0M106.8 378.6h0M113 380.7h0M103.3 393.1h0M96.3 371.3h0M104.6 410.4h0M105.4 382.4h0M103.7 375.4h0M106 368.7h0M92.9 378.1h0M96.3 410.1h0M97.3 415.5h0M98 409.8h0M99 396.2h0M98.3 413.2h0M97.9 413.5h0M103.8 385.3h0M99.3 373.4h0M97.1 395.9h0M101.3 373.4h0M103.8 389.8h0M96.9 382.1h0M102.6 408.7h0M98.8 401.7h0M96.6 382.8h0M97.4 393.8h0M91.5 393.4h0M108.7 382.6h0M93.5 376.2h0M109.2 409.3h0M104.1 398.7h0M106.8 402.9h0M101.1 372.8h0M99.7 377.6h0M94.4 400.7h0M96.9 369.5h0M109.2 374.8h0M108.6 394.1h0M110.6 386.8h0M100 418.2h0M92.6 374.6h0M92.4 392.5h0M89.2 381.8h0M92.7 401h0M97.6 420.1h0M102 399.4h0M100.7 405.8h0M92.2 406.3h0M90.8 382h0M111.8 378.4h0M89.7 395.6h0M97.9 377.2h0M105.6 390.3h0M97.9 379.3h0M104.1 409.8h0M96 401.5h0" stroke="#86e03c" stroke-width="1.75" stroke-linecap="round" fill="none"/>
<path d="M120.4 432.9h0M127.3 428.5h0M125.7 413.4h0M117.2 425.9h0M126.6 400.6h0M120.4 431.2h0M121.7 423.2h0M128.7 426.8h0M121.8 402.7h0M119.7 399.9h0M133.6 426.4h0M121.3 397.7h0M126.6 422.3h0M128.1 413.1h0M125.3 421.8h0M127.8 421h0M121 415.7h0M121.3 420.1h0M124.3 432.1h0M127.3 399.6h0M130.4 406h0M119.5 434.3h0M116.9 421.9h0M122.6 419.4h0M128.4 429h0M133 429.5h0M116 430.2h0M121.6 433.5h0M123.3 411.9h0M130 437.9h0M128.8 404.6h0M129 438.2h0M114.9 424.3h0M125.4 432.4h0M119.1 407.3h0M122.7 413.8h0M129.1 416.8h0M127.2 399.5h0M136.1 395.3h0M123.3 406.6h0M125.9 419.4h0M114.1 426.8h0M124.1 436.6h0M120.7 422.3h0M126.3 401.3h0M123 435.7h0M128.5 407.6h0M131.3 403.2h0M118.5 424.3h0M123.5 422.4h0M124.1 425.4h0M124.5 414.6h0M124 428.7h0M121.7 419.2h0M123.6 397.2h0M119.2 432.8h0M129.9 430.8h0M134.6 396.7h0M117.5 418.6h0M117.5 402.4h0M127.9 422.8h0M122.4 429.2h0M123.2 421h0M121.9 426.6h0M118.7 404.7h0M120.7 436.8h0M117.6 434.7h0M117.2 399h0M126.8 400.5h0M118.7 421h0M131.6 425.7h0M121.1 433.8h0M130.4 434.5h0M124.3 431.2h0M122.8 431.1h0M131.6 420.6h0M121.8 407.9h0M126.6 437.2h0M126.5 438.6h0M127.5 425.1h0M122.9 401.9h0M124 401.2h0M128.5 431.5h0M117.2 429.4h0M125.4 397.5h0M119.6 414.4h0M126.3 407.2h0M124.4 428.8h0M116.2 424.8h0M128.7 414.3h0M125.6 420.4h0M129.4 422.7h0M120.3 420.9h0M127.6 423.6h0M125.5 403.5h0M126.7 405.1h0M116.8 421.1h0M120.7 432.8h0M125.9 403.8h0M118.3 432h0M125.7 431.3h0M116.3 429.1h0M120 409.3h0M126.8 412.5h0M125.7 401.5h0M121.4 414h0M123.1 415.8h0M118.2 434.2h0M133 426.3h0M117.5 433.9h0M116.5 404.8h0M123 416.8h0M118.6 417.3h0M119.1 416.4h0M115.1 419.4h0M117.7 423.3h0M132.5 429.5h0M121.1 428.5h0M133.6 423.4h0M123.4 417.3h0M121.3 439.2h0M113.8 422.9h0M126.6 438.3h0M129 410h0M120.9 422.1h0M130.7 396.5h0M130.7 439.3h0M122.8 426h0M121.4 405.2h0M131.7 436.3h0M119 432.9h0M132 425.1h0M130.6 401h0M130.2 401.7h0M128.9 430.2h0M130.3 429.2h0M123.3 438.4h0M126.8 418.9h0M117.7 400.5h0M122.7 409.3h0M128 407.5h0M122.5 404.3h0M118.3 430.9h0M116.8 423.4h0M123.3 409.4h0M121.5 420.5h0M127.1 433.1h0M132 437.1h0M120.8 406.5h0M125 403.1h0M118.7 414.6h0M126.1 417.2h0M123.3 396h0M124.5 435h0M115.7 431.7h0M115.3 425.1h0M116.8 433.5h0M126.4 427.3h0M124.8 415.5h0M120.8 425.8h0M118.2 420.1h0M123.4 425.8h0M123.2 430.5h0M132.9 440.2h0M127.9 416.7h0M127.7 410.7h0M124.8 415.9h0M122.5 413.4h0M115 430.1h0M126.6 434.5h0M121.1 412.9h0M125.8 434.2h0M120.6 422.2h0M126.1 417h0M134.4 397.5h0M124 435.7h0M118.7 404.1h0M118.2 422.9h0M125.7 432.6h0M126.7 399.3h0M123.3 434.3h0M133.7 396.7h0M121.7 413.3h0M123.9 426.6h0M127.9 415.9h0M120.7 435.3h0M124.1 413.5h0M132.1 420.5h0M135.5 397.4h0M113.4 425.9h0M120.2 423.6h0M121.4 412.6h0M131.2 431.1h0M121.2 415.2h0M122.5 433.6h0M132.4 423.7h0M135.5 424.7h0M121.7 402h0M133 428.2h0M131.1 400.9h0M124.3 415h0M131.8 401.2h0M129 412.6h0M114.6 424.7h0M118.2 421.7h0M131.5 420.7h0M129.7 420.8h0M120.9 421.7h0M114.9 429.1h0M120.6 414h0M127.4 408h0M125.3 412.3h0M123 407.3h0M128.6 431.4h0M131 436.6h0M118.4 426.7h0M129 435.5h0M132.5 434.6h0M122.3 399.7h0M129.1 436.3h0M131.6 421.8h0M126.6 422.5h0M125.5 427.2h0M120.1 436.8h0M131.5 396.9h0M116.4 430.6h0M130.3 405.7h0M130 434.1h0M120.6 415.8h0M120 418.3h0M118.1 423.9h0M124.1 434.3h0M125.7 438.4h0M118.8 433.9h0M115.9 428.5h0M116 420.7h0M120.8 425h0M127.2 413.1h0M122.3 439.5h0M119.2 423.6h0M123.5 419h0M130.4 415.4h0M122.8 414.1h0M120.9 434.6h0M124.7 395.6h0M118.7 435.6h0M127.5 413.2h0M127.8 437.9h0M121.9 397.9h0M117.8 399.8h0M121.3 432.9h0M124.5 404.1h0M120.2 422.5h0M129.4 407h0M121.3 424.8h0M131.2 437.3h0M122.1 433.3h0M120.6 418.9h0M123.3 404.8h0M132.5 434.7h0M123.5 412.4h0M123.8 412.7h0M125.6 433.2h0M129 424.7h0M129.1 402.3h0M117.6 433.1h0M123.1 411.1h0M126.4 437h0M130.6 409.3h0M123.1 428h0M128.6 438.9h0M122.9 404.9h0M135.1 405.4h0M123.5 421.1h0M125.2 398.4h0M124 418.6h0M118 424.6h0M129.1 404.1h0M124.1 405.1h0M120.2 415.3h0M126.7 418.9h0M121.5 425h0M117.8 423.9h0M130.9 396.7h0M120.7 402.3h0M118.6 425.3h0M123.1 436.4h0M119.5 434h0M128.2 410.8h0M128.1 429.3h0M122 433.6h0M123.9 439.9h0M122.4 400.5h0M122.9 427.7h0M126.5 408.9h0M123.6 430.4h0M119.6 399.5h0M125.2 405.1h0M125.9 405.8h0M124.2 433.6h0M132.9 435.4h0M127.8 398.7h0M132.1 404.5h0M129.8 421.4h0M124.9 423.4h0M120.4 420.9h0M125.1 402h0M130.4 400.9h0M130.9 419.1h0M117 421.5h0M129.2 429.8h0M133.6 434.9h0M124.9 411.6h0M118.3 421.1h0M132.9 426.7h0M113 429.9h0M119.7 417.6h0M120 439.7h0M126 430.3h0M118.3 430.2h0M128.5 409h0M126.5 409.3h0M130.4 406.9h0M126.9 424.2h0M119.9 431.8h0M118.3 398.1h0M130.5 425.7h0M125 410.4h0M123.3 437.9h0M124.3 416.5h0M126.4 410.2h0M131.9 426.1h0M124.2 426.4h0M121.6 403.1h0M120.1 397.9h0M124.8 440h0M117.8 423.3h0M125.8 436.3h0M116.7 428.6h0M128.4 412.6h0M120.8 413.6h0M129.6 402.9h0M121.2 398h0M129.6 431.5h0M129.4 405.6h0M126.1 404.5h0M130.4 401h0M126.2 434.9h0M116.4 430h0M117.3 426.5h0M123.9 406.7h0M121.7 401.2h0M131 400.6h0M121.5 401.1h0M118.4 398.1h0M128.5 437.9h0M122.6 436.4h0M121.5 396.6h0M126.3 435.6h0M126.7 417.3h0M129.5 407.9h0M125.3 421.6h0M119.5 419h0M115.2 424.9h0M127.1 429.8h0M127.6 400.6h0M121.9 419.6h0M121.2 398.9h0M128.8 410h0M123.2 406.1h0M128.2 413.7h0M123.3 407.6h0M130.5 406.2h0M131.3 418.7h0M122.7 429.8h0M121.6 395.8h0M116.8 424.9h0M130.6 414.8h0M133.3 402.6h0M118.6 428.7h0M122.1 400.5h0M128.5 403.5h0M129.9 404h0M134.1 401.8h0M123.1 414.8h0M128.2 425.9h0M119.8 400.6h0M114.9 429.1h0M121.5 438.4h0M125.6 436.9h0M130.1 410.1h0M123 426h0M116.8 434.5h0M130.9 426.5h0M119.6 404.8h0M119.3 424.7h0M122.1 396.4h0M121.6 429.1h0M132.7 427h0M123.1 414h0M118.1 436.5h0M121.8 404.8h0M116.8 432.2h0M128.7 420.8h0M133.7 399h0M124.2 401.9h0M122.5 413.5h0M127.8 433.6h0M118.2 435.4h0M122.1 400.1h0M130 399.7h0M122 425.3h0M133.3 429h0M126.7 434.6h0M119 418.6h0M122.6 434.8h0M118.7 398.4h0M127.3 413.3h0M129.9 434.9h0M117.9 421.9h0" stroke="#1a1ee0" stroke-width="1.75" stroke-linecap="round" fill="none"/>
<path d="M160.4 349.5h0M172.1 341.6h0M174.5 342.4h0M163.7 350.6h0M177.9 346.3h0M161.3 350.3h0M174 350.7h0M167.7 347.9h0M176.4 348.1h0M176.3 344h0M172.8 341.9h0M158.6 354.1h0M167.3 351.1h0M164.1 348.2h0M171.5 342.6h0M157.2 352.3h0M163 343.2h0M160.1 345.8h0M163.4 345.1h0M180.2 347.8h0M177.1 345.2h0M177.6 343.8h0M161 346.9h0M179.1 343h0M170.7 346.5h0M159.8 344.1h0M157.7 345.9h0M154.8 346.2h0M167.2 340.9h0M170.4 347.9h0M159.2 351.9h0M173.7 344.7h0M175 352.3h0M167.8 341.8h0M179.5 345.1h0M170.5 343.8h0M160.3 349.3h0M161 349.1h0M180.1 347.9h0M166.6 347.3h0M168.3 344.6h0M169.4 344.5h0M180.3 346h0M168.9 346.3h0M162.5 344.7h0M162.5 342.4h0M174.7 342.9h0M182 344.4h0M179.9 348.1h0M175.1 348h0M168.2 349h0M162.8 350.9h0M165.2 351h0M158.1 353.1h0M166.4 347.6h0M169.5 347.8h0M167.1 341.2h0M163.8 349.6h0M159.9 349.2h0M159.3 356.1h0M158.3 345.3h0M170.5 350.2h0M162.6 346.1h0M175.1 348.4h0M171.1 345.1h0M176.2 342.7h0M168 351h0M177.2 345.2h0M169.6 342.7h0M179.1 347h0M163.2 348.9h0M171.7 348.1h0M179.9 345.9h0M156.9 352.9h0M166.5 346.4h0M172.1 343.8h0M177.5 347.8h0M167.4 343.7h0M167.3 348.6h0M181.4 345.3h0M167.6 352.1h0M170 345.8h0M180.1 345.1h0M167 349.3h0M176 351.2h0M174.6 343.1h0M166 349.1h0M168.1 342.3h0M172.7 344h0M175.6 342.1h0M174.4 342.1h0M173.5 349.5h0M165.6 343h0M176.9 344.8h0M182.3 346.1h0M180 346.7h0M161.6 344h0M177.5 349.2h0M158.1 344.4h0M159.6 349h0M180.1 345.8h0M160.9 349.6h0M170 348.4h0M172.4 345.1h0M161.3 349.4h0M158.1 346.9h0M181.3 344.6h0M181.8 343.8h0M164.4 344.9h0M172.2 345.5h0M159.1 350.3h0M160.1 346.9h0M161.3 350.2h0M176.7 347.7h0M182.9 343.6h0M168.8 343.8h0M161.4 342.2h0M173.2 344.1h0M179.2 347.3h0M161.6 349.9h0M161.2 346.1h0M167.8 346.7h0M169.7 352.9h0M159.2 347.6h0M174.5 349.3h0M171.3 341.4h0M175.4 343.6h0M169.3 350.2h0M163.2 350.6h0M166.8 351h0M178.6 343.1h0M156.4 349.2h0M177.8 347h0M167.3 343.9h0M176.9 341.6h0M175.4 347.2h0M166.7 347.7h0M161.1 344.4h0M171.8 344.2h0M155.6 350h0M162.2 347.4h0M156.8 350.6h0M159.6 350.9h0M168.6 350.6h0M159.7 345.8h0M163.7 349h0M176.9 344.2h0M182.1 343.9h0M172.9 344h0M161.9 351.3h0M163 352.3h0M166.6 343.6h0M169.5 343.9h0M160.3 352.9h0M169.2 345.5h0M154.6 345.8h0M163.7 344.7h0M180.6 344.7h0M159.7 344.5h0M179.2 346.4h0M167 349.2h0M160.1 349.4h0M164.3 352.4h0M180.4 346.5h0M180.2 349.5h0M178.1 349.3h0M176.3 344.5h0M175.1 344.4h0M165 349.2h0M163.5 352.4h0" stroke="#7df0f4" stroke-width="1.75" stroke-linecap="round" fill="none"/>
<path d="M163.9 303.3h0M161.7 303.6h0M161.9 303.6h0M165.6 307.9h0M163.7 303.5h0M164.7 306h0M164.4 305.1h0M165 303.4h0M166.3 306.4h0M162.4 304.3h0M163.9 302.9h0M161.7 304.1h0M164.9 304.4h0M161.9 304h0M164.2 303.4h0M163.8 302.3h0" stroke="#5c5c5c" stroke-width="1.75" stroke-linecap="round" fill="none"/>
<path d="M167.9 325.5h0M169.8 319.2h0M167.3 320.6h0M167.5 315.9h0M166.7 323.8h0M167.8 326.2h0M165.9 317.5h0M169 324.3h0M165.4 323h0M164.9 325.9h0M166.4 320.5h0M164.1 330.1h0M167.3 327h0M165.2 318.6h0M166.1 318.8h0M164.7 323.6h0M168.8 318.1h0M164.8 318.3h0M167.8 318.1h0M168.7 320.2h0M164.5 323.6h0M166.5 319.4h0M167.1 327.5h0M167 328.6h0M164.7 330.7h0M171.1 319.7h0M173.5 317.2h0M167.1 328.6h0M166.6 325.2h0M168.1 330.3h0M171.6 318.3h0M165.2 327h0M165.6 318h0M173.6 318.6h0M166.2 326h0M173.9 318.5h0M174.2 316.5h0M170.6 321.9h0M170.5 319.6h0M165.3 330.2h0M168 318.6h0M167.3 319.1h0M168.9 318.6h0M173.7 319.4h0M173.1 317h0M166 317.3h0M169.3 319.1h0M164.8 324.9h0M169.3 321.5h0M168.7 316.7h0M165.5 327.2h0M167.4 315.9h0M165.4 324.2h0M174 319.6h0M169 328.5h0M168.9 320.2h0M165.7 324.3h0M171.9 320.3h0M169.7 317.9h0M171.7 316.7h0" stroke="#5c5c5c" stroke-width="1.75" stroke-linecap="round" fill="none"/>
<path d="M64 375.3h0M68.2 374.9h0M68.4 372.6h0M64.8 375.5h0M65.9 375.7h0M68.7 373.4h0M67.2 374.6h0M58.4 376.2h0M60.9 376.6h0M61.1 377.8h0M65.4 376h0M65.7 374.7h0" stroke="#7cc47a" stroke-width="1.75" stroke-linecap="round" fill="none"/>
<path d="M154.3 334.5h0M155 332.7h0M151.6 334.8h0M153.8 333.6h0M154.5 333.2h0M152.1 335.7h0M155.4 333.3h0" stroke="#7cc47a" stroke-width="1.75" stroke-linecap="round" fill="none"/>
<text x="68.6" y="337.3" font-size="8.4" fill="#111" text-anchor="middle" font-weight="bold">3</text>
<text x="107.1" y="355.3" font-size="8.4" fill="#111" text-anchor="middle" font-weight="bold">1</text>
<text x="133.7" y="369.6" font-size="8.4" fill="#111" text-anchor="middle" font-weight="bold">0</text>
<text x="101.4" y="393" font-size="8.4" fill="#111" text-anchor="middle" font-weight="bold">2</text>
<text x="132" y="439.3" font-size="8.4" fill="#111" text-anchor="middle" font-weight="bold">4</text>
<text x="171.4" y="349.6" font-size="8.4" fill="#111" text-anchor="middle" font-weight="bold">5</text>
<text x="165.1" y="320.1" font-size="8.4" fill="#111" text-anchor="middle" font-weight="bold">6</text>
<text x="60.9" y="381.6" font-size="8.4" fill="#111" text-anchor="middle" font-weight="bold">7</text>
<path d="M40.8 401V441.2H76.9" fill="none" stroke="#222" stroke-width="1.5"/>
<path d="M40.8 394 l4.8 11.6 l-4.8 -2.8 l-4.8 2.8Z" fill="#222"/>
<path d="M83.9 441.2 l-11.6 -4.8 l2.8 4.8 l-2.8 4.8Z" fill="#222"/>
<text x="38.8" y="441.4" font-size="9.4" fill="#222" transform="rotate(-90 38.8 441.4)" stroke="#222" stroke-width=".22">UMAP 2</text>
<text x="38.2" y="453" font-size="9.8" fill="#222" stroke="#222" stroke-width=".22">UMAP 1</text>
<circle cx="196" cy="326.8" r="4.9" fill="#df8a30" stroke="#333" stroke-width="0.8"/>
<text x="196" y="329.9" font-size="8.8" fill="#fff" text-anchor="middle">0</text>
<text x="207.4" y="330.4" font-size="10.1" fill="#111" stroke="#111" stroke-width=".22">ISCs 1</text>
<circle cx="196" cy="341.4" r="4.9" fill="#8a86c4" stroke="#333" stroke-width="0.8"/>
<text x="196" y="344.5" font-size="8.8" fill="#fff" text-anchor="middle">1</text>
<text x="207.4" y="345" font-size="10.1" fill="#111" stroke="#111" stroke-width=".22">ISCs 2</text>
<circle cx="196" cy="358.1" r="4.9" fill="#7ab648" stroke="#333" stroke-width="0.8"/>
<text x="196" y="361.2" font-size="8.8" fill="#fff" text-anchor="middle">2</text>
<text x="207.4" y="361.7" font-size="10.1" fill="#111" stroke="#111" stroke-width=".22">Enterocyte 1</text>
<circle cx="196" cy="372.3" r="4.9" fill="#c8232c" stroke="#333" stroke-width="0.8"/>
<text x="196" y="375.4" font-size="8.8" fill="#fff" text-anchor="middle">3</text>
<text x="207.4" y="375.9" font-size="10.1" fill="#111" stroke="#111" stroke-width=".22">Enterocyte 2</text>
<circle cx="196" cy="387.2" r="4.9" fill="#3c4ea0" stroke="#333" stroke-width="0.8"/>
<text x="196" y="390.3" font-size="8.8" fill="#fff" text-anchor="middle">4</text>
<text x="207.4" y="390.8" font-size="10.1" fill="#111" stroke="#111" stroke-width=".22">Proliferative Cells</text>
<circle cx="196" cy="402.4" r="4.9" fill="#8fd0e8" stroke="#333" stroke-width="0.8"/>
<text x="196" y="405.5" font-size="8.8" fill="#fff" text-anchor="middle">5</text>
<text x="207.4" y="406" font-size="10.1" fill="#111" stroke="#111" stroke-width=".22">Goblet Cells</text>
<circle cx="196" cy="417.8" r="4.9" fill="#606060" stroke="#333" stroke-width="0.8"/>
<text x="196" y="420.9" font-size="8.8" fill="#fff" text-anchor="middle">6</text>
<text x="207.4" y="421.4" font-size="10.1" fill="#111" stroke="#111" stroke-width=".22">EECs</text>
<circle cx="196" cy="434" r="4.9" fill="#8cb87a" stroke="#333" stroke-width="0.8"/>
<text x="196" y="437.1" font-size="8.8" fill="#fff" text-anchor="middle">7</text>
<text x="207.4" y="437.6" font-size="10.1" fill="#111" stroke="#111" stroke-width=".22">Best4+ Enterocytes</text>
</g>
<g id="panelE">
<text x="283.2" y="304.2" font-size="18.5" fill="#000" font-weight="bold">E</text>
<path d="M333.7 303.4V433.8M350.4 303.4V433.8M367.2 303.4V433.8M383.9 303.4V433.8M400.7 303.4V433.8M417.4 303.4V433.8M434.1 303.4V433.8M450.9 303.4V433.8M467.6 303.4V433.8M484.4 303.4V433.8M501.1 303.4V433.8M517.8 303.4V433.8M534.6 303.4V433.8M551.3 303.4V433.8M568.1 303.4V433.8M584.8 303.4V433.8M601.5 303.4V433.8M618.3 303.4V433.8M320.9 318H631.2M320.9 332.5H631.2M320.9 347H631.2M320.9 361.3H631.2M320.9 375.6H631.2M320.9 390.2H631.2M320.9 404.8H631.2M320.9 419.3H631.2" stroke="#b9b9c1" stroke-width=".85" fill="none"/>
<path d="M333.7 318h0M333.7 332.5h0M333.7 347h0M333.7 361.3h0M333.7 375.6h0M333.7 390.2h0M333.7 404.8h0M333.7 419.3h0M350.4 318h0M350.4 332.5h0M350.4 347h0M350.4 361.3h0M350.4 375.6h0M350.4 390.2h0M350.4 404.8h0M350.4 419.3h0M367.2 318h0M367.2 332.5h0M367.2 347h0M367.2 361.3h0M367.2 375.6h0M367.2 390.2h0M367.2 404.8h0M367.2 419.3h0M383.9 318h0M383.9 332.5h0M383.9 347h0M383.9 361.3h0M383.9 375.6h0M383.9 390.2h0M383.9 404.8h0M383.9 419.3h0M400.7 318h0M400.7 332.5h0M400.7 347h0M400.7 361.3h0M400.7 375.6h0M400.7 390.2h0M400.7 404.8h0M400.7 419.3h0M417.4 318h0M417.4 332.5h0M417.4 347h0M417.4 361.3h0M417.4 375.6h0M417.4 390.2h0M417.4 404.8h0M417.4 419.3h0M434.1 318h0M434.1 332.5h0M434.1 347h0M434.1 361.3h0M434.1 375.6h0M434.1 390.2h0M434.1 404.8h0M434.1 419.3h0M450.9 318h0M450.9 332.5h0M450.9 347h0M450.9 361.3h0M450.9 375.6h0M450.9 390.2h0M450.9 404.8h0M450.9 419.3h0M467.6 318h0M467.6 332.5h0M467.6 347h0M467.6 361.3h0M467.6 375.6h0M467.6 390.2h0M467.6 404.8h0M467.6 419.3h0M484.4 318h0M484.4 332.5h0M484.4 347h0M484.4 361.3h0M484.4 375.6h0M484.4 390.2h0M484.4 404.8h0M484.4 419.3h0M501.1 318h0M501.1 332.5h0M501.1 347h0M501.1 361.3h0M501.1 375.6h0M501.1 390.2h0M501.1 404.8h0M501.1 419.3h0M517.8 318h0M517.8 332.5h0M517.8 347h0M517.8 361.3h0M517.8 375.6h0M517.8 390.2h0M517.8 404.8h0M517.8 419.3h0M534.6 318h0M534.6 332.5h0M534.6 347h0M534.6 361.3h0M534.6 375.6h0M534.6 390.2h0M534.6 404.8h0M534.6 419.3h0M551.3 318h0M551.3 332.5h0M551.3 347h0M551.3 361.3h0M551.3 375.6h0M551.3 390.2h0M551.3 404.8h0M551.3 419.3h0M568.1 318h0M568.1 332.5h0M568.1 347h0M568.1 361.3h0M568.1 375.6h0M568.1 390.2h0M568.1 404.8h0M568.1 419.3h0M584.8 318h0M584.8 332.5h0M584.8 347h0M584.8 361.3h0M584.8 375.6h0M584.8 390.2h0M584.8 404.8h0M584.8 419.3h0M601.5 318h0M601.5 332.5h0M601.5 347h0M601.5 361.3h0M601.5 375.6h0M601.5 390.2h0M601.5 404.8h0M601.5 419.3h0M618.3 318h0M618.3 332.5h0M618.3 347h0M618.3 361.3h0M618.3 375.6h0M618.3 390.2h0M618.3 404.8h0M618.3 419.3h0" stroke="#8a8a8a" stroke-width="1.1" stroke-linecap="round" fill="none"/>
<circle cx="333.7" cy="318" r="4.3" fill="#b6cf5a" stroke="#4c5a3a" stroke-width="0.55"/>
<circle cx="350.4" cy="318" r="5.6" fill="#7ebfe0" stroke="#4c5a3a" stroke-width="0.55"/>
<circle cx="367.2" cy="318" r="1.4" fill="#e6e048" stroke="#4c5a3a" stroke-width="0.55"/>
<circle cx="383.9" cy="318" r="1.4" fill="#efe6a0" stroke="#4c5a3a" stroke-width="0.55"/>
<circle cx="400.7" cy="318" r="4.6" fill="#c9d750" stroke="#4c5a3a" stroke-width="0.55"/>
<circle cx="434.1" cy="318" r="5" fill="#b6cf5a" stroke="#4c5a3a" stroke-width="0.55"/>
<circle cx="534.6" cy="318" r="1.2" fill="#f4f4f4" stroke="#4c5a3a" stroke-width="0.55"/>
<circle cx="333.7" cy="332.5" r="1.8" fill="#e6e048" stroke="#4c5a3a" stroke-width="0.55"/>
<circle cx="350.4" cy="332.5" r="5.3" fill="#90c48c" stroke="#4c5a3a" stroke-width="0.55"/>
<circle cx="367.2" cy="332.5" r="1.2" fill="#f4f4f4" stroke="#4c5a3a" stroke-width="0.55"/>
<circle cx="383.9" cy="332.5" r="1.2" fill="#f4f4f4" stroke="#4c5a3a" stroke-width="0.55"/>
<circle cx="400.7" cy="332.5" r="5.7" fill="#aecd64" stroke="#4c5a3a" stroke-width="0.55"/>
<circle cx="434.1" cy="332.5" r="6.3" fill="#6fadd3" stroke="#4c5a3a" stroke-width="0.55"/>
<circle cx="534.6" cy="332.5" r="1.1" fill="#f4f4f4" stroke="#4c5a3a" stroke-width="0.55"/>
<circle cx="333.7" cy="347" r="2.6" fill="#e6e048" stroke="#4c5a3a" stroke-width="0.55"/>
<circle cx="350.4" cy="347" r="5.9" fill="#90c48c" stroke="#4c5a3a" stroke-width="0.55"/>
<circle cx="367.2" cy="347" r="3" fill="#e6e048" stroke="#4c5a3a" stroke-width="0.55"/>
<circle cx="383.9" cy="347" r="2.8" fill="#e6e048" stroke="#4c5a3a" stroke-width="0.55"/>
<circle cx="400.7" cy="347" r="5.7" fill="#b6cf5a" stroke="#4c5a3a" stroke-width="0.55"/>
<circle cx="434.1" cy="347" r="6" fill="#8ac4a2" stroke="#4c5a3a" stroke-width="0.55"/>
<circle cx="534.6" cy="347" r="1.1" fill="#f4f4f4" stroke="#4c5a3a" stroke-width="0.55"/>
<circle cx="350.4" cy="361.3" r="3.7" fill="#c9d750" stroke="#4c5a3a" stroke-width="0.55"/>
<circle cx="400.7" cy="361.3" r="6.6" fill="#84c6d8" stroke="#4c5a3a" stroke-width="0.55"/>
<circle cx="417.4" cy="361.3" r="1.6" fill="#e6e048" stroke="#4c5a3a" stroke-width="0.55"/>
<circle cx="434.1" cy="361.3" r="6.6" fill="#1d3580" stroke="#4c5a3a" stroke-width="0.55"/>
<circle cx="333.7" cy="375.6" r="2.3" fill="#e6e048" stroke="#4c5a3a" stroke-width="0.55"/>
<circle cx="350.4" cy="375.6" r="5.7" fill="#8cc49c" stroke="#4c5a3a" stroke-width="0.55"/>
<circle cx="367.2" cy="375.6" r="5.7" fill="#92c184" stroke="#4c5a3a" stroke-width="0.55"/>
<circle cx="383.9" cy="375.6" r="5.7" fill="#8ec292" stroke="#4c5a3a" stroke-width="0.55"/>
<circle cx="400.7" cy="375.6" r="5" fill="#b6cf5a" stroke="#4c5a3a" stroke-width="0.55"/>
<circle cx="434.1" cy="375.6" r="5.7" fill="#90c48c" stroke="#4c5a3a" stroke-width="0.55"/>
<circle cx="333.7" cy="390.2" r="2.6" fill="#e6e048" stroke="#4c5a3a" stroke-width="0.55"/>
<circle cx="350.4" cy="390.2" r="3" fill="#d3da50" stroke="#4c5a3a" stroke-width="0.55"/>
<circle cx="367.2" cy="390.2" r="1.3" fill="#efe6a0" stroke="#4c5a3a" stroke-width="0.55"/>
<circle cx="383.9" cy="390.2" r="1.3" fill="#efe6a0" stroke="#4c5a3a" stroke-width="0.55"/>
<circle cx="400.7" cy="390.2" r="5.2" fill="#a0c87a" stroke="#4c5a3a" stroke-width="0.55"/>
<circle cx="434.1" cy="390.2" r="3.2" fill="#e6e048" stroke="#4c5a3a" stroke-width="0.55"/>
<circle cx="484.4" cy="390.2" r="3.4" fill="#b2c972" stroke="#4c5a3a" stroke-width="0.55"/>
<circle cx="501.1" cy="390.2" r="2.6" fill="#e6e048" stroke="#4c5a3a" stroke-width="0.55"/>
<circle cx="517.8" cy="390.2" r="5.7" fill="#8bc19a" stroke="#4c5a3a" stroke-width="0.55"/>
<circle cx="350.4" cy="404.8" r="3.2" fill="#e6e048" stroke="#4c5a3a" stroke-width="0.55"/>
<circle cx="400.7" cy="404.8" r="1.5" fill="#e6e048" stroke="#4c5a3a" stroke-width="0.55"/>
<circle cx="434.1" cy="404.8" r="3" fill="#e6e048" stroke="#4c5a3a" stroke-width="0.55"/>
<circle cx="517.8" cy="404.8" r="3.5" fill="#d6db4e" stroke="#4c5a3a" stroke-width="0.55"/>
<circle cx="568.1" cy="404.8" r="5.2" fill="#4a80c0" stroke="#4c5a3a" stroke-width="0.55"/>
<circle cx="584.8" cy="404.8" r="5.7" fill="#8ac8d0" stroke="#4c5a3a" stroke-width="0.55"/>
<circle cx="601.5" cy="404.8" r="2.5" fill="#e6e048" stroke="#4c5a3a" stroke-width="0.55"/>
<circle cx="618.3" cy="404.8" r="4.3" fill="#b2c86a" stroke="#4c5a3a" stroke-width="0.55"/>
<circle cx="350.4" cy="419.3" r="3.7" fill="#c9d750" stroke="#4c5a3a" stroke-width="0.55"/>
<circle cx="367.2" cy="419.3" r="1.2" fill="#e6e048" stroke="#4c5a3a" stroke-width="0.55"/>
<circle cx="400.7" cy="419.3" r="5.7" fill="#b9d15a" stroke="#4c5a3a" stroke-width="0.55"/>
<circle cx="434.1" cy="419.3" r="4" fill="#d2d94e" stroke="#4c5a3a" stroke-width="0.55"/>
<circle cx="450.9" cy="419.3" r="4.6" fill="#92c184" stroke="#4c5a3a" stroke-width="0.55"/>
<circle cx="467.6" cy="419.3" r="6.3" fill="#3f71b2" stroke="#4c5a3a" stroke-width="0.55"/>
<circle cx="568.1" cy="419.3" r="1" fill="#e6e048" stroke="#4c5a3a" stroke-width="0.55"/>
<rect x="320.9" y="303.4" width="310.3" height="130.3" fill="none" stroke="#111" stroke-width="1.7"/>
<path d="M333.7 433.8v3M350.4 433.8v3M367.2 433.8v3M383.9 433.8v3M400.7 433.8v3M417.4 433.8v3M434.1 433.8v3M450.9 433.8v3M467.6 433.8v3M484.4 433.8v3M501.1 433.8v3M517.8 433.8v3M534.6 433.8v3M551.3 433.8v3M568.1 433.8v3M584.8 433.8v3M601.5 433.8v3M618.3 433.8v3M320.9 318h-2.6M320.9 332.5h-2.6M320.9 347h-2.6M320.9 361.3h-2.6M320.9 375.6h-2.6M320.9 390.2h-2.6M320.9 404.8h-2.6M320.9 419.3h-2.6" stroke="#111" stroke-width="1" fill="none"/>
<rect x="305" y="312.1" width="12.6" height="11.8" fill="#e08a2e" stroke="#5a5a5a" stroke-width="0.6"/>
<text x="311.3" y="321.2" font-size="9" fill="#fff" text-anchor="middle">0</text>
<rect x="305" y="326.6" width="12.6" height="11.8" fill="#8a86c4" stroke="#5a5a5a" stroke-width="0.6"/>
<text x="311.3" y="335.7" font-size="9" fill="#fff" text-anchor="middle">1</text>
<rect x="305" y="341.1" width="12.6" height="11.8" fill="#7ab648" stroke="#5a5a5a" stroke-width="0.6"/>
<text x="311.3" y="350.2" font-size="9" fill="#fff" text-anchor="middle">2</text>
<rect x="305" y="355.4" width="12.6" height="11.8" fill="#c8232c" stroke="#5a5a5a" stroke-width="0.6"/>
<text x="311.3" y="364.5" font-size="9" fill="#fff" text-anchor="middle">3</text>
<rect x="305" y="369.7" width="12.6" height="11.8" fill="#3c4ea0" stroke="#5a5a5a" stroke-width="0.6"/>
<text x="311.3" y="378.8" font-size="9" fill="#fff" text-anchor="middle">4</text>
<rect x="305" y="384.3" width="12.6" height="11.8" fill="#8fd0e8" stroke="#5a5a5a" stroke-width="0.6"/>
<text x="311.3" y="393.4" font-size="9" fill="#fff" text-anchor="middle">5</text>
<rect x="305" y="398.9" width="12.6" height="11.8" fill="#606060" stroke="#5a5a5a" stroke-width="0.6"/>
<text x="311.3" y="408" font-size="9" fill="#fff" text-anchor="middle">6</text>
<rect x="305" y="413.4" width="12.6" height="11.8" fill="#8cb87a" stroke="#5a5a5a" stroke-width="0.6"/>
<text x="311.3" y="422.5" font-size="9" fill="#fff" text-anchor="middle">7</text>
<text x="336.8" y="439.8" font-size="8.5" fill="#111" text-anchor="end" transform="rotate(-90 336.8 439.8)" stroke="#111" stroke-width=".22">LGR5</text>
<text x="353.5" y="439.8" font-size="8.5" fill="#111" text-anchor="end" transform="rotate(-90 353.5 439.8)" stroke="#111" stroke-width=".22">OLFM4</text>
<text x="370.3" y="439.8" font-size="8.5" fill="#111" text-anchor="end" transform="rotate(-90 370.3 439.8)" stroke="#111" stroke-width=".22">MKI67</text>
<text x="387" y="439.8" font-size="8.5" fill="#111" text-anchor="end" transform="rotate(-90 387 439.8)" stroke="#111" stroke-width=".22">TOP2A</text>
<text x="403.8" y="439.8" font-size="8.5" fill="#111" text-anchor="end" transform="rotate(-90 403.8 439.8)" stroke="#111" stroke-width=".22">FABP2</text>
<text x="420.5" y="439.8" font-size="8.5" fill="#111" text-anchor="end" transform="rotate(-90 420.5 439.8)" stroke="#111" stroke-width=".22">ALPI</text>
<text x="437.2" y="439.8" font-size="8.5" fill="#111" text-anchor="end" transform="rotate(-90 437.2 439.8)" stroke="#111" stroke-width=".22">RBP2</text>
<text x="454" y="439.8" font-size="8.5" fill="#111" text-anchor="end" transform="rotate(-90 454 439.8)" stroke="#111" stroke-width=".22">BEST4</text>
<text x="470.7" y="439.8" font-size="8.5" fill="#111" text-anchor="end" transform="rotate(-90 470.7 439.8)" stroke="#111" stroke-width=".22">SPIB</text>
<text x="487.5" y="439.8" font-size="8.5" fill="#111" text-anchor="end" transform="rotate(-90 487.5 439.8)" stroke="#111" stroke-width=".22">MUC2</text>
<text x="504.2" y="439.8" font-size="8.5" fill="#111" text-anchor="end" transform="rotate(-90 504.2 439.8)" stroke="#111" stroke-width=".22">SPDEF</text>
<text x="520.9" y="439.8" font-size="8.5" fill="#111" text-anchor="end" transform="rotate(-90 520.9 439.8)" stroke="#111" stroke-width=".22">DLL1</text>
<text x="537.7" y="439.8" font-size="8.5" fill="#111" text-anchor="end" transform="rotate(-90 537.7 439.8)" stroke="#111" stroke-width=".22">TRPM5</text>
<text x="554.4" y="439.8" font-size="8.5" fill="#111" text-anchor="end" transform="rotate(-90 554.4 439.8)" stroke="#111" stroke-width=".22">TAS1R3</text>
<text x="571.2" y="439.8" font-size="8.5" fill="#111" text-anchor="end" transform="rotate(-90 571.2 439.8)" stroke="#111" stroke-width=".22">CHGA</text>
<text x="587.9" y="439.8" font-size="8.5" fill="#111" text-anchor="end" transform="rotate(-90 587.9 439.8)" stroke="#111" stroke-width=".22">NEUROD1</text>
<text x="604.6" y="439.8" font-size="8.5" fill="#111" text-anchor="end" transform="rotate(-90 604.6 439.8)" stroke="#111" stroke-width=".22">PAX6</text>
<text x="621.4" y="439.8" font-size="8.5" fill="#111" text-anchor="end" transform="rotate(-90 621.4 439.8)" stroke="#111" stroke-width=".22">ARX</text>
<rect x="632" y="303.4" width="9.2" height="130.3" fill="url(#cbar)" stroke="#111" stroke-width="1"/>
<text x="643.2" y="312.1" font-size="11" fill="#111" stroke="#111" stroke-width=".22">Highest</text>
<text x="643.6" y="433.6" font-size="10.6" fill="#111" stroke="#111" stroke-width=".22">0</text>
<text x="651.4" y="369.6" font-size="8.5" fill="#222" text-anchor="middle" transform="rotate(-90 651.4 369.6)" stroke="#222" stroke-width=".22">Expression Level</text>
<text x="662.5" y="445.2" font-size="7.05" fill="#111" text-anchor="middle" stroke="#111" stroke-width=".22">Percentage of Cells</text>
<text x="662.5" y="453.3" font-size="7.05" fill="#111" text-anchor="middle" stroke="#111" stroke-width=".22">Expressing Marker</text>
<circle cx="639.3" cy="460.8" r="1.4" fill="#8c8c8c" stroke="#444" stroke-width="0.5"/>
<rect x="638.6" y="466.4" width="1.3" height="2.2" fill="#111"/>
<text x="639.3" y="476.8" font-size="7.2" fill="#111" text-anchor="middle" stroke="#111" stroke-width=".22">20</text>
<circle cx="650" cy="460.8" r="2.5" fill="#8c8c8c" stroke="#444" stroke-width="0.5"/>
<rect x="649.4" y="466.4" width="1.3" height="2.2" fill="#111"/>
<text x="650" y="476.8" font-size="7.2" fill="#111" text-anchor="middle" stroke="#111" stroke-width=".22">40</text>
<circle cx="661" cy="460.8" r="3.6" fill="#8c8c8c" stroke="#444" stroke-width="0.5"/>
<rect x="660.4" y="466.4" width="1.3" height="2.2" fill="#111"/>
<text x="661" y="476.8" font-size="7.2" fill="#111" text-anchor="middle" stroke="#111" stroke-width=".22">60</text>
<circle cx="672" cy="460.8" r="4.6" fill="#8c8c8c" stroke="#444" stroke-width="0.5"/>
<rect x="671.4" y="466.4" width="1.3" height="2.2" fill="#111"/>
<text x="672" y="476.8" font-size="7.2" fill="#111" text-anchor="middle" stroke="#111" stroke-width=".22">80</text>
<circle cx="683.3" cy="460.8" r="5.4" fill="#8c8c8c" stroke="#444" stroke-width="0.5"/>
<rect x="682.6" y="466.4" width="1.3" height="2.2" fill="#111"/>
<text x="683.3" y="476.8" font-size="7.2" fill="#111" text-anchor="middle" stroke="#111" stroke-width=".22">100</text>
</g>
<g id="panelF">
<text x="0" y="500.6" font-size="18.5" fill="#000" font-weight="bold">F</text>
<rect x="27" y="488" width="31.3" height="303.6" fill="#62a8e4" stroke="#0c1a3c" stroke-width="1.7"/>
<text x="47.4" y="637.1" font-size="18.7" fill="#0c1a3a" text-anchor="middle" transform="rotate(-90 47.4 637.1)">100 ng/mL EREG</text>
<rect x="61.1" y="487.1" width="275.9" height="305.4" fill="#000"/>
<rect x="343.2" y="487.1" width="286.8" height="305.4" fill="#000"/>
<text x="92.7" y="508.2" font-size="16.9"><tspan fill="#a3a3a3">DAPI, </tspan><tspan fill="#ecec45">MKI67, </tspan><tspan fill="#e3202f">MUC2, </tspan><tspan fill="#63d653">CHGA</tspan></text>
<text x="422.4" y="508.2" font-size="17.7"><tspan fill="#9fe85a">SI, </tspan><tspan fill="#e62fb4" font-style="italic">LGR5, </tspan><tspan fill="#6da6ea" font-style="italic">OLFM4</tspan></text>
<rect x="61.1" y="519.7" width="275.9" height="2.1" fill="#fff"/>
<rect x="198" y="521.8" width="2.7" height="270.7" fill="#fff"/>
<rect x="61.1" y="657" width="275.9" height="1.9" fill="#fff"/>
<rect x="343.2" y="519.7" width="286.8" height="1.5" fill="#fff"/>
<rect x="557.9" y="521.2" width="1.5" height="271.3" fill="#fff"/>
<rect x="559.4" y="610.7" width="70.6" height="1.7" fill="#fff"/>
<rect x="559.4" y="701.8" width="70.6" height="2" fill="#fff"/>
<g clip-path="url(#clipTis)">
<use href="#tisF" fill="#8a8258"/>
<use href="#tisF" fill="#000" filter="url(#spY)"/>
<use href="#coreF" fill="#4a4a54" filter="url(#b3)"/>
<use href="#coreF" fill="#000" filter="url(#spGray)" opacity=".7"/>
<use href="#tisF" fill="#000" filter="url(#spR)" opacity=".8"/>
<use href="#tisF" fill="#000" filter="url(#spGc)"/>
<use href="#tisF" fill="#000" filter="url(#spW)" opacity=".7"/>
<use href="#tisF" fill="#000" filter="url(#spDark)" opacity=".55"/>
<path d="M131.6 538 Q129.4 548 131.4 556 Q133.4 562 131 568" fill="none" stroke="#000" stroke-width="1.8" opacity=".85" filter="url(#b03)"/>
</g>
<g transform="translate(138.4 0)"><g clip-path="url(#clipTis)">
<use href="#tisF" fill="#151503"/>
<use href="#tisF" fill="#000" filter="url(#spYs)"/>
<use href="#tisF" fill="none" stroke="#000" stroke-width="30" filter="url(#spYd)"/>
<use href="#tisF" fill="none" stroke="#000" stroke-width="20" filter="url(#spYm)"/>
<use href="#tisF" fill="none" stroke="#000" stroke-width="22" filter="url(#spYhi)"/>
<use href="#coreF" fill="#030300" filter="url(#b3)" opacity=".8" transform="translate(-4 6)"/>
</g></g>
<g transform="translate(0 137.2)"><g clip-path="url(#clipTis)">
<use href="#tisF" fill="#030702"/>
<use href="#tisF" fill="#000" filter="url(#spG)" opacity=".7"/>
<use href="#tisF" fill="#000" filter="url(#spGs)"/>
<use href="#tisF" fill="#000" filter="url(#spGw)"/>
</g></g>
<g transform="translate(138.4 137.2)"><g clip-path="url(#clipTis)">
<use href="#tisF" fill="#1a0306"/>
<use href="#tisF" fill="#000" filter="url(#spRd)"/>
<use href="#tisF" fill="#000" filter="url(#spRm)"/>
<use href="#tisF" fill="#000" filter="url(#spRp)"/>
<use href="#coreF" fill="#120103" filter="url(#b3)" opacity=".5" transform="translate(-6 8)"/>
</g></g>
<line x1="168.6" y1="646.1" x2="190.3" y2="646.1" stroke="#fff" stroke-width="1.5"/>
<text x="180.4" y="655.9" font-size="10.1" fill="#fff" text-anchor="middle">100 µm</text>
<text x="194.4" y="789.8" font-size="10.1" fill="#74d24c" text-anchor="end">CHGA</text>
<text x="333.4" y="652.8" font-size="10.1" fill="#e4e05a" text-anchor="end">MKI67</text>
<text x="333" y="789.7" font-size="10.1" fill="#e02030" text-anchor="end">MUC2</text>
<g clip-path="url(#clipFmain)"><g filter="url(#o1)"><use href="#orgBody" fill="none" stroke="#6b1c78" stroke-width="8" opacity=".5"/><use href="#fgA" stroke="#9a38bc" stroke-width="29"/><use href="#fgAk" stroke="#9a38bc" stroke-width="23"/><use href="#fgC" stroke="#9a38bc" stroke-width="22"/><use href="#fgB" stroke="#9a38bc" stroke-width="25"/><use href="#fgB2" stroke="#9a38bc" stroke-width="18"/><use href="#fgF" stroke="#9a38bc" stroke-width="22"/><use href="#fgD" stroke="#9a38bc" stroke-width="23"/><use href="#fgE" stroke="#9a38bc" stroke-width="23"/><ellipse cx="491.7" cy="686.3" rx="14" ry="13" fill="#8d4cc0"/></g><g filter="url(#o15)"><use href="#fgA" stroke="#7487dc" stroke-width="21"/><use href="#fgAk" stroke="#7487dc" stroke-width="15"/><use href="#fgC" stroke="#7487dc" stroke-width="14"/><use href="#fgB" stroke="#7487dc" stroke-width="17"/><use href="#fgB2" stroke="#7487dc" stroke-width="10"/><use href="#fgF" stroke="#7487dc" stroke-width="14"/><use href="#fgD" stroke="#7487dc" stroke-width="15"/><use href="#fgE" stroke="#7487dc" stroke-width="15"/><ellipse cx="490.1" cy="686.3" rx="10" ry="9" fill="#8a9ae0"/></g><g filter="url(#spLite)" opacity=".5"><use href="#fgA" stroke="#000" stroke-width="26"/><use href="#fgAk" stroke="#000" stroke-width="20"/><use href="#fgC" stroke="#000" stroke-width="19"/><use href="#fgB" stroke="#000" stroke-width="22"/><use href="#fgB2" stroke="#000" stroke-width="15"/><use href="#fgF" stroke="#000" stroke-width="19"/><use href="#fgD" stroke="#000" stroke-width="20"/><use href="#fgE" stroke="#000" stroke-width="20"/></g><g filter="url(#spTex)" opacity=".45"><use href="#fgA" stroke="#000" stroke-width="28"/><use href="#fgAk" stroke="#000" stroke-width="22"/><use href="#fgC" stroke="#000" stroke-width="21"/><use href="#fgB" stroke="#000" stroke-width="24"/><use href="#fgB2" stroke="#000" stroke-width="17"/><use href="#fgF" stroke="#000" stroke-width="21"/><use href="#fgD" stroke="#000" stroke-width="22"/><use href="#fgE" stroke="#000" stroke-width="22"/></g><g filter="url(#o05)"><use href="#fgA" stroke="#a2ee4c" stroke-width="10.2" opacity=".9" stroke-dasharray="2000 2000" stroke-dashoffset="-8"/><use href="#fgAk" stroke="#a2ee4c" stroke-width="8.5" opacity=".9" stroke-dasharray="2000 2000" stroke-dashoffset="-8"/><use href="#fgC" stroke="#a2ee4c" stroke-width="8.2" opacity=".9" stroke-dasharray="2000 2000" stroke-dashoffset="-8"/><use href="#fgB" stroke="#a2ee4c" stroke-width="9.0" opacity=".9" stroke-dasharray="2000 2000" stroke-dashoffset="-8"/><use href="#fgB2" stroke="#a2ee4c" stroke-width="7.0" opacity=".9" stroke-dasharray="2000 2000" stroke-dashoffset="-8"/><use href="#fgF" stroke="#a2ee4c" stroke-width="8.2" opacity=".9" stroke-dasharray="2000 2000" stroke-dashoffset="-8"/><use href="#fgD" stroke="#a2ee4c" stroke-width="8.5" opacity=".9" stroke-dasharray="2000 2000" stroke-dashoffset="-8"/><use href="#fgE" stroke="#a2ee4c" stroke-width="8.5" opacity=".9" stroke-dasharray="2000 2000" stroke-dashoffset="-8"/><use href="#fgA" stroke="#78a8b0" stroke-opacity=".7" stroke-width="7.4" stroke-dasharray="2000 2000" stroke-dashoffset="-8"/><use href="#fgAk" stroke="#78a8b0" stroke-opacity=".7" stroke-width="5.7" stroke-dasharray="2000 2000" stroke-dashoffset="-8"/><use href="#fgC" stroke="#78a8b0" stroke-opacity=".7" stroke-width="5.4" stroke-dasharray="2000 2000" stroke-dashoffset="-8"/><use href="#fgB" stroke="#78a8b0" stroke-opacity=".7" stroke-width="6.2" stroke-dasharray="2000 2000" stroke-dashoffset="-8"/><use href="#fgB2" stroke="#78a8b0" stroke-opacity=".7" stroke-width="4.2" stroke-dasharray="2000 2000" stroke-dashoffset="-8"/><use href="#fgF" stroke="#78a8b0" stroke-opacity=".7" stroke-width="5.4" stroke-dasharray="2000 2000" stroke-dashoffset="-8"/><use href="#fgD" stroke="#78a8b0" stroke-opacity=".7" stroke-width="5.7" stroke-dasharray="2000 2000" stroke-dashoffset="-8"/><use href="#fgE" stroke="#78a8b0" stroke-opacity=".7" stroke-width="5.7" stroke-dasharray="2000 2000" stroke-dashoffset="-8"/></g><use href="#orgBody" fill="url(#bodyG)" stroke="#6cc636" stroke-width="1" filter="url(#o05)" opacity=".92"/><g clip-path="url(#clipBody)"><use href="#orgBody" fill="#000" filter="url(#spDk2)" opacity=".4"/><use href="#orgBody" fill="#000" filter="url(#spTex)" opacity=".35"/><ellipse cx="442.3" cy="706.4" rx="23" ry="21" fill="#7c1f78" opacity=".85" filter="url(#o3)"/><ellipse cx="434.6" cy="652.2" rx="13" ry="10" fill="#04060a" opacity=".7" filter="url(#o3)"/><ellipse cx="453.1" cy="677" rx="40" ry="20" fill="#000" filter="url(#spGb)"/><g filter="url(#o3)" fill="#020802"><ellipse cx="481" cy="678" rx="15" ry="13" opacity=".5"/><ellipse cx="488" cy="657" rx="13" ry="8" opacity=".45"/><ellipse cx="446" cy="730" rx="12" ry="9" opacity=".35"/></g><g filter="url(#o05)" fill="none" stroke="#b8f85a" stroke-width="1.3" opacity=".9"><path d="M445.4 624.4C446.3 627.7 446.3 639.1 450.6 644.5C455 649.9 464 655.5 471.6 656.8C479.2 658.1 492.2 652.9 496.3 652.2"/><path d="M361.1 629.6C364.4 633.1 378.6 643 380.6 650.6C382.5 658.2 376.2 670.2 372.9 675.3C369.5 680.5 362.6 680.5 360.5 681.5"/><path d="M397.6 728C401.2 728.7 411.4 729.2 419.2 732.6C426.9 735.9 439.7 745.5 443.9 748"/></g></g><use href="#orgBody" fill="none" stroke="#b4f552" stroke-width="1.5" filter="url(#o05)"/><use href="#orgBlobs" fill="#b4fa5c" filter="url(#o05)"/></g>
<rect x="344.6" y="522.6" width="71.1" height="68.3" fill="#000"/>
<g clip-path="url(#clipFin)" fill="none" stroke-linecap="round">
<g filter="url(#o1)"><path d="M373.8 551C374.3 552.7 375.1 557.3 377 561C378.9 564.7 381.7 568.5 385 573C388.3 577.5 393.8 583.8 397 588C400.2 592.2 402.8 596.3 404 598" stroke="#9a38bc" stroke-width="40"/><circle cx="404.6" cy="569.8" r="11.6" fill="#a246c8"/><circle cx="374" cy="541" r="10" fill="#b42c9c" opacity=".8"/></g>
<g filter="url(#o2)"><path d="M373.8 551C374.3 552.7 375.1 557.3 377 561C378.9 564.7 381.7 568.5 385 573C388.3 577.5 393.8 583.8 397 588C400.2 592.2 402.8 596.3 404 598" stroke="#6f80d8" stroke-width="30" stroke-dasharray="2000 2000" stroke-dashoffset="-5"/><circle cx="404" cy="571" r="7" fill="#8e7adc"/></g>
<g filter="url(#spLite)" opacity=".5"><path d="M373.8 551C374.3 552.7 375.1 557.3 377 561C378.9 564.7 381.7 568.5 385 573C388.3 577.5 393.8 583.8 397 588C400.2 592.2 402.8 596.3 404 598" stroke="#000" stroke-width="38"/></g>
<g filter="url(#spTex)" opacity=".45"><path d="M373.8 551C374.3 552.7 375.1 557.3 377 561C378.9 564.7 381.7 568.5 385 573C388.3 577.5 393.8 583.8 397 588C400.2 592.2 402.8 596.3 404 598" stroke="#000" stroke-width="39"/></g>
<g filter="url(#o05)"><path d="M372 556C372.7 557.7 373.7 562.3 376 566C378.3 569.7 382.7 574.3 386 578C389.3 581.7 393 584.8 396 588C399 591.2 402.7 595.5 404 597" stroke="#a2ee4c" stroke-width="9.6" opacity=".95"/><path d="M372 556C372.7 557.7 373.7 562.3 376 566C378.3 569.7 382.7 574.3 386 578C389.3 581.7 393 584.8 396 588C399 591.2 402.7 595.5 404 597" stroke="#74b48c" stroke-opacity=".62" stroke-width="7"/></g>
<g filter="url(#o05)"><path d="M389 573C390.3 572.5 395.2 569.3 397 570C398.8 570.7 400.2 574.7 400 577C399.8 579.3 396.7 582.8 396 584" stroke="#b4fa54" stroke-width="2"/></g>
</g>
<rect x="344.6" y="522.6" width="71.1" height="68.3" fill="none" stroke="#c6c6c6" stroke-width="1"/>
<g clip-path="url(#clipFs0)"><g transform="translate(559.6 521.2) scale(.326) translate(-342.4 -521.5)"><g filter="url(#o2)" opacity=".85"><use href="#fgA" stroke="#2f5c9a" stroke-width="26"/><use href="#fgAk" stroke="#2f5c9a" stroke-width="20"/><use href="#fgC" stroke="#2f5c9a" stroke-width="19"/><use href="#fgB" stroke="#2f5c9a" stroke-width="22"/><use href="#fgB2" stroke="#2f5c9a" stroke-width="15"/><use href="#fgF" stroke="#2f5c9a" stroke-width="19"/><use href="#fgD" stroke="#2f5c9a" stroke-width="20"/><use href="#fgE" stroke="#2f5c9a" stroke-width="20"/></g><g filter="url(#spTex)" opacity=".6"><use href="#fgA" stroke="#000" stroke-width="29"/><use href="#fgAk" stroke="#000" stroke-width="23"/><use href="#fgC" stroke="#000" stroke-width="22"/><use href="#fgB" stroke="#000" stroke-width="25"/><use href="#fgB2" stroke="#000" stroke-width="18"/><use href="#fgF" stroke="#000" stroke-width="22"/><use href="#fgD" stroke="#000" stroke-width="23"/><use href="#fgE" stroke="#000" stroke-width="23"/></g><use href="#orgBody" fill="#08142a" opacity=".7" filter="url(#o3)"/></g></g>
<g clip-path="url(#clipFs1)"><g transform="translate(559.6 612.4) scale(.326) translate(-342.4 -521.5)"><use href="#orgBody" fill="#300830" opacity=".9" filter="url(#o4)"/><g filter="url(#o3)" opacity=".85"><use href="#fgA" stroke="#7c1270" stroke-width="27"/><use href="#fgAk" stroke="#7c1270" stroke-width="21"/><use href="#fgC" stroke="#7c1270" stroke-width="20"/><use href="#fgB" stroke="#7c1270" stroke-width="23"/><use href="#fgB2" stroke="#7c1270" stroke-width="16"/><use href="#fgF" stroke="#7c1270" stroke-width="20"/><use href="#fgD" stroke="#7c1270" stroke-width="21"/><use href="#fgE" stroke="#7c1270" stroke-width="21"/></g></g></g>
<g clip-path="url(#clipFs2)"><g transform="translate(559.6 703.8) scale(.326) translate(-342.4 -521.5)"><use href="#orgBody" fill="url(#bodyG)" stroke="#6cc636" stroke-width="1" filter="url(#o05)"/><g clip-path="url(#clipBody)"><use href="#orgBody" fill="#000" filter="url(#spDk2)" opacity=".4"/><use href="#orgBody" fill="#000" filter="url(#spTex)" opacity=".35"/><ellipse cx="453.1" cy="677" rx="40" ry="20" fill="#000" filter="url(#spGb)"/><g filter="url(#o3)" fill="#020802"><ellipse cx="481" cy="678" rx="15" ry="13" opacity=".5"/><ellipse cx="488" cy="657" rx="13" ry="8" opacity=".45"/><ellipse cx="446" cy="730" rx="12" ry="9" opacity=".35"/></g><g filter="url(#o05)" fill="none" stroke="#b8f85a" stroke-width="1.3" opacity=".9"><path d="M445.4 624.4C446.3 627.7 446.3 639.1 450.6 644.5C455 649.9 464 655.5 471.6 656.8C479.2 658.1 492.2 652.9 496.3 652.2"/><path d="M361.1 629.6C364.4 633.1 378.6 643 380.6 650.6C382.5 658.2 376.2 670.2 372.9 675.3C369.5 680.5 362.6 680.5 360.5 681.5"/><path d="M397.6 728C401.2 728.7 411.4 729.2 419.2 732.6C426.9 735.9 439.7 745.5 443.9 748"/></g></g><use href="#orgBody" fill="none" stroke="#b4f552" stroke-width="1.5" filter="url(#o05)"/><use href="#orgBlobs" fill="#b4fa5c" filter="url(#o05)"/><use href="#orgBody" fill="#000" opacity=".28"/><g filter="url(#o05)"><use href="#fgA" stroke="#5cb42c" stroke-width="13"/><use href="#fgAk" stroke="#5cb42c" stroke-width="7"/><use href="#fgC" stroke="#5cb42c" stroke-width="6"/><use href="#fgB" stroke="#5cb42c" stroke-width="9"/><use href="#fgB2" stroke="#5cb42c" stroke-width="5"/><use href="#fgF" stroke="#5cb42c" stroke-width="6"/><use href="#fgD" stroke="#5cb42c" stroke-width="7"/><use href="#fgE" stroke="#5cb42c" stroke-width="7"/></g></g></g>
<text x="627.2" y="608.4" font-size="10.1" fill="#7fb0e6" text-anchor="end" font-style="italic">OLFM4</text>
<text x="626.9" y="698.9" font-size="10.4" fill="#b52aa6" text-anchor="end" font-style="italic">LGR5</text>
<text x="626.8" y="789.4" font-size="10.2" fill="#95d943" text-anchor="end">SI</text>
<line x1="518.6" y1="775.2" x2="551" y2="775.2" stroke="#fff" stroke-width="1.5"/>
<text x="535.4" y="785.8" font-size="10.1" fill="#fff" text-anchor="middle">100 µm</text>
</g>
<g id="panelG">
<text x="0" y="814.1" font-size="18.5" fill="#000" font-weight="bold">G</text>
<path d="M77.9 832.9h0M56.7 836.1h0M82.7 832.7h0M88.1 841.6h0M85.9 828.6h0M70.7 850.6h0M82.1 819.1h0M91.7 819.2h0M76.9 859.4h0M62.1 823.6h0M89.9 849.8h0M56.6 868.3h0M45.4 853.3h0M89 827.9h0M75.3 817.2h0M72.4 816.3h0M61.2 831.9h0M66.1 859.4h0M83 829.5h0M80.9 823h0M85.9 840.5h0M50.7 847.9h0M92.9 821.8h0M77.2 842.5h0M71.9 834.5h0M68.7 858.3h0M57.9 850.8h0M83.9 834.8h0M75.7 842.8h0M51.8 860.1h0M88 847.9h0M62.2 832.2h0M62.2 832.2h0M72.3 842.5h0M59.6 860h0M69.9 813.3h0M94.2 821.8h0M47.8 858.7h0M56.1 860.5h0M67.6 849.8h0M56 867.3h0M48.4 846.8h0M69.4 849.8h0M90.3 843.6h0M92.2 820h0M81.3 838.6h0M65.8 843.7h0M67.6 861.6h0M85 853.9h0M64.2 831.4h0M67.8 824.1h0M71.4 815.4h0M77.6 831.1h0M92.1 831.4h0M85.1 849.4h0M77.6 809.4h0M77.6 814.8h0M53 848.8h0M86.5 844.3h0M58.7 824.4h0M90.1 824.9h0M90.5 841.7h0M86.6 811.5h0M52.5 858.7h0M69.7 821.3h0M56.6 852h0M91.5 818.1h0M82.6 815.4h0M78.1 840.2h0M52.2 858.2h0M70 860.8h0M83.6 843.9h0M77 833.2h0M71.7 838.1h0M61.7 841.9h0M52.1 839.2h0M88.5 814.2h0M96.1 837h0M52.5 839.7h0M97.3 821.3h0M90.5 828.6h0M70.5 857.6h0M68.2 855.4h0M84 810.4h0M96.7 817.3h0M78.4 842.8h0M66.7 852h0M75.3 827.2h0M81.4 820.6h0M97 823.1h0M88.2 820.6h0M86.2 851.9h0M76.3 843h0M66.8 825.5h0M53.2 832.7h0M50.3 850.3h0M87.1 832.9h0M61.8 835.4h0M91.4 840.1h0M75 850.5h0M72 819.3h0M98.4 845.8h0M78.9 853h0M73.5 816.1h0M90.2 815.2h0M55.9 859.9h0M81.4 825.6h0M75.8 819.6h0M68 853.1h0M63.4 836.4h0M94.1 822.6h0M91.3 839.7h0M93.1 810h0M65.8 843.4h0M73.7 809h0M87 825.9h0M63.3 857h0M92 830.3h0M97.6 821.3h0M58.7 833.5h0M77.2 811.3h0M51.3 856.8h0M90.6 816.9h0M64.9 859.6h0M55.6 852.3h0M75.9 822.6h0M77.9 840.4h0M90.5 834.6h0M74.5 845.8h0M67.1 850.8h0M83.8 826.9h0M79 833.7h0M48 852.2h0M58.8 843.3h0M64.4 825.4h0M65 841.5h0M62.1 825.3h0M91.1 816.2h0M76.8 837.4h0M80.5 829.6h0M54.8 851.2h0M74.8 810.2h0M88 829.8h0M89.1 829.7h0M89.1 851.3h0M65.4 822.8h0M46.3 850.3h0M84.7 809h0M45.6 845.7h0M87.3 821.9h0M56.2 860.1h0M65.5 855.9h0M58.9 846.6h0M84.9 819.1h0M81.6 826.9h0M66.7 845h0M69.2 851.1h0M80.2 838.6h0M81.2 838.9h0M84.6 834.4h0M64.7 830.5h0M58.4 835.7h0M73.3 854.5h0M83.3 829h0M90.3 830.7h0M66.9 858.2h0M56.8 856.8h0M73.6 828.4h0M60.3 820.6h0M98.7 819.5h0M59.4 841.5h0M90.1 827.2h0M94.5 825.6h0M93.1 815.9h0M53.5 832.7h0M64.4 832.2h0M87.4 828.7h0M62.9 865.4h0M60.5 854.8h0M88.2 838.1h0M92.7 828.4h0M79.1 829.2h0M80.1 811.9h0M68.1 829.7h0M52.2 840.8h0M62.9 823h0M76.4 848.9h0M90.2 837.9h0M95 836.7h0M83.9 843.5h0M90.8 814.2h0M55.7 835.4h0M83.2 849.9h0M74.1 860.2h0M57.1 849.2h0M77.4 811.6h0M53.4 849.4h0M72 843.5h0M62.8 830.2h0M54.3 846.8h0M65.5 850.5h0M79.7 855.1h0M74.6 841h0M55.2 843.6h0M84 834.1h0M87.5 818h0M83.8 817.8h0M77.1 859.2h0M98.4 820.1h0M79.9 836.5h0M78 824.4h0M72.6 832.3h0M80.3 851.6h0M66.9 816.3h0M75.2 836h0M59.7 826.6h0M58.6 851h0M92.3 816.3h0M72.5 856.4h0M60.7 843.3h0M47.3 851.6h0M91.4 815.4h0M53.4 853.2h0M79.7 836.3h0M77.5 859h0M81.7 828.9h0M72.3 849.4h0M90.1 835.1h0M71.2 839.6h0M75.4 856.6h0M63.9 834.1h0M64.4 841.5h0M50.1 839.4h0M88.7 839.5h0M94.9 830.9h0M69.9 848.9h0M73.2 854.4h0M96.9 815.4h0M71.7 850.5h0M73.1 811h0M70.6 845.7h0M86.2 831.3h0M87.9 840.4h0M65.6 832.7h0M76.8 829.2h0M67.5 826.9h0M66.6 860.4h0M94.6 811.5h0M69.2 846.2h0M72.9 825.8h0M52.5 857h0M69.2 833.4h0M57.5 829.8h0M77.1 810.3h0M56.3 830.5h0M65.9 837.8h0M87 849.3h0M67.9 833.5h0M92 826.5h0M72 830.6h0M66.3 862.3h0M79.9 822.3h0M51.1 852.4h0M57.4 866.1h0M65.1 851.1h0M99.6 829.8h0M54 846.8h0M61.7 819.9h0M59.6 859.2h0M59 840.3h0M87.6 851.4h0M64.1 844.4h0M78.2 838.3h0M61.7 859.1h0M77.9 827.6h0M72.9 857.4h0M90.1 811.2h0M72.1 847.5h0M59.1 860.9h0M88.5 825.2h0M72.4 839.8h0M58.2 841.5h0M67.9 833.4h0M84.8 811.7h0M78.9 828.3h0M74.2 833.9h0M89.6 840.4h0M76.1 829.2h0M56.1 844h0M56.3 838.9h0M50.3 841.4h0M57.4 846.5h0M91.7 828.7h0M62.2 826.7h0M74.1 840.8h0M73.1 838.3h0M75 845h0M59 839.4h0M67.4 822.1h0M94.6 830h0M66.5 818.9h0M79.3 820.9h0M69 843.5h0M67.4 862h0M77.4 820.4h0M89.6 841.4h0M60.5 829.4h0M78.4 847h0M92.1 822.8h0M58.8 862h0M72.5 830.5h0M70.8 828.7h0M84.6 847.3h0M70 832.5h0M63 863.9h0M57.6 825.6h0M61 852.9h0M91.8 833.4h0M77.9 849h0M65.7 848.8h0M86.8 826.1h0M86 820.5h0M61.7 859h0M69.4 844.2h0M88.1 819.4h0M66.3 845.4h0M65.9 864.7h0M74.4 816.7h0M77.4 848.3h0M66.2 831.6h0M78.4 832.1h0M57.3 858.2h0M81.1 835.4h0M57.4 836h0M83.4 844.7h0M46.5 845.2h0M83.4 824h0M63.1 838.7h0M59.6 841.9h0M66.5 846.4h0M56.4 846.8h0M52.4 847.5h0M63.6 855.9h0M87.9 819.1h0M45.8 849.9h0M73 844h0M89.5 821.6h0M84.8 830.1h0M61.3 839.6h0M65.3 845.1h0M72.7 854.1h0M90 831.1h0M65.5 836.3h0M80.2 848.3h0M70.8 823.6h0M79.3 845.3h0M47.4 850h0M65.2 837.6h0M81.2 850.3h0M93.7 824.8h0M82.8 846.7h0M72 850.8h0M79.6 831.7h0M51.5 859.9h0M62.9 850.8h0M79.5 828.7h0M75.5 850.6h0M56.5 842.2h0M89.9 838.9h0M63.4 866.6h0M61.9 837.2h0M60.4 854.5h0M83.4 831h0M74.1 861.8h0M81.5 848.5h0M61 834h0M64.9 828.7h0M71.7 860.1h0M66.5 842.5h0M72.6 841.1h0M95.6 817.3h0M70.8 844.7h0M53.7 850h0M81.5 813.8h0M82.3 825.8h0M67.8 848.5h0M59.3 867.1h0M77.8 812.9h0M49 856h0M75.4 830.7h0M74.9 818.8h0M81.3 840.5h0M55.1 855.1h0M75.6 815.7h0M57.1 854.1h0M51.3 840.6h0M72 860.7h0M100.5 822.9h0M54.4 843.9h0M68.2 855h0M96.1 845.5h0M61.5 841.4h0M75.3 855.2h0M94.4 837.2h0M51.8 853.3h0M90.6 821.2h0M46.2 848.2h0M96.3 829.7h0M82.4 853.9h0M82.9 828h0M74.8 835.2h0M61.3 842.4h0M78.5 835.8h0M73.7 826.5h0M75.9 855.7h0M68.4 854.5h0M70.4 833.4h0M53.1 862.2h0M81.2 835.3h0M64.2 825.9h0M66.3 851.2h0M70.8 830.4h0M72.8 820.2h0M81.5 813.1h0M96.5 827h0M93.3 839.5h0M52.3 854.4h0M76.4 838.2h0M86.1 823.1h0M65.5 846.5h0M60.6 830.8h0M71.4 834.7h0M68.9 827.8h0M76.8 809.2h0M53 842.5h0M90.8 821h0M67.3 855.1h0M63.5 837.2h0M58.9 845.9h0M79.6 856.8h0M79.5 819.4h0M59.4 841.2h0M60.6 836.7h0M60.3 860.8h0M58.7 836.5h0M70.6 854.3h0M87.9 839.3h0M52.5 846.6h0M55.1 830.4h0M72.2 845.3h0M85.3 823.2h0M64.2 843.2h0M72.1 845.6h0M90.1 846.6h0M89.8 825.5h0M95.5 815.9h0M60.7 841.5h0M59.3 839.7h0M84 814.2h0M93.2 819.2h0M57.9 828h0M93.4 831.2h0M76 854.4h0M69.2 859h0M83.7 835.6h0M59.8 867h0M69 857.9h0M90.3 816.2h0M53.5 858.5h0M90.9 836.8h0M70.5 814.2h0M98.2 822.1h0M47.1 860.7h0M82.3 839.4h0M84.3 822.6h0M59.7 844.3h0M72.3 852.6h0M72.7 845.9h0M95 834.2h0M54.3 860.7h0M87.3 834.4h0M57.6 850.1h0M53.2 843.5h0M69.3 844.2h0M50 851.9h0M61.1 840.1h0M87.3 840.5h0M53.4 847.8h0M76.8 817.8h0M51.2 838h0M66.2 844.7h0M74 845.3h0M82.8 846.2h0M66.5 861.7h0M53.4 829.8h0M77.6 851.2h0M88.6 832.8h0M56.1 852.7h0M95.6 844.4h0M69.7 824.5h0M52.9 839h0M54.4 841.2h0M91.2 811.8h0M67.1 851.3h0M95.3 824.3h0M56.3 864.6h0M86.8 819.8h0M95.3 828.2h0M84.1 836.4h0M71.4 856h0M78 808.3h0M72.3 846.4h0M45.6 847.7h0M74.3 845.9h0M87.9 837.3h0M89.8 827.8h0M76.9 849.5h0M78.5 847.9h0M79.2 829.9h0M94.8 827.4h0M90.7 810.7h0M64.6 860.2h0M46.6 855.5h0M76.1 818.4h0M79.2 844.5h0M76 845.6h0M69.9 824h0M88.1 818.5h0M63.1 860.7h0M54.4 842.9h0M57.9 823.9h0M71.5 857.6h0M63.3 833.6h0M62.8 837h0M94.3 823.8h0M91.2 817.1h0M60.9 821.5h0M75 820h0M67.1 819.7h0M83.8 851.1h0M50.8 850.6h0M79.6 836.3h0M68.8 830.3h0M72.9 851.5h0M74 829.6h0M87.3 819.4h0M79.5 825.2h0M66.5 852h0M68.1 851h0M63.8 845.9h0M74 832.7h0M94.4 826.1h0M86.7 814.8h0M78.4 856.5h0M68.6 829.4h0M87.9 810.5h0M73.2 821.3h0M72.4 830.8h0M67.6 860.1h0M72.5 818.5h0M60.9 857.4h0M69.8 830.2h0M89.8 823.2h0M88.9 818.4h0M69.3 833.8h0M81.9 846h0M50.7 847.9h0M83.7 848.7h0M74.5 830.1h0M80.5 808.9h0M62.5 838.1h0M85.2 839h0M57.9 832.6h0M66.3 820.1h0M63.8 854.6h0M52.5 851.3h0M63.7 854.7h0M91.9 836.2h0M91.8 816.6h0M76.3 844.4h0M66.8 853.8h0M75.3 821.3h0M59.6 841.8h0M49.4 840.4h0M90.2 810h0M83.3 841.5h0M47.4 859.1h0M69.4 812.8h0M81.2 806.1h0M66.6 811h0M80.4 829h0M97.2 825.7h0M80.3 814.7h0M67.9 834h0M88.3 841.8h0M78.3 808.6h0M88.8 831.4h0M67.6 863.6h0M101.3 819.4h0M85.4 836.7h0M58.2 860.1h0M81.1 850.7h0M80.6 825.1h0M97.1 825.9h0M50.4 856h0M85 853.4h0M89.6 851.4h0M85.3 835.3h0M61.7 855.9h0M56.9 860h0M57.6 865h0M87.6 815h0M85.4 838.9h0M77 833.5h0M58.5 831.7h0M49.4 858.2h0M84.9 848h0M75.1 850.3h0M63.2 815.6h0M81.6 820.4h0M79.5 816.5h0M66.4 834.6h0M67.8 863h0M84.4 812.7h0M94.8 829.1h0M61.3 845.7h0M93.5 815.5h0M75.5 821.4h0M74.2 853.8h0M63.6 832.6h0M91.2 839h0M98.7 829h0M91.7 826.5h0M82.6 817.8h0M64 860.8h0M56.9 836.1h0M48.9 856.2h0M49.4 850.1h0M56.6 824.4h0M73.5 839.8h0M68.6 856.9h0M83.1 829.1h0M96.6 832.1h0M66.5 864h0M88.3 826.1h0M69.1 814h0M80.9 844.1h0M79.1 819.3h0M79.5 847.1h0M83.6 846.4h0M74.1 837.6h0M96.3 825.7h0M45.6 850.6h0M61.2 854.7h0M86.2 853.2h0M97.9 828h0M62.4 835.2h0M92.3 842h0M72.6 813h0M84.5 821.8h0M49.5 855.6h0M66.1 852.9h0M82.8 827h0M79 816h0M59 846h0M76 839.2h0M83.4 840.1h0M73.4 854.6h0M71.5 846.4h0M64.5 824.5h0M63.2 836.7h0M93 820.8h0M68.4 816.6h0M78.7 827.8h0M55.8 841.4h0M89 835.8h0M63.8 823.3h0M94.2 844.5h0M60.9 841h0M90.3 813.2h0M95.5 836h0M57.8 835.7h0M74.3 851.9h0M79.5 855.9h0M85.7 831.1h0M69.2 817.3h0M96.9 825.9h0M91.1 830.7h0M51.3 859.8h0M71.3 824.6h0M84.9 808.6h0M54.6 841.7h0M81.5 828.5h0M87.4 817.6h0M64 820.6h0M84.8 813.1h0M79.6 818.9h0M84.9 810.6h0M64.3 832.2h0M55.8 828.7h0M91.5 814.5h0M57.9 847.3h0M56.4 837.2h0M98.4 821.3h0M71.7 848.8h0M77.6 827.6h0M57.9 844.6h0M64.3 853.4h0M68 831.1h0M78 859.5h0M90.9 832.1h0M62.8 831.7h0M62.9 860.7h0M66.3 816.4h0M95.7 836.9h0M94.8 815.3h0M79.6 816h0M84.6 827.6h0M98.3 828.8h0M60.1 858.6h0M70 845h0M93.5 829.2h0M86.2 811.4h0M59.2 864.4h0M58.6 858.4h0M67.7 835.9h0M51.4 840.1h0M70.8 860.1h0M78.2 812.8h0M78.8 843.5h0M69.4 834.5h0M67.8 834.7h0M81.9 831.9h0M78.6 818.2h0M61.4 832.1h0M87.5 844.6h0M86.4 846.1h0M93.5 812.8h0M90 849.4h0M100.6 833.6h0M84.7 832.3h0M83.9 828.9h0M58.9 857.5h0M68.7 851.2h0M73.6 832.3h0M95.6 814.1h0M84.5 834.8h0M66.8 832.8h0M49.8 846.4h0M80.9 854.4h0M58.6 848.4h0M86.5 823.5h0M87.7 815.8h0M47.1 851.1h0M72 833.3h0M66.2 854.1h0M97.7 836.5h0M82.8 848.8h0M76.6 854.6h0M67.9 836.2h0" stroke="#e8902c" stroke-width="1.75" stroke-linecap="round" fill="none"/>
<path d="M146.1 821.2h0M135.6 854.6h0M112.4 810.9h0M134.6 822.6h0M126.3 806.1h0M105.7 822.8h0M117.1 823h0M144.9 835.6h0M142 823.4h0M128.4 844.2h0M116.1 829.5h0M116.3 825.9h0M141.4 837.7h0M103.1 824h0M126.3 806h0M121.6 831.3h0M105.4 827.7h0M130.2 835.2h0M144.1 852h0M145 812.1h0M131.8 849.1h0M123.2 839.1h0M129 854h0M121.9 823.8h0M144.3 824.3h0M137.4 814.5h0M120 818.3h0M140.7 815.5h0M114 822.1h0M119.3 810.1h0M135.5 810.8h0M113.8 818.7h0M127.7 831.1h0M135.4 850.9h0M143 833.8h0M109.7 829.7h0M125.5 811.4h0M117.1 837.3h0M121 815.9h0M132.6 818h0M126.8 819h0M135.6 805.2h0M105.8 812h0M119.2 803.9h0M142.3 847.5h0M114.2 818.1h0M108.9 822.4h0M134.8 806.3h0M126.4 818.4h0M113.7 821.5h0M127.6 828.4h0M118.2 827h0M115.7 830.5h0M128.3 804.7h0M128.5 841.7h0M113.4 835.6h0M147.3 830.6h0M128.5 853.2h0M131.7 820.5h0M131.6 814.3h0M112.3 833.7h0M122.6 835.2h0M143.8 823.6h0M112.5 831.8h0M142.4 826.9h0M121.1 813.8h0M133.2 832.9h0M123.8 828.3h0M108 824.6h0M112.8 825.1h0M141 825.9h0M132.7 810.1h0M122.8 809.4h0M147.4 837.2h0M143.5 860.4h0M115.3 828h0M113.2 834.4h0M147.7 833.3h0M120.4 822.5h0M139.3 833.4h0M133.1 841h0M120.1 831.8h0M133.2 840.4h0M144.9 832.4h0M139.1 809.4h0M115 828.1h0M139.8 840.8h0M131.5 809.6h0M130.2 821.6h0M138.8 841.2h0M139 852.5h0M125.1 847h0M145.4 825.8h0M106.6 821.1h0M111 817.7h0M130.8 818h0M136.6 841.2h0M127.5 829h0M129.7 826.5h0M137.7 811.7h0M106.4 811.8h0M128.4 831.5h0M137 813.1h0M138.4 833.6h0M130.6 836.3h0M136.1 848.4h0M131 829.1h0M128.2 838.8h0M126.8 847.1h0M140.2 829.1h0M136.1 838.1h0M138.4 814.6h0M113.1 826.8h0M132.2 845.9h0M118.1 806.6h0M140.3 827.5h0M141.9 835.8h0M113.7 819.9h0M118.3 818.4h0M119.3 810.9h0M134.3 862.5h0M143.4 844.9h0M125.5 812.9h0M132.5 849h0M135.2 841.4h0M128.7 852.9h0M141.5 849.7h0M109.8 822.4h0M124.7 817.4h0M119.8 840.5h0M142 826.8h0M109.5 833.5h0M140.2 841.7h0M127.4 811.9h0M125.7 820.6h0M147.1 823.6h0M105.9 827.1h0M124.2 830.9h0M118.2 824.2h0M114.7 826.3h0M129.8 839.1h0M124.6 810.2h0M123.4 816.9h0M148.5 833.1h0M135.3 807.8h0M126.2 831.7h0M135 815.3h0M113.6 807.9h0M130.9 844.9h0M132.6 854.6h0M131.1 801.6h0M116.8 817.7h0M143.9 816.9h0M144.4 807.7h0M108 820.8h0M125.2 833.6h0M132.5 857.1h0M126.5 825.9h0M111.9 818.9h0M116.3 830.1h0M145 818.5h0M118.4 837.4h0M131.6 849.6h0M137.1 813.2h0M115.7 832.1h0M132.4 846.8h0M116.9 833.7h0M133.3 845.3h0M136.4 846h0M146.5 821.3h0M139.6 813.8h0M108.8 829.1h0M123.7 815.4h0M108.5 821h0M140.8 814.6h0M134.3 831.4h0M134.7 850.1h0M122.4 827.3h0M132.1 807.2h0M135.6 836h0M126.8 833.4h0M137.3 848.3h0M131.3 834.9h0M105.6 815.2h0M123.8 838.8h0M116.1 813h0M143 852.2h0M134.1 815.1h0M107 820.3h0M135.2 840.1h0M128.4 819.4h0M118.9 813.7h0M124.7 829.4h0M129.8 822.4h0M140.7 841h0M134.7 849.4h0M132.5 827.9h0M111.5 821h0M127.9 828h0M125.8 812.3h0M141 807.8h0M123.1 827.1h0M126.1 828.1h0M123.6 818.1h0M124.8 824h0M107.9 812.9h0M149.4 824h0M135.6 828h0M121.2 814.5h0M139.6 849h0M107.1 824.4h0M109.9 821.1h0M123.2 831.5h0M120.6 815.3h0M131.6 839.2h0M138.1 861.9h0M140.5 811.5h0M144.1 840h0M142.6 826.6h0M149.3 842.9h0M109.6 821.8h0M125.3 809h0M126.4 840.7h0M139.2 815.2h0M124 817h0M129.9 842.2h0M117.9 808.8h0M134.8 844.7h0M145.3 817.7h0M114.8 834.8h0M130.9 839.2h0M141.7 831.8h0M144.1 847.8h0M129 814h0M133.2 819h0M143.4 812.4h0M128.8 821.1h0M126.5 806.9h0M111.6 823.1h0M130.7 853h0M131.1 832.7h0M137.6 818.5h0M133.5 824.5h0M145.8 850.1h0M124.8 825.6h0M125.5 839.3h0M139.8 854.4h0M114.9 826.9h0M134.7 854.1h0M114.6 834.2h0M132.1 817.6h0M103.8 825.8h0M132 817.8h0M146.5 827.2h0M132.6 808.1h0M104.9 824.6h0M130.5 811.7h0M139.7 809.9h0M133.9 842.1h0M132.8 845.4h0M131.7 811.9h0M143.6 848.6h0M145.6 850.7h0M128.3 849.5h0M113 809.8h0M112.1 837.9h0M144.9 823.2h0M127.2 829h0M127.2 846.1h0M132.5 803.5h0M121.6 832.3h0M129.3 844.6h0M120 822.9h0M142 815.2h0M111.8 825.1h0M115.4 827.7h0M138.3 832.5h0M108.9 819.8h0M106.2 831h0M146.8 816.7h0M132.7 807.5h0M131.9 836.9h0M111.4 824h0M117.1 809.3h0M131 822.8h0M125.1 849.9h0M146.5 851.8h0M108.5 819.6h0M127.9 814.8h0M137.6 821.8h0M142.2 856.6h0M131.7 818.4h0M140.2 849.8h0M118.2 820.1h0M134.7 831.8h0M134.8 839.1h0M130.6 817h0M137.1 850.9h0M145 842h0M145.4 826.8h0M126.4 818.9h0M146.4 829.4h0M141.4 829.5h0M127.9 822.1h0M138.1 852.6h0M112.2 815.6h0M139.2 853.9h0M124.1 840.2h0M135.6 836.7h0M128.1 805.7h0M128.6 811.5h0M149.8 831h0M145.4 848.2h0M140.6 833.4h0M118.4 815.2h0M144.7 848.7h0M140.5 859h0M111 822.2h0M127.7 824h0M128 820.6h0M117.9 829.9h0M143.1 815.7h0M128.6 809.2h0M118.2 822.7h0M127 835.3h0M138.1 806.6h0M138.4 806.6h0M109.3 824.5h0M127.3 840.4h0M125 806.5h0M147.5 831.2h0M134.3 854.8h0M132.6 820.7h0M141.2 821h0M130.7 812h0M135.5 802.8h0M129.1 823.6h0M106.3 818.9h0M128.9 836.6h0M119.3 808.3h0M141.4 842.7h0M125.7 819.1h0M129.4 847.8h0M131.9 814.5h0M110.1 817.5h0M142.1 843.5h0M111.4 832.4h0M118 826.6h0M129.5 821.2h0M139.9 858h0M120.8 813.6h0M130.2 809.7h0M112.5 827.7h0M116.5 841.1h0M127.7 846.2h0M150.2 824.1h0M123.6 812.5h0M141.8 810.8h0M146.3 839.4h0M132 816.7h0M105.7 814.2h0M110.2 814h0M132 813.2h0M142.6 820.1h0M122.1 807.1h0M132 818.3h0M123.5 809.5h0M127.6 824.9h0M133.1 823.8h0M130.9 851.6h0M138.2 828.4h0M107.3 816.3h0M139.8 852.6h0M141.3 839.9h0M106.6 826.6h0M129.7 841.3h0M111.6 822.9h0M136.6 823.9h0M123.3 825h0M147.8 831.4h0M121.4 819.8h0M119.4 824.7h0M121.9 822h0M104 824.8h0M133.4 823.7h0M107.7 823.7h0M127.3 816.8h0M111.7 831.7h0M127.5 833.2h0M136.6 806.4h0M135.7 807.8h0M139.4 812.4h0M133.2 848.9h0M140.9 852.7h0M148.3 829.6h0M110.5 812.9h0M149 831.1h0M118.4 830.2h0M107.5 815.1h0M125.6 832.6h0M109.9 809.1h0M132.6 829.8h0M114.8 833.1h0M132 844.6h0M128.6 847.4h0M111.5 836.3h0M119.4 805.2h0M135.1 809.7h0M121.2 827.4h0M147 849h0M147.3 828.6h0M134.5 818.4h0M104.4 818.2h0M145.8 852.7h0M124.7 819.2h0M123.6 810.4h0M130.9 839.3h0M114.1 810.6h0M127.5 847.4h0M143.7 833.2h0M128.6 803.7h0M120.2 832h0M133.8 830.4h0M110.1 828.2h0M145.3 828.3h0M113.6 821.1h0M123.9 830.3h0M135.8 848.5h0M125.9 819.1h0M129.1 848h0M134 810.3h0M144 816.7h0M125.8 831h0M136.9 812.7h0M131.8 845.6h0M135.3 835.8h0M141.8 834h0M114 819.1h0M109.1 817.1h0M133.5 812.6h0M140.5 838.8h0M134.5 822.3h0M134.2 829.3h0M129.9 804.2h0M129.9 829.2h0M138.7 806.8h0M138.4 845.6h0M122.8 818.2h0M142.2 840.3h0M123.5 839.4h0M131.8 835.2h0M144.4 824.8h0M147.1 852.4h0M143.6 810.1h0M131.7 816.9h0M127.7 804.9h0M131.1 807.8h0M112.4 824.5h0M117.3 836.5h0M136.2 812.9h0M120.2 819.8h0M144 842.7h0M137.3 832.7h0M118.1 831.6h0M139.7 827.1h0M126.6 839.1h0M130.8 822.8h0M145.7 842.3h0M134.7 845.8h0M109.5 818.3h0M145.9 814.7h0M111.8 826.5h0M113.2 812h0M142.8 838.6h0M128.6 829.8h0M139.2 845.4h0M107 815.4h0M120 829.2h0M124.3 809.6h0M138.8 816.4h0M144.2 815.8h0M114.9 814.8h0M138.4 825.2h0M136.8 852.4h0M128.4 823.2h0M119.8 813.5h0M145.5 846.4h0M127 836.6h0M114.3 814.9h0M104.9 816.5h0M131.9 822h0M114 817.9h0M139.6 842h0M142.5 846.1h0M132.7 828h0M139.6 809.4h0M135.8 839.8h0M141.4 845.4h0M131.2 850.8h0M122.3 819.3h0M131.8 816.9h0M125.3 820.2h0M150.2 831.8h0M141.7 836.1h0M110.7 819.4h0M142.9 824.5h0M112 831.8h0M111.2 813.4h0M141.7 837.8h0M125.9 834.4h0M141.9 846.9h0M140.4 841.6h0M115.9 827.5h0M136.5 855.2h0M139.7 847.8h0M139.7 852.7h0M130.2 843h0M140.7 836.8h0M136.8 812.5h0M115 836.5h0" stroke="#8f8bd4" stroke-width="1.75" stroke-linecap="round" fill="none"/>
<path d="M117.3 872.3h0M109.5 862.2h0M98.3 844.3h0M115.9 865.7h0M100.3 851.3h0M103.6 872.9h0M95.4 862h0M97.5 853.6h0M100.2 869.8h0M94 842.4h0M127.8 874.8h0M123.3 869.7h0M105.4 871.3h0M105.8 848.5h0M113.7 854.2h0M97.9 847.9h0M112.2 855.8h0M105.6 845.3h0M115.5 844.8h0M130 879.6h0M127.6 869.7h0M119.8 879.5h0M105.2 873h0M101.4 850.1h0M130.1 885.9h0M118.4 870.7h0M98.8 843.9h0M110.6 868.9h0M135.6 881.9h0M120.5 875.4h0M102.5 847.5h0M110 861.9h0M114.8 873h0M102.6 853.5h0M129.1 885.8h0M136.5 879.5h0M111.2 854.9h0M111.2 872.5h0M123.3 867h0M116.5 847.8h0M118.8 853.4h0M122.8 870h0M113.6 848.9h0M114.1 864.5h0M99.6 840.9h0M114.4 843.5h0M117.7 864h0M121.8 878.8h0M110 841.8h0M133.6 872.7h0M108.6 847.1h0M116.1 845.4h0M117.1 877.3h0M98.5 849.4h0M121.4 865.9h0M97.5 839.2h0M131.2 881.1h0M128.9 854.4h0M115.9 870.5h0M96.6 860h0M106.5 862.5h0M119.3 872.4h0M125 864.4h0M92.4 846.1h0M126.2 880.7h0M122.2 866.9h0M126.1 869.6h0M106.7 867.7h0M94.6 843.5h0M108.5 869.7h0M110.7 841.9h0M126.2 876.2h0M115.4 852.6h0M137.8 871.5h0M116.7 865.6h0M107.2 851.6h0M96.2 864.7h0M124.3 881.8h0M121 869.5h0M103.2 845.3h0M110.2 862.4h0M95.3 851.3h0M102.4 844.9h0M103.6 844.7h0M128.6 879.3h0M93.4 854.2h0M103.3 857.8h0M126.7 864.8h0M94.6 833.4h0M123.6 884.3h0M112 859.2h0M118.7 868.7h0M131.5 884.3h0M117.1 874.7h0M118.2 870.9h0M118.6 871.6h0M119.6 879.8h0M96.6 859.4h0M117.7 841.3h0M100.6 856.6h0M102.1 863.5h0M111.3 853.5h0M119.6 857h0M123.8 874.4h0M111.2 875.1h0M105.8 873.2h0M132.2 862.4h0M96.3 841.6h0M111.7 847h0M118.4 847.8h0M135.2 877.1h0M119.5 848.9h0M108.6 863.5h0M118.4 873.7h0M115.2 866.2h0M110.9 872.3h0M115.1 843.4h0M118.6 857.5h0M113.6 863.1h0M124.4 874.4h0M126.5 853.4h0M114.8 862.3h0M97.3 851.2h0M119 852h0M124.1 869.6h0M129.1 877.4h0M119.9 878.6h0M105.1 868.3h0M109.3 873h0M111.4 849.4h0M99 838.8h0M105.7 843.5h0M115.1 845.8h0M100.1 839.7h0M116.5 849.6h0M114.4 866h0M121.8 851.8h0M108.8 865.9h0M94.9 839.7h0M112 863.5h0M114 844.4h0M99.1 841.3h0M97.3 851.6h0M115.4 841.1h0M95.9 846.7h0M104.9 851.4h0M112.9 869.7h0M111.3 863.6h0M119.2 849.9h0M128 864.4h0M103 845.2h0M108.5 846.2h0M98.4 837.3h0M108.9 862.6h0M114.8 851.8h0M106 843.4h0M109.1 839.8h0M111.4 860.4h0M132.3 874.4h0M113.4 847.4h0M123.6 881.8h0M118.8 853.2h0M106.2 854h0M128.6 869.3h0M101.6 858.7h0M96.4 860.9h0M127.8 874h0M95.5 851.5h0M111.9 849.8h0M98.1 843.7h0M97.9 845.9h0M100.3 847.9h0M129.8 853.3h0M98.4 840.3h0M111.3 868h0M114.8 871.8h0M121.2 851.8h0M130.6 882.1h0M120.2 869.4h0M100.1 859.5h0M99.4 840.6h0M92.9 856.9h0M118.9 879.6h0M128 859h0M110.4 874.4h0M131.4 874.8h0M109.2 843.9h0M129.6 865.7h0M102.8 861.2h0M124 876.5h0M108.9 856.7h0M120.6 882.9h0M112.1 851.6h0M98.4 850.3h0M106.7 857.3h0M123.7 846.6h0M111.5 871.5h0M110.2 846.2h0M107.9 855.3h0M96.6 858.3h0M97.4 853.3h0M99 853.9h0M113.8 846.7h0M121.3 867.6h0M112.7 873h0M116 847.2h0M107.5 853.5h0M115.8 878.4h0M129.1 864.9h0M110.3 870.5h0M137.6 870.6h0M125.7 867.4h0M102.2 859.9h0M94.8 848.1h0M134.4 870.3h0M99.7 862.9h0M125.4 850.8h0M108 866.3h0M123.5 871h0M99.2 845h0M97.1 855.6h0M106.4 848.2h0M99.1 853.2h0M101.8 848.8h0M98.6 841.4h0M100.1 847.9h0M95.9 846.1h0M117.4 858.1h0M103.2 868.8h0M101.9 872.3h0M120.3 851.4h0M129.2 871.8h0M117.5 841.6h0M103.1 841h0M121.1 873h0M99.3 850.4h0M100.5 868.7h0M122.8 871.1h0M129 860.2h0M111.1 868.6h0M116.4 852.1h0M108.2 871h0M113 861.2h0M106.8 864.2h0M129.4 872.5h0M120.6 874.4h0M135.4 872.8h0M124 857.3h0M121.6 846.3h0M96.9 867.5h0M106.5 842.2h0M108.2 862.2h0M129.2 876.7h0M118.1 856.8h0M103.6 845h0M108 869.9h0M103 866.5h0M125.8 882.9h0M120.3 852.3h0M126.3 859.3h0M107.3 846.5h0M116.1 864.2h0M118.8 877.7h0M91.4 847.3h0M106.9 867.3h0M110.7 864.1h0M111.9 846.9h0M122.9 875.6h0M100.7 863.9h0M114.4 873.1h0M93.3 848.7h0M90.3 855.7h0M131.5 874.2h0M94.1 839.1h0M120.3 882.5h0M102.1 851.4h0M117.3 878.2h0M95.2 841.8h0M123.2 870.6h0M92.6 850.5h0M136.2 870.1h0M131.2 864.8h0M103.1 857.1h0M120.3 843.5h0M91.5 843.9h0M123.6 868.6h0M104.3 840.9h0M128.8 860.5h0M95.9 846.3h0M124.8 880.5h0M115.5 852.4h0M96.8 849.6h0M92.5 861.1h0M122.8 875.8h0M109.9 845.4h0M116.8 866.8h0M131.7 860.7h0M110.7 860.5h0M105.7 847.7h0M129.6 863.9h0M90.4 847.8h0M119.3 860h0M117.5 859.9h0M122.3 846.7h0M131.3 881.8h0M122.5 864.5h0M123.8 860.3h0M92.5 852.6h0M113.1 874.3h0M122.6 881.2h0M131.4 863.2h0M127.5 876h0M123 857.7h0M94 844.8h0M108.5 845.3h0M94.3 862.5h0M112.6 841.3h0M103.1 871.8h0M133.4 870.9h0M117.5 876.8h0M110.5 859.1h0M117.5 846.5h0M101.7 839.2h0M125.2 862.1h0M121.7 860.1h0M110.1 840.6h0M94.3 839.5h0M96.2 840.2h0M107.8 851.3h0M124.8 848.6h0M118.5 851.1h0M119.1 867.9h0M106.7 844.2h0M99.4 865.8h0M120.7 852.3h0M95.8 849h0M133 876.5h0M124.3 850.2h0M106.5 842.1h0M106.3 851.3h0M111.7 849.1h0M122.3 874.7h0M112.4 877.5h0M100.6 837.1h0M134.3 872.6h0M130.4 869h0M105.9 866.4h0M110.3 871.3h0M91.4 857.9h0M123 859.9h0M104.9 848.2h0M101.7 848.6h0M120.9 852.2h0M130.9 870.2h0M124.2 879.8h0M129.2 867.1h0M94.2 852.6h0M126.8 882.9h0M100.2 838.3h0M100.9 846.6h0M105.2 864.3h0M104.7 839.5h0M115.4 871.5h0M120.2 867.9h0M117.1 847.7h0M128.7 884h0M98.5 850.5h0M129.7 871.7h0M123.3 871.1h0M122 861h0M130.6 881.8h0M115.8 849.6h0M108.9 873.5h0M126.3 865.8h0M123.6 879.5h0M94.6 858.6h0M110.9 853.5h0M102.2 842.7h0M94.8 852.5h0M129.5 864.9h0M126.4 861.5h0M112.7 870.1h0M121.6 863.7h0M122.5 866.7h0M110.1 866h0M109.5 868.4h0M101.9 855.4h0M131.2 874.6h0M112.6 843.3h0M115.9 855h0M96.8 865.1h0M127.1 869.9h0M102.5 848.5h0M121 878.2h0M120.1 847.1h0M136.5 870h0M121.4 863.4h0M121.6 875.9h0M131.8 878.1h0M124 852.2h0M119.5 859.5h0M130.5 868.6h0M117.4 879.5h0M112 852.7h0M109.4 855.3h0M131.6 866.6h0M101.8 863.8h0M110.5 850.2h0M125.4 861.3h0M97.1 843.7h0M97.2 842.5h0M116.2 860.3h0M96.3 855.5h0M107.8 867.8h0M127 862.3h0M131 882.7h0M117.6 868.1h0M111.9 877.4h0M114.6 875.5h0M101.3 852.3h0M113.9 861.6h0M123 871.8h0M116.5 859.2h0M115.8 850.3h0M120.5 854.7h0M120.1 864.6h0M109.2 864.6h0M106.5 846.2h0M97.7 846.2h0M112.3 870.4h0M108.9 844.5h0M125.6 865.1h0M118.2 841.3h0M121.1 878.8h0M101.9 854h0M95.4 839.1h0M104.5 871.7h0M112.3 856.7h0M98.7 865.2h0M129.4 864.6h0M127 866.7h0M103.7 853.7h0M99.8 848.4h0M126.2 879.6h0M99.5 842.5h0M124.4 860.4h0M118.7 845.1h0M121.7 845h0M134.1 872h0M107.9 867.6h0M94.4 839h0M97.3 849.8h0M130.9 865.9h0M101.1 862.9h0M130.1 861h0M105.8 867.5h0M104.4 851.7h0M133 883.3h0M100.3 853.2h0M92.2 849h0M130.5 877.8h0M116.9 863.9h0M133.2 874.8h0M106 859.5h0M100.4 846.1h0M93.4 847.2h0M117.4 859.4h0M120 876h0M125.5 859.2h0M135.1 872.3h0M104.7 866.6h0M123.9 867.4h0M122.4 854.7h0M108.9 870.4h0M124.6 873.7h0M118.4 869.5h0M98.7 854.6h0M134.8 875h0M126.9 870.3h0M96.7 843.9h0M102.7 837.6h0M137.5 872.6h0M110.1 860.8h0M109.5 865h0M106 860.2h0M115.2 854.7h0M119.1 873.7h0M113.3 856.8h0M122.4 856.2h0M102 857.1h0M107.2 842h0M105 865.6h0M112 859.6h0M122 871.6h0M103.8 856.5h0M103.7 851.9h0M123.9 849.8h0M101.5 847.4h0M129.9 881.6h0M107.8 878.2h0M101 855.4h0M100.4 845.6h0M101.7 840.7h0M130.5 861h0M109.9 861h0M98.8 847.7h0M95.5 856.3h0M118.5 877.7h0M122.2 854.5h0M129.9 861.8h0M101.2 867.5h0M116.2 879.9h0M114.3 860.2h0M98.4 865.5h0M115.4 854.1h0M122.5 861.9h0M119.4 861.6h0M106.4 851.3h0M114.3 877.1h0M121.4 883.3h0M117.4 849.7h0M118.3 844.8h0M129.1 868.4h0M120.2 860.6h0M115.1 873.4h0M99 861.1h0M125.3 880.7h0M106.9 871.9h0M125.2 861.1h0M112 858.3h0M133.5 883.7h0M123 858.3h0M121.9 869.8h0M118.2 864.1h0M133.4 869.3h0M126 873.7h0M106.2 853.9h0M122.5 867.1h0M114.1 876.2h0M112.5 874.3h0M106.4 868h0M100.1 844.7h0M115.9 866.5h0M110 844.9h0M105.1 851.2h0M119.8 868.8h0M132.6 883.8h0M97.6 839h0M116.1 855.1h0M123.8 853h0M137.9 871.4h0M125.2 868.5h0M103.4 845h0M97.6 849h0M111.8 846.3h0M117.5 843.1h0M100.8 859.9h0M123.7 853.4h0M134.6 883.1h0M128.6 864.6h0M119.9 845.9h0M116.7 855.7h0M128.4 872.3h0M127.3 869.2h0M105.3 848.3h0M112.3 846.5h0M112.5 847.1h0M118.7 849.8h0M106.8 869.5h0M119.3 863.1h0M99.1 861.4h0M121.2 846h0M109.7 866.2h0M102.2 845.5h0M105.9 863.4h0M121.7 864.7h0M129 868.5h0M124.8 884.1h0M113.1 854h0M95.3 842.9h0M132 862.8h0M103.4 842.2h0M109.3 869.1h0M129.4 861.5h0M116.5 862h0M102.8 846.2h0M105.6 859h0M117 854.3h0M123.3 875.2h0M119.3 850.4h0M102.3 867.6h0M123.9 845h0M108.2 870.2h0M121.6 860.6h0M131.6 862.9h0M125.9 875.8h0M120.7 849.5h0M125.4 885.7h0M97.3 844h0M120.9 872.2h0M108.9 844.5h0M100 863.8h0M135.7 873.1h0M123.7 848.5h0M106.2 844.6h0M108.7 863h0M97 859.2h0M100.1 864h0M93.8 852.6h0M108 848.1h0M103.2 847.5h0M102.4 858.3h0M97.4 843.9h0M124.4 860.7h0M110 853.9h0M121.9 849h0M95.2 860h0M114.9 866.8h0M119.8 861.9h0M129.1 873h0" stroke="#8ee83e" stroke-width="1.75" stroke-linecap="round" fill="none"/>
<path d="M139.4 905.3h0M130.7 895.5h0M131.9 907.4h0M150.3 878.4h0M148.6 880.4h0M144.4 909.5h0M141.5 875.3h0M148 893.2h0M128.2 892.4h0M130.2 906.5h0M126 894.3h0M126.1 904.5h0M140.1 921.5h0M141.8 900.6h0M127 912.8h0M141.6 875.1h0M136.6 919.7h0M136.8 913.6h0M140.2 909.5h0M144 894.1h0M147.2 859.7h0M140 871.7h0M146.3 895.8h0M135.2 886.3h0M141.7 905.2h0M155.3 880h0M146.4 926.2h0M137.9 907.9h0M144.9 888.9h0M143.9 922.3h0M127.3 895.9h0M137.9 914.3h0M150.2 903.1h0M144.4 860.7h0M144 901.9h0M149.2 893h0M128.6 918.5h0M159.6 895.9h0M132.9 910.4h0M130.3 896.1h0M154.8 875.2h0M144.2 905.7h0M145.4 903.9h0M146.4 902.7h0M143.4 886.4h0M130.2 911.2h0M157 888.5h0M151.8 909.7h0M150.2 912.6h0M145.2 904.3h0M137.4 923.8h0M146.2 912.2h0M133.8 891.4h0M125.9 910.3h0M139.6 888.7h0M136.6 872.1h0M129.7 898h0M148.2 906.4h0M130.7 906.2h0M144.8 896.8h0M151.6 899.6h0M126.5 909.1h0M137.4 921.7h0M133.1 902.3h0M137.6 878.7h0M135.6 912.7h0M141.7 878.7h0M133.7 909.4h0M137.4 894.2h0M154.5 877.9h0M145.3 867.6h0M138.4 877.9h0M131.8 911.5h0M144.9 917.9h0M139.2 905.1h0M148 866.2h0M151.4 899.6h0M147.7 902h0M145.4 869.4h0M147.5 913.9h0M141.8 867h0M153.3 863.9h0M157.6 910.8h0M145.3 879.7h0M151.2 862.2h0M150.9 865.2h0M137.5 914h0M129 899.5h0M127.9 913.1h0M139.5 917.9h0M147.9 879.8h0M153.3 882.1h0M137.1 905.1h0M147.5 910.7h0M152.7 907.8h0M138.5 918.6h0M139.7 889.9h0M140.3 921h0M149.3 862.6h0M142.1 878.9h0M144.2 902.6h0M155.6 875.3h0M140.8 872.9h0M142.6 873.8h0M149 882.9h0M129.7 904.1h0M141.7 919h0M145.5 899.6h0M143.2 878.9h0M148.3 877.2h0M134.2 922.6h0M142.6 921.7h0M126.8 902.5h0M128.3 893.3h0M136.9 929.6h0M135.8 921.7h0M148.2 873.4h0M138 909.7h0M140.5 890.5h0M155.4 907.8h0M150.4 916.9h0M156 893.2h0M137.5 900.8h0M127.8 917h0M133.3 916.4h0M133.1 887.4h0M146.3 906.6h0M128.6 909.9h0M144.9 870.1h0M138 913.2h0M129.7 886.1h0M136 924.6h0M154 870.4h0M139.1 916.9h0M157.2 911h0M133.8 901.8h0M149.7 909.2h0M145.7 893.9h0M153.1 868h0M135.5 889.4h0M142 869.3h0M150.1 884h0M150.6 889.2h0M147.5 914.5h0M145.2 915.6h0M133.5 915.5h0M144.5 904h0M153.5 896.9h0M132.3 901.7h0M133.6 906.6h0M124.7 901.7h0M142.5 867.4h0M150.9 872.4h0M142.5 920.7h0M134 897.1h0M146.8 909.1h0M156.1 878.5h0M141.4 909h0M143.3 864.1h0M152.8 887.5h0M144.1 858.9h0M150.2 903.8h0M145.1 878.4h0M151.2 870.3h0M131.9 918.7h0M147.2 902.6h0M133.7 900.9h0M152.5 915.2h0M135.4 894.9h0M152.5 903.2h0M127.8 913.9h0M142.3 873.8h0M148 882.8h0M149.4 891.6h0M142.8 879.1h0M155.3 877.2h0M158.3 872.4h0M150 917.2h0M148.5 897.2h0M153.6 870.7h0M146.1 901.1h0M150.2 886.7h0M147 888.4h0M139.2 926.1h0M147.9 888.5h0M149.2 906.7h0M141.9 874.1h0M132.1 895.3h0M141.1 892.8h0M149.3 921h0M141.1 891.7h0M144.5 885.6h0M139.1 891.8h0M131.5 907.7h0M151.6 899.7h0M143.4 888.4h0M138.5 900.4h0M141.9 921.1h0M146.5 880.6h0M149.8 895.1h0M131.3 905.9h0M150.8 878.8h0M141.1 880.7h0M152.9 884.5h0M124.4 899.1h0M153.9 896.1h0M153.3 880.7h0M145.9 862.7h0M142.3 917.1h0M128.4 898.2h0M143.9 913.2h0M141.1 906.7h0M138.6 918.5h0M146 875.6h0M142.4 866.4h0M155.8 863.8h0M142.5 902h0M130.9 908.7h0M151.6 867.7h0M137 908.1h0M139.7 863.5h0M139.9 915.1h0M139.8 928.5h0M156.1 900.4h0M152.5 915h0M125.7 902.7h0M150.5 885.9h0M129.1 908.2h0M133.9 892.6h0M127.6 894.7h0M135.3 893.4h0M147.9 912.1h0M142.5 902.3h0M141.6 895.1h0M157.6 885.6h0M143.6 901.7h0M142.1 885.9h0M137.7 912.4h0M130.3 919.7h0M143.4 901.3h0M134.2 897h0M142.8 880.6h0M153.5 876.6h0M145.9 900.3h0M144.6 871.1h0M141.8 917.3h0M146.9 914.1h0M136.8 923.4h0M135 911.2h0M149.2 916.8h0M147.3 867.3h0M127.9 911.2h0M148.8 860.2h0M144.4 889.3h0M142.6 897.8h0M127.3 899.1h0M148.6 893.1h0M154.6 873.5h0M144.3 900.8h0M153.8 912.7h0M139.2 868.6h0M140.4 889.1h0M137.5 897h0M139.7 882h0M155 892.8h0M148.1 910.1h0M133.2 918.3h0M136.8 913.6h0M144.4 878.8h0M151.5 868.1h0M144.3 866.1h0M146.2 885h0M139.8 905.2h0M139.9 915.1h0M152.4 912.8h0M124.7 901.1h0M150.1 902.1h0M147.4 864.8h0M145.7 917.1h0M131.6 890.2h0M150 879.6h0M133.5 925.2h0M141.3 875.9h0M138.8 898.7h0M134.8 889.2h0M146.4 858.9h0M137.1 888.2h0M153 900.9h0M146.5 911.2h0M137.2 927.1h0M142.3 894.3h0M157.1 913.5h0M137.3 878.9h0M146.6 904.4h0M153 919.8h0M140.3 911h0M145.7 865.4h0M142.1 885.4h0M150.7 860.2h0M145 881.3h0M148.7 857.8h0M143.1 891.2h0M154.4 911.8h0M149.9 865.9h0M138.2 905.1h0M144.5 859h0M146.9 884.8h0M149.2 893.2h0M158.5 882.7h0M133.5 890.6h0M151.8 872.6h0M145.5 871.5h0M146 875.1h0M151.9 891h0M127.2 915.8h0M144.1 870h0M153.4 897.5h0M149.2 865.4h0M131.4 901.2h0M145.8 875.8h0M144 925.6h0M140.5 872.1h0M156.7 910.2h0M147 856.4h0M145.8 887.7h0M132.4 912.8h0M139.7 899.7h0M146 909.1h0M146.1 900.7h0M154.9 898.9h0M135.8 892.7h0M144.3 900.7h0M147.1 873.4h0M134.7 921.9h0M154.4 896.7h0M129.3 899.5h0M144.8 889.9h0M137.2 904.8h0M142.2 925.4h0M142.3 923.5h0M144.1 858.4h0M125.6 907.4h0M135.7 883.9h0M127.8 904.6h0M135.1 909.5h0M145 922.4h0M146.4 902.7h0M147.5 855.3h0M157.8 896.6h0M127.3 915.4h0M156 877h0M139.9 899.1h0M148.3 917.5h0M153.9 875.2h0M153.9 889.1h0M141.7 896.2h0M143.2 896h0M143.6 883.4h0M133.5 892.6h0M134 882.8h0M142.5 911.8h0M133 888.8h0M135.8 906.5h0M136.8 911.2h0M151.2 866.2h0M125.6 900h0M138.5 867.1h0M144 883.6h0M144.6 915h0M148.8 872.1h0M132.2 892.7h0M155.5 892.7h0M152 884.1h0M156.5 911h0M135.5 898.9h0M133.4 904.7h0M145.8 901.9h0M129.9 895.7h0M134.7 904.2h0M138.3 893.6h0M136.7 924.7h0M157 864.7h0M135.7 878.8h0M155.4 912.2h0M143.2 915.4h0M133.6 913.2h0M139.3 906.1h0M145.4 920.3h0M138.1 872.4h0M160.1 880.9h0M153.1 915.6h0M139.2 916h0M142.3 889.2h0M149.1 876.3h0M151 922.3h0M150 871.1h0M134.8 914.7h0M135.5 886h0M137.4 877.5h0M146.7 917.9h0M144.4 902.9h0M145.4 907.5h0M152.8 872.8h0M122.4 895.6h0M146.2 912.2h0M145.8 882.6h0M145.4 883.3h0M149.4 876.8h0M143.1 924.9h0M153.6 878.7h0M150.3 903.4h0M143.7 878.2h0M147.9 898.8h0M149.5 883.6h0M145.7 874.4h0M142.3 875.3h0M127 897.3h0M145.9 899.3h0M130.5 897.4h0M150 877.4h0M148.2 925.8h0M141.1 906.8h0M136.7 926.5h0M153.6 863.3h0M138.5 928h0M135.7 884.3h0M150.4 915.1h0M134.7 897.1h0M148 901.5h0M146.2 890.4h0M148.3 912.3h0M143.1 893h0M142.1 923.1h0M146.4 861.4h0M145.8 923.5h0M145.3 895.7h0M143.8 875.7h0M152.8 869.7h0M152.7 891.6h0M151.2 888.8h0M156 904.9h0M127 893h0M140.1 867.6h0M143.8 910h0M134.9 907.2h0M147.1 906.2h0M132.5 921.5h0M153.8 911h0M147.6 917.5h0M150.9 868h0M145.7 898h0M151.5 883h0M142.2 913.8h0M133.3 901.3h0M155.5 886.4h0M154.3 915.7h0M150.2 864.5h0M149 888.4h0M139.8 908.7h0M138.8 875.8h0M148.6 884.6h0M159.6 904.1h0M140.1 888.2h0M136.9 882.2h0M143.4 881.5h0M145.2 899.2h0M141.6 878h0M138.8 906.2h0M151.4 867.5h0M156.3 873.7h0M144.9 912.7h0M146.8 902.8h0M146.5 869.7h0M131.9 926h0M125 904.3h0M144.6 896.7h0M147.1 891.6h0M139.1 897h0M139 903.7h0M154.9 896.4h0" stroke="#dc2020" stroke-width="1.75" stroke-linecap="round" fill="none"/>
<path d="M93.2 868.4h0M70.1 876h0M83.8 870.7h0M68.4 876.5h0M70.4 872.1h0M87.7 871.5h0M84.3 870.4h0M63.8 871h0M75.8 866.2h0M78.7 875.6h0M94.1 862h0M83.6 874.5h0M79.6 878.3h0M68 882.2h0M86.8 873.3h0M76.6 876.6h0M72.4 874.4h0M92.5 872.7h0M88.3 861.5h0M90.4 865.3h0M74.9 867h0M65.3 877.2h0M65.9 874.4h0M69.1 870.8h0M92.4 877.9h0M69 869.6h0M89.3 875.9h0M77.5 864.1h0M88.3 876.9h0M83.2 865.3h0M79.4 874.5h0M74.8 869.8h0M65.9 869.7h0M81.1 872.6h0M92.1 866.9h0M83.3 871.9h0M92.1 865.4h0M87.1 879.2h0M81.6 869.3h0M79.2 874.4h0M79.9 884.1h0M79.6 868h0M81.9 877.6h0M90.8 874.3h0M86.5 868.1h0M82.7 866.2h0M74.1 869.7h0M68 879.4h0M87.6 864.3h0M66.7 871.5h0M72.4 863.6h0M92.8 876.6h0M93.7 868h0M66 868.2h0M81 876.5h0M89.5 864.6h0M77.7 866.6h0M71.2 874.8h0M70.6 871.7h0M86.7 860.5h0M82.3 864.4h0M72 861.9h0M67.8 876.6h0M86.2 870.8h0M90.2 868.6h0M78.3 883.6h0M89.8 865.2h0M75.6 865h0M85.5 874.2h0M73.3 877h0M76.2 876.3h0M91.1 870.6h0M68.1 876.2h0M79.6 861.8h0M82.5 874.3h0M78 873.8h0M69.9 873.4h0M76.3 873.7h0M85.5 864.5h0M60.7 868.9h0M78.5 862.7h0M85.8 864.3h0M87.3 867.2h0M66.9 874.6h0M74.3 876.7h0M83.1 870.5h0M79.9 872.1h0M69.1 874.2h0M63.8 868.6h0M81 874.2h0M90.2 866.4h0M93.2 868.7h0M83.7 865.1h0M89.9 860.3h0M72.3 873.8h0M75.7 875.4h0M85.1 862.5h0M91.5 871.3h0M86.7 873.7h0M83.5 872h0M74.3 868.8h0M71.7 868.4h0M72.3 876.1h0M73.8 865.1h0M69.2 869.9h0M77.1 869.7h0M74.8 866.4h0M74.4 870.3h0M88 874.8h0M88.1 873.3h0M85.7 879.7h0M78 857.5h0M80.9 866.2h0M92.2 871.6h0M70 875.7h0M92.2 871.8h0M81.1 870.4h0M93.4 865.9h0M75.4 874.2h0M64.9 879.8h0M66.6 879h0M65.2 869.4h0M85.8 873.2h0M83 861.1h0M86.8 879.9h0M70.5 873.6h0M63.4 870.6h0M83.1 869.3h0M78.7 868.1h0M76.8 863.4h0M65.9 872.6h0M77.4 873.6h0M68.6 869.4h0M75.6 876.7h0M65.8 872.3h0M83 868.6h0M63.2 871.4h0M83.7 869.7h0M73.6 872.3h0M73.4 865.2h0M72.5 877.4h0M71.2 871.3h0M81 873.1h0M72.6 873.5h0M89.2 858.9h0M73.3 870h0M80.6 864.9h0M94 868.5h0M66.1 871.9h0M91.3 878h0M82.6 874.5h0M72.6 868.6h0M89.1 872h0M69.6 873.4h0M79.7 867.3h0M79.9 877.5h0M94.6 874.6h0M78.2 870.8h0M72.2 880.1h0M83.1 863.1h0M70.4 870.2h0M68.4 867.2h0M65.7 868.2h0M72.1 864.1h0M77.3 873.9h0M75.4 866.9h0M90.1 878.1h0M80.8 873.5h0M84.7 863.2h0M88.6 875.6h0" stroke="#1a1ad8" stroke-width="1.75" stroke-linecap="round" fill="none"/>
<path d="M112.2 889.3h0M97 891.2h0M99.1 891.6h0M109.4 886.6h0M107.5 890.3h0M106.8 899.3h0M109.6 894h0M100 895.9h0M110 888.2h0M100.6 904.5h0M103.9 886.9h0M99.6 896.4h0M99.1 894.8h0M105.5 891.2h0M94.5 885.1h0M114.5 897.9h0M114 895.8h0M100.1 893.2h0M111.6 887.9h0M108.5 893.6h0M107.4 896h0M106.5 878.8h0M114.5 892.7h0M101.5 904.8h0M110.6 892.9h0M101.8 890.9h0M102 890.5h0M102.4 901h0M110 894.4h0M103.8 888.5h0M93.5 887.8h0M107.1 900.1h0M105.1 885h0M113.9 890.7h0M105 887h0M103.1 885h0M100.7 896.5h0M102.6 887.9h0M103.1 905h0M101.2 898.5h0M109.1 887h0M109.4 893.1h0M106.5 897.3h0M100.1 900.9h0M102.9 889.7h0M96.7 891.5h0M108.6 888.2h0M109.8 888.9h0M111.3 886.8h0M101.8 886.7h0M101.8 904h0M104.8 894.6h0M110.7 896.2h0M111.4 894.1h0M108.6 898.7h0M108.4 888.8h0M113.1 887.2h0M108.4 888.4h0M110.4 891.5h0M106.1 896.2h0M106.1 900.4h0M117 891.7h0M105.4 902.1h0M104.1 895.7h0M101.3 889h0M107.9 882.5h0M99.7 892.8h0M101.9 897.4h0M114.9 889.9h0M108 897.2h0M95.2 888.2h0M96.5 889.5h0M101.7 889.4h0M114.3 892.3h0M113.3 898.6h0" stroke="#1a1ad8" stroke-width="1.75" stroke-linecap="round" fill="none"/>
<path d="M44.9 885.6h0M46.7 869.8h0M38.5 864.6h0M36.5 868h0M43.6 882.7h0M30.1 874.8h0M52.5 870.4h0M49.6 872.1h0M45.2 883.1h0M36.9 864h0M34.9 862.4h0M28.8 867.2h0M38.1 869.1h0M33.2 869.8h0M45.3 863.6h0M51.5 877.1h0M33.8 869.8h0M45.3 875.9h0M45.8 879.2h0M44.5 876.1h0M43.3 872.8h0M40.7 877.5h0M41.5 868.9h0M36.8 861h0M32.7 866.7h0M51.2 871.2h0M34.8 867h0M36.6 867.2h0M50.4 876.5h0M38.9 867.4h0M36.3 869.7h0M39.7 881h0M49.7 872.1h0M47 863.2h0M44.6 882.3h0M46.9 873.2h0M51.6 871.6h0M44.1 868.4h0M39.8 865.1h0M39.9 866.2h0M35.9 882.4h0M47.5 871.9h0M45.7 874.5h0M53.2 884h0M35.9 879.6h0M30.2 873.3h0M40.7 885.8h0M36.1 874.6h0M34 871.1h0M38.4 881.8h0M36.6 869.8h0M41 863.6h0M35.4 871.4h0M46.7 888.4h0M33.5 865.1h0M49.2 880.3h0M32.6 878.1h0M41.9 872.3h0M35.3 870.8h0M43.1 864.5h0M42.9 887.4h0M43.1 865.4h0M41.3 873.4h0M42.5 884.9h0M29.3 874.8h0M37.3 877.6h0M41.6 863.2h0M47.6 880h0M37.6 864.8h0M30.7 861.6h0M44.5 887.4h0M31.9 865.9h0M46.8 873.1h0M40.2 882.1h0M32.5 868.8h0M38.2 882h0M45.3 881.7h0M45 876.6h0M38.7 867.1h0M45.8 874.6h0M38.8 869.4h0M34.5 865.4h0M48.8 879.1h0M45 879.3h0M44.7 872.2h0M37.3 868.8h0M46.4 870.7h0M38.7 867.2h0M52.2 869.4h0M36.2 864.8h0M50.2 874.5h0M45.8 876.8h0M40.1 872.9h0M41.4 868.8h0M33.3 881.8h0M43 865.5h0M45.9 879.9h0M47.6 865.9h0M37.8 870.2h0M48.8 882.3h0M31.6 877.4h0M41.2 883.1h0M41 864.4h0M38.3 876.1h0M40.2 872.1h0M34.1 876.8h0M40.4 872.7h0M40.5 861.5h0M40.1 863.9h0M36.8 880.6h0M42 866.9h0M52.7 883.3h0M45.6 885.9h0M38.3 874.9h0M50.6 869.4h0M43 860.1h0M46.7 871.4h0M44.9 874.7h0M52.5 875.1h0M36.3 872h0M35.2 861.8h0M51.2 882.5h0M43 881.7h0M38.3 862.3h0M48.1 883.4h0M39.6 870.2h0M35.8 877.7h0M43.3 867.2h0M39.3 884.7h0M44.1 861.7h0M34 874h0M32.8 864.9h0M48.4 875.9h0M35.9 883.6h0M40.8 875.3h0M40.2 876.2h0M36 881.4h0M33.3 876.5h0M44.3 873.5h0M47.4 879.5h0M49.8 874.8h0M41.4 878.2h0M39 863.3h0M36.3 869.5h0M46.7 869h0M42.5 870.6h0M30.9 869.7h0M46.7 888.1h0M33.3 862.6h0M33.8 879.1h0M50.4 877.9h0M32.6 870.4h0M39.2 886.3h0M32.7 876.5h0M39.8 872.4h0M41.6 878.5h0M37 878h0M35.2 864.7h0M48.3 873.3h0M40.7 871.3h0M34.2 875.9h0M42.4 866.6h0M36.6 867.4h0M40.4 865.5h0M50 877.2h0M41.2 886.1h0M38.6 885.6h0M48.4 877h0M45.6 865.6h0M49.2 867.1h0M32.7 866.4h0M35.9 870.9h0M32.6 884.6h0M33.9 879h0M40.7 877.6h0M42.2 888.8h0M40.8 876.9h0M35.4 865h0M51.5 880.4h0M36.3 860.8h0M46.1 882.6h0M47.1 883.1h0M34.4 865.2h0M32.7 874.2h0M53.9 870.4h0M40.4 879h0M35.7 885.5h0M44.8 878.7h0M48.8 870.9h0M36.6 880.4h0M46.5 881.3h0M49.5 865.8h0M39.8 866.1h0M47.9 880.8h0M33.1 879h0M38 883h0M31.2 874.4h0M48.5 872.5h0M30.8 871.5h0M34.7 873.3h0M48 882.4h0M49.6 880.5h0M38.9 874h0M52.6 877.7h0M33.3 861.6h0M45.5 871.5h0M30.8 873.8h0M42.2 875.4h0M47.1 881.7h0M41.9 867.2h0" stroke="#86f0f2" stroke-width="1.75" stroke-linecap="round" fill="none"/>
<text x="75.1" y="837.1" font-size="8.4" fill="#111" text-anchor="middle" font-weight="bold">0</text>
<text x="130" y="833.7" font-size="8.4" fill="#111" text-anchor="middle" font-weight="bold">1</text>
<text x="114.9" y="865.1" font-size="8.4" fill="#111" text-anchor="middle" font-weight="bold">2</text>
<text x="143.7" y="900" font-size="8.4" fill="#111" text-anchor="middle" font-weight="bold">3</text>
<text x="79.1" y="892.3" font-size="8.4" fill="#111" text-anchor="middle" font-weight="bold">4</text>
<text x="41.4" y="877.4" font-size="8.4" fill="#111" text-anchor="middle" font-weight="bold">5</text>
<path d="M24.7 884.1V932.3H68.2" fill="none" stroke="#222" stroke-width="1.5"/>
<path d="M24.7 877.1 l4.8 11.6 l-4.8 -2.8 l-4.8 2.8Z" fill="#222"/>
<path d="M75.2 932.3 l-11.6 -4.8 l2.8 4.8 l-2.8 4.8Z" fill="#222"/>
<text x="22.1" y="928" font-size="9.4" fill="#222" transform="rotate(-90 22.1 928)" stroke="#222" stroke-width=".22">UMAP 2</text>
<text x="23.2" y="941.6" font-size="9.8" fill="#222" stroke="#222" stroke-width=".22">UMAP 1</text>
<circle cx="177.1" cy="817.3" r="8" fill="#e68f2e" stroke="#333" stroke-width="0.9"/>
<text x="177.1" y="821.7" font-size="12.4" fill="#fff" text-anchor="middle">0</text>
<text x="192.3" y="820.7" font-size="10" fill="#111" stroke="#111" stroke-width=".22">Enterocyte-like 1</text>
<circle cx="177.1" cy="839.9" r="8" fill="#8f8bd0" stroke="#333" stroke-width="0.9"/>
<text x="177.1" y="844.3" font-size="12.4" fill="#fff" text-anchor="middle">1</text>
<text x="192.3" y="843.3" font-size="10" fill="#111" stroke="#111" stroke-width=".22">ISCs 1</text>
<circle cx="177.1" cy="861.8" r="8" fill="#8fe040" stroke="#333" stroke-width="0.9"/>
<text x="177.1" y="866.2" font-size="12.4" fill="#e9ffe0" text-anchor="middle">2</text>
<text x="192.3" y="865.2" font-size="10" fill="#111" stroke="#111" stroke-width=".22">ISCs 2</text>
<circle cx="177.1" cy="884.4" r="8" fill="#d81e1e" stroke="#333" stroke-width="0.9"/>
<text x="177.1" y="888.8" font-size="12.4" fill="#fff" text-anchor="middle">3</text>
<text x="192.3" y="887.8" font-size="10" fill="#111" stroke="#111" stroke-width=".22">ISCs 3/Proliferative</text>
<circle cx="177.1" cy="906.6" r="8" fill="#1818c8" stroke="#333" stroke-width="0.9"/>
<text x="177.1" y="911" font-size="12.4" fill="#fff" text-anchor="middle">4</text>
<text x="192.3" y="910" font-size="10" fill="#111" stroke="#111" stroke-width=".22">Enterocyte-like 2</text>
<circle cx="177.1" cy="928.7" r="8" fill="#90f0f0" stroke="#333" stroke-width="0.9"/>
<text x="177.1" y="933.1" font-size="12.4" fill="#e9ffe0" text-anchor="middle">5</text>
<text x="192.3" y="932.1" font-size="10" fill="#111" stroke="#111" stroke-width=".22">Enterocyte-like 3</text>
</g>
<g id="panelH">
<text x="278.1" y="813.4" font-size="18.5" fill="#000" font-weight="bold">H</text>
<path d="M326.3 810.9V912.9M343.6 810.9V912.9M360.8 810.9V912.9M378.1 810.9V912.9M395.3 810.9V912.9M412.6 810.9V912.9M429.8 810.9V912.9M447.1 810.9V912.9M464.3 810.9V912.9M481.6 810.9V912.9M498.8 810.9V912.9M516 810.9V912.9M533.3 810.9V912.9M550.5 810.9V912.9M567.8 810.9V912.9M585 810.9V912.9M602.3 810.9V912.9M619.5 810.9V912.9M312.9 825.4H635.9M312.9 840.1H635.9M312.9 854.7H635.9M312.9 869.3H635.9M312.9 883.9H635.9M312.9 898.6H635.9" stroke="#b9b9c1" stroke-width=".85" fill="none"/>
<path d="M326.3 825.4h0M326.3 840.1h0M326.3 854.7h0M326.3 869.3h0M326.3 883.9h0M326.3 898.6h0M343.6 825.4h0M343.6 840.1h0M343.6 854.7h0M343.6 869.3h0M343.6 883.9h0M343.6 898.6h0M360.8 825.4h0M360.8 840.1h0M360.8 854.7h0M360.8 869.3h0M360.8 883.9h0M360.8 898.6h0M378.1 825.4h0M378.1 840.1h0M378.1 854.7h0M378.1 869.3h0M378.1 883.9h0M378.1 898.6h0M395.3 825.4h0M395.3 840.1h0M395.3 854.7h0M395.3 869.3h0M395.3 883.9h0M395.3 898.6h0M412.6 825.4h0M412.6 840.1h0M412.6 854.7h0M412.6 869.3h0M412.6 883.9h0M412.6 898.6h0M429.8 825.4h0M429.8 840.1h0M429.8 854.7h0M429.8 869.3h0M429.8 883.9h0M429.8 898.6h0M447.1 825.4h0M447.1 840.1h0M447.1 854.7h0M447.1 869.3h0M447.1 883.9h0M447.1 898.6h0M464.3 825.4h0M464.3 840.1h0M464.3 854.7h0M464.3 869.3h0M464.3 883.9h0M464.3 898.6h0M481.6 825.4h0M481.6 840.1h0M481.6 854.7h0M481.6 869.3h0M481.6 883.9h0M481.6 898.6h0M498.8 825.4h0M498.8 840.1h0M498.8 854.7h0M498.8 869.3h0M498.8 883.9h0M498.8 898.6h0M516 825.4h0M516 840.1h0M516 854.7h0M516 869.3h0M516 883.9h0M516 898.6h0M533.3 825.4h0M533.3 840.1h0M533.3 854.7h0M533.3 869.3h0M533.3 883.9h0M533.3 898.6h0M550.5 825.4h0M550.5 840.1h0M550.5 854.7h0M550.5 869.3h0M550.5 883.9h0M550.5 898.6h0M567.8 825.4h0M567.8 840.1h0M567.8 854.7h0M567.8 869.3h0M567.8 883.9h0M567.8 898.6h0M585 825.4h0M585 840.1h0M585 854.7h0M585 869.3h0M585 883.9h0M585 898.6h0M602.3 825.4h0M602.3 840.1h0M602.3 854.7h0M602.3 869.3h0M602.3 883.9h0M602.3 898.6h0M619.5 825.4h0M619.5 840.1h0M619.5 854.7h0M619.5 869.3h0M619.5 883.9h0M619.5 898.6h0" stroke="#8a8a8a" stroke-width="1.1" stroke-linecap="round" fill="none"/>
<circle cx="343.6" cy="825.4" r="2.6" fill="#e8e040" stroke="#4c5a3a" stroke-width="0.55"/>
<circle cx="395.3" cy="825.4" r="5" fill="#a2c87c" stroke="#4c5a3a" stroke-width="0.55"/>
<circle cx="412.6" cy="825.4" r="2.2" fill="#e8e040" stroke="#4c5a3a" stroke-width="0.55"/>
<circle cx="429.8" cy="825.4" r="5" fill="#a2c87c" stroke="#4c5a3a" stroke-width="0.55"/>
<circle cx="326.3" cy="840.1" r="2.4" fill="#e8e040" stroke="#4c5a3a" stroke-width="0.55"/>
<circle cx="343.6" cy="840.1" r="4.2" fill="#c2d55a" stroke="#4c5a3a" stroke-width="0.55"/>
<circle cx="360.8" cy="840.1" r="1.3" fill="#f4f4f4" stroke="#4c5a3a" stroke-width="0.55"/>
<circle cx="378.1" cy="840.1" r="1.3" fill="#f4f4f4" stroke="#4c5a3a" stroke-width="0.55"/>
<circle cx="395.3" cy="840.1" r="1.5" fill="#f4f4f4" stroke="#4c5a3a" stroke-width="0.55"/>
<circle cx="429.8" cy="840.1" r="3.8" fill="#e8e040" stroke="#4c5a3a" stroke-width="0.55"/>
<circle cx="498.8" cy="840.1" r="1.2" fill="#f4f4f4" stroke="#4c5a3a" stroke-width="0.55"/>
<circle cx="343.6" cy="854.7" r="3.6" fill="#d2d950" stroke="#4c5a3a" stroke-width="0.55"/>
<circle cx="360.8" cy="854.7" r="1.3" fill="#c8c8c8" stroke="#4c5a3a" stroke-width="0.55"/>
<circle cx="395.3" cy="854.7" r="1.8" fill="#e8e040" stroke="#4c5a3a" stroke-width="0.55"/>
<circle cx="429.8" cy="854.7" r="3.8" fill="#e8e040" stroke="#4c5a3a" stroke-width="0.55"/>
<circle cx="326.3" cy="869.3" r="1.5" fill="#f0eca0" stroke="#4c5a3a" stroke-width="0.55"/>
<circle cx="343.6" cy="869.3" r="3.6" fill="#d2d950" stroke="#4c5a3a" stroke-width="0.55"/>
<circle cx="360.8" cy="869.3" r="5" fill="#d2d950" stroke="#4c5a3a" stroke-width="0.55"/>
<circle cx="378.1" cy="869.3" r="5" fill="#d2d950" stroke="#4c5a3a" stroke-width="0.55"/>
<circle cx="395.3" cy="869.3" r="2" fill="#e8e040" stroke="#4c5a3a" stroke-width="0.55"/>
<circle cx="429.8" cy="869.3" r="3.8" fill="#e8e040" stroke="#4c5a3a" stroke-width="0.55"/>
<circle cx="343.6" cy="883.9" r="2.8" fill="#e8e040" stroke="#4c5a3a" stroke-width="0.55"/>
<circle cx="360.8" cy="883.9" r="1.8" fill="#e8e040" stroke="#4c5a3a" stroke-width="0.55"/>
<circle cx="378.1" cy="883.9" r="1.6" fill="#e8e040" stroke="#4c5a3a" stroke-width="0.55"/>
<circle cx="395.3" cy="883.9" r="5.8" fill="#92c58a" stroke="#4c5a3a" stroke-width="0.55"/>
<circle cx="412.6" cy="883.9" r="2.2" fill="#e8e040" stroke="#4c5a3a" stroke-width="0.55"/>
<circle cx="429.8" cy="883.9" r="6" fill="#72aad2" stroke="#4c5a3a" stroke-width="0.55"/>
<circle cx="343.6" cy="898.6" r="1.4" fill="#f4f4f4" stroke="#4c5a3a" stroke-width="0.55"/>
<circle cx="395.3" cy="898.6" r="6.5" fill="#527fb8" stroke="#4c5a3a" stroke-width="0.55"/>
<circle cx="412.6" cy="898.6" r="5.7" fill="#aacd62" stroke="#4c5a3a" stroke-width="0.55"/>
<circle cx="429.8" cy="898.6" r="6.5" fill="#1a2f78" stroke="#4c5a3a" stroke-width="0.55"/>
<rect x="312.9" y="810.9" width="323" height="102" fill="none" stroke="#111" stroke-width="1.7"/>
<path d="M326.3 912.9v3M343.6 912.9v3M360.8 912.9v3M378.1 912.9v3M395.3 912.9v3M412.6 912.9v3M429.8 912.9v3M447.1 912.9v3M464.3 912.9v3M481.6 912.9v3M498.8 912.9v3M516 912.9v3M533.3 912.9v3M550.5 912.9v3M567.8 912.9v3M585 912.9v3M602.3 912.9v3M619.5 912.9v3M312.9 825.4h-2.6M312.9 840.1h-2.6M312.9 854.7h-2.6M312.9 869.3h-2.6M312.9 883.9h-2.6M312.9 898.6h-2.6" stroke="#111" stroke-width="1" fill="none"/>
<rect x="296.3" y="819.5" width="13.6" height="11.8" fill="#e68f2e" stroke="#5a5a5a" stroke-width="0.6"/>
<text x="303.1" y="828.6" font-size="9" fill="#fff" text-anchor="middle">0</text>
<rect x="296.3" y="834.2" width="13.6" height="11.8" fill="#8f8bd0" stroke="#5a5a5a" stroke-width="0.6"/>
<text x="303.1" y="843.3" font-size="9" fill="#fff" text-anchor="middle">1</text>
<rect x="296.3" y="848.8" width="13.6" height="11.8" fill="#8fe040" stroke="#5a5a5a" stroke-width="0.6"/>
<text x="303.1" y="857.9" font-size="9" fill="#dfffc8" text-anchor="middle">2</text>
<rect x="296.3" y="863.4" width="13.6" height="11.8" fill="#d81e1e" stroke="#5a5a5a" stroke-width="0.6"/>
<text x="303.1" y="872.5" font-size="9" fill="#fff" text-anchor="middle">3</text>
<rect x="296.3" y="878" width="13.6" height="11.8" fill="#1818c8" stroke="#5a5a5a" stroke-width="0.6"/>
<text x="303.1" y="887.1" font-size="9" fill="#fff" text-anchor="middle">4</text>
<rect x="296.3" y="892.7" width="13.6" height="11.8" fill="#90f0f0" stroke="#5a5a5a" stroke-width="0.6"/>
<text x="303.1" y="901.8" font-size="9" fill="#d8ffff" text-anchor="middle">5</text>
<text x="329.7" y="918.4" font-size="9.2" fill="#111" text-anchor="end" transform="rotate(-90 329.7 918.4)" stroke="#111" stroke-width=".22">LGR5</text>
<text x="346.9" y="918.4" font-size="9.2" fill="#111" text-anchor="end" transform="rotate(-90 346.9 918.4)" stroke="#111" stroke-width=".22">OLFM4</text>
<text x="364.2" y="918.4" font-size="9.2" fill="#111" text-anchor="end" transform="rotate(-90 364.2 918.4)" stroke="#111" stroke-width=".22">MKI67</text>
<text x="381.4" y="918.4" font-size="9.2" fill="#111" text-anchor="end" transform="rotate(-90 381.4 918.4)" stroke="#111" stroke-width=".22">TOP2A</text>
<text x="398.7" y="918.4" font-size="9.2" fill="#111" text-anchor="end" transform="rotate(-90 398.7 918.4)" stroke="#111" stroke-width=".22">FABP2</text>
<text x="415.9" y="918.4" font-size="9.2" fill="#111" text-anchor="end" transform="rotate(-90 415.9 918.4)" stroke="#111" stroke-width=".22">ALPI</text>
<text x="433.2" y="918.4" font-size="9.2" fill="#111" text-anchor="end" transform="rotate(-90 433.2 918.4)" stroke="#111" stroke-width=".22">RBP2</text>
<text x="450.4" y="918.4" font-size="9.2" fill="#111" text-anchor="end" transform="rotate(-90 450.4 918.4)" stroke="#111" stroke-width=".22">BEST4</text>
<text x="467.7" y="918.4" font-size="9.2" fill="#111" text-anchor="end" transform="rotate(-90 467.7 918.4)" stroke="#111" stroke-width=".22">SPIB</text>
<text x="484.9" y="918.4" font-size="9.2" fill="#111" text-anchor="end" transform="rotate(-90 484.9 918.4)" stroke="#111" stroke-width=".22">MUC2</text>
<text x="502.2" y="918.4" font-size="9.2" fill="#111" text-anchor="end" transform="rotate(-90 502.2 918.4)" stroke="#111" stroke-width=".22">SPDEF</text>
<text x="519.4" y="918.4" font-size="9.2" fill="#111" text-anchor="end" transform="rotate(-90 519.4 918.4)" stroke="#111" stroke-width=".22">DLL1</text>
<text x="536.7" y="918.4" font-size="9.2" fill="#111" text-anchor="end" transform="rotate(-90 536.7 918.4)" stroke="#111" stroke-width=".22">TRPM5</text>
<text x="553.9" y="918.4" font-size="9.2" fill="#111" text-anchor="end" transform="rotate(-90 553.9 918.4)" stroke="#111" stroke-width=".22">TAS1R3</text>
<text x="571.2" y="918.4" font-size="9.2" fill="#111" text-anchor="end" transform="rotate(-90 571.2 918.4)" stroke="#111" stroke-width=".22">CHGA</text>
<text x="588.4" y="918.4" font-size="9.2" fill="#111" text-anchor="end" transform="rotate(-90 588.4 918.4)" stroke="#111" stroke-width=".22">NEUROD1</text>
<text x="605.7" y="918.4" font-size="9.2" fill="#111" text-anchor="end" transform="rotate(-90 605.7 918.4)" stroke="#111" stroke-width=".22">PAX6</text>
<text x="622.9" y="918.4" font-size="9.2" fill="#111" text-anchor="end" transform="rotate(-90 622.9 918.4)" stroke="#111" stroke-width=".22">ARX</text>
<rect x="636.7" y="810.9" width="7.4" height="102" fill="url(#cbar)" stroke="#111" stroke-width="1"/>
<text x="645.8" y="817.8" font-size="11" fill="#111" stroke="#111" stroke-width=".22">Highest</text>
<text x="646.2" y="910.7" font-size="10.6" fill="#111" stroke="#111" stroke-width=".22">0</text>
<text x="653.8" y="862.9" font-size="8.5" fill="#222" text-anchor="middle" transform="rotate(-90 653.8 862.9)" stroke="#222" stroke-width=".22">Expression Level</text>
<text x="665.5" y="923.4" font-size="7.85" fill="#111" text-anchor="middle" stroke="#111" stroke-width=".22">Percentage of Cells</text>
<text x="665.5" y="932.8" font-size="7.85" fill="#111" text-anchor="middle" stroke="#111" stroke-width=".22">Expressing Marker</text>
<circle cx="639.7" cy="940.7" r="1.4" fill="#8c8c8c" stroke="#444" stroke-width="0.5"/>
<rect x="639.1" y="947.9" width="1.3" height="2.2" fill="#111"/>
<text x="639.7" y="958.9" font-size="8.3" fill="#111" text-anchor="middle" stroke="#111" stroke-width=".22">20</text>
<circle cx="651.7" cy="940.7" r="2.9" fill="#8c8c8c" stroke="#444" stroke-width="0.5"/>
<rect x="651.1" y="947.9" width="1.3" height="2.2" fill="#111"/>
<text x="651.7" y="958.9" font-size="8.3" fill="#111" text-anchor="middle" stroke="#111" stroke-width=".22">40</text>
<circle cx="664" cy="940.7" r="4" fill="#8c8c8c" stroke="#444" stroke-width="0.5"/>
<rect x="663.4" y="947.9" width="1.3" height="2.2" fill="#111"/>
<text x="664" y="958.9" font-size="8.3" fill="#111" text-anchor="middle" stroke="#111" stroke-width=".22">60</text>
<circle cx="676.4" cy="940.7" r="5" fill="#8c8c8c" stroke="#444" stroke-width="0.5"/>
<rect x="675.8" y="947.9" width="1.3" height="2.2" fill="#111"/>
<text x="676.4" y="958.9" font-size="8.3" fill="#111" text-anchor="middle" stroke="#111" stroke-width=".22">80</text>
<circle cx="688.9" cy="940.7" r="6" fill="#8c8c8c" stroke="#444" stroke-width="0.5"/>
<rect x="688.2" y="947.9" width="1.3" height="2.2" fill="#111"/>
<text x="688.9" y="958.9" font-size="8.3" fill="#111" text-anchor="middle" stroke="#111" stroke-width=".22">100</text>
</g>
<g id="panelI">
<text x="3.9" y="975.3" font-size="18.5" fill="#000" font-weight="bold">I</text>
<rect x="27.9" y="962.8" width="31.2" height="302.6" fill="#c6c6c8" stroke="#0a0a0a" stroke-width="1.8"/>
<text x="47.2" y="1118" font-size="18.7" fill="#1a1a1a" text-anchor="middle" transform="rotate(-90 47.2 1118)">100 ng/mL EGF</text>
<rect x="62" y="961.9" width="275.8" height="304.1" fill="#000"/>
<rect x="343.2" y="961.9" width="286.8" height="305.5" fill="#000"/>
<text x="92.7" y="982.4" font-size="16.9"><tspan fill="#9a9a9a">DAPI, </tspan><tspan fill="#e9e950">MKI67, </tspan><tspan fill="#d2202f">MUC2, </tspan><tspan fill="#6fc060">CHGA</tspan></text>
<text x="419" y="982.4" font-size="17.2"><tspan fill="#9fe85a">SI, </tspan><tspan fill="#e62fb4" font-style="italic">LGR5, </tspan><tspan fill="#6da6ea" font-style="italic">OLFM4</tspan></text>
<rect x="62" y="994.4" width="275.8" height="1.8" fill="#fff"/>
<rect x="198.7" y="996.2" width="2.6" height="269.8" fill="#fff"/>
<rect x="62" y="1130.7" width="275.8" height="2.1" fill="#fff"/>
<rect x="343.2" y="994.4" width="286.8" height="1.8" fill="#fff"/>
<rect x="557.7" y="996.2" width="1.5" height="271.2" fill="#fff"/>
<rect x="559.2" y="1085.7" width="70.8" height="1.8" fill="#fff"/>
<rect x="559.2" y="1176.8" width="70.8" height="1.8" fill="#fff"/>
<g transform="translate(134.4 1064.6) scale(1.1)">
<use href="#blobI" fill="#c9c946" filter="url(#b03)"/>
<use href="#blobI" fill="#000" filter="url(#spYb)" opacity=".9"/>
<use href="#blobI" fill="#000" filter="url(#spK)" opacity=".75"/>
</g>
<g transform="translate(273.2 1063.8) scale(1.1)">
<use href="#blobI" fill="#c9c946" filter="url(#b03)"/>
<use href="#blobI" fill="#000" filter="url(#spYb)" opacity=".9"/>
<use href="#blobI" fill="#000" filter="url(#spK)" opacity=".75"/>
</g>
<ellipse cx="272" cy="1201" rx="16" ry="18" fill="#230406" stroke="#2e0609" stroke-width="5" filter="url(#b2)"/>
<ellipse cx="273" cy="1199" rx="4" ry="6" fill="#120203" filter="url(#b1)" transform="rotate(-30 273 1199)"/>
<line x1="170.9" y1="1118.9" x2="191.7" y2="1118.9" stroke="#fff" stroke-width="1.5"/>
<text x="181.4" y="1128.7" font-size="10.1" fill="#fff" text-anchor="middle">100 µm</text>
<text x="195.2" y="1262.2" font-size="10.1" fill="#74c850" text-anchor="end">CHGA</text>
<text x="334" y="1126.8" font-size="10.1" fill="#e4e05a" text-anchor="end">MKI67</text>
<text x="334" y="1262.2" font-size="10.1" fill="#d02030" text-anchor="end">MUC2</text>
<ellipse cx="450.8" cy="1111.8" rx="53" ry="53" fill="#15217a" opacity=".8" filter="url(#b5)"/>
<use href="#sphI" fill="url(#sphG)" filter="url(#b05)"/>
<ellipse cx="455" cy="1114" rx="32" ry="30" fill="#000" filter="url(#spBlue)" opacity=".9"/>
<use href="#sphI" fill="#000" filter="url(#spBlue2)" opacity=".55"/>
<ellipse cx="524.3" cy="1168.9" rx="10.6" ry="13.4" fill="#16030f" stroke="#6a104e" stroke-width="3.4" filter="url(#b1)"/>
<circle cx="594.3" cy="1034.9" r="18.5" fill="#1f39a8" opacity=".8" filter="url(#b2)"/>
<ellipse cx="594.3" cy="1034.9" rx="15.4" ry="15.8" fill="#a9cdf6" filter="url(#b05)"/>
<ellipse cx="594.6" cy="1035.4" rx="11" ry="11" fill="#000" filter="url(#spBlueS)" opacity=".7"/>
<ellipse cx="595.7" cy="1124.3" rx="15" ry="15.2" fill="#d3149a" filter="url(#b05)"/>
<ellipse cx="595.7" cy="1124.3" rx="14.4" ry="14.6" fill="#000" filter="url(#spMag)" opacity=".8"/>
<ellipse cx="597" cy="1125" rx="8" ry="8" fill="#7a0c5c" opacity=".45" filter="url(#b1)"/>
<circle cx="619" cy="1144.3" r="3.4" fill="#2a0620" stroke="#7c1260" stroke-width="1.8" filter="url(#b05)"/>
<g fill="#2e4a1a"><circle cx="590" cy="1205" r=".6"/><circle cx="596" cy="1210" r=".6"/><circle cx="601" cy="1203" r=".6"/><circle cx="587" cy="1214" r=".6"/><circle cx="603" cy="1224" r=".6"/></g>
<text x="626" y="1084" font-size="10.1" fill="#7fb0e6" text-anchor="end" font-style="italic">OLFM4</text>
<text x="626" y="1174.6" font-size="10.4" fill="#b52aa6" text-anchor="end" font-style="italic">LGR5</text>
<text x="625.2" y="1265.8" font-size="10.2" fill="#84c843" text-anchor="end">SI</text>
<line x1="519.4" y1="1248" x2="551.4" y2="1248" stroke="#fff" stroke-width="1.5"/>
<text x="536.6" y="1258.8" font-size="10.1" fill="#fff" text-anchor="middle">100 µm</text>
</g>
</svg>
</body></html>
